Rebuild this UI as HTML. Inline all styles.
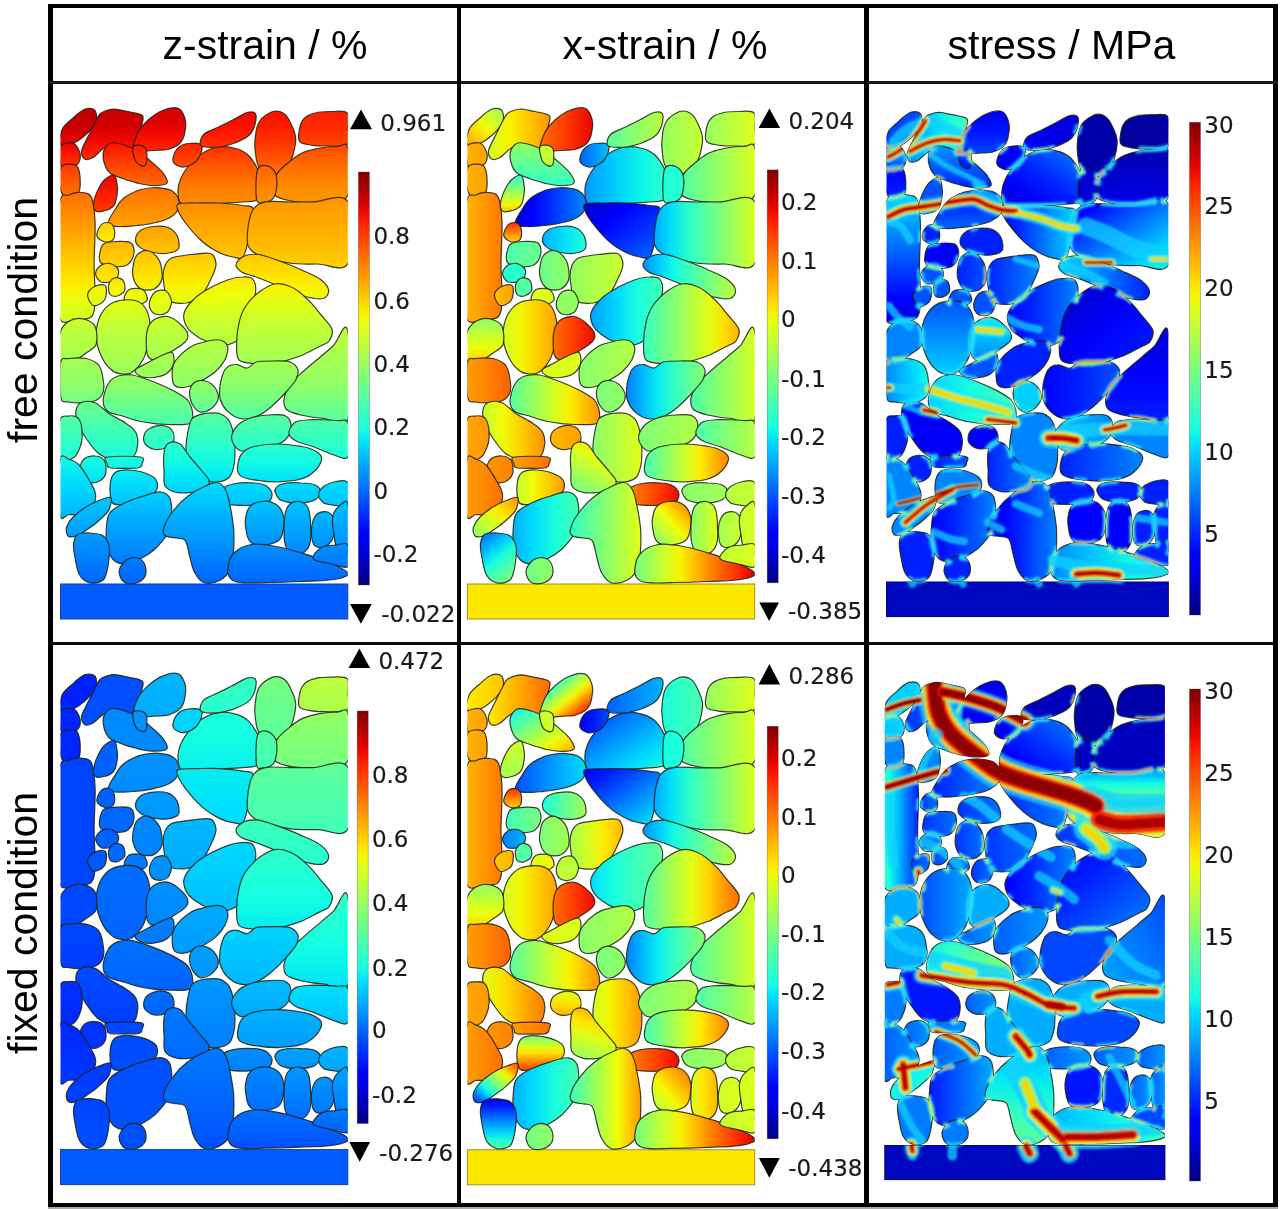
<!DOCTYPE html>
<html><head><meta charset="utf-8"><style>
html,body{margin:0;padding:0;background:#fff;}
body{width:1280px;height:1209px;position:relative;overflow:hidden;font-family:"Liberation Sans",Arial,sans-serif;}
.l{position:absolute;background:#000;}
.h{position:absolute;font-size:41px;line-height:1;white-space:nowrap;color:#000;}
.r{position:absolute;font-size:41px;line-height:1;white-space:nowrap;color:#000;transform-origin:0 0;transform:rotate(-90deg);}
svg{position:absolute;left:0;top:0;}
.w{position:absolute;left:0;top:0;width:1280px;height:1209px;}
</style></head><body>
<div class="w">
<svg width="1280" height="1209" viewBox="0 0 1280 1209"><defs><linearGradient id="gA0" x1="0" y1="0" x2="0" y2="1"><stop offset="0" stop-color="#bd0000"/><stop offset="0.5" stop-color="#c90000"/><stop offset="1" stop-color="#ee0500"/></linearGradient><linearGradient id="gA1" x1="0" y1="0" x2="0" y2="1"><stop offset="0" stop-color="#c90000"/><stop offset="0.33" stop-color="#d20000"/><stop offset="0.67" stop-color="#f40a00"/><stop offset="1" stop-color="#ff2d00"/></linearGradient><linearGradient id="gA2" x1="0" y1="0" x2="0" y2="1"><stop offset="0" stop-color="#d80000"/><stop offset="0.33" stop-color="#de0000"/><stop offset="0.67" stop-color="#f80d00"/><stop offset="1" stop-color="#ff2600"/></linearGradient><linearGradient id="gA3" x1="0" y1="0" x2="0" y2="1"><stop offset="0" stop-color="#e80000"/><stop offset="0.5" stop-color="#ff1900"/><stop offset="1" stop-color="#ff3700"/></linearGradient><linearGradient id="gA4" x1="0" y1="0" x2="0" y2="1"><stop offset="0" stop-color="#ff3300"/><stop offset="0.5" stop-color="#ff5a00"/><stop offset="1" stop-color="#ff7100"/></linearGradient><linearGradient id="gA5" x1="0" y1="0" x2="0" y2="1"><stop offset="0" stop-color="#ff6c00"/><stop offset="0.14" stop-color="#ff8600"/><stop offset="0.29" stop-color="#ffa000"/><stop offset="0.43" stop-color="#ffbb00"/><stop offset="0.57" stop-color="#ffd400"/><stop offset="0.71" stop-color="#feee00"/><stop offset="0.86" stop-color="#e5ff12"/><stop offset="1" stop-color="#cdff2a"/></linearGradient><linearGradient id="gA6" x1="0" y1="0" x2="0" y2="1"><stop offset="0" stop-color="#fd1100"/><stop offset="0.33" stop-color="#ff2f00"/><stop offset="0.67" stop-color="#ff5000"/><stop offset="1" stop-color="#ff6c00"/></linearGradient><linearGradient id="gA7" x1="0" y1="0" x2="0" y2="1"><stop offset="0" stop-color="#ff1800"/><stop offset="1" stop-color="#ff4200"/></linearGradient><linearGradient id="gA8" x1="0" y1="0" x2="0" y2="1"><stop offset="0" stop-color="#e70000"/><stop offset="0.5" stop-color="#ff1d00"/><stop offset="1" stop-color="#ff3500"/></linearGradient><linearGradient id="gA9" x1="0" y1="0" x2="0" y2="1"><stop offset="0" stop-color="#ff7000"/><stop offset="0.5" stop-color="#ff8900"/><stop offset="1" stop-color="#ffa100"/></linearGradient><linearGradient id="gA10" x1="0" y1="0" x2="0" y2="1"><stop offset="0" stop-color="#ff2f00"/><stop offset="0.33" stop-color="#ff5700"/><stop offset="0.67" stop-color="#ff7a00"/><stop offset="1" stop-color="#ff8e00"/></linearGradient><linearGradient id="gA11" x1="0" y1="0" x2="0" y2="1"><stop offset="0" stop-color="#ff1f00"/><stop offset="0.5" stop-color="#ff3600"/><stop offset="1" stop-color="#ff5100"/></linearGradient><linearGradient id="gA12" x1="0" y1="0" x2="0" y2="1"><stop offset="0" stop-color="#f00700"/><stop offset="0.5" stop-color="#ff1400"/><stop offset="1" stop-color="#ff3100"/></linearGradient><linearGradient id="gA13" x1="0" y1="0" x2="0" y2="1"><stop offset="0" stop-color="#fe1200"/><stop offset="0.25" stop-color="#ff1b00"/><stop offset="0.5" stop-color="#ff3600"/><stop offset="0.75" stop-color="#ff5300"/><stop offset="1" stop-color="#ff7200"/></linearGradient><linearGradient id="gA14" x1="0" y1="0" x2="0" y2="1"><stop offset="0" stop-color="#ff1f00"/><stop offset="0.5" stop-color="#ff2a00"/><stop offset="1" stop-color="#ff4700"/></linearGradient><linearGradient id="gA15" x1="0" y1="0" x2="0" y2="1"><stop offset="0" stop-color="#ff4500"/><stop offset="0.33" stop-color="#ff6800"/><stop offset="0.67" stop-color="#ff8700"/><stop offset="1" stop-color="#ff9700"/></linearGradient><linearGradient id="gA16" x1="0" y1="0" x2="0" y2="1"><stop offset="0" stop-color="#ff6100"/><stop offset="0.5" stop-color="#ff8100"/><stop offset="1" stop-color="#ff9200"/></linearGradient><linearGradient id="gA17" x1="0" y1="0" x2="0" y2="1"><stop offset="0" stop-color="#ff8c00"/><stop offset="0.33" stop-color="#ffa000"/><stop offset="0.67" stop-color="#ffb300"/><stop offset="1" stop-color="#ffca00"/></linearGradient><linearGradient id="gA18" x1="0" y1="0" x2="0" y2="1"><stop offset="0" stop-color="#ff9400"/><stop offset="0.25" stop-color="#ffa200"/><stop offset="0.5" stop-color="#ffb000"/><stop offset="0.75" stop-color="#ffbf00"/><stop offset="1" stop-color="#ffd300"/></linearGradient><linearGradient id="gA19" x1="0" y1="0" x2="0" y2="1"><stop offset="0" stop-color="#ffd200"/><stop offset="1" stop-color="#feed00"/></linearGradient><linearGradient id="gA20" x1="0" y1="0" x2="0" y2="1"><stop offset="0" stop-color="#ffa200"/><stop offset="0.5" stop-color="#ffb200"/><stop offset="1" stop-color="#ffc500"/></linearGradient><linearGradient id="gA21" x1="0" y1="0" x2="0" y2="1"><stop offset="0" stop-color="#ffb400"/><stop offset="0.5" stop-color="#ffc600"/><stop offset="1" stop-color="#ffd600"/></linearGradient><linearGradient id="gA22" x1="0" y1="0" x2="0" y2="1"><stop offset="0" stop-color="#ffc200"/><stop offset="0.5" stop-color="#ffdb00"/><stop offset="1" stop-color="#f6f701"/></linearGradient><linearGradient id="gA23" x1="0" y1="0" x2="0" y2="1"><stop offset="0" stop-color="#ffc500"/><stop offset="0.33" stop-color="#ffdb00"/><stop offset="0.67" stop-color="#f9f300"/><stop offset="1" stop-color="#e2ff14"/></linearGradient><linearGradient id="gA24" x1="0" y1="0" x2="0" y2="1"><stop offset="0" stop-color="#ffc700"/><stop offset="0.33" stop-color="#ffda00"/><stop offset="0.67" stop-color="#fdef00"/><stop offset="1" stop-color="#e9ff0e"/></linearGradient><linearGradient id="gA25" x1="0" y1="0" x2="0" y2="1"><stop offset="0" stop-color="#ffd300"/><stop offset="1" stop-color="#ffec00"/></linearGradient><linearGradient id="gA26" x1="0" y1="0" x2="0" y2="1"><stop offset="0" stop-color="#ffe500"/><stop offset="1" stop-color="#ecff0b"/></linearGradient><linearGradient id="gA27" x1="0" y1="0" x2="0" y2="1"><stop offset="0" stop-color="#f9f300"/><stop offset="1" stop-color="#dfff18"/></linearGradient><linearGradient id="gA28" x1="0" y1="0" x2="0" y2="1"><stop offset="0" stop-color="#f4f802"/><stop offset="1" stop-color="#dfff17"/></linearGradient><linearGradient id="gA29" x1="0" y1="0" x2="0" y2="1"><stop offset="0" stop-color="#f3fa04"/><stop offset="0.5" stop-color="#e3ff14"/><stop offset="1" stop-color="#d3ff24"/></linearGradient><linearGradient id="gA30" x1="0" y1="0" x2="0" y2="1"><stop offset="0" stop-color="#ffe400"/><stop offset="0.25" stop-color="#efff08"/><stop offset="0.5" stop-color="#d8ff1f"/><stop offset="0.75" stop-color="#c1ff36"/><stop offset="1" stop-color="#b1ff45"/></linearGradient><linearGradient id="gA31" x1="0" y1="0" x2="0" y2="1"><stop offset="0" stop-color="#e6ff11"/><stop offset="0.25" stop-color="#cdff29"/><stop offset="0.5" stop-color="#b7ff40"/><stop offset="0.75" stop-color="#a9ff4d"/><stop offset="1" stop-color="#98ff5f"/></linearGradient><linearGradient id="gA32" x1="0" y1="0" x2="0" y2="1"><stop offset="0" stop-color="#d0ff27"/><stop offset="0.33" stop-color="#bdff39"/><stop offset="0.67" stop-color="#b2ff45"/><stop offset="1" stop-color="#a6ff51"/></linearGradient><linearGradient id="gA33" x1="0" y1="0" x2="0" y2="1"><stop offset="0" stop-color="#cdff2a"/><stop offset="0.33" stop-color="#bbff3c"/><stop offset="0.67" stop-color="#b1ff46"/><stop offset="1" stop-color="#a5ff52"/></linearGradient><linearGradient id="gA34" x1="0" y1="0" x2="0" y2="1"><stop offset="0" stop-color="#fdef00"/><stop offset="0.25" stop-color="#e1ff15"/><stop offset="0.5" stop-color="#c7ff30"/><stop offset="0.75" stop-color="#b2ff44"/><stop offset="1" stop-color="#a2ff55"/></linearGradient><linearGradient id="gA35" x1="0" y1="0" x2="0" y2="1"><stop offset="0" stop-color="#beff39"/><stop offset="0.2" stop-color="#afff47"/><stop offset="0.4" stop-color="#a0ff57"/><stop offset="0.6" stop-color="#8fff68"/><stop offset="0.8" stop-color="#70ff87"/><stop offset="1" stop-color="#51ffa6"/></linearGradient><linearGradient id="gA36" x1="0" y1="0" x2="0" y2="1"><stop offset="0" stop-color="#a7ff50"/><stop offset="0.33" stop-color="#99ff5e"/><stop offset="0.67" stop-color="#8aff6c"/><stop offset="1" stop-color="#6eff89"/></linearGradient><linearGradient id="gA37" x1="0" y1="0" x2="0" y2="1"><stop offset="0" stop-color="#97ff60"/><stop offset="0.33" stop-color="#83ff74"/><stop offset="0.67" stop-color="#63ff94"/><stop offset="1" stop-color="#48ffaf"/></linearGradient><linearGradient id="gA38" x1="0" y1="0" x2="0" y2="1"><stop offset="0" stop-color="#acff4a"/><stop offset="0.5" stop-color="#a1ff56"/><stop offset="1" stop-color="#95ff62"/></linearGradient><linearGradient id="gA39" x1="0" y1="0" x2="0" y2="1"><stop offset="0" stop-color="#b5ff42"/><stop offset="0.33" stop-color="#a9ff4d"/><stop offset="0.67" stop-color="#9bff5c"/><stop offset="1" stop-color="#8cff6b"/></linearGradient><linearGradient id="gA40" x1="0" y1="0" x2="0" y2="1"><stop offset="0" stop-color="#92ff65"/><stop offset="0.5" stop-color="#7aff7d"/><stop offset="1" stop-color="#5cff9b"/></linearGradient><linearGradient id="gA41" x1="0" y1="0" x2="0" y2="1"><stop offset="0" stop-color="#a4ff52"/><stop offset="0.33" stop-color="#92ff65"/><stop offset="0.67" stop-color="#73ff83"/><stop offset="1" stop-color="#51ffa6"/></linearGradient><linearGradient id="gA42" x1="0" y1="0" x2="0" y2="1"><stop offset="0" stop-color="#6eff88"/><stop offset="0.33" stop-color="#4dffaa"/><stop offset="0.67" stop-color="#2fffc8"/><stop offset="1" stop-color="#14fee3"/></linearGradient><linearGradient id="gA43" x1="0" y1="0" x2="0" y2="1"><stop offset="0" stop-color="#55ffa1"/><stop offset="0.33" stop-color="#40ffb7"/><stop offset="0.67" stop-color="#2bffcc"/><stop offset="1" stop-color="#17ffe0"/></linearGradient><linearGradient id="gA44" x1="0" y1="0" x2="0" y2="1"><stop offset="0" stop-color="#47ffb0"/><stop offset="0.5" stop-color="#35ffc2"/><stop offset="1" stop-color="#24ffd3"/></linearGradient><linearGradient id="gA45" x1="0" y1="0" x2="0" y2="1"><stop offset="0" stop-color="#59ff9e"/><stop offset="0.25" stop-color="#3fffb8"/><stop offset="0.5" stop-color="#26ffd1"/><stop offset="0.75" stop-color="#0ff8e8"/><stop offset="1" stop-color="#00defd"/></linearGradient><linearGradient id="gA46" x1="0" y1="0" x2="0" y2="1"><stop offset="0" stop-color="#57ffa0"/><stop offset="0.5" stop-color="#3cffbb"/><stop offset="1" stop-color="#22ffd4"/></linearGradient><linearGradient id="gA47" x1="0" y1="0" x2="0" y2="1"><stop offset="0" stop-color="#50ffa7"/><stop offset="0.5" stop-color="#34ffc3"/><stop offset="1" stop-color="#1affdd"/></linearGradient><linearGradient id="gA48" x1="0" y1="0" x2="0" y2="1"><stop offset="0" stop-color="#2bffcc"/><stop offset="0.5" stop-color="#11fbe6"/><stop offset="1" stop-color="#00defd"/></linearGradient><linearGradient id="gA49" x1="0" y1="0" x2="0" y2="1"><stop offset="0" stop-color="#1affdc"/><stop offset="0.5" stop-color="#0af2ed"/><stop offset="1" stop-color="#00defd"/></linearGradient><linearGradient id="gA50" x1="0" y1="0" x2="0" y2="1"><stop offset="0" stop-color="#16ffe1"/><stop offset="0.33" stop-color="#00e4f8"/><stop offset="0.67" stop-color="#00ccff"/><stop offset="1" stop-color="#00b4ff"/></linearGradient><linearGradient id="gA51" x1="0" y1="0" x2="0" y2="1"><stop offset="0" stop-color="#09f0ee"/><stop offset="0.5" stop-color="#00d7ff"/><stop offset="1" stop-color="#00c2ff"/></linearGradient><linearGradient id="gA52" x1="0" y1="0" x2="0" y2="1"><stop offset="0" stop-color="#2dffca"/><stop offset="0.33" stop-color="#16ffe1"/><stop offset="0.67" stop-color="#01e7f6"/><stop offset="1" stop-color="#00d0ff"/></linearGradient><linearGradient id="gA53" x1="0" y1="0" x2="0" y2="1"><stop offset="0" stop-color="#00ddfe"/><stop offset="0.5" stop-color="#00ceff"/><stop offset="1" stop-color="#00c0ff"/></linearGradient><linearGradient id="gA54" x1="0" y1="0" x2="0" y2="1"><stop offset="0" stop-color="#00ddfe"/><stop offset="0.5" stop-color="#00d0ff"/><stop offset="1" stop-color="#00c3ff"/></linearGradient><linearGradient id="gA55" x1="0" y1="0" x2="0" y2="1"><stop offset="0" stop-color="#00defd"/><stop offset="0.5" stop-color="#00cfff"/><stop offset="1" stop-color="#00c0ff"/></linearGradient><linearGradient id="gA56" x1="0" y1="0" x2="0" y2="1"><stop offset="0" stop-color="#00caff"/><stop offset="0.5" stop-color="#00b2ff"/><stop offset="1" stop-color="#009bff"/></linearGradient><linearGradient id="gA57" x1="0" y1="0" x2="0" y2="1"><stop offset="0" stop-color="#00d1ff"/><stop offset="0.25" stop-color="#00baff"/><stop offset="0.5" stop-color="#00a4ff"/><stop offset="0.75" stop-color="#008fff"/><stop offset="1" stop-color="#0078ff"/></linearGradient><linearGradient id="gA58" x1="0" y1="0" x2="0" y2="1"><stop offset="0" stop-color="#00ddfe"/><stop offset="0.17" stop-color="#00c8ff"/><stop offset="0.33" stop-color="#00b2ff"/><stop offset="0.5" stop-color="#009fff"/><stop offset="0.67" stop-color="#008cff"/><stop offset="0.83" stop-color="#0076ff"/><stop offset="1" stop-color="#0066ff"/></linearGradient><linearGradient id="gA59" x1="0" y1="0" x2="0" y2="1"><stop offset="0" stop-color="#00c5ff"/><stop offset="0.33" stop-color="#00b2ff"/><stop offset="0.67" stop-color="#00a1ff"/><stop offset="1" stop-color="#0090ff"/></linearGradient><linearGradient id="gA60" x1="0" y1="0" x2="0" y2="1"><stop offset="0" stop-color="#00c5ff"/><stop offset="0.33" stop-color="#00afff"/><stop offset="0.67" stop-color="#009bff"/><stop offset="1" stop-color="#0086ff"/></linearGradient><linearGradient id="gA61" x1="0" y1="0" x2="0" y2="1"><stop offset="0" stop-color="#00b8ff"/><stop offset="0.5" stop-color="#00a3ff"/><stop offset="1" stop-color="#008fff"/></linearGradient><linearGradient id="gA62" x1="0" y1="0" x2="0" y2="1"><stop offset="0" stop-color="#00c1ff"/><stop offset="0.33" stop-color="#00adff"/><stop offset="0.67" stop-color="#009aff"/><stop offset="1" stop-color="#0087ff"/></linearGradient><linearGradient id="gA63" x1="0" y1="0" x2="0" y2="1"><stop offset="0" stop-color="#009eff"/><stop offset="0.33" stop-color="#008bff"/><stop offset="0.67" stop-color="#0075ff"/><stop offset="1" stop-color="#0066ff"/></linearGradient><linearGradient id="gA64" x1="0" y1="0" x2="0" y2="1"><stop offset="0" stop-color="#0081ff"/><stop offset="0.5" stop-color="#0070ff"/><stop offset="1" stop-color="#0066ff"/></linearGradient><linearGradient id="gA65" x1="0" y1="0" x2="0" y2="1"><stop offset="0" stop-color="#0091ff"/><stop offset="0.5" stop-color="#0079ff"/><stop offset="1" stop-color="#0066ff"/></linearGradient><linearGradient id="gA66" x1="0" y1="0" x2="0" y2="1"><stop offset="0" stop-color="#0091ff"/><stop offset="0.5" stop-color="#0083ff"/><stop offset="1" stop-color="#0075ff"/></linearGradient><linearGradient id="gA67" x1="0" y1="0" x2="0" y2="1"><stop offset="0" stop-color="#19ffde"/><stop offset="1" stop-color="#0bf3ec"/></linearGradient><clipPath id="pcA"><rect x="467.4" y="90" width="287.3" height="540"/></clipPath></defs><g transform="translate(60.50 584.00) scale(1.0000 1.0000) translate(-467.40 -584.00)"><rect x="467.4" y="584" width="287.3" height="35" fill="#005cff" stroke="#1040a0" stroke-width="1"/><g clip-path="url(#pcA)"><g transform="scale(.5)" stroke="#1c2010" stroke-width="2.4" stroke-opacity="0.85"><path d="M933 277c1-6 3-15 7-22 5-7 13-13 20-19 7-7 17-15 24-18 8-2 16-1 20 3 3 4 4 15 2 22 -2 7-9 14-14 20 -6 6-13 12-20 17 -6 4-13 8-19 9 -6 2-14 2-17 0 -3-2-4-6-3-12z" fill="url(#gA0)"/><path d="M977 301c2-8 10-22 15-32 5-10 10-21 14-28 4-7 4-11 10-15 6-4 16-7 25-8 9 0 20 4 29 5 8 2 17 3 22 5 5 2 9 2 8 9 0 7-7 24-9 34 -3 10-1 20-5 25 -5 5-12 5-21 5 -10 0-26-9-37-7 -11 2-21 17-28 21 -7 4-13 5-17 3 -4-3-7-9-6-17z" fill="url(#gA1)"/><path d="M1080 295c0-6 6-22 10-31 5-9 12-17 20-24 8-7 19-15 29-19 9-4 23-7 30-5 7 2 10 8 13 16 3 7 4 20 2 29 -1 9-4 19-10 25 -5 6-15 10-24 13 -9 2-19 1-29 2 -10 1-22 2-29 1 -7-1-11-1-12-7z" fill="url(#gA2)"/><path d="M933 292c5-5 21-8 27-6 7 3 12 14 14 21 1 7 0 17-6 22 -6 4-24 8-30 5 -5-2-4-14-5-21 -1-7-4-17 0-21z" fill="url(#gA3)"/><path d="M936 334c5-7 23-7 30-3 6 3 7 14 8 23 0 9 2 24-3 31 -5 6-21 11-27 8 -7-3-10-14-11-24 -1-10-3-29 3-35z" fill="url(#gA4)"/><path d="M933 405c4-23 11-12 18-15 7-4 17-6 25-5 8 1 16 0 21 10 4 10 6 26 7 49 1 22-2 58-2 84 0 26 3 53 2 71 -1 17-1 28-8 35 -6 6-19 4-30 5 -10 0-27 15-33-3 -6-18-2-69-2-108 0-38-1-100 2-123z" fill="url(#gA5)"/><path d="M1020 307c1-9 8-18 15-21 8-2 21 2 30 5 10 3 20 8 29 15 10 6 21 16 29 23 8 7 15 13 19 20 4 6 8 13 6 17 -3 4-13 5-22 5 -10 1-23-2-34-4 -11-3-23-6-33-10 -10-4-23-6-29-15 -7-8-11-25-10-35z" fill="url(#gA6)"/><path d="M1080 293c3-5 21-3 25 3 4 6 3 30 0 34 -3 5-15 0-19-6 -4-6-9-26-6-31z" fill="url(#gA7)"/><path d="M1001 406c1-7 6-21 10-29 4-8 9-16 15-20 5-4 13-9 17-6 4 4 5 18 6 27 0 9-3 23-5 29 -3 7-5 8-11 11 -6 3-21 7-26 5 -6-2-7-9-6-17z" fill="url(#gA8)"/><path d="M1030 448c-1-6 8-20 14-29 5-9 11-18 19-24 8-7 19-11 29-15 10-3 23-5 34-5 10 1 21 2 29 5 7 4 13 9 15 16 3 7 1 19-2 26 -3 6-10 11-18 15 -7 4-18 7-29 9 -10 3-22 4-33 5 -11 1-23 3-33 2 -10 0-23 1-25-5z" fill="url(#gA9)"/><path d="M1170 388c-1-9 1-21 5-30 3-8 8-16 14-24 7-8 15-17 24-24 9-6 18-12 29-14 11-3 28-3 39 0 11 2 21 7 29 14 8 8 15 19 20 30 4 10 9 24 9 34 0 10-3 20-10 25 -7 5-17 4-30 5 -13 1-31 2-47 3 -15 0-34 1-47 2 -12 0-21 3-27 0 -6-4-8-13-8-21z" fill="url(#gA10)"/><path d="M1160 323c-2-5 2-16 5-21 4-6 9-11 16-13 6-3 19-3 25-3 6 1 11 2 12 6 1 5-2 16-6 22 -3 6-9 12-15 15 -6 3-14 6-20 5 -7-1-15-6-17-11z" fill="url(#gA11)"/><path d="M1214 288c0-5 2-14 8-20 6-5 19-9 29-14 9-5 19-9 28-14 10-5 21-13 29-15 8-2 15-1 17 3 3 5 0 17-2 24 -3 8-6 15-13 20 -7 6-19 11-29 15 -9 3-19 6-29 7 -9 1-22 1-29 0 -6-1-9-2-9-6z" fill="url(#gA12)"/><path d="M1325 270c1-11 4-22 9-29 6-8 18-15 25-18 8-2 15-1 21 3 6 3 11 11 15 20 4 8 9 18 10 29 1 10-2 23-5 34 -3 10-8 22-15 29 -6 7-17 10-25 10 -9 0-20-3-26-10 -5-7-8-18-9-30 -2-11-2-27 0-38z" fill="url(#gA13)"/><path d="M1411 270c1-7 2-22 8-29 5-8 15-13 25-15 9-3 22-3 33-3 11 0 25-3 31 3 5 5 2 20 2 30 0 11 6 27-2 33 -8 6-32 3-45 3 -13 0-25-1-33-3 -8-1-13-2-16-5 -3-3-4-6-3-14z" fill="url(#gA14)"/><path d="M1360 378c0-7 2-20 7-29 5-9 15-17 24-24 9-8 18-15 29-20 10-4 22-7 33-9 11-2 24-3 34-3 9 1 19-13 23 3 4 16 7 76 0 93 -7 18-26 10-42 13 -16 2-38 3-52 2 -14 0-24-2-33-5 -9-2-17-6-21-10 -3-3-3-4-2-11z" fill="url(#gA15)"/><path d="M1329 339c4-11 16-9 23-6 6 3 14 11 15 21 2 10 0 31-5 40 -4 8-15 10-21 10 -6 1-12 6-14-5 -2-11-2-49 2-60z" fill="url(#gA16)"/><path d="M1169 409c6-4 22-3 36-3 14 0 32-1 47 0 16 1 36 3 48 5 11 2 18-1 21 8 2 8-4 29-8 44 -3 16-6 40-12 49 -5 8-12 4-21 2 -9-1-23-6-34-12 -11-6-23-14-33-24 -10-9-22-24-29-33 -6-8-9-13-12-19 -2-6-8-14-3-17z" fill="url(#gA17)"/><path d="M1310 453c2-12 4-26 10-34 6-9 13-13 25-15 12-3 32 0 48 0 15 0 27 0 47 0 19 0 58-21 70 0 12 20 10 101 0 122 -10 21-41 2-61 2 -20 0-38 1-57-2 -19-3-43-9-57-14 -13-6-20-10-25-20 -4-10-1-27 0-39z" fill="url(#gA18)"/><path d="M1008 473c-2-5 2-15 5-19 3-5 9-9 14-9 5 0 12 3 14 9 3 6 3 19 0 24 -2 5-11 7-17 6 -5-1-14-6-16-11z" fill="url(#gA19)"/><path d="M1085 476c1-5 5-12 11-16 6-4 16-6 25-7 9-1 21-1 29 2 8 3 14 9 18 16 3 7 6 20 3 26 -4 6-16 9-26 10 -10 1-25-2-34-4 -9-3-16-6-20-11 -5-4-7-10-6-16z" fill="url(#gA20)"/><path d="M1013 509c1-6 2-16 8-21 5-4 15-4 25-5 9 0 24-2 30 3 6 4 7 17 5 24 -1 7-7 17-15 21 -8 3-21 3-30 2 -8-1-17-4-21-8 -3-4-3-10-2-16z" fill="url(#gA21)"/><path d="M1081 528c1-9 5-17 10-21 5-4 14-8 21-5 7 2 16 11 21 20 4 9 6 26 5 35 -2 9-9 17-16 21 -7 3-19 3-26 0 -7-4-13-13-15-21 -3-8-2-21 0-29z" fill="url(#gA22)"/><path d="M1142 537c2-9 6-16 15-21 9-4 26-5 39-7 13-1 31-5 39-2 8 3 10 12 11 21 0 8-5 19-10 29 -5 11-11 26-20 34 -8 8-18 13-29 15 -11 1-28 1-35-5 -8-6-9-20-10-30 -2-11-3-25 0-34z" fill="url(#gA23)"/><path d="M1286 528c1-6 9-13 17-16 7-4 18-4 29-3 11 2 24 7 38 12 14 5 33 12 47 19 14 6 29 12 38 19 9 7 15 14 16 21 1 6-3 15-11 17 -9 2-25-1-40-5 -14-4-31-13-47-19 -16-7-34-14-47-19 -12-5-22-5-29-10 -6-4-12-11-11-16z" fill="url(#gA24)"/><path d="M1005 547c0-6 6-13 11-17 6-3 16-4 21-2 6 2 13 8 14 14 1 5-2 15-8 19 -6 4-20 5-27 3 -6-3-11-12-11-17z" fill="url(#gA25)"/><path d="M1031 570c2-6 7-13 12-14 4-2 14 1 17 5 3 5 5 15 3 20 -2 5-9 9-14 11 -5 1-12 1-15-3 -3-4-4-14-3-19z" fill="url(#gA26)"/><path d="M989 589c1-7 10-14 16-17 6-2 17-4 20 0 3 5 2 22-2 28 -5 7-17 13-23 11 -5-2-12-16-11-22z" fill="url(#gA27)"/><path d="M1062 598c0-5 4-15 10-19 7-3 21-3 27 0 6 4 11 15 9 21 -2 5-13 9-19 10 -7 2-17 2-21 0 -5-2-7-6-6-12z" fill="url(#gA28)"/><path d="M1113 603c2-7 6-15 11-19 5-3 16-6 22-2 5 3 10 14 11 21 0 7-4 17-8 21 -5 4-14 6-19 5 -6 0-11-3-14-8 -3-4-4-12-3-18z" fill="url(#gA29)"/><path d="M1181 631c1-8 6-17 13-25 7-8 17-17 29-24 11-7 25-14 38-19 12-5 28-9 38-9 10-1 17 0 21 5 4 5 6 15 5 25 -1 11-5 26-9 39 -4 12-9 27-15 38 -5 10-10 19-19 24 -9 5-24 7-35 5 -11-1-24-9-34-14 -9-6-19-12-24-20 -5-7-8-17-8-25z" fill="url(#gA30)"/><path d="M1006 669c0-13 4-29 9-39 6-11 14-20 25-25 11-5 29-6 39-5 11 2 20 7 25 15 6 9 9 22 10 35 1 12-2 28-5 40 -2 11-4 20-9 29 -5 9-13 19-20 24 -6 5-13 6-20 5 -8 0-18-3-25-10 -8-6-15-17-20-29 -5-11-9-27-9-40z" fill="url(#gA31)"/><path d="M1109 658c3-10 8-16 15-20 7-4 17-6 25-5 9 2 19 9 25 15 7 6 14 14 15 20 2 6 0 11-5 16 -5 5-16 12-24 17 -8 5-17 11-24 14 -8 3-17 6-21 3 -5-3-8-9-8-19 -1-10-1-30 2-41z" fill="url(#gA32)"/><path d="M933 668c3-13 10-20 18-25 8-5 21-7 30-5 9 2 19 7 23 15 4 9 5 27 2 36 -3 8-13 12-20 17 -6 4-10 9-19 12 -9 2-28 11-34 2 -6-8-3-39 0-52z" fill="url(#gA33)"/><path d="M1292 645c3-13 7-24 14-34 7-10 19-22 29-29 10-7 19-13 29-14 10-2 19 0 30 5 10 4 23 14 33 24 11 9 20 22 29 33 8 10 19 20 22 29 2 8-2 17-6 23 -3 5-8 5-17 10 -9 4-24 13-38 19 -14 5-31 11-47 14 -16 3-35 3-48 2 -13-1-24-1-30-7 -6-7-5-18-5-31 0-12 2-31 5-44z" fill="url(#gA34)"/><path d="M1509 661c6 24 9 147 1 176 -8 30-31 1-47 0 -16-1-35-4-48-7 -12-3-24-6-29-12 -6-7-5-18-3-26 2-8 6-16 12-24 6-9 15-16 24-24 10-9 23-20 33-28 10-9 18-15 28-24 10-9 24-55 29-31z" fill="url(#gA35)"/><path d="M935 725c3-13 8-6 17-8 8-1 24-2 34 0 9 2 19 6 25 13 5 7 8 19 9 29 2 10 2 23-2 30 -4 8-12 13-23 15 -11 3-34 2-44 0 -10-1-13 3-16-10 -2-13-2-56 0-69z" fill="url(#gA36)"/><path d="M1020 802c0-9 5-26 10-34 5-9 11-13 20-16 8-2 17-4 29-2 12 2 29 9 43 14 13 5 26 11 38 17 11 6 22 12 29 19 6 8 9 17 10 25 0 8 3 18-6 22 -8 4-29 2-44 2 -15 0-32-2-47-5 -15-2-31-8-43-12 -12-3-22-4-29-9 -7-5-10-12-10-21z" fill="url(#gA37)"/><path d="M1084 740c2-4 17-10 26-15 9-5 21-11 29-15 8-3 16-8 19-5 4 3 5 15 3 23 -2 7-8 15-15 20 -7 4-17 6-25 7 -8 1-19 0-25-2 -6-3-14-8-12-13z" fill="url(#gA38)"/><path d="M1158 745c0-8 2-16 7-24 6-8 16-18 25-24 9-7 18-10 29-12 10-3 25-7 34-5 8 1 14 7 16 13 2 7-1 17-5 26 -4 8-11 17-19 24 -8 7-20 14-29 19 -10 5-20 10-29 12 -9 2-19 2-24-3 -5-4-5-17-5-26z" fill="url(#gA39)"/><path d="M1193 783c1-8 5-15 11-19 5-3 14-4 21-2 7 2 16 9 20 15 4 6 7 14 5 21 -1 7-9 16-15 20 -6 5-15 7-21 6 -6-2-12-9-16-16 -3-7-6-18-5-25z" fill="url(#gA40)"/><path d="M1254 769c2-10 5-23 10-30 5-7 13-10 21-10 7-1 16 8 23 7 7-1 10-9 18-12 9-2 23-2 34-2 11 0 26-1 34 2 8 3 14 10 16 16 1 6-1 13-5 21 -5 7-12 15-20 24 -8 9-19 20-28 28 -10 8-18 15-29 19 -10 5-24 7-34 5 -10-1-18-8-25-14 -7-7-12-16-15-25 -2-9-1-20 0-29z" fill="url(#gA41)"/><path d="M966 820c1-8 7-14 13-16 7-2 17-2 26 2 9 4 18 15 28 22 11 7 24 12 33 19 9 6 16 11 20 19 4 9 4 22 2 30 -1 9-5 16-12 21 -8 4-20 6-30 5 -11-2-25-8-35-15 -9-7-17-19-24-29 -6-9-13-19-16-28 -4-10-7-22-5-30z" fill="url(#gA42)"/><path d="M933 843c3-15 13-10 19-11 6-1 14-1 19 5 4 6 7 20 7 30 1 10-1 21-5 30 -3 8-8 17-15 20 -7 3-21 12-25 0 -4-12-3-60 0-74z" fill="url(#gA43)"/><path d="M1102 871c1-5 6-12 13-15 6-4 18-6 25-5 7 1 15 5 18 10 4 6 5 16 3 22 -2 5-9 10-16 13 -6 2-18 4-25 2 -7-1-12-6-16-10 -3-5-4-11-2-17z" fill="url(#gA44)"/><path d="M1189 867c2-11 4-23 9-30 6-6 16-8 25-10 10-1 22-2 30 0 8 3 15 7 20 16 5 9 8 25 10 38 1 14 1 31 0 43 -2 12-4 23-10 30 -6 6-16 9-25 10 -9 1-21 0-30-5 -9-5-19-15-25-25 -5-9-6-22-7-34 -1-11 1-22 3-33z" fill="url(#gA45)"/><path d="M1277 877c-1-8 5-19 11-25 5-7 14-11 24-15 11-4 26-6 38-7 13-1 28-2 35 2 8 4 11 14 11 21 0 8-4 19-11 26 -6 6-18 11-29 14 -10 4-23 6-33 8 -11 1-23 3-30 0 -8-4-15-16-16-24z" fill="url(#gA46)"/><path d="M1392 862c2-5 5-14 13-18 8-4 21-4 35-5 13 0 35 1 47 2 12 2 19-6 23 6 4 12 6 56 0 66 -5 10-22-2-34-5 -11-4-26-11-37-15 -11-4-21-6-29-9 -7-3-12-7-15-10 -3-4-4-7-3-12z" fill="url(#gA47)"/><path d="M1289 933c1-7 2-18 8-25 5-7 13-12 25-15 12-3 31-5 47-5 16 0 35 3 48 5 13 2 22 5 29 10 7 4 12 9 11 16 -1 7-8 19-16 25 -7 7-17 12-29 15 -12 3-29 4-43 5 -13 0-27-1-38-3 -10-1-17-2-23-4 -7-2-13-4-16-8 -3-4-4-9-3-16z" fill="url(#gA48)"/><path d="M973 937c1-6 5-16 10-20 5-4 15-6 21-5 7 0 15 4 19 10 3 6 4 19 2 26 -2 7-9 13-16 16 -6 2-15 2-20 0 -6-2-11-6-13-11 -3-4-4-10-3-16z" fill="url(#gA49)"/><path d="M933 921c3-18 13-4 20-2 6 1 13 5 20 12 6 7 14 20 19 29 5 9 10 16 12 24 2 8 1 18-3 25 -3 8-11 15-20 18 -8 3-21 2-29 2 -8 1-16 18-19 0 -3-18-3-89 0-108z" fill="url(#gA50)"/><path d="M1034 970c1-10 3-20 10-25 7-5 19-6 30-5 12 1 30 5 39 10 9 4 14 9 15 15 2 6 0 15-5 21 -5 6-15 12-25 15 -9 4-23 7-33 7 -10 1-21 4-26-2 -5-7-6-26-5-36z" fill="url(#gA51)"/><path d="M1142 904c1-9 5-16 10-18 6-3 15-2 22 2 7 5 12 16 19 25 7 8 17 20 24 28 6 8 13 14 15 20 1 6 0 12-6 16 -6 5-20 7-30 8 -10 1-20 2-29 0 -9-2-19-6-23-13 -4-7-2-18-2-29 -1-12-2-29 0-39z" fill="url(#gA52)"/><path d="M1259 978c3-4 10-8 21-10 10-2 31-3 43-2 11 0 19 3 25 7 5 4 10 11 10 16 0 6-2 13-11 17 -8 3-26 4-39 5 -13 0-30 0-38-3 -9-2-9-8-11-13 -2-5-4-12 0-17z" fill="url(#gA53)"/><path d="M1364 979c2-4 5-9 14-11 8-2 27-3 38-2 12 0 24 1 30 5 6 3 9 9 9 14 -1 5-6 13-14 16 -8 4-24 5-34 5 -11 0-23-2-30-5 -6-2-8-7-10-10 -2-4-5-8-3-12z" fill="url(#gA54)"/><path d="M1451 989c0-5 4-11 10-16 6-4 17-9 25-10 8-1 20-5 24 3 4 8 4 37 0 45 -4 7-16 1-24 0 -8-1-19-2-25-5 -5-4-10-11-10-17z" fill="url(#gA55)"/><path d="M947 1054c2-6 6-13 13-20 6-6 15-13 24-19 8-5 20-11 28-14 9-3 20-9 23-6 3 3 0 16-3 24 -3 7-10 13-17 19 -7 7-16 14-24 19 -8 6-17 12-24 15 -7 2-14 3-17 0 -3-3-5-11-3-18z" fill="url(#gA56)"/><path d="M1027 1050c1-11 1-17 7-25 6-7 18-14 29-19 12-6 26-11 38-14 12-4 26-9 35-8 8 1 14 5 18 13 3 9 4 27 2 40 -1 12-4 23-9 33 -6 11-16 21-24 29 -9 8-19 14-29 19 -10 5-20 10-29 10 -10 0-20-3-26-10 -6-7-10-18-12-30 -2-11-1-28 0-38z" fill="url(#gA57)"/><path d="M1142 1055c2-9 11-24 19-34 8-11 18-21 29-29 10-8 23-15 33-19 10-5 18-9 25-8 7 1 12 6 16 13 4 7 7 17 9 30 3 12 6 31 8 47 1 16 1 33 0 47 -2 14-3 29-8 39 -4 9-11 15-20 20 -8 4-21 7-30 5 -8-3-15-12-20-21 -5-9-7-22-10-33 -3-11-4-25-9-31 -4-6-10-3-17-5 -7-1-18-1-23-5 -4-3-5-8-2-16z" fill="url(#gA58)"/><path d="M1306 1031c1-8 5-16 10-20 5-5 13-7 20-8 8-1 18-1 25 3 7 3 15 12 18 20 3 8 4 20 2 29 -1 10-3 20-10 26 -6 5-20 9-30 9 -9 1-19 0-25-5 -6-5-9-16-10-25 -2-9-2-21 0-29z" fill="url(#gA59)"/><path d="M1383 1036c1-12 3-20 8-25 4-6 14-9 21-8 7 1 14 4 18 13 4 9 5 27 5 39 1 12 1 25-2 34 -3 9-9 15-16 18 -6 3-15 4-21 0 -6-4-11-11-13-23 -2-12-1-36 0-48z" fill="url(#gA60)"/><path d="M1437 1055c1-10 5-21 10-26 5-5 16-7 22-5 6 2 11 8 13 16 2 9 1 26-2 35 -3 9-10 15-16 18 -6 2-17 4-22-3 -5-6-6-25-5-35z" fill="url(#gA61)"/><path d="M1479 1036c1-9 5-16 10-21 6-4 18-21 21-6 4 15 4 81 0 96 -3 15-16 0-21-6 -5-6-6-19-7-30 -2-10-4-24-3-33z" fill="url(#gA62)"/><path d="M961 1087c1-8 3-15 8-18 6-4 17-3 25-3 9 1 19 1 25 5 7 5 11 11 13 21 2 10 0 27-2 39 -2 11-4 24-10 29 -6 6-19 7-26 6 -8-2-16-7-21-16 -5-8-7-23-9-34 -2-10-4-21-3-29z" fill="url(#gA63)"/><path d="M1052 1144c0-7 6-16 11-21 5-5 14-8 21-8 6 1 15 5 18 11 4 6 5 17 3 24 -2 6-9 13-16 15 -7 3-20 4-26 0 -6-3-11-14-11-21z" fill="url(#gA64)"/><path d="M1271 1130c1-9 5-19 12-25 7-7 19-13 29-15 11-3 21-2 34 0 14 1 32 5 47 9 16 4 33 10 47 14 15 5 27 9 38 15 12 5 29 13 32 18 3 5-5 7-13 10 -8 2-20 4-34 5 -13 1-27 1-47 2 -19 1-50 2-70 2 -21 1-40 2-52 0 -12-1-17-4-21-10 -4-6-4-17-2-25z" fill="url(#gA65)"/><path d="M1440 1117c-3-5 9-18 17-22 8-5 20-4 29-5 9-1 20-7 24 0 4 7 6 37 0 43 -5 6-22-3-33-5 -12-3-34-5-37-11z" fill="url(#gA66)"/><path d="M1029 914c12-2 54-2 66 0 11 2 4 9 3 13 -1 3 2 7-9 9 -10 1-44 1-54 0 -10-2-6-6-7-9 -1-4-10-11 1-13z" fill="url(#gA67)"/></g></g></g><defs><linearGradient id="gB0" x1="0" y1="1" x2="1" y2="0"><stop offset="0" stop-color="#ff9a00"/><stop offset="0.25" stop-color="#ffcb00"/><stop offset="0.5" stop-color="#f1fc06"/><stop offset="0.75" stop-color="#c6ff31"/><stop offset="1" stop-color="#9bff5b"/></linearGradient><linearGradient id="gB1" x1="0" y1="0" x2="1" y2="0"><stop offset="0" stop-color="#cfff27"/><stop offset="0.33" stop-color="#f8f500"/><stop offset="0.67" stop-color="#ffc600"/><stop offset="1" stop-color="#ff9800"/></linearGradient><linearGradient id="gB2" x1="0" y1="0" x2="1" y2="0"><stop offset="0" stop-color="#ff7000"/><stop offset="0.5" stop-color="#ff3a00"/><stop offset="1" stop-color="#ec0400"/></linearGradient><linearGradient id="gB3" x1="0" y1="0" x2="1" y2="0"><stop offset="0" stop-color="#ffb400"/><stop offset="1" stop-color="#ffa000"/></linearGradient><linearGradient id="gB4" x1="0" y1="0" x2="1" y2="0"><stop offset="0" stop-color="#ffb400"/><stop offset="1" stop-color="#ffa000"/></linearGradient><linearGradient id="gB5" x1="0" y1="0" x2="1" y2="0"><stop offset="0" stop-color="#ffb800"/><stop offset="0.5" stop-color="#ff9800"/><stop offset="1" stop-color="#ff7800"/></linearGradient><linearGradient id="gB6" x1="0" y1="0" x2="0" y2="1"><stop offset="0" stop-color="#92ff64"/><stop offset="0.33" stop-color="#71ff86"/><stop offset="0.67" stop-color="#50ffa7"/><stop offset="1" stop-color="#2fffc8"/></linearGradient><linearGradient id="gB8" x1="0" y1="0" x2="0" y2="1"><stop offset="0" stop-color="#23ffd4"/><stop offset="0.17" stop-color="#4effa9"/><stop offset="0.33" stop-color="#79ff7e"/><stop offset="0.5" stop-color="#a4ff53"/><stop offset="0.67" stop-color="#cfff27"/><stop offset="0.83" stop-color="#faf100"/><stop offset="1" stop-color="#ffc000"/></linearGradient><linearGradient id="gB9" x1="0" y1="0" x2="1" y2="0"><stop offset="0" stop-color="#0000d8"/><stop offset="0.25" stop-color="#0000ff"/><stop offset="0.5" stop-color="#002bff"/><stop offset="0.75" stop-color="#0059ff"/><stop offset="1" stop-color="#0088ff"/></linearGradient><linearGradient id="gB10" x1="0" y1="0" x2="1" y2="0"><stop offset="0" stop-color="#0098ff"/><stop offset="0.33" stop-color="#00c7ff"/><stop offset="0.67" stop-color="#0df6ea"/><stop offset="1" stop-color="#33ffc4"/></linearGradient><linearGradient id="gB11" x1="0" y1="0" x2="1" y2="0"><stop offset="0" stop-color="#0060ff"/><stop offset="0.5" stop-color="#0090ff"/><stop offset="1" stop-color="#00c0ff"/></linearGradient><linearGradient id="gB12" x1="0" y1="0" x2="1" y2="0"><stop offset="0" stop-color="#57ffa0"/><stop offset="0.33" stop-color="#78ff7e"/><stop offset="0.67" stop-color="#9aff5d"/><stop offset="1" stop-color="#bbff3c"/></linearGradient><linearGradient id="gB13" x1="0" y1="0" x2="1" y2="0"><stop offset="0" stop-color="#92ff64"/><stop offset="0.5" stop-color="#adff4a"/><stop offset="1" stop-color="#c7ff30"/></linearGradient><linearGradient id="gB14" x1="0" y1="0" x2="1" y2="0"><stop offset="0" stop-color="#92ff64"/><stop offset="0.5" stop-color="#b9ff3e"/><stop offset="1" stop-color="#dfff18"/></linearGradient><linearGradient id="gB15" x1="0" y1="0" x2="1" y2="0"><stop offset="0" stop-color="#4bffac"/><stop offset="0.25" stop-color="#70ff87"/><stop offset="0.5" stop-color="#95ff62"/><stop offset="0.75" stop-color="#baff3d"/><stop offset="1" stop-color="#dfff18"/></linearGradient><linearGradient id="gB17" x1="0" y1="0" x2="1" y2="1"><stop offset="0" stop-color="#0000c7"/><stop offset="0.33" stop-color="#0000ff"/><stop offset="0.67" stop-color="#0035ff"/><stop offset="1" stop-color="#0070ff"/></linearGradient><linearGradient id="gB18" x1="0" y1="0" x2="1" y2="0"><stop offset="0" stop-color="#00a8ff"/><stop offset="0.17" stop-color="#00e1fa"/><stop offset="0.33" stop-color="#2bffcc"/><stop offset="0.5" stop-color="#59ff9e"/><stop offset="0.67" stop-color="#87ff70"/><stop offset="0.83" stop-color="#b5ff42"/><stop offset="1" stop-color="#e3ff14"/></linearGradient><linearGradient id="gB19" x1="0" y1="0" x2="0" y2="1"><stop offset="0" stop-color="#ff3000"/><stop offset="0.33" stop-color="#ff6500"/><stop offset="0.67" stop-color="#ff9b00"/><stop offset="1" stop-color="#ffd000"/></linearGradient><linearGradient id="gB20" x1="0" y1="0" x2="1" y2="0"><stop offset="0" stop-color="#00b0ff"/><stop offset="0.5" stop-color="#00e0fb"/><stop offset="1" stop-color="#23ffd4"/></linearGradient><linearGradient id="gB21" x1="0" y1="0" x2="1" y2="0"><stop offset="0" stop-color="#4bffac"/><stop offset="1" stop-color="#6bff8c"/></linearGradient><linearGradient id="gB22" x1="0" y1="0" x2="1" y2="0"><stop offset="0" stop-color="#6bff8c"/><stop offset="1" stop-color="#92ff64"/></linearGradient><linearGradient id="gB23" x1="0" y1="0" x2="1" y2="0"><stop offset="0" stop-color="#92ff64"/><stop offset="0.5" stop-color="#afff48"/><stop offset="1" stop-color="#cbff2c"/></linearGradient><linearGradient id="gB24" x1="0" y1="0" x2="1" y2="0"><stop offset="0" stop-color="#0090ff"/><stop offset="0.17" stop-color="#00c6ff"/><stop offset="0.33" stop-color="#12fbe5"/><stop offset="0.5" stop-color="#3dffba"/><stop offset="0.67" stop-color="#68ff8f"/><stop offset="0.83" stop-color="#94ff63"/><stop offset="1" stop-color="#bfff38"/></linearGradient><linearGradient id="gB27" x1="0" y1="0" x2="1" y2="0"><stop offset="0" stop-color="#ffc000"/><stop offset="1" stop-color="#ffa000"/></linearGradient><linearGradient id="gB30" x1="0" y1="0" x2="1" y2="0"><stop offset="0" stop-color="#00a0ff"/><stop offset="0.33" stop-color="#00d3ff"/><stop offset="0.67" stop-color="#1affdd"/><stop offset="1" stop-color="#43ffb4"/></linearGradient><linearGradient id="gB31" x1="0" y1="0" x2="1" y2="0"><stop offset="0" stop-color="#cfff27"/><stop offset="0.33" stop-color="#f5f701"/><stop offset="0.67" stop-color="#ffcb00"/><stop offset="1" stop-color="#ffa000"/></linearGradient><linearGradient id="gB32" x1="0" y1="0" x2="1" y2="0"><stop offset="0" stop-color="#ff7000"/><stop offset="0.5" stop-color="#ff3c00"/><stop offset="1" stop-color="#f10800"/></linearGradient><linearGradient id="gB33" x1="0" y1="0" x2="0" y2="1"><stop offset="0" stop-color="#92ff64"/><stop offset="0.33" stop-color="#bfff38"/><stop offset="0.67" stop-color="#ebff0c"/><stop offset="1" stop-color="#ffd000"/></linearGradient><linearGradient id="gB34" x1="0" y1="0" x2="1" y2="0"><stop offset="0" stop-color="#33ffc4"/><stop offset="0.17" stop-color="#5eff99"/><stop offset="0.33" stop-color="#89ff6e"/><stop offset="0.5" stop-color="#b3ff43"/><stop offset="0.67" stop-color="#deff19"/><stop offset="0.83" stop-color="#ffe100"/><stop offset="1" stop-color="#ffb000"/></linearGradient><linearGradient id="gB35" x1="0" y1="0" x2="1" y2="0"><stop offset="0" stop-color="#4bffac"/><stop offset="0.33" stop-color="#7bff7c"/><stop offset="0.67" stop-color="#abff4c"/><stop offset="1" stop-color="#dbff1c"/></linearGradient><linearGradient id="gB36" x1="0" y1="0" x2="1" y2="0"><stop offset="0" stop-color="#ffa000"/><stop offset="0.5" stop-color="#ff8000"/><stop offset="1" stop-color="#ff6000"/></linearGradient><linearGradient id="gB37" x1="0" y1="0" x2="1" y2="0"><stop offset="0" stop-color="#57ffa0"/><stop offset="0.17" stop-color="#80ff76"/><stop offset="0.33" stop-color="#aaff4d"/><stop offset="0.5" stop-color="#d3ff24"/><stop offset="0.67" stop-color="#fcef00"/><stop offset="0.83" stop-color="#ffc000"/><stop offset="1" stop-color="#ff9000"/></linearGradient><linearGradient id="gB39" x1="0" y1="0" x2="1" y2="0"><stop offset="0" stop-color="#89ff6d"/><stop offset="1" stop-color="#b3ff43"/></linearGradient><linearGradient id="gB40" x1="0" y1="0" x2="1" y2="0"><stop offset="0" stop-color="#7bff7b"/><stop offset="1" stop-color="#92ff64"/></linearGradient><linearGradient id="gB41" x1="0" y1="0" x2="1" y2="0"><stop offset="0" stop-color="#0080ff"/><stop offset="0.2" stop-color="#00b6ff"/><stop offset="0.4" stop-color="#06ecf1"/><stop offset="0.6" stop-color="#32ffc5"/><stop offset="0.8" stop-color="#5dff99"/><stop offset="1" stop-color="#89ff6d"/></linearGradient><linearGradient id="gB42" x1="0" y1="0" x2="1" y2="0"><stop offset="0" stop-color="#c3ff34"/><stop offset="0.33" stop-color="#f2fc05"/><stop offset="0.67" stop-color="#ffc600"/><stop offset="1" stop-color="#ff9000"/></linearGradient><linearGradient id="gB43" x1="0" y1="0" x2="1" y2="0"><stop offset="0" stop-color="#ffa800"/><stop offset="1" stop-color="#ff9800"/></linearGradient><linearGradient id="gB44" x1="0" y1="0" x2="1" y2="0"><stop offset="0" stop-color="#ffb800"/><stop offset="1" stop-color="#ffa000"/></linearGradient><linearGradient id="gB45" x1="0" y1="0" x2="1" y2="0"><stop offset="0" stop-color="#89ff6d"/><stop offset="0.5" stop-color="#b6ff41"/><stop offset="1" stop-color="#e3ff14"/></linearGradient><linearGradient id="gB46" x1="0" y1="0" x2="1" y2="0"><stop offset="0" stop-color="#7bff7b"/><stop offset="0.5" stop-color="#97ff5f"/><stop offset="1" stop-color="#b3ff43"/></linearGradient><linearGradient id="gB47" x1="0" y1="0" x2="1" y2="0"><stop offset="0" stop-color="#4bffac"/><stop offset="0.33" stop-color="#70ff87"/><stop offset="0.67" stop-color="#95ff61"/><stop offset="1" stop-color="#bbff3c"/></linearGradient><linearGradient id="gB48" x1="0" y1="0" x2="1" y2="0"><stop offset="0" stop-color="#43ffb4"/><stop offset="0.17" stop-color="#72ff85"/><stop offset="0.33" stop-color="#a1ff56"/><stop offset="0.5" stop-color="#d0ff27"/><stop offset="0.67" stop-color="#ffec00"/><stop offset="0.83" stop-color="#ffb600"/><stop offset="1" stop-color="#ff8000"/></linearGradient><linearGradient id="gB49" x1="0" y1="0" x2="1" y2="0"><stop offset="0" stop-color="#ff9800"/><stop offset="1" stop-color="#ff8000"/></linearGradient><linearGradient id="gB50" x1="0" y1="0" x2="1" y2="0"><stop offset="0" stop-color="#ffa000"/><stop offset="1" stop-color="#ff7000"/></linearGradient><linearGradient id="gB51" x1="0" y1="0" x2="1" y2="0"><stop offset="0" stop-color="#c3ff34"/><stop offset="0.33" stop-color="#effe07"/><stop offset="0.67" stop-color="#ffcb00"/><stop offset="1" stop-color="#ff9800"/></linearGradient><linearGradient id="gB52" x1="0.5" y1="0" x2="0" y2="1"><stop offset="0" stop-color="#ffe000"/><stop offset="0.25" stop-color="#e0ff16"/><stop offset="0.5" stop-color="#b7ff40"/><stop offset="0.75" stop-color="#8eff69"/><stop offset="1" stop-color="#64ff92"/></linearGradient><linearGradient id="gB53" x1="0" y1="0" x2="1" y2="0"><stop offset="0" stop-color="#ff8800"/><stop offset="0.33" stop-color="#ff5d00"/><stop offset="0.67" stop-color="#ff3200"/><stop offset="1" stop-color="#f10800"/></linearGradient><linearGradient id="gB54" x1="0" y1="0" x2="1" y2="0"><stop offset="0" stop-color="#89ff6d"/><stop offset="1" stop-color="#a3ff54"/></linearGradient><linearGradient id="gB55" x1="0" y1="0" x2="1" y2="0"><stop offset="0" stop-color="#b3ff43"/><stop offset="1" stop-color="#cbff2c"/></linearGradient><linearGradient id="gB56" x1="0" y1="1" x2="1" y2="0"><stop offset="0" stop-color="#89ff6d"/><stop offset="0.2" stop-color="#b1ff46"/><stop offset="0.4" stop-color="#d8ff1e"/><stop offset="0.6" stop-color="#ffeb00"/><stop offset="0.8" stop-color="#ffbe00"/><stop offset="1" stop-color="#ff9000"/></linearGradient><linearGradient id="gB57" x1="0" y1="0" x2="1" y2="0"><stop offset="0" stop-color="#00b0ff"/><stop offset="0.33" stop-color="#00defd"/><stop offset="0.67" stop-color="#1effd9"/><stop offset="1" stop-color="#43ffb4"/></linearGradient><linearGradient id="gB58" x1="0" y1="0" x2="1" y2="0"><stop offset="0" stop-color="#2bffcc"/><stop offset="0.25" stop-color="#59ff9e"/><stop offset="0.5" stop-color="#87ff70"/><stop offset="0.75" stop-color="#b5ff42"/><stop offset="1" stop-color="#e3ff14"/></linearGradient><linearGradient id="gB59" x1="0" y1="1" x2="1" y2="0"><stop offset="0" stop-color="#72ff84"/><stop offset="0.17" stop-color="#9cff5b"/><stop offset="0.33" stop-color="#c5ff32"/><stop offset="0.5" stop-color="#efff08"/><stop offset="0.67" stop-color="#ffcf00"/><stop offset="0.83" stop-color="#ffa000"/><stop offset="1" stop-color="#ff7000"/></linearGradient><linearGradient id="gB60" x1="0" y1="0" x2="1" y2="0"><stop offset="0" stop-color="#89ff6d"/><stop offset="0.5" stop-color="#b6ff41"/><stop offset="1" stop-color="#e3ff14"/></linearGradient><linearGradient id="gB61" x1="0" y1="0" x2="1" y2="0"><stop offset="0" stop-color="#a3ff54"/><stop offset="1" stop-color="#cbff2c"/></linearGradient><linearGradient id="gB62" x1="0" y1="0" x2="1" y2="0"><stop offset="0" stop-color="#c3ff34"/><stop offset="1" stop-color="#dbff1c"/></linearGradient><linearGradient id="gB63" x1="0" y1="0" x2="0.6" y2="1"><stop offset="0" stop-color="#0060ff"/><stop offset="0.2" stop-color="#0097ff"/><stop offset="0.4" stop-color="#00ceff"/><stop offset="0.6" stop-color="#1affdd"/><stop offset="0.8" stop-color="#46ffb1"/><stop offset="1" stop-color="#72ff84"/></linearGradient><linearGradient id="gB64" x1="0" y1="0" x2="1" y2="0"><stop offset="0" stop-color="#72ff84"/><stop offset="1" stop-color="#92ff64"/></linearGradient><linearGradient id="gB65" x1="0" y1="0" x2="1" y2="0"><stop offset="0" stop-color="#72ff84"/><stop offset="0.12" stop-color="#a0ff57"/><stop offset="0.25" stop-color="#cdff2a"/><stop offset="0.38" stop-color="#faf100"/><stop offset="0.5" stop-color="#ffbd00"/><stop offset="0.62" stop-color="#ff8900"/><stop offset="0.75" stop-color="#ff5500"/><stop offset="0.88" stop-color="#ff2100"/><stop offset="1" stop-color="#d10000"/></linearGradient><linearGradient id="gB66" x1="0" y1="0" x2="1" y2="0"><stop offset="0" stop-color="#c3ff34"/><stop offset="1" stop-color="#dbff1c"/></linearGradient><linearGradient id="gB67" x1="0" y1="0" x2="1" y2="0"><stop offset="0" stop-color="#ffa000"/><stop offset="1" stop-color="#ff7000"/></linearGradient><clipPath id="pcB"><rect x="467.4" y="90" width="287.3" height="540"/></clipPath></defs><g transform="translate(467.40 584.00) scale(1.0000 1.0000) translate(-467.40 -584.00)"><rect x="467.4" y="584" width="287.3" height="35" fill="#ffe800" stroke="#a09020" stroke-width="1"/><g clip-path="url(#pcB)"><g transform="scale(.5)" stroke="#1c2010" stroke-width="2.4" stroke-opacity="0.85"><path d="M933 277c1-6 3-15 7-22 5-7 13-13 20-19 7-7 17-15 24-18 8-2 16-1 20 3 3 4 4 15 2 22 -2 7-9 14-14 20 -6 6-13 12-20 17 -6 4-13 8-19 9 -6 2-14 2-17 0 -3-2-4-6-3-12z" fill="url(#gB0)"/><path d="M977 301c2-8 10-22 15-32 5-10 10-21 14-28 4-7 4-11 10-15 6-4 16-7 25-8 9 0 20 4 29 5 8 2 17 3 22 5 5 2 9 2 8 9 0 7-7 24-9 34 -3 10-1 20-5 25 -5 5-12 5-21 5 -10 0-26-9-37-7 -11 2-21 17-28 21 -7 4-13 5-17 3 -4-3-7-9-6-17z" fill="url(#gB1)"/><path d="M1080 295c0-6 6-22 10-31 5-9 12-17 20-24 8-7 19-15 29-19 9-4 23-7 30-5 7 2 10 8 13 16 3 7 4 20 2 29 -1 9-4 19-10 25 -5 6-15 10-24 13 -9 2-19 1-29 2 -10 1-22 2-29 1 -7-1-11-1-12-7z" fill="url(#gB2)"/><path d="M933 292c5-5 21-8 27-6 7 3 12 14 14 21 1 7 0 17-6 22 -6 4-24 8-30 5 -5-2-4-14-5-21 -1-7-4-17 0-21z" fill="url(#gB3)"/><path d="M936 334c5-7 23-7 30-3 6 3 7 14 8 23 0 9 2 24-3 31 -5 6-21 11-27 8 -7-3-10-14-11-24 -1-10-3-29 3-35z" fill="url(#gB4)"/><path d="M933 405c4-23 11-12 18-15 7-4 17-6 25-5 8 1 16 0 21 10 4 10 6 26 7 49 1 22-2 58-2 84 0 26 3 53 2 71 -1 17-1 28-8 35 -6 6-19 4-30 5 -10 0-27 15-33-3 -6-18-2-69-2-108 0-38-1-100 2-123z" fill="url(#gB5)"/><path d="M1020 307c1-9 8-18 15-21 8-2 21 2 30 5 10 3 20 8 29 15 10 6 21 16 29 23 8 7 15 13 19 20 4 6 8 13 6 17 -3 4-13 5-22 5 -10 1-23-2-34-4 -11-3-23-6-33-10 -10-4-23-6-29-15 -7-8-11-25-10-35z" fill="url(#gB6)"/><path d="M1080 293c3-5 21-3 25 3 4 6 3 30 0 34 -3 5-15 0-19-6 -4-6-9-26-6-31z" fill="#c3ff34"/><path d="M1001 406c1-7 6-21 10-29 4-8 9-16 15-20 5-4 13-9 17-6 4 4 5 18 6 27 0 9-3 23-5 29 -3 7-5 8-11 11 -6 3-21 7-26 5 -6-2-7-9-6-17z" fill="url(#gB8)"/><path d="M1030 448c-1-6 8-20 14-29 5-9 11-18 19-24 8-7 19-11 29-15 10-3 23-5 34-5 10 1 21 2 29 5 7 4 13 9 15 16 3 7 1 19-2 26 -3 6-10 11-18 15 -7 4-18 7-29 9 -10 3-22 4-33 5 -11 1-23 3-33 2 -10 0-23 1-25-5z" fill="url(#gB9)"/><path d="M1170 388c-1-9 1-21 5-30 3-8 8-16 14-24 7-8 15-17 24-24 9-6 18-12 29-14 11-3 28-3 39 0 11 2 21 7 29 14 8 8 15 19 20 30 4 10 9 24 9 34 0 10-3 20-10 25 -7 5-17 4-30 5 -13 1-31 2-47 3 -15 0-34 1-47 2 -12 0-21 3-27 0 -6-4-8-13-8-21z" fill="url(#gB10)"/><path d="M1160 323c-2-5 2-16 5-21 4-6 9-11 16-13 6-3 19-3 25-3 6 1 11 2 12 6 1 5-2 16-6 22 -3 6-9 12-15 15 -6 3-14 6-20 5 -7-1-15-6-17-11z" fill="url(#gB11)"/><path d="M1214 288c0-5 2-14 8-20 6-5 19-9 29-14 9-5 19-9 28-14 10-5 21-13 29-15 8-2 15-1 17 3 3 5 0 17-2 24 -3 8-6 15-13 20 -7 6-19 11-29 15 -9 3-19 6-29 7 -9 1-22 1-29 0 -6-1-9-2-9-6z" fill="url(#gB12)"/><path d="M1325 270c1-11 4-22 9-29 6-8 18-15 25-18 8-2 15-1 21 3 6 3 11 11 15 20 4 8 9 18 10 29 1 10-2 23-5 34 -3 10-8 22-15 29 -6 7-17 10-25 10 -9 0-20-3-26-10 -5-7-8-18-9-30 -2-11-2-27 0-38z" fill="url(#gB13)"/><path d="M1411 270c1-7 2-22 8-29 5-8 15-13 25-15 9-3 22-3 33-3 11 0 25-3 31 3 5 5 2 20 2 30 0 11 6 27-2 33 -8 6-32 3-45 3 -13 0-25-1-33-3 -8-1-13-2-16-5 -3-3-4-6-3-14z" fill="url(#gB14)"/><path d="M1360 378c0-7 2-20 7-29 5-9 15-17 24-24 9-8 18-15 29-20 10-4 22-7 33-9 11-2 24-3 34-3 9 1 19-13 23 3 4 16 7 76 0 93 -7 18-26 10-42 13 -16 2-38 3-52 2 -14 0-24-2-33-5 -9-2-17-6-21-10 -3-3-3-4-2-11z" fill="url(#gB15)"/><path d="M1329 339c4-11 16-9 23-6 6 3 14 11 15 21 2 10 0 31-5 40 -4 8-15 10-21 10 -6 1-12 6-14-5 -2-11-2-49 2-60z" fill="#23ffd4"/><path d="M1169 409c6-4 22-3 36-3 14 0 32-1 47 0 16 1 36 3 48 5 11 2 18-1 21 8 2 8-4 29-8 44 -3 16-6 40-12 49 -5 8-12 4-21 2 -9-1-23-6-34-12 -11-6-23-14-33-24 -10-9-22-24-29-33 -6-8-9-13-12-19 -2-6-8-14-3-17z" fill="url(#gB17)"/><path d="M1310 453c2-12 4-26 10-34 6-9 13-13 25-15 12-3 32 0 48 0 15 0 27 0 47 0 19 0 58-21 70 0 12 20 10 101 0 122 -10 21-41 2-61 2 -20 0-38 1-57-2 -19-3-43-9-57-14 -13-6-20-10-25-20 -4-10-1-27 0-39z" fill="url(#gB18)"/><path d="M1008 473c-2-5 2-15 5-19 3-5 9-9 14-9 5 0 12 3 14 9 3 6 3 19 0 24 -2 5-11 7-17 6 -5-1-14-6-16-11z" fill="url(#gB19)"/><path d="M1085 476c1-5 5-12 11-16 6-4 16-6 25-7 9-1 21-1 29 2 8 3 14 9 18 16 3 7 6 20 3 26 -4 6-16 9-26 10 -10 1-25-2-34-4 -9-3-16-6-20-11 -5-4-7-10-6-16z" fill="url(#gB20)"/><path d="M1013 509c1-6 2-16 8-21 5-4 15-4 25-5 9 0 24-2 30 3 6 4 7 17 5 24 -1 7-7 17-15 21 -8 3-21 3-30 2 -8-1-17-4-21-8 -3-4-3-10-2-16z" fill="url(#gB21)"/><path d="M1081 528c1-9 5-17 10-21 5-4 14-8 21-5 7 2 16 11 21 20 4 9 6 26 5 35 -2 9-9 17-16 21 -7 3-19 3-26 0 -7-4-13-13-15-21 -3-8-2-21 0-29z" fill="url(#gB22)"/><path d="M1142 537c2-9 6-16 15-21 9-4 26-5 39-7 13-1 31-5 39-2 8 3 10 12 11 21 0 8-5 19-10 29 -5 11-11 26-20 34 -8 8-18 13-29 15 -11 1-28 1-35-5 -8-6-9-20-10-30 -2-11-3-25 0-34z" fill="url(#gB23)"/><path d="M1286 528c1-6 9-13 17-16 7-4 18-4 29-3 11 2 24 7 38 12 14 5 33 12 47 19 14 6 29 12 38 19 9 7 15 14 16 21 1 6-3 15-11 17 -9 2-25-1-40-5 -14-4-31-13-47-19 -16-7-34-14-47-19 -12-5-22-5-29-10 -6-4-12-11-11-16z" fill="url(#gB24)"/><path d="M1005 547c0-6 6-13 11-17 6-3 16-4 21-2 6 2 13 8 14 14 1 5-2 15-8 19 -6 4-20 5-27 3 -6-3-11-12-11-17z" fill="#27ffd0"/><path d="M1031 570c2-6 7-13 12-14 4-2 14 1 17 5 3 5 5 15 3 20 -2 5-9 9-14 11 -5 1-12 1-15-3 -3-4-4-14-3-19z" fill="#53ffa4"/><path d="M989 589c1-7 10-14 16-17 6-2 17-4 20 0 3 5 2 22-2 28 -5 7-17 13-23 11 -5-2-12-16-11-22z" fill="url(#gB27)"/><path d="M1062 598c0-5 4-15 10-19 7-3 21-3 27 0 6 4 11 15 9 21 -2 5-13 9-19 10 -7 2-17 2-21 0 -5-2-7-6-6-12z" fill="#dbff1c"/><path d="M1113 603c2-7 6-15 11-19 5-3 16-6 22-2 5 3 10 14 11 21 0 7-4 17-8 21 -5 4-14 6-19 5 -6 0-11-3-14-8 -3-4-4-12-3-18z" fill="#92ff64"/><path d="M1181 631c1-8 6-17 13-25 7-8 17-17 29-24 11-7 25-14 38-19 12-5 28-9 38-9 10-1 17 0 21 5 4 5 6 15 5 25 -1 11-5 26-9 39 -4 12-9 27-15 38 -5 10-10 19-19 24 -9 5-24 7-35 5 -11-1-24-9-34-14 -9-6-19-12-24-20 -5-7-8-17-8-25z" fill="url(#gB30)"/><path d="M1006 669c0-13 4-29 9-39 6-11 14-20 25-25 11-5 29-6 39-5 11 2 20 7 25 15 6 9 9 22 10 35 1 12-2 28-5 40 -2 11-4 20-9 29 -5 9-13 19-20 24 -6 5-13 6-20 5 -8 0-18-3-25-10 -8-6-15-17-20-29 -5-11-9-27-9-40z" fill="url(#gB31)"/><path d="M1109 658c3-10 8-16 15-20 7-4 17-6 25-5 9 2 19 9 25 15 7 6 14 14 15 20 2 6 0 11-5 16 -5 5-16 12-24 17 -8 5-17 11-24 14 -8 3-17 6-21 3 -5-3-8-9-8-19 -1-10-1-30 2-41z" fill="url(#gB32)"/><path d="M933 668c3-13 10-20 18-25 8-5 21-7 30-5 9 2 19 7 23 15 4 9 5 27 2 36 -3 8-13 12-20 17 -6 4-10 9-19 12 -9 2-28 11-34 2 -6-8-3-39 0-52z" fill="url(#gB33)"/><path d="M1292 645c3-13 7-24 14-34 7-10 19-22 29-29 10-7 19-13 29-14 10-2 19 0 30 5 10 4 23 14 33 24 11 9 20 22 29 33 8 10 19 20 22 29 2 8-2 17-6 23 -3 5-8 5-17 10 -9 4-24 13-38 19 -14 5-31 11-47 14 -16 3-35 3-48 2 -13-1-24-1-30-7 -6-7-5-18-5-31 0-12 2-31 5-44z" fill="url(#gB34)"/><path d="M1509 661c6 24 9 147 1 176 -8 30-31 1-47 0 -16-1-35-4-48-7 -12-3-24-6-29-12 -6-7-5-18-3-26 2-8 6-16 12-24 6-9 15-16 24-24 10-9 23-20 33-28 10-9 18-15 28-24 10-9 24-55 29-31z" fill="url(#gB35)"/><path d="M935 725c3-13 8-6 17-8 8-1 24-2 34 0 9 2 19 6 25 13 5 7 8 19 9 29 2 10 2 23-2 30 -4 8-12 13-23 15 -11 3-34 2-44 0 -10-1-13 3-16-10 -2-13-2-56 0-69z" fill="url(#gB36)"/><path d="M1020 802c0-9 5-26 10-34 5-9 11-13 20-16 8-2 17-4 29-2 12 2 29 9 43 14 13 5 26 11 38 17 11 6 22 12 29 19 6 8 9 17 10 25 0 8 3 18-6 22 -8 4-29 2-44 2 -15 0-32-2-47-5 -15-2-31-8-43-12 -12-3-22-4-29-9 -7-5-10-12-10-21z" fill="url(#gB37)"/><path d="M1084 740c2-4 17-10 26-15 9-5 21-11 29-15 8-3 16-8 19-5 4 3 5 15 3 23 -2 7-8 15-15 20 -7 4-17 6-25 7 -8 1-19 0-25-2 -6-3-14-8-12-13z" fill="#dbff1c"/><path d="M1158 745c0-8 2-16 7-24 6-8 16-18 25-24 9-7 18-10 29-12 10-3 25-7 34-5 8 1 14 7 16 13 2 7-1 17-5 26 -4 8-11 17-19 24 -8 7-20 14-29 19 -10 5-20 10-29 12 -9 2-19 2-24-3 -5-4-5-17-5-26z" fill="url(#gB39)"/><path d="M1193 783c1-8 5-15 11-19 5-3 14-4 21-2 7 2 16 9 20 15 4 6 7 14 5 21 -1 7-9 16-15 20 -6 5-15 7-21 6 -6-2-12-9-16-16 -3-7-6-18-5-25z" fill="url(#gB40)"/><path d="M1254 769c2-10 5-23 10-30 5-7 13-10 21-10 7-1 16 8 23 7 7-1 10-9 18-12 9-2 23-2 34-2 11 0 26-1 34 2 8 3 14 10 16 16 1 6-1 13-5 21 -5 7-12 15-20 24 -8 9-19 20-28 28 -10 8-18 15-29 19 -10 5-24 7-34 5 -10-1-18-8-25-14 -7-7-12-16-15-25 -2-9-1-20 0-29z" fill="url(#gB41)"/><path d="M966 820c1-8 7-14 13-16 7-2 17-2 26 2 9 4 18 15 28 22 11 7 24 12 33 19 9 6 16 11 20 19 4 9 4 22 2 30 -1 9-5 16-12 21 -8 4-20 6-30 5 -11-2-25-8-35-15 -9-7-17-19-24-29 -6-9-13-19-16-28 -4-10-7-22-5-30z" fill="url(#gB42)"/><path d="M933 843c3-15 13-10 19-11 6-1 14-1 19 5 4 6 7 20 7 30 1 10-1 21-5 30 -3 8-8 17-15 20 -7 3-21 12-25 0 -4-12-3-60 0-74z" fill="url(#gB43)"/><path d="M1102 871c1-5 6-12 13-15 6-4 18-6 25-5 7 1 15 5 18 10 4 6 5 16 3 22 -2 5-9 10-16 13 -6 2-18 4-25 2 -7-1-12-6-16-10 -3-5-4-11-2-17z" fill="url(#gB44)"/><path d="M1189 867c2-11 4-23 9-30 6-6 16-8 25-10 10-1 22-2 30 0 8 3 15 7 20 16 5 9 8 25 10 38 1 14 1 31 0 43 -2 12-4 23-10 30 -6 6-16 9-25 10 -9 1-21 0-30-5 -9-5-19-15-25-25 -5-9-6-22-7-34 -1-11 1-22 3-33z" fill="url(#gB45)"/><path d="M1277 877c-1-8 5-19 11-25 5-7 14-11 24-15 11-4 26-6 38-7 13-1 28-2 35 2 8 4 11 14 11 21 0 8-4 19-11 26 -6 6-18 11-29 14 -10 4-23 6-33 8 -11 1-23 3-30 0 -8-4-15-16-16-24z" fill="url(#gB46)"/><path d="M1392 862c2-5 5-14 13-18 8-4 21-4 35-5 13 0 35 1 47 2 12 2 19-6 23 6 4 12 6 56 0 66 -5 10-22-2-34-5 -11-4-26-11-37-15 -11-4-21-6-29-9 -7-3-12-7-15-10 -3-4-4-7-3-12z" fill="url(#gB47)"/><path d="M1289 933c1-7 2-18 8-25 5-7 13-12 25-15 12-3 31-5 47-5 16 0 35 3 48 5 13 2 22 5 29 10 7 4 12 9 11 16 -1 7-8 19-16 25 -7 7-17 12-29 15 -12 3-29 4-43 5 -13 0-27-1-38-3 -10-1-17-2-23-4 -7-2-13-4-16-8 -3-4-4-9-3-16z" fill="url(#gB48)"/><path d="M973 937c1-6 5-16 10-20 5-4 15-6 21-5 7 0 15 4 19 10 3 6 4 19 2 26 -2 7-9 13-16 16 -6 2-15 2-20 0 -6-2-11-6-13-11 -3-4-4-10-3-16z" fill="url(#gB49)"/><path d="M933 921c3-18 13-4 20-2 6 1 13 5 20 12 6 7 14 20 19 29 5 9 10 16 12 24 2 8 1 18-3 25 -3 8-11 15-20 18 -8 3-21 2-29 2 -8 1-16 18-19 0 -3-18-3-89 0-108z" fill="url(#gB50)"/><path d="M1034 970c1-10 3-20 10-25 7-5 19-6 30-5 12 1 30 5 39 10 9 4 14 9 15 15 2 6 0 15-5 21 -5 6-15 12-25 15 -9 4-23 7-33 7 -10 1-21 4-26-2 -5-7-6-26-5-36z" fill="url(#gB51)"/><path d="M1142 904c1-9 5-16 10-18 6-3 15-2 22 2 7 5 12 16 19 25 7 8 17 20 24 28 6 8 13 14 15 20 1 6 0 12-6 16 -6 5-20 7-30 8 -10 1-20 2-29 0 -9-2-19-6-23-13 -4-7-2-18-2-29 -1-12-2-29 0-39z" fill="url(#gB52)"/><path d="M1259 978c3-4 10-8 21-10 10-2 31-3 43-2 11 0 19 3 25 7 5 4 10 11 10 16 0 6-2 13-11 17 -8 3-26 4-39 5 -13 0-30 0-38-3 -9-2-9-8-11-13 -2-5-4-12 0-17z" fill="url(#gB53)"/><path d="M1364 979c2-4 5-9 14-11 8-2 27-3 38-2 12 0 24 1 30 5 6 3 9 9 9 14 -1 5-6 13-14 16 -8 4-24 5-34 5 -11 0-23-2-30-5 -6-2-8-7-10-10 -2-4-5-8-3-12z" fill="url(#gB54)"/><path d="M1451 989c0-5 4-11 10-16 6-4 17-9 25-10 8-1 20-5 24 3 4 8 4 37 0 45 -4 7-16 1-24 0 -8-1-19-2-25-5 -5-4-10-11-10-17z" fill="url(#gB55)"/><path d="M947 1054c2-6 6-13 13-20 6-6 15-13 24-19 8-5 20-11 28-14 9-3 20-9 23-6 3 3 0 16-3 24 -3 7-10 13-17 19 -7 7-16 14-24 19 -8 6-17 12-24 15 -7 2-14 3-17 0 -3-3-5-11-3-18z" fill="url(#gB56)"/><path d="M1027 1050c1-11 1-17 7-25 6-7 18-14 29-19 12-6 26-11 38-14 12-4 26-9 35-8 8 1 14 5 18 13 3 9 4 27 2 40 -1 12-4 23-9 33 -6 11-16 21-24 29 -9 8-19 14-29 19 -10 5-20 10-29 10 -10 0-20-3-26-10 -6-7-10-18-12-30 -2-11-1-28 0-38z" fill="url(#gB57)"/><path d="M1142 1055c2-9 11-24 19-34 8-11 18-21 29-29 10-8 23-15 33-19 10-5 18-9 25-8 7 1 12 6 16 13 4 7 7 17 9 30 3 12 6 31 8 47 1 16 1 33 0 47 -2 14-3 29-8 39 -4 9-11 15-20 20 -8 4-21 7-30 5 -8-3-15-12-20-21 -5-9-7-22-10-33 -3-11-4-25-9-31 -4-6-10-3-17-5 -7-1-18-1-23-5 -4-3-5-8-2-16z" fill="url(#gB58)"/><path d="M1306 1031c1-8 5-16 10-20 5-5 13-7 20-8 8-1 18-1 25 3 7 3 15 12 18 20 3 8 4 20 2 29 -1 10-3 20-10 26 -6 5-20 9-30 9 -9 1-19 0-25-5 -6-5-9-16-10-25 -2-9-2-21 0-29z" fill="url(#gB59)"/><path d="M1383 1036c1-12 3-20 8-25 4-6 14-9 21-8 7 1 14 4 18 13 4 9 5 27 5 39 1 12 1 25-2 34 -3 9-9 15-16 18 -6 3-15 4-21 0 -6-4-11-11-13-23 -2-12-1-36 0-48z" fill="url(#gB60)"/><path d="M1437 1055c1-10 5-21 10-26 5-5 16-7 22-5 6 2 11 8 13 16 2 9 1 26-2 35 -3 9-10 15-16 18 -6 2-17 4-22-3 -5-6-6-25-5-35z" fill="url(#gB61)"/><path d="M1479 1036c1-9 5-16 10-21 6-4 18-21 21-6 4 15 4 81 0 96 -3 15-16 0-21-6 -5-6-6-19-7-30 -2-10-4-24-3-33z" fill="url(#gB62)"/><path d="M961 1087c1-8 3-15 8-18 6-4 17-3 25-3 9 1 19 1 25 5 7 5 11 11 13 21 2 10 0 27-2 39 -2 11-4 24-10 29 -6 6-19 7-26 6 -8-2-16-7-21-16 -5-8-7-23-9-34 -2-10-4-21-3-29z" fill="url(#gB63)"/><path d="M1052 1144c0-7 6-16 11-21 5-5 14-8 21-8 6 1 15 5 18 11 4 6 5 17 3 24 -2 6-9 13-16 15 -7 3-20 4-26 0 -6-3-11-14-11-21z" fill="url(#gB64)"/><path d="M1271 1130c1-9 5-19 12-25 7-7 19-13 29-15 11-3 21-2 34 0 14 1 32 5 47 9 16 4 33 10 47 14 15 5 27 9 38 15 12 5 29 13 32 18 3 5-5 7-13 10 -8 2-20 4-34 5 -13 1-27 1-47 2 -19 1-50 2-70 2 -21 1-40 2-52 0 -12-1-17-4-21-10 -4-6-4-17-2-25z" fill="url(#gB65)"/><path d="M1440 1117c-3-5 9-18 17-22 8-5 20-4 29-5 9-1 20-7 24 0 4 7 6 37 0 43 -5 6-22-3-33-5 -12-3-34-5-37-11z" fill="url(#gB66)"/><path d="M1029 914c12-2 54-2 66 0 11 2 4 9 3 13 -1 3 2 7-9 9 -10 1-44 1-54 0 -10-2-6-6-7-9 -1-4-10-11 1-13z" fill="url(#gB67)"/></g></g></g><defs><linearGradient id="gC0" x1="0" y1="0" x2="1" y2="1"><stop offset="0" stop-color="#001fff"/><stop offset="0.5" stop-color="#0052ff"/><stop offset="1" stop-color="#0085ff"/></linearGradient><linearGradient id="gC1" x1="0" y1="0" x2="1" y2="0"><stop offset="0" stop-color="#0085ff"/><stop offset="0.33" stop-color="#00c0ff"/><stop offset="0.67" stop-color="#12fce5"/><stop offset="1" stop-color="#42ffb5"/></linearGradient><linearGradient id="gC2" x1="0" y1="0" x2="0" y2="1"><stop offset="0" stop-color="#0000ee"/><stop offset="0.5" stop-color="#0014ff"/><stop offset="1" stop-color="#0047ff"/></linearGradient><linearGradient id="gC3" x1="0" y1="0" x2="1" y2="0"><stop offset="0" stop-color="#001fff"/><stop offset="0.5" stop-color="#0052ff"/><stop offset="1" stop-color="#0085ff"/></linearGradient><linearGradient id="gC4" x1="0" y1="0" x2="0" y2="1"><stop offset="0" stop-color="#0000f9"/><stop offset="1" stop-color="#001fff"/></linearGradient><linearGradient id="gC5" x1="0" y1="0" x2="0" y2="1"><stop offset="0" stop-color="#00dbff"/><stop offset="0.2" stop-color="#00a5ff"/><stop offset="0.4" stop-color="#006fff"/><stop offset="0.6" stop-color="#0039ff"/><stop offset="0.8" stop-color="#0003ff"/><stop offset="1" stop-color="#0000d6"/></linearGradient><linearGradient id="gC6" x1="0" y1="0" x2="0" y2="1"><stop offset="0" stop-color="#0099ff"/><stop offset="0.33" stop-color="#0070ff"/><stop offset="0.67" stop-color="#0047ff"/><stop offset="1" stop-color="#001fff"/></linearGradient><linearGradient id="gC9" x1="0" y1="0" x2="0" y2="1"><stop offset="0" stop-color="#0000ff"/><stop offset="0.5" stop-color="#0033ff"/><stop offset="1" stop-color="#0066ff"/></linearGradient><linearGradient id="gC10" x1="1" y1="0" x2="0" y2="1"><stop offset="0" stop-color="#0085ff"/><stop offset="0.25" stop-color="#0052ff"/><stop offset="0.5" stop-color="#001fff"/><stop offset="0.75" stop-color="#0000f9"/><stop offset="1" stop-color="#0000bf"/></linearGradient><linearGradient id="gC12" x1="0" y1="0" x2="1" y2="0"><stop offset="0" stop-color="#0000f9"/><stop offset="1" stop-color="#0000d6"/></linearGradient><linearGradient id="gC14" x1="0" y1="0" x2="1" y2="0"><stop offset="0" stop-color="#00009c"/><stop offset="1" stop-color="#0000a8"/></linearGradient><linearGradient id="gC15" x1="0" y1="0" x2="0" y2="1"><stop offset="0" stop-color="#0000a8"/><stop offset="0.5" stop-color="#0000cb"/><stop offset="1" stop-color="#0000ee"/></linearGradient><linearGradient id="gC17" x1="0" y1="0" x2="1" y2="0"><stop offset="0" stop-color="#0000f9"/><stop offset="0.25" stop-color="#0028ff"/><stop offset="0.5" stop-color="#0063ff"/><stop offset="0.75" stop-color="#009fff"/><stop offset="1" stop-color="#00dbff"/></linearGradient><linearGradient id="gC18" x1="0" y1="0" x2="1" y2="1"><stop offset="0" stop-color="#0000d6"/><stop offset="0.17" stop-color="#0004ff"/><stop offset="0.33" stop-color="#003bff"/><stop offset="0.5" stop-color="#0073ff"/><stop offset="0.67" stop-color="#00aaff"/><stop offset="0.83" stop-color="#00e1fa"/><stop offset="1" stop-color="#29ffce"/></linearGradient><linearGradient id="gC22" x1="0" y1="0" x2="1" y2="0"><stop offset="0" stop-color="#001fff"/><stop offset="1" stop-color="#0052ff"/></linearGradient><linearGradient id="gC23" x1="0" y1="0" x2="1" y2="0"><stop offset="0" stop-color="#001fff"/><stop offset="0.5" stop-color="#0052ff"/><stop offset="1" stop-color="#0085ff"/></linearGradient><linearGradient id="gC24" x1="0" y1="0" x2="1" y2="0"><stop offset="0" stop-color="#00dbff"/><stop offset="0.25" stop-color="#00acff"/><stop offset="0.5" stop-color="#007dff"/><stop offset="0.75" stop-color="#004eff"/><stop offset="1" stop-color="#001fff"/></linearGradient><linearGradient id="gC30" x1="0" y1="0" x2="1" y2="0"><stop offset="0" stop-color="#0000f9"/><stop offset="0.33" stop-color="#001fff"/><stop offset="0.67" stop-color="#0052ff"/><stop offset="1" stop-color="#0085ff"/></linearGradient><linearGradient id="gC31" x1="0" y1="0" x2="0" y2="1"><stop offset="0" stop-color="#0052ff"/><stop offset="0.33" stop-color="#007cff"/><stop offset="0.67" stop-color="#00a7ff"/><stop offset="1" stop-color="#00d1ff"/></linearGradient><linearGradient id="gC32" x1="0" y1="0" x2="0" y2="1"><stop offset="0" stop-color="#08f0ef"/><stop offset="0.5" stop-color="#00baff"/><stop offset="1" stop-color="#0085ff"/></linearGradient><linearGradient id="gC34" x1="0" y1="0" x2="1" y2="1"><stop offset="0" stop-color="#0000bf"/><stop offset="0.5" stop-color="#0000f9"/><stop offset="1" stop-color="#001fff"/></linearGradient><linearGradient id="gC35" x1="0" y1="0" x2="0" y2="1"><stop offset="0" stop-color="#0000d6"/><stop offset="0.5" stop-color="#0000ff"/><stop offset="1" stop-color="#001fff"/></linearGradient><linearGradient id="gC36" x1="0" y1="0" x2="1" y2="0"><stop offset="0" stop-color="#0085ff"/><stop offset="0.33" stop-color="#00afff"/><stop offset="0.67" stop-color="#00daff"/><stop offset="1" stop-color="#19ffde"/></linearGradient><linearGradient id="gC37" x1="0" y1="0" x2="1" y2="0"><stop offset="0" stop-color="#00d1ff"/><stop offset="0.5" stop-color="#19ffde"/><stop offset="1" stop-color="#42ffb5"/></linearGradient><linearGradient id="gC41" x1="0" y1="0" x2="1" y2="0"><stop offset="0" stop-color="#0000f9"/><stop offset="0.5" stop-color="#001fff"/><stop offset="1" stop-color="#0052ff"/></linearGradient><linearGradient id="gC46" x1="0" y1="0" x2="1" y2="0"><stop offset="0" stop-color="#00d1ff"/><stop offset="0.5" stop-color="#00abff"/><stop offset="1" stop-color="#0085ff"/></linearGradient><linearGradient id="gC48" x1="0" y1="0" x2="1" y2="0"><stop offset="0" stop-color="#001fff"/><stop offset="0.5" stop-color="#0052ff"/><stop offset="1" stop-color="#0085ff"/></linearGradient><linearGradient id="gC52" x1="0" y1="0" x2="1" y2="0"><stop offset="0" stop-color="#001fff"/><stop offset="0.5" stop-color="#0052ff"/><stop offset="1" stop-color="#0085ff"/></linearGradient><linearGradient id="gC57" x1="0" y1="0" x2="1" y2="0"><stop offset="0" stop-color="#0000f9"/><stop offset="0.33" stop-color="#001fff"/><stop offset="0.67" stop-color="#0052ff"/><stop offset="1" stop-color="#0085ff"/></linearGradient><linearGradient id="gC58" x1="0" y1="0" x2="1" y2="0"><stop offset="0" stop-color="#0000d6"/><stop offset="0.25" stop-color="#0000ff"/><stop offset="0.5" stop-color="#0029ff"/><stop offset="0.75" stop-color="#0057ff"/><stop offset="1" stop-color="#0085ff"/></linearGradient><linearGradient id="gC65" x1="0" y1="0" x2="1" y2="0"><stop offset="0" stop-color="#0085ff"/><stop offset="0.33" stop-color="#00c0ff"/><stop offset="0.67" stop-color="#12fce5"/><stop offset="1" stop-color="#42ffb5"/></linearGradient><linearGradient id="gC67" x1="0" y1="0" x2="1" y2="0"><stop offset="0" stop-color="#001fff"/><stop offset="1" stop-color="#0052ff"/></linearGradient><clipPath id="pcC"><rect x="467.4" y="90" width="287.3" height="540"/></clipPath><clipPath id="hcC"><path transform="scale(.5)" d="M933 277c1-6 3-15 7-22 5-7 13-13 20-19 7-7 17-15 24-18 8-2 16-1 20 3 3 4 4 15 2 22 -2 7-9 14-14 20 -6 6-13 12-20 17 -6 4-13 8-19 9 -6 2-14 2-17 0 -3-2-4-6-3-12z"/><path transform="scale(.5)" d="M977 301c2-8 10-22 15-32 5-10 10-21 14-28 4-7 4-11 10-15 6-4 16-7 25-8 9 0 20 4 29 5 8 2 17 3 22 5 5 2 9 2 8 9 0 7-7 24-9 34 -3 10-1 20-5 25 -5 5-12 5-21 5 -10 0-26-9-37-7 -11 2-21 17-28 21 -7 4-13 5-17 3 -4-3-7-9-6-17z"/><path transform="scale(.5)" d="M1080 295c0-6 6-22 10-31 5-9 12-17 20-24 8-7 19-15 29-19 9-4 23-7 30-5 7 2 10 8 13 16 3 7 4 20 2 29 -1 9-4 19-10 25 -5 6-15 10-24 13 -9 2-19 1-29 2 -10 1-22 2-29 1 -7-1-11-1-12-7z"/><path transform="scale(.5)" d="M933 292c5-5 21-8 27-6 7 3 12 14 14 21 1 7 0 17-6 22 -6 4-24 8-30 5 -5-2-4-14-5-21 -1-7-4-17 0-21z"/><path transform="scale(.5)" d="M936 334c5-7 23-7 30-3 6 3 7 14 8 23 0 9 2 24-3 31 -5 6-21 11-27 8 -7-3-10-14-11-24 -1-10-3-29 3-35z"/><path transform="scale(.5)" d="M933 405c4-23 11-12 18-15 7-4 17-6 25-5 8 1 16 0 21 10 4 10 6 26 7 49 1 22-2 58-2 84 0 26 3 53 2 71 -1 17-1 28-8 35 -6 6-19 4-30 5 -10 0-27 15-33-3 -6-18-2-69-2-108 0-38-1-100 2-123z"/><path transform="scale(.5)" d="M1020 307c1-9 8-18 15-21 8-2 21 2 30 5 10 3 20 8 29 15 10 6 21 16 29 23 8 7 15 13 19 20 4 6 8 13 6 17 -3 4-13 5-22 5 -10 1-23-2-34-4 -11-3-23-6-33-10 -10-4-23-6-29-15 -7-8-11-25-10-35z"/><path transform="scale(.5)" d="M1080 293c3-5 21-3 25 3 4 6 3 30 0 34 -3 5-15 0-19-6 -4-6-9-26-6-31z"/><path transform="scale(.5)" d="M1001 406c1-7 6-21 10-29 4-8 9-16 15-20 5-4 13-9 17-6 4 4 5 18 6 27 0 9-3 23-5 29 -3 7-5 8-11 11 -6 3-21 7-26 5 -6-2-7-9-6-17z"/><path transform="scale(.5)" d="M1030 448c-1-6 8-20 14-29 5-9 11-18 19-24 8-7 19-11 29-15 10-3 23-5 34-5 10 1 21 2 29 5 7 4 13 9 15 16 3 7 1 19-2 26 -3 6-10 11-18 15 -7 4-18 7-29 9 -10 3-22 4-33 5 -11 1-23 3-33 2 -10 0-23 1-25-5z"/><path transform="scale(.5)" d="M1170 388c-1-9 1-21 5-30 3-8 8-16 14-24 7-8 15-17 24-24 9-6 18-12 29-14 11-3 28-3 39 0 11 2 21 7 29 14 8 8 15 19 20 30 4 10 9 24 9 34 0 10-3 20-10 25 -7 5-17 4-30 5 -13 1-31 2-47 3 -15 0-34 1-47 2 -12 0-21 3-27 0 -6-4-8-13-8-21z"/><path transform="scale(.5)" d="M1160 323c-2-5 2-16 5-21 4-6 9-11 16-13 6-3 19-3 25-3 6 1 11 2 12 6 1 5-2 16-6 22 -3 6-9 12-15 15 -6 3-14 6-20 5 -7-1-15-6-17-11z"/><path transform="scale(.5)" d="M1214 288c0-5 2-14 8-20 6-5 19-9 29-14 9-5 19-9 28-14 10-5 21-13 29-15 8-2 15-1 17 3 3 5 0 17-2 24 -3 8-6 15-13 20 -7 6-19 11-29 15 -9 3-19 6-29 7 -9 1-22 1-29 0 -6-1-9-2-9-6z"/><path transform="scale(.5)" d="M1325 270c1-11 4-22 9-29 6-8 18-15 25-18 8-2 15-1 21 3 6 3 11 11 15 20 4 8 9 18 10 29 1 10-2 23-5 34 -3 10-8 22-15 29 -6 7-17 10-25 10 -9 0-20-3-26-10 -5-7-8-18-9-30 -2-11-2-27 0-38z"/><path transform="scale(.5)" d="M1411 270c1-7 2-22 8-29 5-8 15-13 25-15 9-3 22-3 33-3 11 0 25-3 31 3 5 5 2 20 2 30 0 11 6 27-2 33 -8 6-32 3-45 3 -13 0-25-1-33-3 -8-1-13-2-16-5 -3-3-4-6-3-14z"/><path transform="scale(.5)" d="M1360 378c0-7 2-20 7-29 5-9 15-17 24-24 9-8 18-15 29-20 10-4 22-7 33-9 11-2 24-3 34-3 9 1 19-13 23 3 4 16 7 76 0 93 -7 18-26 10-42 13 -16 2-38 3-52 2 -14 0-24-2-33-5 -9-2-17-6-21-10 -3-3-3-4-2-11z"/><path transform="scale(.5)" d="M1329 339c4-11 16-9 23-6 6 3 14 11 15 21 2 10 0 31-5 40 -4 8-15 10-21 10 -6 1-12 6-14-5 -2-11-2-49 2-60z"/><path transform="scale(.5)" d="M1169 409c6-4 22-3 36-3 14 0 32-1 47 0 16 1 36 3 48 5 11 2 18-1 21 8 2 8-4 29-8 44 -3 16-6 40-12 49 -5 8-12 4-21 2 -9-1-23-6-34-12 -11-6-23-14-33-24 -10-9-22-24-29-33 -6-8-9-13-12-19 -2-6-8-14-3-17z"/><path transform="scale(.5)" d="M1310 453c2-12 4-26 10-34 6-9 13-13 25-15 12-3 32 0 48 0 15 0 27 0 47 0 19 0 58-21 70 0 12 20 10 101 0 122 -10 21-41 2-61 2 -20 0-38 1-57-2 -19-3-43-9-57-14 -13-6-20-10-25-20 -4-10-1-27 0-39z"/><path transform="scale(.5)" d="M1008 473c-2-5 2-15 5-19 3-5 9-9 14-9 5 0 12 3 14 9 3 6 3 19 0 24 -2 5-11 7-17 6 -5-1-14-6-16-11z"/><path transform="scale(.5)" d="M1085 476c1-5 5-12 11-16 6-4 16-6 25-7 9-1 21-1 29 2 8 3 14 9 18 16 3 7 6 20 3 26 -4 6-16 9-26 10 -10 1-25-2-34-4 -9-3-16-6-20-11 -5-4-7-10-6-16z"/><path transform="scale(.5)" d="M1013 509c1-6 2-16 8-21 5-4 15-4 25-5 9 0 24-2 30 3 6 4 7 17 5 24 -1 7-7 17-15 21 -8 3-21 3-30 2 -8-1-17-4-21-8 -3-4-3-10-2-16z"/><path transform="scale(.5)" d="M1081 528c1-9 5-17 10-21 5-4 14-8 21-5 7 2 16 11 21 20 4 9 6 26 5 35 -2 9-9 17-16 21 -7 3-19 3-26 0 -7-4-13-13-15-21 -3-8-2-21 0-29z"/><path transform="scale(.5)" d="M1142 537c2-9 6-16 15-21 9-4 26-5 39-7 13-1 31-5 39-2 8 3 10 12 11 21 0 8-5 19-10 29 -5 11-11 26-20 34 -8 8-18 13-29 15 -11 1-28 1-35-5 -8-6-9-20-10-30 -2-11-3-25 0-34z"/><path transform="scale(.5)" d="M1286 528c1-6 9-13 17-16 7-4 18-4 29-3 11 2 24 7 38 12 14 5 33 12 47 19 14 6 29 12 38 19 9 7 15 14 16 21 1 6-3 15-11 17 -9 2-25-1-40-5 -14-4-31-13-47-19 -16-7-34-14-47-19 -12-5-22-5-29-10 -6-4-12-11-11-16z"/><path transform="scale(.5)" d="M1005 547c0-6 6-13 11-17 6-3 16-4 21-2 6 2 13 8 14 14 1 5-2 15-8 19 -6 4-20 5-27 3 -6-3-11-12-11-17z"/><path transform="scale(.5)" d="M1031 570c2-6 7-13 12-14 4-2 14 1 17 5 3 5 5 15 3 20 -2 5-9 9-14 11 -5 1-12 1-15-3 -3-4-4-14-3-19z"/><path transform="scale(.5)" d="M989 589c1-7 10-14 16-17 6-2 17-4 20 0 3 5 2 22-2 28 -5 7-17 13-23 11 -5-2-12-16-11-22z"/><path transform="scale(.5)" d="M1062 598c0-5 4-15 10-19 7-3 21-3 27 0 6 4 11 15 9 21 -2 5-13 9-19 10 -7 2-17 2-21 0 -5-2-7-6-6-12z"/><path transform="scale(.5)" d="M1113 603c2-7 6-15 11-19 5-3 16-6 22-2 5 3 10 14 11 21 0 7-4 17-8 21 -5 4-14 6-19 5 -6 0-11-3-14-8 -3-4-4-12-3-18z"/><path transform="scale(.5)" d="M1181 631c1-8 6-17 13-25 7-8 17-17 29-24 11-7 25-14 38-19 12-5 28-9 38-9 10-1 17 0 21 5 4 5 6 15 5 25 -1 11-5 26-9 39 -4 12-9 27-15 38 -5 10-10 19-19 24 -9 5-24 7-35 5 -11-1-24-9-34-14 -9-6-19-12-24-20 -5-7-8-17-8-25z"/><path transform="scale(.5)" d="M1006 669c0-13 4-29 9-39 6-11 14-20 25-25 11-5 29-6 39-5 11 2 20 7 25 15 6 9 9 22 10 35 1 12-2 28-5 40 -2 11-4 20-9 29 -5 9-13 19-20 24 -6 5-13 6-20 5 -8 0-18-3-25-10 -8-6-15-17-20-29 -5-11-9-27-9-40z"/><path transform="scale(.5)" d="M1109 658c3-10 8-16 15-20 7-4 17-6 25-5 9 2 19 9 25 15 7 6 14 14 15 20 2 6 0 11-5 16 -5 5-16 12-24 17 -8 5-17 11-24 14 -8 3-17 6-21 3 -5-3-8-9-8-19 -1-10-1-30 2-41z"/><path transform="scale(.5)" d="M933 668c3-13 10-20 18-25 8-5 21-7 30-5 9 2 19 7 23 15 4 9 5 27 2 36 -3 8-13 12-20 17 -6 4-10 9-19 12 -9 2-28 11-34 2 -6-8-3-39 0-52z"/><path transform="scale(.5)" d="M1292 645c3-13 7-24 14-34 7-10 19-22 29-29 10-7 19-13 29-14 10-2 19 0 30 5 10 4 23 14 33 24 11 9 20 22 29 33 8 10 19 20 22 29 2 8-2 17-6 23 -3 5-8 5-17 10 -9 4-24 13-38 19 -14 5-31 11-47 14 -16 3-35 3-48 2 -13-1-24-1-30-7 -6-7-5-18-5-31 0-12 2-31 5-44z"/><path transform="scale(.5)" d="M1509 661c6 24 9 147 1 176 -8 30-31 1-47 0 -16-1-35-4-48-7 -12-3-24-6-29-12 -6-7-5-18-3-26 2-8 6-16 12-24 6-9 15-16 24-24 10-9 23-20 33-28 10-9 18-15 28-24 10-9 24-55 29-31z"/><path transform="scale(.5)" d="M935 725c3-13 8-6 17-8 8-1 24-2 34 0 9 2 19 6 25 13 5 7 8 19 9 29 2 10 2 23-2 30 -4 8-12 13-23 15 -11 3-34 2-44 0 -10-1-13 3-16-10 -2-13-2-56 0-69z"/><path transform="scale(.5)" d="M1020 802c0-9 5-26 10-34 5-9 11-13 20-16 8-2 17-4 29-2 12 2 29 9 43 14 13 5 26 11 38 17 11 6 22 12 29 19 6 8 9 17 10 25 0 8 3 18-6 22 -8 4-29 2-44 2 -15 0-32-2-47-5 -15-2-31-8-43-12 -12-3-22-4-29-9 -7-5-10-12-10-21z"/><path transform="scale(.5)" d="M1084 740c2-4 17-10 26-15 9-5 21-11 29-15 8-3 16-8 19-5 4 3 5 15 3 23 -2 7-8 15-15 20 -7 4-17 6-25 7 -8 1-19 0-25-2 -6-3-14-8-12-13z"/><path transform="scale(.5)" d="M1158 745c0-8 2-16 7-24 6-8 16-18 25-24 9-7 18-10 29-12 10-3 25-7 34-5 8 1 14 7 16 13 2 7-1 17-5 26 -4 8-11 17-19 24 -8 7-20 14-29 19 -10 5-20 10-29 12 -9 2-19 2-24-3 -5-4-5-17-5-26z"/><path transform="scale(.5)" d="M1193 783c1-8 5-15 11-19 5-3 14-4 21-2 7 2 16 9 20 15 4 6 7 14 5 21 -1 7-9 16-15 20 -6 5-15 7-21 6 -6-2-12-9-16-16 -3-7-6-18-5-25z"/><path transform="scale(.5)" d="M1254 769c2-10 5-23 10-30 5-7 13-10 21-10 7-1 16 8 23 7 7-1 10-9 18-12 9-2 23-2 34-2 11 0 26-1 34 2 8 3 14 10 16 16 1 6-1 13-5 21 -5 7-12 15-20 24 -8 9-19 20-28 28 -10 8-18 15-29 19 -10 5-24 7-34 5 -10-1-18-8-25-14 -7-7-12-16-15-25 -2-9-1-20 0-29z"/><path transform="scale(.5)" d="M966 820c1-8 7-14 13-16 7-2 17-2 26 2 9 4 18 15 28 22 11 7 24 12 33 19 9 6 16 11 20 19 4 9 4 22 2 30 -1 9-5 16-12 21 -8 4-20 6-30 5 -11-2-25-8-35-15 -9-7-17-19-24-29 -6-9-13-19-16-28 -4-10-7-22-5-30z"/><path transform="scale(.5)" d="M933 843c3-15 13-10 19-11 6-1 14-1 19 5 4 6 7 20 7 30 1 10-1 21-5 30 -3 8-8 17-15 20 -7 3-21 12-25 0 -4-12-3-60 0-74z"/><path transform="scale(.5)" d="M1102 871c1-5 6-12 13-15 6-4 18-6 25-5 7 1 15 5 18 10 4 6 5 16 3 22 -2 5-9 10-16 13 -6 2-18 4-25 2 -7-1-12-6-16-10 -3-5-4-11-2-17z"/><path transform="scale(.5)" d="M1189 867c2-11 4-23 9-30 6-6 16-8 25-10 10-1 22-2 30 0 8 3 15 7 20 16 5 9 8 25 10 38 1 14 1 31 0 43 -2 12-4 23-10 30 -6 6-16 9-25 10 -9 1-21 0-30-5 -9-5-19-15-25-25 -5-9-6-22-7-34 -1-11 1-22 3-33z"/><path transform="scale(.5)" d="M1277 877c-1-8 5-19 11-25 5-7 14-11 24-15 11-4 26-6 38-7 13-1 28-2 35 2 8 4 11 14 11 21 0 8-4 19-11 26 -6 6-18 11-29 14 -10 4-23 6-33 8 -11 1-23 3-30 0 -8-4-15-16-16-24z"/><path transform="scale(.5)" d="M1392 862c2-5 5-14 13-18 8-4 21-4 35-5 13 0 35 1 47 2 12 2 19-6 23 6 4 12 6 56 0 66 -5 10-22-2-34-5 -11-4-26-11-37-15 -11-4-21-6-29-9 -7-3-12-7-15-10 -3-4-4-7-3-12z"/><path transform="scale(.5)" d="M1289 933c1-7 2-18 8-25 5-7 13-12 25-15 12-3 31-5 47-5 16 0 35 3 48 5 13 2 22 5 29 10 7 4 12 9 11 16 -1 7-8 19-16 25 -7 7-17 12-29 15 -12 3-29 4-43 5 -13 0-27-1-38-3 -10-1-17-2-23-4 -7-2-13-4-16-8 -3-4-4-9-3-16z"/><path transform="scale(.5)" d="M973 937c1-6 5-16 10-20 5-4 15-6 21-5 7 0 15 4 19 10 3 6 4 19 2 26 -2 7-9 13-16 16 -6 2-15 2-20 0 -6-2-11-6-13-11 -3-4-4-10-3-16z"/><path transform="scale(.5)" d="M933 921c3-18 13-4 20-2 6 1 13 5 20 12 6 7 14 20 19 29 5 9 10 16 12 24 2 8 1 18-3 25 -3 8-11 15-20 18 -8 3-21 2-29 2 -8 1-16 18-19 0 -3-18-3-89 0-108z"/><path transform="scale(.5)" d="M1034 970c1-10 3-20 10-25 7-5 19-6 30-5 12 1 30 5 39 10 9 4 14 9 15 15 2 6 0 15-5 21 -5 6-15 12-25 15 -9 4-23 7-33 7 -10 1-21 4-26-2 -5-7-6-26-5-36z"/><path transform="scale(.5)" d="M1142 904c1-9 5-16 10-18 6-3 15-2 22 2 7 5 12 16 19 25 7 8 17 20 24 28 6 8 13 14 15 20 1 6 0 12-6 16 -6 5-20 7-30 8 -10 1-20 2-29 0 -9-2-19-6-23-13 -4-7-2-18-2-29 -1-12-2-29 0-39z"/><path transform="scale(.5)" d="M1259 978c3-4 10-8 21-10 10-2 31-3 43-2 11 0 19 3 25 7 5 4 10 11 10 16 0 6-2 13-11 17 -8 3-26 4-39 5 -13 0-30 0-38-3 -9-2-9-8-11-13 -2-5-4-12 0-17z"/><path transform="scale(.5)" d="M1364 979c2-4 5-9 14-11 8-2 27-3 38-2 12 0 24 1 30 5 6 3 9 9 9 14 -1 5-6 13-14 16 -8 4-24 5-34 5 -11 0-23-2-30-5 -6-2-8-7-10-10 -2-4-5-8-3-12z"/><path transform="scale(.5)" d="M1451 989c0-5 4-11 10-16 6-4 17-9 25-10 8-1 20-5 24 3 4 8 4 37 0 45 -4 7-16 1-24 0 -8-1-19-2-25-5 -5-4-10-11-10-17z"/><path transform="scale(.5)" d="M947 1054c2-6 6-13 13-20 6-6 15-13 24-19 8-5 20-11 28-14 9-3 20-9 23-6 3 3 0 16-3 24 -3 7-10 13-17 19 -7 7-16 14-24 19 -8 6-17 12-24 15 -7 2-14 3-17 0 -3-3-5-11-3-18z"/><path transform="scale(.5)" d="M1027 1050c1-11 1-17 7-25 6-7 18-14 29-19 12-6 26-11 38-14 12-4 26-9 35-8 8 1 14 5 18 13 3 9 4 27 2 40 -1 12-4 23-9 33 -6 11-16 21-24 29 -9 8-19 14-29 19 -10 5-20 10-29 10 -10 0-20-3-26-10 -6-7-10-18-12-30 -2-11-1-28 0-38z"/><path transform="scale(.5)" d="M1142 1055c2-9 11-24 19-34 8-11 18-21 29-29 10-8 23-15 33-19 10-5 18-9 25-8 7 1 12 6 16 13 4 7 7 17 9 30 3 12 6 31 8 47 1 16 1 33 0 47 -2 14-3 29-8 39 -4 9-11 15-20 20 -8 4-21 7-30 5 -8-3-15-12-20-21 -5-9-7-22-10-33 -3-11-4-25-9-31 -4-6-10-3-17-5 -7-1-18-1-23-5 -4-3-5-8-2-16z"/><path transform="scale(.5)" d="M1306 1031c1-8 5-16 10-20 5-5 13-7 20-8 8-1 18-1 25 3 7 3 15 12 18 20 3 8 4 20 2 29 -1 10-3 20-10 26 -6 5-20 9-30 9 -9 1-19 0-25-5 -6-5-9-16-10-25 -2-9-2-21 0-29z"/><path transform="scale(.5)" d="M1383 1036c1-12 3-20 8-25 4-6 14-9 21-8 7 1 14 4 18 13 4 9 5 27 5 39 1 12 1 25-2 34 -3 9-9 15-16 18 -6 3-15 4-21 0 -6-4-11-11-13-23 -2-12-1-36 0-48z"/><path transform="scale(.5)" d="M1437 1055c1-10 5-21 10-26 5-5 16-7 22-5 6 2 11 8 13 16 2 9 1 26-2 35 -3 9-10 15-16 18 -6 2-17 4-22-3 -5-6-6-25-5-35z"/><path transform="scale(.5)" d="M1479 1036c1-9 5-16 10-21 6-4 18-21 21-6 4 15 4 81 0 96 -3 15-16 0-21-6 -5-6-6-19-7-30 -2-10-4-24-3-33z"/><path transform="scale(.5)" d="M961 1087c1-8 3-15 8-18 6-4 17-3 25-3 9 1 19 1 25 5 7 5 11 11 13 21 2 10 0 27-2 39 -2 11-4 24-10 29 -6 6-19 7-26 6 -8-2-16-7-21-16 -5-8-7-23-9-34 -2-10-4-21-3-29z"/><path transform="scale(.5)" d="M1052 1144c0-7 6-16 11-21 5-5 14-8 21-8 6 1 15 5 18 11 4 6 5 17 3 24 -2 6-9 13-16 15 -7 3-20 4-26 0 -6-3-11-14-11-21z"/><path transform="scale(.5)" d="M1271 1130c1-9 5-19 12-25 7-7 19-13 29-15 11-3 21-2 34 0 14 1 32 5 47 9 16 4 33 10 47 14 15 5 27 9 38 15 12 5 29 13 32 18 3 5-5 7-13 10 -8 2-20 4-34 5 -13 1-27 1-47 2 -19 1-50 2-70 2 -21 1-40 2-52 0 -12-1-17-4-21-10 -4-6-4-17-2-25z"/><path transform="scale(.5)" d="M1440 1117c-3-5 9-18 17-22 8-5 20-4 29-5 9-1 20-7 24 0 4 7 6 37 0 43 -5 6-22-3-33-5 -12-3-34-5-37-11z"/><path transform="scale(.5)" d="M1029 914c12-2 54-2 66 0 11 2 4 9 3 13 -1 3 2 7-9 9 -10 1-44 1-54 0 -10-2-6-6-7-9 -1-4-10-11 1-13z"/><rect x="467.4" y="584" width="287.3" height="35"/></clipPath><filter id="blC" x="-10%" y="-10%" width="120%" height="120%"><feGaussianBlur stdDeviation="1.1"/></filter></defs><g transform="translate(886.50 582.00) scale(0.9810 0.9890) translate(-467.40 -584.00)"><rect x="467.4" y="584" width="287.3" height="35" fill="#0008c0" stroke="#000060" stroke-width="1"/><g clip-path="url(#pcC)"><g transform="scale(.5)" stroke="#1c2010" stroke-width="2.4" stroke-opacity="0.85"><path d="M933 277c1-6 3-15 7-22 5-7 13-13 20-19 7-7 17-15 24-18 8-2 16-1 20 3 3 4 4 15 2 22 -2 7-9 14-14 20 -6 6-13 12-20 17 -6 4-13 8-19 9 -6 2-14 2-17 0 -3-2-4-6-3-12z" fill="url(#gC0)"/><path d="M977 301c2-8 10-22 15-32 5-10 10-21 14-28 4-7 4-11 10-15 6-4 16-7 25-8 9 0 20 4 29 5 8 2 17 3 22 5 5 2 9 2 8 9 0 7-7 24-9 34 -3 10-1 20-5 25 -5 5-12 5-21 5 -10 0-26-9-37-7 -11 2-21 17-28 21 -7 4-13 5-17 3 -4-3-7-9-6-17z" fill="url(#gC1)"/><path d="M1080 295c0-6 6-22 10-31 5-9 12-17 20-24 8-7 19-15 29-19 9-4 23-7 30-5 7 2 10 8 13 16 3 7 4 20 2 29 -1 9-4 19-10 25 -5 6-15 10-24 13 -9 2-19 1-29 2 -10 1-22 2-29 1 -7-1-11-1-12-7z" fill="url(#gC2)"/><path d="M933 292c5-5 21-8 27-6 7 3 12 14 14 21 1 7 0 17-6 22 -6 4-24 8-30 5 -5-2-4-14-5-21 -1-7-4-17 0-21z" fill="url(#gC3)"/><path d="M936 334c5-7 23-7 30-3 6 3 7 14 8 23 0 9 2 24-3 31 -5 6-21 11-27 8 -7-3-10-14-11-24 -1-10-3-29 3-35z" fill="url(#gC4)"/><path d="M933 405c4-23 11-12 18-15 7-4 17-6 25-5 8 1 16 0 21 10 4 10 6 26 7 49 1 22-2 58-2 84 0 26 3 53 2 71 -1 17-1 28-8 35 -6 6-19 4-30 5 -10 0-27 15-33-3 -6-18-2-69-2-108 0-38-1-100 2-123z" fill="url(#gC5)"/><path d="M1020 307c1-9 8-18 15-21 8-2 21 2 30 5 10 3 20 8 29 15 10 6 21 16 29 23 8 7 15 13 19 20 4 6 8 13 6 17 -3 4-13 5-22 5 -10 1-23-2-34-4 -11-3-23-6-33-10 -10-4-23-6-29-15 -7-8-11-25-10-35z" fill="url(#gC6)"/><path d="M1080 293c3-5 21-3 25 3 4 6 3 30 0 34 -3 5-15 0-19-6 -4-6-9-26-6-31z" fill="#001fff"/><path d="M1001 406c1-7 6-21 10-29 4-8 9-16 15-20 5-4 13-9 17-6 4 4 5 18 6 27 0 9-3 23-5 29 -3 7-5 8-11 11 -6 3-21 7-26 5 -6-2-7-9-6-17z" fill="#0052ff"/><path d="M1030 448c-1-6 8-20 14-29 5-9 11-18 19-24 8-7 19-11 29-15 10-3 23-5 34-5 10 1 21 2 29 5 7 4 13 9 15 16 3 7 1 19-2 26 -3 6-10 11-18 15 -7 4-18 7-29 9 -10 3-22 4-33 5 -11 1-23 3-33 2 -10 0-23 1-25-5z" fill="url(#gC9)"/><path d="M1170 388c-1-9 1-21 5-30 3-8 8-16 14-24 7-8 15-17 24-24 9-6 18-12 29-14 11-3 28-3 39 0 11 2 21 7 29 14 8 8 15 19 20 30 4 10 9 24 9 34 0 10-3 20-10 25 -7 5-17 4-30 5 -13 1-31 2-47 3 -15 0-34 1-47 2 -12 0-21 3-27 0 -6-4-8-13-8-21z" fill="url(#gC10)"/><path d="M1160 323c-2-5 2-16 5-21 4-6 9-11 16-13 6-3 19-3 25-3 6 1 11 2 12 6 1 5-2 16-6 22 -3 6-9 12-15 15 -6 3-14 6-20 5 -7-1-15-6-17-11z" fill="#0000f9"/><path d="M1214 288c0-5 2-14 8-20 6-5 19-9 29-14 9-5 19-9 28-14 10-5 21-13 29-15 8-2 15-1 17 3 3 5 0 17-2 24 -3 8-6 15-13 20 -7 6-19 11-29 15 -9 3-19 6-29 7 -9 1-22 1-29 0 -6-1-9-2-9-6z" fill="url(#gC12)"/><path d="M1325 270c1-11 4-22 9-29 6-8 18-15 25-18 8-2 15-1 21 3 6 3 11 11 15 20 4 8 9 18 10 29 1 10-2 23-5 34 -3 10-8 22-15 29 -6 7-17 10-25 10 -9 0-20-3-26-10 -5-7-8-18-9-30 -2-11-2-27 0-38z" fill="#0000a8"/><path d="M1411 270c1-7 2-22 8-29 5-8 15-13 25-15 9-3 22-3 33-3 11 0 25-3 31 3 5 5 2 20 2 30 0 11 6 27-2 33 -8 6-32 3-45 3 -13 0-25-1-33-3 -8-1-13-2-16-5 -3-3-4-6-3-14z" fill="url(#gC14)"/><path d="M1360 378c0-7 2-20 7-29 5-9 15-17 24-24 9-8 18-15 29-20 10-4 22-7 33-9 11-2 24-3 34-3 9 1 19-13 23 3 4 16 7 76 0 93 -7 18-26 10-42 13 -16 2-38 3-52 2 -14 0-24-2-33-5 -9-2-17-6-21-10 -3-3-3-4-2-11z" fill="url(#gC15)"/><path d="M1329 339c4-11 16-9 23-6 6 3 14 11 15 21 2 10 0 31-5 40 -4 8-15 10-21 10 -6 1-12 6-14-5 -2-11-2-49 2-60z" fill="#0000d6"/><path d="M1169 409c6-4 22-3 36-3 14 0 32-1 47 0 16 1 36 3 48 5 11 2 18-1 21 8 2 8-4 29-8 44 -3 16-6 40-12 49 -5 8-12 4-21 2 -9-1-23-6-34-12 -11-6-23-14-33-24 -10-9-22-24-29-33 -6-8-9-13-12-19 -2-6-8-14-3-17z" fill="url(#gC17)"/><path d="M1310 453c2-12 4-26 10-34 6-9 13-13 25-15 12-3 32 0 48 0 15 0 27 0 47 0 19 0 58-21 70 0 12 20 10 101 0 122 -10 21-41 2-61 2 -20 0-38 1-57-2 -19-3-43-9-57-14 -13-6-20-10-25-20 -4-10-1-27 0-39z" fill="url(#gC18)"/><path d="M1008 473c-2-5 2-15 5-19 3-5 9-9 14-9 5 0 12 3 14 9 3 6 3 19 0 24 -2 5-11 7-17 6 -5-1-14-6-16-11z" fill="#001fff"/><path d="M1085 476c1-5 5-12 11-16 6-4 16-6 25-7 9-1 21-1 29 2 8 3 14 9 18 16 3 7 6 20 3 26 -4 6-16 9-26 10 -10 1-25-2-34-4 -9-3-16-6-20-11 -5-4-7-10-6-16z" fill="#001fff"/><path d="M1013 509c1-6 2-16 8-21 5-4 15-4 25-5 9 0 24-2 30 3 6 4 7 17 5 24 -1 7-7 17-15 21 -8 3-21 3-30 2 -8-1-17-4-21-8 -3-4-3-10-2-16z" fill="#0000f9"/><path d="M1081 528c1-9 5-17 10-21 5-4 14-8 21-5 7 2 16 11 21 20 4 9 6 26 5 35 -2 9-9 17-16 21 -7 3-19 3-26 0 -7-4-13-13-15-21 -3-8-2-21 0-29z" fill="url(#gC22)"/><path d="M1142 537c2-9 6-16 15-21 9-4 26-5 39-7 13-1 31-5 39-2 8 3 10 12 11 21 0 8-5 19-10 29 -5 11-11 26-20 34 -8 8-18 13-29 15 -11 1-28 1-35-5 -8-6-9-20-10-30 -2-11-3-25 0-34z" fill="url(#gC23)"/><path d="M1286 528c1-6 9-13 17-16 7-4 18-4 29-3 11 2 24 7 38 12 14 5 33 12 47 19 14 6 29 12 38 19 9 7 15 14 16 21 1 6-3 15-11 17 -9 2-25-1-40-5 -14-4-31-13-47-19 -16-7-34-14-47-19 -12-5-22-5-29-10 -6-4-12-11-11-16z" fill="url(#gC24)"/><path d="M1005 547c0-6 6-13 11-17 6-3 16-4 21-2 6 2 13 8 14 14 1 5-2 15-8 19 -6 4-20 5-27 3 -6-3-11-12-11-17z" fill="#0052ff"/><path d="M1031 570c2-6 7-13 12-14 4-2 14 1 17 5 3 5 5 15 3 20 -2 5-9 9-14 11 -5 1-12 1-15-3 -3-4-4-14-3-19z" fill="#0052ff"/><path d="M989 589c1-7 10-14 16-17 6-2 17-4 20 0 3 5 2 22-2 28 -5 7-17 13-23 11 -5-2-12-16-11-22z" fill="#0052ff"/><path d="M1062 598c0-5 4-15 10-19 7-3 21-3 27 0 6 4 11 15 9 21 -2 5-13 9-19 10 -7 2-17 2-21 0 -5-2-7-6-6-12z" fill="#0052ff"/><path d="M1113 603c2-7 6-15 11-19 5-3 16-6 22-2 5 3 10 14 11 21 0 7-4 17-8 21 -5 4-14 6-19 5 -6 0-11-3-14-8 -3-4-4-12-3-18z" fill="#0052ff"/><path d="M1181 631c1-8 6-17 13-25 7-8 17-17 29-24 11-7 25-14 38-19 12-5 28-9 38-9 10-1 17 0 21 5 4 5 6 15 5 25 -1 11-5 26-9 39 -4 12-9 27-15 38 -5 10-10 19-19 24 -9 5-24 7-35 5 -11-1-24-9-34-14 -9-6-19-12-24-20 -5-7-8-17-8-25z" fill="url(#gC30)"/><path d="M1006 669c0-13 4-29 9-39 6-11 14-20 25-25 11-5 29-6 39-5 11 2 20 7 25 15 6 9 9 22 10 35 1 12-2 28-5 40 -2 11-4 20-9 29 -5 9-13 19-20 24 -6 5-13 6-20 5 -8 0-18-3-25-10 -8-6-15-17-20-29 -5-11-9-27-9-40z" fill="url(#gC31)"/><path d="M1109 658c3-10 8-16 15-20 7-4 17-6 25-5 9 2 19 9 25 15 7 6 14 14 15 20 2 6 0 11-5 16 -5 5-16 12-24 17 -8 5-17 11-24 14 -8 3-17 6-21 3 -5-3-8-9-8-19 -1-10-1-30 2-41z" fill="url(#gC32)"/><path d="M933 668c3-13 10-20 18-25 8-5 21-7 30-5 9 2 19 7 23 15 4 9 5 27 2 36 -3 8-13 12-20 17 -6 4-10 9-19 12 -9 2-28 11-34 2 -6-8-3-39 0-52z" fill="#0085ff"/><path d="M1292 645c3-13 7-24 14-34 7-10 19-22 29-29 10-7 19-13 29-14 10-2 19 0 30 5 10 4 23 14 33 24 11 9 20 22 29 33 8 10 19 20 22 29 2 8-2 17-6 23 -3 5-8 5-17 10 -9 4-24 13-38 19 -14 5-31 11-47 14 -16 3-35 3-48 2 -13-1-24-1-30-7 -6-7-5-18-5-31 0-12 2-31 5-44z" fill="url(#gC34)"/><path d="M1509 661c6 24 9 147 1 176 -8 30-31 1-47 0 -16-1-35-4-48-7 -12-3-24-6-29-12 -6-7-5-18-3-26 2-8 6-16 12-24 6-9 15-16 24-24 10-9 23-20 33-28 10-9 18-15 28-24 10-9 24-55 29-31z" fill="url(#gC35)"/><path d="M935 725c3-13 8-6 17-8 8-1 24-2 34 0 9 2 19 6 25 13 5 7 8 19 9 29 2 10 2 23-2 30 -4 8-12 13-23 15 -11 3-34 2-44 0 -10-1-13 3-16-10 -2-13-2-56 0-69z" fill="url(#gC36)"/><path d="M1020 802c0-9 5-26 10-34 5-9 11-13 20-16 8-2 17-4 29-2 12 2 29 9 43 14 13 5 26 11 38 17 11 6 22 12 29 19 6 8 9 17 10 25 0 8 3 18-6 22 -8 4-29 2-44 2 -15 0-32-2-47-5 -15-2-31-8-43-12 -12-3-22-4-29-9 -7-5-10-12-10-21z" fill="url(#gC37)"/><path d="M1084 740c2-4 17-10 26-15 9-5 21-11 29-15 8-3 16-8 19-5 4 3 5 15 3 23 -2 7-8 15-15 20 -7 4-17 6-25 7 -8 1-19 0-25-2 -6-3-14-8-12-13z" fill="#0052ff"/><path d="M1158 745c0-8 2-16 7-24 6-8 16-18 25-24 9-7 18-10 29-12 10-3 25-7 34-5 8 1 14 7 16 13 2 7-1 17-5 26 -4 8-11 17-19 24 -8 7-20 14-29 19 -10 5-20 10-29 12 -9 2-19 2-24-3 -5-4-5-17-5-26z" fill="#001fff"/><path d="M1193 783c1-8 5-15 11-19 5-3 14-4 21-2 7 2 16 9 20 15 4 6 7 14 5 21 -1 7-9 16-15 20 -6 5-15 7-21 6 -6-2-12-9-16-16 -3-7-6-18-5-25z" fill="#00d1ff"/><path d="M1254 769c2-10 5-23 10-30 5-7 13-10 21-10 7-1 16 8 23 7 7-1 10-9 18-12 9-2 23-2 34-2 11 0 26-1 34 2 8 3 14 10 16 16 1 6-1 13-5 21 -5 7-12 15-20 24 -8 9-19 20-28 28 -10 8-18 15-29 19 -10 5-24 7-34 5 -10-1-18-8-25-14 -7-7-12-16-15-25 -2-9-1-20 0-29z" fill="url(#gC41)"/><path d="M966 820c1-8 7-14 13-16 7-2 17-2 26 2 9 4 18 15 28 22 11 7 24 12 33 19 9 6 16 11 20 19 4 9 4 22 2 30 -1 9-5 16-12 21 -8 4-20 6-30 5 -11-2-25-8-35-15 -9-7-17-19-24-29 -6-9-13-19-16-28 -4-10-7-22-5-30z" fill="#0000f9"/><path d="M933 843c3-15 13-10 19-11 6-1 14-1 19 5 4 6 7 20 7 30 1 10-1 21-5 30 -3 8-8 17-15 20 -7 3-21 12-25 0 -4-12-3-60 0-74z" fill="#001fff"/><path d="M1102 871c1-5 6-12 13-15 6-4 18-6 25-5 7 1 15 5 18 10 4 6 5 16 3 22 -2 5-9 10-16 13 -6 2-18 4-25 2 -7-1-12-6-16-10 -3-5-4-11-2-17z" fill="#0000f9"/><path d="M1189 867c2-11 4-23 9-30 6-6 16-8 25-10 10-1 22-2 30 0 8 3 15 7 20 16 5 9 8 25 10 38 1 14 1 31 0 43 -2 12-4 23-10 30 -6 6-16 9-25 10 -9 1-21 0-30-5 -9-5-19-15-25-25 -5-9-6-22-7-34 -1-11 1-22 3-33z" fill="#0085ff"/><path d="M1277 877c-1-8 5-19 11-25 5-7 14-11 24-15 11-4 26-6 38-7 13-1 28-2 35 2 8 4 11 14 11 21 0 8-4 19-11 26 -6 6-18 11-29 14 -10 4-23 6-33 8 -11 1-23 3-30 0 -8-4-15-16-16-24z" fill="url(#gC46)"/><path d="M1392 862c2-5 5-14 13-18 8-4 21-4 35-5 13 0 35 1 47 2 12 2 19-6 23 6 4 12 6 56 0 66 -5 10-22-2-34-5 -11-4-26-11-37-15 -11-4-21-6-29-9 -7-3-12-7-15-10 -3-4-4-7-3-12z" fill="#0085ff"/><path d="M1289 933c1-7 2-18 8-25 5-7 13-12 25-15 12-3 31-5 47-5 16 0 35 3 48 5 13 2 22 5 29 10 7 4 12 9 11 16 -1 7-8 19-16 25 -7 7-17 12-29 15 -12 3-29 4-43 5 -13 0-27-1-38-3 -10-1-17-2-23-4 -7-2-13-4-16-8 -3-4-4-9-3-16z" fill="url(#gC48)"/><path d="M973 937c1-6 5-16 10-20 5-4 15-6 21-5 7 0 15 4 19 10 3 6 4 19 2 26 -2 7-9 13-16 16 -6 2-15 2-20 0 -6-2-11-6-13-11 -3-4-4-10-3-16z" fill="#001fff"/><path d="M933 921c3-18 13-4 20-2 6 1 13 5 20 12 6 7 14 20 19 29 5 9 10 16 12 24 2 8 1 18-3 25 -3 8-11 15-20 18 -8 3-21 2-29 2 -8 1-16 18-19 0 -3-18-3-89 0-108z" fill="#0085ff"/><path d="M1034 970c1-10 3-20 10-25 7-5 19-6 30-5 12 1 30 5 39 10 9 4 14 9 15 15 2 6 0 15-5 21 -5 6-15 12-25 15 -9 4-23 7-33 7 -10 1-21 4-26-2 -5-7-6-26-5-36z" fill="#0085ff"/><path d="M1142 904c1-9 5-16 10-18 6-3 15-2 22 2 7 5 12 16 19 25 7 8 17 20 24 28 6 8 13 14 15 20 1 6 0 12-6 16 -6 5-20 7-30 8 -10 1-20 2-29 0 -9-2-19-6-23-13 -4-7-2-18-2-29 -1-12-2-29 0-39z" fill="url(#gC52)"/><path d="M1259 978c3-4 10-8 21-10 10-2 31-3 43-2 11 0 19 3 25 7 5 4 10 11 10 16 0 6-2 13-11 17 -8 3-26 4-39 5 -13 0-30 0-38-3 -9-2-9-8-11-13 -2-5-4-12 0-17z" fill="#001fff"/><path d="M1364 979c2-4 5-9 14-11 8-2 27-3 38-2 12 0 24 1 30 5 6 3 9 9 9 14 -1 5-6 13-14 16 -8 4-24 5-34 5 -11 0-23-2-30-5 -6-2-8-7-10-10 -2-4-5-8-3-12z" fill="#001fff"/><path d="M1451 989c0-5 4-11 10-16 6-4 17-9 25-10 8-1 20-5 24 3 4 8 4 37 0 45 -4 7-16 1-24 0 -8-1-19-2-25-5 -5-4-10-11-10-17z" fill="#001fff"/><path d="M947 1054c2-6 6-13 13-20 6-6 15-13 24-19 8-5 20-11 28-14 9-3 20-9 23-6 3 3 0 16-3 24 -3 7-10 13-17 19 -7 7-16 14-24 19 -8 6-17 12-24 15 -7 2-14 3-17 0 -3-3-5-11-3-18z" fill="#0085ff"/><path d="M1027 1050c1-11 1-17 7-25 6-7 18-14 29-19 12-6 26-11 38-14 12-4 26-9 35-8 8 1 14 5 18 13 3 9 4 27 2 40 -1 12-4 23-9 33 -6 11-16 21-24 29 -9 8-19 14-29 19 -10 5-20 10-29 10 -10 0-20-3-26-10 -6-7-10-18-12-30 -2-11-1-28 0-38z" fill="url(#gC57)"/><path d="M1142 1055c2-9 11-24 19-34 8-11 18-21 29-29 10-8 23-15 33-19 10-5 18-9 25-8 7 1 12 6 16 13 4 7 7 17 9 30 3 12 6 31 8 47 1 16 1 33 0 47 -2 14-3 29-8 39 -4 9-11 15-20 20 -8 4-21 7-30 5 -8-3-15-12-20-21 -5-9-7-22-10-33 -3-11-4-25-9-31 -4-6-10-3-17-5 -7-1-18-1-23-5 -4-3-5-8-2-16z" fill="url(#gC58)"/><path d="M1306 1031c1-8 5-16 10-20 5-5 13-7 20-8 8-1 18-1 25 3 7 3 15 12 18 20 3 8 4 20 2 29 -1 10-3 20-10 26 -6 5-20 9-30 9 -9 1-19 0-25-5 -6-5-9-16-10-25 -2-9-2-21 0-29z" fill="#0000ff"/><path d="M1383 1036c1-12 3-20 8-25 4-6 14-9 21-8 7 1 14 4 18 13 4 9 5 27 5 39 1 12 1 25-2 34 -3 9-9 15-16 18 -6 3-15 4-21 0 -6-4-11-11-13-23 -2-12-1-36 0-48z" fill="#0000ff"/><path d="M1437 1055c1-10 5-21 10-26 5-5 16-7 22-5 6 2 11 8 13 16 2 9 1 26-2 35 -3 9-10 15-16 18 -6 2-17 4-22-3 -5-6-6-25-5-35z" fill="#001fff"/><path d="M1479 1036c1-9 5-16 10-21 6-4 18-21 21-6 4 15 4 81 0 96 -3 15-16 0-21-6 -5-6-6-19-7-30 -2-10-4-24-3-33z" fill="#001fff"/><path d="M961 1087c1-8 3-15 8-18 6-4 17-3 25-3 9 1 19 1 25 5 7 5 11 11 13 21 2 10 0 27-2 39 -2 11-4 24-10 29 -6 6-19 7-26 6 -8-2-16-7-21-16 -5-8-7-23-9-34 -2-10-4-21-3-29z" fill="#001fff"/><path d="M1052 1144c0-7 6-16 11-21 5-5 14-8 21-8 6 1 15 5 18 11 4 6 5 17 3 24 -2 6-9 13-16 15 -7 3-20 4-26 0 -6-3-11-14-11-21z" fill="#001fff"/><path d="M1271 1130c1-9 5-19 12-25 7-7 19-13 29-15 11-3 21-2 34 0 14 1 32 5 47 9 16 4 33 10 47 14 15 5 27 9 38 15 12 5 29 13 32 18 3 5-5 7-13 10 -8 2-20 4-34 5 -13 1-27 1-47 2 -19 1-50 2-70 2 -21 1-40 2-52 0 -12-1-17-4-21-10 -4-6-4-17-2-25z" fill="url(#gC65)"/><path d="M1440 1117c-3-5 9-18 17-22 8-5 20-4 29-5 9-1 20-7 24 0 4 7 6 37 0 43 -5 6-22-3-33-5 -12-3-34-5-37-11z" fill="#001fff"/><path d="M1029 914c12-2 54-2 66 0 11 2 4 9 3 13 -1 3 2 7-9 9 -10 1-44 1-54 0 -10-2-6-6-7-9 -1-4-10-11 1-13z" fill="url(#gC67)"/></g><g clip-path="url(#hcC)"><g filter="url(#blC)" fill="none" stroke-linecap="round" stroke-linejoin="round"><g transform="scale(.5)"><path d="M1007 229l0 11 -3 8 -6 8 -6 7 -7 7" stroke="#28e0ff" stroke-width="10" stroke-opacity=".75"/><path d="M967 283l-9 4 -9 3 -11 0 -5-5" stroke="#28e0ff" stroke-width="10" stroke-opacity=".75"/><path d="M991 272l4-9 4-9 5-8 4-9 5-9" stroke="#28e0ff" stroke-width="10" stroke-opacity=".75"/><path d="M1100 242l-3 9 -4 11 -2 9 -2 11 -1 9 -4 7 -8 3" stroke="#28e0ff" stroke-width="10" stroke-opacity=".75"/><path d="M1034 294l-9 1 -8 5" stroke="#28e0ff" stroke-width="10" stroke-opacity=".75"/><path d="M980 314l-3-6 0-7" stroke="#28e0ff" stroke-width="10" stroke-opacity=".75"/><path d="M1083 281l4-11 5-8 5-8 6-7" stroke="#28e0ff" stroke-width="10" stroke-opacity=".75"/><path d="M1174 286l-4 4 -5 3" stroke="#28e0ff" stroke-width="10" stroke-opacity=".75"/><path d="M1111 302l-11 0 -8 0 -11-3 0-9" stroke="#28e0ff" stroke-width="10" stroke-opacity=".75"/><path d="M972 301l2 6 0 7" stroke="#28e0ff" stroke-width="10" stroke-opacity=".75"/><path d="M968 329l-8 3 -10 3 -9 0 -6-5" stroke="#28e0ff" stroke-width="10" stroke-opacity=".75"/><path d="M932 294l6-5 10-3 10 0 7 4" stroke="#28e0ff" stroke-width="10" stroke-opacity=".75"/><path d="M973 380l-4 7 -9 5 -11 2 -8-2" stroke="#28e0ff" stroke-width="10" stroke-opacity=".75"/><path d="M933 338l5-6 9-3 10 0 9 2" stroke="#28e0ff" stroke-width="10" stroke-opacity=".75"/><path d="M937 393l8-3 9-1 9-3 10-1" stroke="#28e0ff" stroke-width="10" stroke-opacity=".75"/><path d="M998 397l2 7 1 8 2 9" stroke="#28e0ff" stroke-width="10" stroke-opacity=".75"/><path d="M1004 460l0 9 -1 9" stroke="#28e0ff" stroke-width="10" stroke-opacity=".75"/><path d="M1002 538l0 10 1 10" stroke="#28e0ff" stroke-width="10" stroke-opacity=".75"/><path d="M1003 568l1 6" stroke="#28e0ff" stroke-width="10" stroke-opacity=".75"/><path d="M1003 608l0 7" stroke="#28e0ff" stroke-width="10" stroke-opacity=".75"/><path d="M992 637l-9 1 -10 1 -10 0 -10 4 -10 2" stroke="#28e0ff" stroke-width="10" stroke-opacity=".75"/><path d="M1020 304l3-7 4-5" stroke="#28e0ff" stroke-width="10" stroke-opacity=".75"/><path d="M1074 295l9 4 8 5" stroke="#28e0ff" stroke-width="10" stroke-opacity=".75"/><path d="M1102 311l5 4 4 4" stroke="#28e0ff" stroke-width="10" stroke-opacity=".75"/><path d="M1137 370l-11 1 -9 0" stroke="#28e0ff" stroke-width="10" stroke-opacity=".75"/><path d="M1049 354l-6-3 -6-2" stroke="#28e0ff" stroke-width="10" stroke-opacity=".75"/><path d="M1105 296l2 8 0 12" stroke="#28e0ff" stroke-width="10" stroke-opacity=".75"/><path d="M1080 304l-1-9 6-4" stroke="#28e0ff" stroke-width="10" stroke-opacity=".75"/><path d="M1035 351l8 0 3 7" stroke="#28e0ff" stroke-width="10" stroke-opacity=".75"/><path d="M1044 407l-4 7" stroke="#28e0ff" stroke-width="10" stroke-opacity=".75"/><path d="M1009 424l-7-5 -1-13 2-8" stroke="#28e0ff" stroke-width="10" stroke-opacity=".75"/><path d="M1044 419l3-5" stroke="#28e0ff" stroke-width="10" stroke-opacity=".75"/><path d="M1110 376l10 0 9 0" stroke="#28e0ff" stroke-width="10" stroke-opacity=".75"/><path d="M1164 386l5 7 2 9 0 10 -3 10" stroke="#28e0ff" stroke-width="10" stroke-opacity=".75"/><path d="M1119 447l-6 1" stroke="#28e0ff" stroke-width="10" stroke-opacity=".75"/><path d="M1047 453l-10-1 -7-4 1-7" stroke="#28e0ff" stroke-width="10" stroke-opacity=".75"/><path d="M1185 340l6-8 6-7 7-7 7-6 7-5" stroke="#28e0ff" stroke-width="10" stroke-opacity=".75"/><path d="M1230 300l9-3 9-2 10-1 10 0" stroke="#28e0ff" stroke-width="10" stroke-opacity=".75"/><path d="M1322 325l5 9 4 8" stroke="#28e0ff" stroke-width="10" stroke-opacity=".75"/><path d="M1331 397l-4 4 -5 1" stroke="#28e0ff" stroke-width="10" stroke-opacity=".75"/><path d="M1297 404l-9 1 -10 0 -9 1 -10 0 -10 1 -10 0 -10 1 -9 0 -9 1 -10 0 -10 1 -9 0 -7-3 -4-9 -1-10" stroke="#28e0ff" stroke-width="10" stroke-opacity=".75"/><path d="M1167 299l5-5 6-4" stroke="#28e0ff" stroke-width="10" stroke-opacity=".75"/><path d="M1210 287l8 5 -1 9 -3 10 -5 8 -7 7 -7 4 -10 4" stroke="#28e0ff" stroke-width="10" stroke-opacity=".75"/><path d="M1324 246l-1 6 -3 7" stroke="#28e0ff" stroke-width="10" stroke-opacity=".75"/><path d="M1275 289l-10 3 -9 2 -10 1 -11 0" stroke="#28e0ff" stroke-width="10" stroke-opacity=".75"/><path d="M1223 294l-8-3 -1-6" stroke="#28e0ff" stroke-width="10" stroke-opacity=".75"/><path d="M1326 260l2-6 2-6" stroke="#28e0ff" stroke-width="10" stroke-opacity=".75"/><path d="M1399 312l-4 10 -4 9" stroke="#28e0ff" stroke-width="10" stroke-opacity=".75"/><path d="M1380 342l-8 4 -9 2" stroke="#28e0ff" stroke-width="10" stroke-opacity=".75"/><path d="M1337 340l-6-7 -3-8" stroke="#28e0ff" stroke-width="10" stroke-opacity=".75"/><path d="M1509 287l-6 4 -9 2 -10 0 -11-1 -10 0 -10-1" stroke="#28e0ff" stroke-width="10" stroke-opacity=".75"/><path d="M1362 361l4-10 4-7 7-7" stroke="#28e0ff" stroke-width="10" stroke-opacity=".75"/><path d="M1384 331l7-6 7-6" stroke="#28e0ff" stroke-width="10" stroke-opacity=".75"/><path d="M1447 297l9-2 10-1 9 0 9-1 11-2 10-2" stroke="#28e0ff" stroke-width="10" stroke-opacity=".75"/><path d="M1509 393l-5 5 -5 2" stroke="#28e0ff" stroke-width="10" stroke-opacity=".75"/><path d="M1482 401l-10 0 -10 2 -9 0 -10 1 -10 0 -9 0 -8 0 -11 0 -9-2 -8-1 -9-3" stroke="#28e0ff" stroke-width="10" stroke-opacity=".75"/><path d="M1369 394l-5-3 -4-5" stroke="#28e0ff" stroke-width="10" stroke-opacity=".75"/><path d="M1363 344l4 10 1 8" stroke="#28e0ff" stroke-width="10" stroke-opacity=".75"/><path d="M1365 386l-3 8 -8 7 -10 3 -10 2 -7-7" stroke="#28e0ff" stroke-width="10" stroke-opacity=".75"/><path d="M1327 348l2-8 5-8" stroke="#28e0ff" stroke-width="10" stroke-opacity=".75"/><path d="M1317 414l4 7 0 7 -2 9 -2 10 -2 10 -2 9 -2 10 -2 11 -2 10" stroke="#28e0ff" stroke-width="10" stroke-opacity=".75"/><path d="M1304 505l-3 7 -8 5" stroke="#28e0ff" stroke-width="10" stroke-opacity=".75"/><path d="M1172 426l-5-12 4-6 8-2 11 0 11 0 10 0 9 0 10 0 9 0 10 0 10 0 10 1 10 1 10 1 8 1" stroke="#28e0ff" stroke-width="10" stroke-opacity=".75"/><path d="M1329 410l9-4 10-3 8 0" stroke="#28e0ff" stroke-width="10" stroke-opacity=".75"/><path d="M1376 403l10 1 10 0 9 0 8 0 9 0 10 0 10 0 9-2 11-2 10-3 11-2" stroke="#28e0ff" stroke-width="10" stroke-opacity=".75"/><path d="M1496 395l6 1 5 3" stroke="#28e0ff" stroke-width="10" stroke-opacity=".75"/><path d="M1402 527l-10-1 -9-2 -10-1 -10-3 -9-2 -9-3 -7-2 -10-5 -9-5" stroke="#28e0ff" stroke-width="10" stroke-opacity=".75"/><path d="M1312 495l-3-8 -1-9 1-10 1-9 1-10 2-10 2-10 4-8 5-7" stroke="#28e0ff" stroke-width="10" stroke-opacity=".75"/><path d="M1024 446l10 1 7 7" stroke="#28e0ff" stroke-width="10" stroke-opacity=".75"/><path d="M1041 478l-9 6 -11-1" stroke="#28e0ff" stroke-width="10" stroke-opacity=".75"/><path d="M1009 476l-2-6 2-7" stroke="#28e0ff" stroke-width="10" stroke-opacity=".75"/><path d="M1110 455l7-2" stroke="#28e0ff" stroke-width="10" stroke-opacity=".75"/><path d="M1129 506l-10-1 -8-2 -11-4" stroke="#28e0ff" stroke-width="10" stroke-opacity=".75"/><path d="M1021 488l7-3 11-1" stroke="#28e0ff" stroke-width="10" stroke-opacity=".75"/><path d="M1081 510l-2 6 -3 6" stroke="#28e0ff" stroke-width="10" stroke-opacity=".75"/><path d="M1053 534l-11 0 -9-1 -10-3 -8-5" stroke="#28e0ff" stroke-width="10" stroke-opacity=".75"/><path d="M1082 524l2-7 3-5" stroke="#28e0ff" stroke-width="10" stroke-opacity=".75"/><path d="M1096 504l10-3 9 2 7 5" stroke="#28e0ff" stroke-width="10" stroke-opacity=".75"/><path d="M1137 534l1 11 0 9 -3 10" stroke="#28e0ff" stroke-width="10" stroke-opacity=".75"/><path d="M1106 580l-10-2 -7-6" stroke="#28e0ff" stroke-width="10" stroke-opacity=".75"/><path d="M1229 572l-5 9 -6 8 -6 6 -8 5 -8 4 -9 2" stroke="#28e0ff" stroke-width="10" stroke-opacity=".75"/><path d="M1160 604l-6-2 -4-3" stroke="#28e0ff" stroke-width="10" stroke-opacity=".75"/><path d="M1145 588l-2-7" stroke="#28e0ff" stroke-width="10" stroke-opacity=".75"/><path d="M1141 565l-1-10 0-10 2-8" stroke="#28e0ff" stroke-width="10" stroke-opacity=".75"/><path d="M1289 523l7-8 9-4" stroke="#28e0ff" stroke-width="10" stroke-opacity=".75"/><path d="M1318 508l10 1 9 1 9 2 8 3 10 4 9 3 9 3 9 4 9 3" stroke="#28e0ff" stroke-width="10" stroke-opacity=".75"/><path d="M1434 595l-10-3 -9-2 -9-3" stroke="#28e0ff" stroke-width="10" stroke-opacity=".75"/><path d="M1373 573l-9-4 -9-4" stroke="#28e0ff" stroke-width="10" stroke-opacity=".75"/><path d="M1323 553l-10-3 -9-3" stroke="#28e0ff" stroke-width="10" stroke-opacity=".75"/><path d="M1016 530l9-3 10 0 8 4 7 8" stroke="#28e0ff" stroke-width="10" stroke-opacity=".75"/><path d="M1050 550l-5 9 -8 4" stroke="#28e0ff" stroke-width="10" stroke-opacity=".75"/><path d="M1022 565l-6-1" stroke="#28e0ff" stroke-width="10" stroke-opacity=".75"/><path d="M1009 556l-3-6 0-6" stroke="#28e0ff" stroke-width="10" stroke-opacity=".75"/><path d="M1032 583l-1-10 4-10 8-7 9 0" stroke="#28e0ff" stroke-width="10" stroke-opacity=".75"/><path d="M999 576l6-4" stroke="#28e0ff" stroke-width="10" stroke-opacity=".75"/><path d="M1016 570l9 2 2 8" stroke="#28e0ff" stroke-width="10" stroke-opacity=".75"/><path d="M1009 610l-6 2 -5-2" stroke="#28e0ff" stroke-width="10" stroke-opacity=".75"/><path d="M1086 577l11 1 7 6" stroke="#28e0ff" stroke-width="10" stroke-opacity=".75"/><path d="M1102 605l-7 3" stroke="#28e0ff" stroke-width="10" stroke-opacity=".75"/><path d="M1063 606l-1-8" stroke="#28e0ff" stroke-width="10" stroke-opacity=".75"/><path d="M1140 580l6 2 4 4" stroke="#28e0ff" stroke-width="10" stroke-opacity=".75"/><path d="M1155 596l2 7 -1 6" stroke="#28e0ff" stroke-width="10" stroke-opacity=".75"/><path d="M1143 627l-7 2 -6 0" stroke="#28e0ff" stroke-width="10" stroke-opacity=".75"/><path d="M1190 612l6-8 6-6 7-6 8-6 8-5 8-5" stroke="#28e0ff" stroke-width="10" stroke-opacity=".75"/><path d="M1303 553l7 1 6 1" stroke="#28e0ff" stroke-width="10" stroke-opacity=".75"/><path d="M1325 584l-1 8 -2 9" stroke="#28e0ff" stroke-width="10" stroke-opacity=".75"/><path d="M1293 675l-4 5 -5 4" stroke="#28e0ff" stroke-width="10" stroke-opacity=".75"/><path d="M1273 689l-6 1" stroke="#28e0ff" stroke-width="10" stroke-opacity=".75"/><path d="M1235 687l-8-4 -9-4" stroke="#28e0ff" stroke-width="10" stroke-opacity=".75"/><path d="M1193 661l-4-5" stroke="#28e0ff" stroke-width="10" stroke-opacity=".75"/><path d="M1058 601l7-1" stroke="#28e0ff" stroke-width="10" stroke-opacity=".75"/><path d="M1092 605l6 3" stroke="#28e0ff" stroke-width="10" stroke-opacity=".75"/><path d="M1113 639l1 11 0 9 -1 10 -1 9 -2 9 -2 10 -3 8" stroke="#28e0ff" stroke-width="10" stroke-opacity=".75"/><path d="M1095 727l-6 8 -7 7 -7 5 -9 2 -9-1" stroke="#28e0ff" stroke-width="10" stroke-opacity=".75"/><path d="M1010 694l-2-9 -2-10 0-9 1-10" stroke="#28e0ff" stroke-width="10" stroke-opacity=".75"/><path d="M1130 635l6-1 7-1" stroke="#28e0ff" stroke-width="10" stroke-opacity=".75"/><path d="M1182 655l4 6" stroke="#28e0ff" stroke-width="10" stroke-opacity=".75"/><path d="M1160 701l-8 5 -8 5 -8 4 -10 3 -9 1" stroke="#28e0ff" stroke-width="10" stroke-opacity=".75"/><path d="M1109 711l-2-12 -1-8 0-10 1-11 1-9 4-9 5-8" stroke="#28e0ff" stroke-width="10" stroke-opacity=".75"/><path d="M942 650l6-6 8-4 9-2 10-1 9 2 9 3" stroke="#28e0ff" stroke-width="10" stroke-opacity=".75"/><path d="M1002 651l4 8 2 10 0 11 -2 9" stroke="#28e0ff" stroke-width="10" stroke-opacity=".75"/><path d="M979 712l-8 5 -10 2 -10 4" stroke="#28e0ff" stroke-width="10" stroke-opacity=".75"/><path d="M940 724l-5-2 -3-3" stroke="#28e0ff" stroke-width="10" stroke-opacity=".75"/><path d="M1316 599l7-7 7-6" stroke="#28e0ff" stroke-width="10" stroke-opacity=".75"/><path d="M1355 570l9-2 10-1" stroke="#28e0ff" stroke-width="10" stroke-opacity=".75"/><path d="M1409 582l8 6 8 6 7 7" stroke="#28e0ff" stroke-width="10" stroke-opacity=".75"/><path d="M1394 719l-9 2 -9 3 -9 1 -10 2 -10 0 -10 1 -9-1 -10 0" stroke="#28e0ff" stroke-width="10" stroke-opacity=".75"/><path d="M1287 687l0-6 1-6" stroke="#28e0ff" stroke-width="10" stroke-opacity=".75"/><path d="M1510 837l-4 9" stroke="#28e0ff" stroke-width="10" stroke-opacity=".75"/><path d="M1484 846l-11-5 -10-4 -10-1 -10-1 -10-1" stroke="#28e0ff" stroke-width="10" stroke-opacity=".75"/><path d="M1382 795l3-9 3-8 5-8 6-7 6-6 7-6" stroke="#28e0ff" stroke-width="10" stroke-opacity=".75"/><path d="M947 717l10 0 9-1 10 0" stroke="#28e0ff" stroke-width="10" stroke-opacity=".75"/><path d="M1021 772l0 9 -3 8" stroke="#28e0ff" stroke-width="10" stroke-opacity=".75"/><path d="M1005 801l-10 3 -8 2 -11 0 -10 0" stroke="#28e0ff" stroke-width="10" stroke-opacity=".75"/><path d="M935 727l2-7" stroke="#28e0ff" stroke-width="10" stroke-opacity=".75"/><path d="M1020 797l2-9 3-10" stroke="#28e0ff" stroke-width="10" stroke-opacity=".75"/><path d="M1050 752l8-2 10-1 11 1 8 2 8 2 9 4 9 3" stroke="#28e0ff" stroke-width="10" stroke-opacity=".75"/><path d="M1189 800l4 6 3 7" stroke="#28e0ff" stroke-width="10" stroke-opacity=".75"/><path d="M1199 832l-1 10 -7 5" stroke="#28e0ff" stroke-width="10" stroke-opacity=".75"/><path d="M1152 849l-9 0 -10-1 -9-1" stroke="#28e0ff" stroke-width="10" stroke-opacity=".75"/><path d="M1049 830l-9-3 -8-3 -7-6" stroke="#28e0ff" stroke-width="10" stroke-opacity=".75"/><path d="M1113 723l9-5 9-4 8-4 11-5 8 0" stroke="#28e0ff" stroke-width="10" stroke-opacity=".75"/><path d="M1162 717l-1 11 -4 8" stroke="#28e0ff" stroke-width="10" stroke-opacity=".75"/><path d="M1115 756l-10-1 -9-2 -11-7 0-7 7-5" stroke="#28e0ff" stroke-width="10" stroke-opacity=".75"/><path d="M1158 742l2-9 4-9" stroke="#28e0ff" stroke-width="10" stroke-opacity=".75"/><path d="M1219 685l6-2 6-2" stroke="#28e0ff" stroke-width="10" stroke-opacity=".75"/><path d="M1265 685l3 5 2 6" stroke="#28e0ff" stroke-width="10" stroke-opacity=".75"/><path d="M1227 756l-8 5 -9 4 -9 4 -9 4" stroke="#28e0ff" stroke-width="10" stroke-opacity=".75"/><path d="M1195 776l4-8 7-5 9-2 10 1" stroke="#28e0ff" stroke-width="10" stroke-opacity=".75"/><path d="M1247 780l3 9 0 9" stroke="#28e0ff" stroke-width="10" stroke-opacity=".75"/><path d="M1232 820l-9 4 -9 0" stroke="#28e0ff" stroke-width="10" stroke-opacity=".75"/><path d="M1202 814l-4-6 -2-6" stroke="#28e0ff" stroke-width="10" stroke-opacity=".75"/><path d="M1315 732l8-6 8-3 10-1 9 0 10 0 10 0 10 0 9 1" stroke="#28e0ff" stroke-width="10" stroke-opacity=".75"/><path d="M1410 746l-2 9 -5 8 -5 7 -6 7 -7 8 -6 6" stroke="#28e0ff" stroke-width="10" stroke-opacity=".75"/><path d="M1342 825l-8 5 -9 4 -9 2 -10 2 -9 0" stroke="#28e0ff" stroke-width="10" stroke-opacity=".75"/><path d="M1255 801l-2-9 0-10" stroke="#28e0ff" stroke-width="10" stroke-opacity=".75"/><path d="M971 810l8-6 9-1 10 1" stroke="#28e0ff" stroke-width="10" stroke-opacity=".75"/><path d="M1017 815l8 7 8 6 8 5" stroke="#28e0ff" stroke-width="10" stroke-opacity=".75"/><path d="M1084 908l-4 5 -4 4" stroke="#28e0ff" stroke-width="10" stroke-opacity=".75"/><path d="M1034 919l-9-4 -8-4" stroke="#28e0ff" stroke-width="10" stroke-opacity=".75"/><path d="M984 873l-5-8 -5-7 -3-8 -3-10 -2-9" stroke="#28e0ff" stroke-width="10" stroke-opacity=".75"/><path d="M962 832l9 5 3 8 3 9 1 10 0 10" stroke="#28e0ff" stroke-width="10" stroke-opacity=".75"/><path d="M961 915l-6 3 -7 4" stroke="#28e0ff" stroke-width="10" stroke-opacity=".75"/><path d="M938 923l-5-6 -1-4" stroke="#28e0ff" stroke-width="10" stroke-opacity=".75"/><path d="M1120 853l11-2 9 0 9 3" stroke="#28e0ff" stroke-width="10" stroke-opacity=".75"/><path d="M1162 880l-4 8 -9 6 -9 3" stroke="#28e0ff" stroke-width="10" stroke-opacity=".75"/><path d="M1192 851l3-9 6-7" stroke="#28e0ff" stroke-width="10" stroke-opacity=".75"/><path d="M1213 830l10-3 10-1" stroke="#28e0ff" stroke-width="10" stroke-opacity=".75"/><path d="M1278 856l2 9 2 10 1 9 1 10" stroke="#28e0ff" stroke-width="10" stroke-opacity=".75"/><path d="M1257 962l-9 2 -9 0 -9-1" stroke="#28e0ff" stroke-width="10" stroke-opacity=".75"/><path d="M1187 913l-1-9 0-10" stroke="#28e0ff" stroke-width="10" stroke-opacity=".75"/><path d="M1297 844l8-5 10-3 9-2 10-2 10-2" stroke="#28e0ff" stroke-width="10" stroke-opacity=".75"/><path d="M1395 846l0 10 -1 9 -5 9" stroke="#28e0ff" stroke-width="10" stroke-opacity=".75"/><path d="M1381 882l-9 5 -9 4 -10 3" stroke="#28e0ff" stroke-width="10" stroke-opacity=".75"/><path d="M1316 901l-11 2 -9-1" stroke="#28e0ff" stroke-width="10" stroke-opacity=".75"/><path d="M1288 897l-6-8 -4-9 0-9 3-9" stroke="#28e0ff" stroke-width="10" stroke-opacity=".75"/><path d="M1432 839l10 0 10 0 10 1 10 0 10 1" stroke="#28e0ff" stroke-width="10" stroke-opacity=".75"/><path d="M1503 840l5 3 3 5" stroke="#28e0ff" stroke-width="10" stroke-opacity=".75"/><path d="M1450 898l-9-4 -9-3 -10-3" stroke="#28e0ff" stroke-width="10" stroke-opacity=".75"/><path d="M1395 874l-3-12 4-8" stroke="#28e0ff" stroke-width="10" stroke-opacity=".75"/><path d="M1297 908l6-6 8-5" stroke="#28e0ff" stroke-width="10" stroke-opacity=".75"/><path d="M1349 889l10 0 10-1 10 1" stroke="#28e0ff" stroke-width="10" stroke-opacity=".75"/><path d="M1417 893l10 2 9 3 8 4" stroke="#28e0ff" stroke-width="10" stroke-opacity=".75"/><path d="M1410 960l-9 1 -10 2 -9 0 -10 1" stroke="#28e0ff" stroke-width="10" stroke-opacity=".75"/><path d="M1340 962l-9-1 -10-1" stroke="#28e0ff" stroke-width="10" stroke-opacity=".75"/><path d="M1010 913l8 5 6 7 2 10" stroke="#28e0ff" stroke-width="10" stroke-opacity=".75"/><path d="M1003 965l-8 0 -6-1" stroke="#28e0ff" stroke-width="10" stroke-opacity=".75"/><path d="M973 937l2-6" stroke="#28e0ff" stroke-width="10" stroke-opacity=".75"/><path d="M949 917l7 3 5 2" stroke="#28e0ff" stroke-width="10" stroke-opacity=".75"/><path d="M970 928l5 5 3 5" stroke="#28e0ff" stroke-width="10" stroke-opacity=".75"/><path d="M992 960l3 6 4 5" stroke="#28e0ff" stroke-width="10" stroke-opacity=".75"/><path d="M1005 997l-1 7 -3 5" stroke="#28e0ff" stroke-width="10" stroke-opacity=".75"/><path d="M975 1029l-7 0 -6 0" stroke="#28e0ff" stroke-width="10" stroke-opacity=".75"/><path d="M933 925l0-4 5-9" stroke="#28e0ff" stroke-width="10" stroke-opacity=".75"/><path d="M1049 942l8-2 10 0 10 0 9 2" stroke="#28e0ff" stroke-width="10" stroke-opacity=".75"/><path d="M1127 981l-6 7 -7 6" stroke="#28e0ff" stroke-width="10" stroke-opacity=".75"/><path d="M1074 1007l-9 1 -11 2" stroke="#28e0ff" stroke-width="10" stroke-opacity=".75"/><path d="M1041 1008l-4-7 -3-10" stroke="#28e0ff" stroke-width="10" stroke-opacity=".75"/><path d="M1143 900l3-9 6-5 9-2" stroke="#28e0ff" stroke-width="10" stroke-opacity=".75"/><path d="M1180 894l5 8 6 8" stroke="#28e0ff" stroke-width="10" stroke-opacity=".75"/><path d="M1231 959l1 9 -6 9 -7 4 -10 2 -10 2 -9 1" stroke="#28e0ff" stroke-width="10" stroke-opacity=".75"/><path d="M1317 965l10 1 10 2" stroke="#28e0ff" stroke-width="10" stroke-opacity=".75"/><path d="M1356 998l-9 8 -7 2 -9 1 -10 1 -9 1" stroke="#28e0ff" stroke-width="10" stroke-opacity=".75"/><path d="M1277 1010l-5-1" stroke="#28e0ff" stroke-width="10" stroke-opacity=".75"/><path d="M1259 978l4-3" stroke="#28e0ff" stroke-width="10" stroke-opacity=".75"/><path d="M1373 970l10-3 9-1 11 0" stroke="#28e0ff" stroke-width="10" stroke-opacity=".75"/><path d="M1452 976l3 9 -4 7" stroke="#28e0ff" stroke-width="10" stroke-opacity=".75"/><path d="M1427 1005l-11 1 -9 0 -11-1" stroke="#28e0ff" stroke-width="10" stroke-opacity=".75"/><path d="M1512 1003l-1 6 -3 4" stroke="#28e0ff" stroke-width="10" stroke-opacity=".75"/><path d="M1498 1013l-8-2" stroke="#28e0ff" stroke-width="10" stroke-opacity=".75"/><path d="M1454 998l-3-9 3-8" stroke="#28e0ff" stroke-width="10" stroke-opacity=".75"/><path d="M960 1034l4-3 4-4" stroke="#28e0ff" stroke-width="10" stroke-opacity=".75"/><path d="M995 1009l6-3 6-3" stroke="#28e0ff" stroke-width="10" stroke-opacity=".75"/><path d="M1030 995l6 2 0 10" stroke="#28e0ff" stroke-width="10" stroke-opacity=".75"/><path d="M1032 1019l-3 5 -4 5" stroke="#28e0ff" stroke-width="10" stroke-opacity=".75"/><path d="M986 1061l-9 5 -8 5 -10 3" stroke="#28e0ff" stroke-width="10" stroke-opacity=".75"/><path d="M1031 1031l3-6" stroke="#28e0ff" stroke-width="10" stroke-opacity=".75"/><path d="M1046 1016l8-5 9-5 9-4" stroke="#28e0ff" stroke-width="10" stroke-opacity=".75"/><path d="M1111 989l10-3 9-2" stroke="#28e0ff" stroke-width="10" stroke-opacity=".75"/><path d="M1157 1017l0 10 -1 10" stroke="#28e0ff" stroke-width="10" stroke-opacity=".75"/><path d="M1148 1067l-3 6" stroke="#28e0ff" stroke-width="10" stroke-opacity=".75"/><path d="M1099 1116l-5 2 -6 3" stroke="#28e0ff" stroke-width="10" stroke-opacity=".75"/><path d="M1065 1128l-7 0" stroke="#28e0ff" stroke-width="10" stroke-opacity=".75"/><path d="M1037 1116l-4-8 -4-10 -2-10 -1-9 0-10" stroke="#28e0ff" stroke-width="10" stroke-opacity=".75"/><path d="M1150 1037l5-9 6-7" stroke="#28e0ff" stroke-width="10" stroke-opacity=".75"/><path d="M1190 992l8-6 9-5 8-4 8-4 10-5 10-2 8 0" stroke="#28e0ff" stroke-width="10" stroke-opacity=".75"/><path d="M1259 972l5 6" stroke="#28e0ff" stroke-width="10" stroke-opacity=".75"/><path d="M1273 1004l1 6 1 6" stroke="#28e0ff" stroke-width="10" stroke-opacity=".75"/><path d="M1281 1099l-1 10 -1 9 -2 10 -2 8 -3 8 -6 8" stroke="#28e0ff" stroke-width="10" stroke-opacity=".75"/><path d="M1245 1164l-10 2 -9 0 -8-3" stroke="#28e0ff" stroke-width="10" stroke-opacity=".75"/><path d="M1150 1074l-6-3" stroke="#28e0ff" stroke-width="10" stroke-opacity=".75"/><path d="M1312 1015l6-6 9-4 9-2 10 0 9 1" stroke="#28e0ff" stroke-width="10" stroke-opacity=".75"/><path d="M1379 1026l2 9 1 11 -1 9 -1 10 -3 8" stroke="#28e0ff" stroke-width="10" stroke-opacity=".75"/><path d="M1361 1086l-10 3 -10 1 -10 1 -10-3 -7-4" stroke="#28e0ff" stroke-width="10" stroke-opacity=".75"/><path d="M1391 1011l8-6 10-2 9 1 8 6" stroke="#28e0ff" stroke-width="10" stroke-opacity=".75"/><path d="M1434 1039l1 10 0 9 0 10 0 10 -1 8" stroke="#28e0ff" stroke-width="10" stroke-opacity=".75"/><path d="M1423 1103l-6 4 -6 2" stroke="#28e0ff" stroke-width="10" stroke-opacity=".75"/><path d="M1394 1105l-4-4 -3-6" stroke="#28e0ff" stroke-width="10" stroke-opacity=".75"/><path d="M1382 1075l0-10 0-10 0-11 1-8 2-12" stroke="#28e0ff" stroke-width="10" stroke-opacity=".75"/><path d="M1477 1030l5 10 1 9 0 10 -2 10 -3 9" stroke="#28e0ff" stroke-width="10" stroke-opacity=".75"/><path d="M1474 1085l-7 7 -9 3 -11-1" stroke="#28e0ff" stroke-width="10" stroke-opacity=".75"/><path d="M1440 1086l-2-10 -1-11 0-10 2-10" stroke="#28e0ff" stroke-width="10" stroke-opacity=".75"/><path d="M1489 1015l6-5" stroke="#28e0ff" stroke-width="10" stroke-opacity=".75"/><path d="M1508 1005l3 6 0 4" stroke="#28e0ff" stroke-width="10" stroke-opacity=".75"/><path d="M1512 1085l0 10 -1 7 -3 8" stroke="#28e0ff" stroke-width="10" stroke-opacity=".75"/><path d="M1487 1095l-2-6" stroke="#28e0ff" stroke-width="10" stroke-opacity=".75"/><path d="M1483 1079l-1-10 -2-9 -1-10 0-9 1-9" stroke="#28e0ff" stroke-width="10" stroke-opacity=".75"/><path d="M963 1077l6-8 8-2 11-1" stroke="#28e0ff" stroke-width="10" stroke-opacity=".75"/><path d="M1019 1071l7 6 4 8 2 9 1 10 -1 10" stroke="#28e0ff" stroke-width="10" stroke-opacity=".75"/><path d="M1014 1164l-10 2 -10 0" stroke="#28e0ff" stroke-width="10" stroke-opacity=".75"/><path d="M1056 1131l5-5" stroke="#28e0ff" stroke-width="10" stroke-opacity=".75"/><path d="M1087 1116l6 2 5 4" stroke="#28e0ff" stroke-width="10" stroke-opacity=".75"/><path d="M1092 1164l-9 3 -11 1 -9-3" stroke="#28e0ff" stroke-width="10" stroke-opacity=".75"/><path d="M1312 1090l9-1 9-1 9 1 10 1 8 1" stroke="#28e0ff" stroke-width="10" stroke-opacity=".75"/><path d="M1381 1096l6 2 6 1" stroke="#28e0ff" stroke-width="10" stroke-opacity=".75"/><path d="M1408 1103l6 2 7 2" stroke="#28e0ff" stroke-width="10" stroke-opacity=".75"/><path d="M1435 1112l9 3 9 3 9 3 8 3 8 4 10 4 9 5" stroke="#28e0ff" stroke-width="10" stroke-opacity=".75"/><path d="M1416 1163l-8 0 -9 1 -9 0 -10 0 -10 1 -10 0 -9 0 -9 0 -10 1 -10 0 -10 0 -9 0 -7 0 -11-2" stroke="#28e0ff" stroke-width="10" stroke-opacity=".75"/><path d="M1272 1153l-2-10 0-10 2-9 3-9 6-8" stroke="#28e0ff" stroke-width="10" stroke-opacity=".75"/><path d="M1451 1099l9-6 9-2 11-1 10-1" stroke="#28e0ff" stroke-width="10" stroke-opacity=".75"/><path d="M1508 1088l4 6 1 10" stroke="#28e0ff" stroke-width="10" stroke-opacity=".75"/><path d="M1506 1135l-9-1 -10-3 -10-3 -11-2 -11-2 -10-3 -5-4 1-7" stroke="#28e0ff" stroke-width="10" stroke-opacity=".75"/><path d="M1072 913l7 0 6 0" stroke="#28e0ff" stroke-width="10" stroke-opacity=".75"/><path d="M1087 936l-8 1 -11 0 -12 0" stroke="#28e0ff" stroke-width="10" stroke-opacity=".75"/><path d="M1029 934l-3-10 3-10 7-1" stroke="#28e0ff" stroke-width="10" stroke-opacity=".75"/><path d="M1007 229l0 11 -3 8 -6 8 -6 7 -7 7" stroke="#c8ff30" stroke-width="4.8" stroke-opacity=".8"/><path d="M967 283l-9 4 -9 3 -11 0 -5-5" stroke="#c8ff30" stroke-width="4.8" stroke-opacity=".8"/><path d="M1100 242l-3 9 -4 11 -2 9 -2 11 -1 9 -4 7 -8 3" stroke="#c8ff30" stroke-width="4.8" stroke-opacity=".8"/><path d="M1083 281l4-11 5-8 5-8 6-7" stroke="#c8ff30" stroke-width="4.8" stroke-opacity=".8"/><path d="M1111 302l-11 0 -8 0 -11-3 0-9" stroke="#c8ff30" stroke-width="4.8" stroke-opacity=".8"/><path d="M968 329l-8 3 -10 3 -9 0 -6-5" stroke="#c8ff30" stroke-width="4.8" stroke-opacity=".8"/><path d="M932 294l6-5 10-3 10 0 7 4" stroke="#c8ff30" stroke-width="4.8" stroke-opacity=".8"/><path d="M937 393l8-3 9-1 9-3 10-1" stroke="#c8ff30" stroke-width="4.8" stroke-opacity=".8"/><path d="M998 397l2 7 1 8 2 9" stroke="#c8ff30" stroke-width="4.8" stroke-opacity=".8"/><path d="M1020 304l3-7 4-5" stroke="#c8ff30" stroke-width="4.8" stroke-opacity=".8"/><path d="M1102 311l5 4 4 4" stroke="#c8ff30" stroke-width="4.8" stroke-opacity=".8"/><path d="M1137 370l-11 1 -9 0" stroke="#c8ff30" stroke-width="4.8" stroke-opacity=".8"/><path d="M1049 354l-6-3 -6-2" stroke="#c8ff30" stroke-width="4.8" stroke-opacity=".8"/><path d="M1105 296l2 8 0 12" stroke="#c8ff30" stroke-width="4.8" stroke-opacity=".8"/><path d="M1035 351l8 0 3 7" stroke="#c8ff30" stroke-width="4.8" stroke-opacity=".8"/><path d="M1164 386l5 7 2 9 0 10 -3 10" stroke="#c8ff30" stroke-width="4.8" stroke-opacity=".8"/><path d="M1119 447l-6 1" stroke="#c8ff30" stroke-width="4.8" stroke-opacity=".8"/><path d="M1047 453l-10-1 -7-4 1-7" stroke="#c8ff30" stroke-width="4.8" stroke-opacity=".8"/><path d="M1322 325l5 9 4 8" stroke="#c8ff30" stroke-width="4.8" stroke-opacity=".8"/><path d="M1167 299l5-5 6-4" stroke="#c8ff30" stroke-width="4.8" stroke-opacity=".8"/><path d="M1275 289l-10 3 -9 2 -10 1 -11 0" stroke="#c8ff30" stroke-width="4.8" stroke-opacity=".8"/><path d="M1337 340l-6-7 -3-8" stroke="#c8ff30" stroke-width="4.8" stroke-opacity=".8"/><path d="M1362 361l4-10 4-7 7-7" stroke="#c8ff30" stroke-width="4.8" stroke-opacity=".8"/><path d="M1509 393l-5 5 -5 2" stroke="#c8ff30" stroke-width="4.8" stroke-opacity=".8"/><path d="M1369 394l-5-3 -4-5" stroke="#c8ff30" stroke-width="4.8" stroke-opacity=".8"/><path d="M1304 505l-3 7 -8 5" stroke="#c8ff30" stroke-width="4.8" stroke-opacity=".8"/><path d="M1009 476l-2-6 2-7" stroke="#c8ff30" stroke-width="4.8" stroke-opacity=".8"/><path d="M1053 534l-11 0 -9-1 -10-3 -8-5" stroke="#c8ff30" stroke-width="4.8" stroke-opacity=".8"/><path d="M1137 534l1 11 0 9 -3 10" stroke="#c8ff30" stroke-width="4.8" stroke-opacity=".8"/><path d="M1229 572l-5 9 -6 8 -6 6 -8 5 -8 4 -9 2" stroke="#c8ff30" stroke-width="4.8" stroke-opacity=".8"/><path d="M1160 604l-6-2 -4-3" stroke="#c8ff30" stroke-width="4.8" stroke-opacity=".8"/><path d="M1145 588l-2-7" stroke="#c8ff30" stroke-width="4.8" stroke-opacity=".8"/><path d="M1289 523l7-8 9-4" stroke="#c8ff30" stroke-width="4.8" stroke-opacity=".8"/><path d="M1318 508l10 1 9 1 9 2 8 3 10 4 9 3 9 3 9 4 9 3" stroke="#c8ff30" stroke-width="4.8" stroke-opacity=".8"/><path d="M1323 553l-10-3 -9-3" stroke="#c8ff30" stroke-width="4.8" stroke-opacity=".8"/><path d="M999 576l6-4" stroke="#c8ff30" stroke-width="4.8" stroke-opacity=".8"/><path d="M1063 606l-1-8" stroke="#c8ff30" stroke-width="4.8" stroke-opacity=".8"/><path d="M1140 580l6 2 4 4" stroke="#c8ff30" stroke-width="4.8" stroke-opacity=".8"/><path d="M1155 596l2 7 -1 6" stroke="#c8ff30" stroke-width="4.8" stroke-opacity=".8"/><path d="M1143 627l-7 2 -6 0" stroke="#c8ff30" stroke-width="4.8" stroke-opacity=".8"/><path d="M1325 584l-1 8 -2 9" stroke="#c8ff30" stroke-width="4.8" stroke-opacity=".8"/><path d="M1293 675l-4 5 -5 4" stroke="#c8ff30" stroke-width="4.8" stroke-opacity=".8"/><path d="M1130 635l6-1 7-1" stroke="#c8ff30" stroke-width="4.8" stroke-opacity=".8"/><path d="M940 724l-5-2 -3-3" stroke="#c8ff30" stroke-width="4.8" stroke-opacity=".8"/><path d="M1355 570l9-2 10-1" stroke="#c8ff30" stroke-width="4.8" stroke-opacity=".8"/><path d="M1409 582l8 6 8 6 7 7" stroke="#c8ff30" stroke-width="4.8" stroke-opacity=".8"/><path d="M1394 719l-9 2 -9 3 -9 1 -10 2 -10 0 -10 1 -9-1 -10 0" stroke="#c8ff30" stroke-width="4.8" stroke-opacity=".8"/><path d="M1287 687l0-6 1-6" stroke="#c8ff30" stroke-width="4.8" stroke-opacity=".8"/><path d="M1510 837l-4 9" stroke="#c8ff30" stroke-width="4.8" stroke-opacity=".8"/><path d="M1484 846l-11-5 -10-4 -10-1 -10-1 -10-1" stroke="#c8ff30" stroke-width="4.8" stroke-opacity=".8"/><path d="M1382 795l3-9 3-8 5-8 6-7 6-6 7-6" stroke="#c8ff30" stroke-width="4.8" stroke-opacity=".8"/><path d="M947 717l10 0 9-1 10 0" stroke="#c8ff30" stroke-width="4.8" stroke-opacity=".8"/><path d="M1021 772l0 9 -3 8" stroke="#c8ff30" stroke-width="4.8" stroke-opacity=".8"/><path d="M935 727l2-7" stroke="#c8ff30" stroke-width="4.8" stroke-opacity=".8"/><path d="M1189 800l4 6 3 7" stroke="#c8ff30" stroke-width="4.8" stroke-opacity=".8"/><path d="M1199 832l-1 10 -7 5" stroke="#c8ff30" stroke-width="4.8" stroke-opacity=".8"/><path d="M1152 849l-9 0 -10-1 -9-1" stroke="#c8ff30" stroke-width="4.8" stroke-opacity=".8"/><path d="M1113 723l9-5 9-4 8-4 11-5 8 0" stroke="#c8ff30" stroke-width="4.8" stroke-opacity=".8"/><path d="M1265 685l3 5 2 6" stroke="#c8ff30" stroke-width="4.8" stroke-opacity=".8"/><path d="M1227 756l-8 5 -9 4 -9 4 -9 4" stroke="#c8ff30" stroke-width="4.8" stroke-opacity=".8"/><path d="M1195 776l4-8 7-5 9-2 10 1" stroke="#c8ff30" stroke-width="4.8" stroke-opacity=".8"/><path d="M1247 780l3 9 0 9" stroke="#c8ff30" stroke-width="4.8" stroke-opacity=".8"/><path d="M1202 814l-4-6 -2-6" stroke="#c8ff30" stroke-width="4.8" stroke-opacity=".8"/><path d="M1315 732l8-6 8-3 10-1 9 0 10 0 10 0 10 0 9 1" stroke="#c8ff30" stroke-width="4.8" stroke-opacity=".8"/><path d="M1255 801l-2-9 0-10" stroke="#c8ff30" stroke-width="4.8" stroke-opacity=".8"/><path d="M1017 815l8 7 8 6 8 5" stroke="#c8ff30" stroke-width="4.8" stroke-opacity=".8"/><path d="M961 915l-6 3 -7 4" stroke="#c8ff30" stroke-width="4.8" stroke-opacity=".8"/><path d="M1120 853l11-2 9 0 9 3" stroke="#c8ff30" stroke-width="4.8" stroke-opacity=".8"/><path d="M1278 856l2 9 2 10 1 9 1 10" stroke="#c8ff30" stroke-width="4.8" stroke-opacity=".8"/><path d="M1257 962l-9 2 -9 0 -9-1" stroke="#c8ff30" stroke-width="4.8" stroke-opacity=".8"/><path d="M1432 839l10 0 10 0 10 1 10 0 10 1" stroke="#c8ff30" stroke-width="4.8" stroke-opacity=".8"/><path d="M1395 874l-3-12 4-8" stroke="#c8ff30" stroke-width="4.8" stroke-opacity=".8"/><path d="M1297 908l6-6 8-5" stroke="#c8ff30" stroke-width="4.8" stroke-opacity=".8"/><path d="M1349 889l10 0 10-1 10 1" stroke="#c8ff30" stroke-width="4.8" stroke-opacity=".8"/><path d="M1417 893l10 2 9 3 8 4" stroke="#c8ff30" stroke-width="4.8" stroke-opacity=".8"/><path d="M992 960l3 6 4 5" stroke="#c8ff30" stroke-width="4.8" stroke-opacity=".8"/><path d="M1005 997l-1 7 -3 5" stroke="#c8ff30" stroke-width="4.8" stroke-opacity=".8"/><path d="M975 1029l-7 0 -6 0" stroke="#c8ff30" stroke-width="4.8" stroke-opacity=".8"/><path d="M933 925l0-4 5-9" stroke="#c8ff30" stroke-width="4.8" stroke-opacity=".8"/><path d="M1231 959l1 9 -6 9 -7 4 -10 2 -10 2 -9 1" stroke="#c8ff30" stroke-width="4.8" stroke-opacity=".8"/><path d="M1452 976l3 9 -4 7" stroke="#c8ff30" stroke-width="4.8" stroke-opacity=".8"/><path d="M1512 1003l-1 6 -3 4" stroke="#c8ff30" stroke-width="4.8" stroke-opacity=".8"/><path d="M986 1061l-9 5 -8 5 -10 3" stroke="#c8ff30" stroke-width="4.8" stroke-opacity=".8"/><path d="M1031 1031l3-6" stroke="#c8ff30" stroke-width="4.8" stroke-opacity=".8"/><path d="M1046 1016l8-5 9-5 9-4" stroke="#c8ff30" stroke-width="4.8" stroke-opacity=".8"/><path d="M1148 1067l-3 6" stroke="#c8ff30" stroke-width="4.8" stroke-opacity=".8"/><path d="M1259 972l5 6" stroke="#c8ff30" stroke-width="4.8" stroke-opacity=".8"/><path d="M1273 1004l1 6 1 6" stroke="#c8ff30" stroke-width="4.8" stroke-opacity=".8"/><path d="M1434 1039l1 10 0 9 0 10 0 10 -1 8" stroke="#c8ff30" stroke-width="4.8" stroke-opacity=".8"/><path d="M1423 1103l-6 4 -6 2" stroke="#c8ff30" stroke-width="4.8" stroke-opacity=".8"/><path d="M1394 1105l-4-4 -3-6" stroke="#c8ff30" stroke-width="4.8" stroke-opacity=".8"/><path d="M1382 1075l0-10 0-10 0-11 1-8 2-12" stroke="#c8ff30" stroke-width="4.8" stroke-opacity=".8"/><path d="M1474 1085l-7 7 -9 3 -11-1" stroke="#c8ff30" stroke-width="4.8" stroke-opacity=".8"/><path d="M1489 1015l6-5" stroke="#c8ff30" stroke-width="4.8" stroke-opacity=".8"/><path d="M1312 1090l9-1 9-1 9 1 10 1 8 1" stroke="#c8ff30" stroke-width="4.8" stroke-opacity=".8"/><path d="M1408 1103l6 2 7 2" stroke="#c8ff30" stroke-width="4.8" stroke-opacity=".8"/><path d="M1435 1112l9 3 9 3 9 3 8 3 8 4 10 4 9 5" stroke="#c8ff30" stroke-width="4.8" stroke-opacity=".8"/><path d="M1272 1153l-2-10 0-10 2-9 3-9 6-8" stroke="#c8ff30" stroke-width="4.8" stroke-opacity=".8"/><path d="M1072 913l7 0 6 0" stroke="#c8ff30" stroke-width="4.8" stroke-opacity=".8"/><path d="M1100 242l-3 9 -4 11 -2 9 -2 11 -1 9 -4 7 -8 3" stroke="#ff3000" stroke-width="2.8" stroke-opacity=".9"/><path d="M1083 281l4-11 5-8 5-8 6-7" stroke="#ff3000" stroke-width="2.8" stroke-opacity=".9"/><path d="M1111 302l-11 0 -8 0 -11-3 0-9" stroke="#ff3000" stroke-width="2.8" stroke-opacity=".9"/><path d="M968 329l-8 3 -10 3 -9 0 -6-5" stroke="#ff3000" stroke-width="2.8" stroke-opacity=".9"/><path d="M932 294l6-5 10-3 10 0 7 4" stroke="#ff3000" stroke-width="2.8" stroke-opacity=".9"/><path d="M1020 304l3-7 4-5" stroke="#ff3000" stroke-width="2.8" stroke-opacity=".9"/><path d="M1049 354l-6-3 -6-2" stroke="#ff3000" stroke-width="2.8" stroke-opacity=".9"/><path d="M1164 386l5 7 2 9 0 10 -3 10" stroke="#ff3000" stroke-width="2.8" stroke-opacity=".9"/><path d="M1119 447l-6 1" stroke="#ff3000" stroke-width="2.8" stroke-opacity=".9"/><path d="M1362 361l4-10 4-7 7-7" stroke="#ff3000" stroke-width="2.8" stroke-opacity=".9"/><path d="M1369 394l-5-3 -4-5" stroke="#ff3000" stroke-width="2.8" stroke-opacity=".9"/><path d="M1009 476l-2-6 2-7" stroke="#ff3000" stroke-width="2.8" stroke-opacity=".9"/><path d="M1137 534l1 11 0 9 -3 10" stroke="#ff3000" stroke-width="2.8" stroke-opacity=".9"/><path d="M1160 604l-6-2 -4-3" stroke="#ff3000" stroke-width="2.8" stroke-opacity=".9"/><path d="M1145 588l-2-7" stroke="#ff3000" stroke-width="2.8" stroke-opacity=".9"/><path d="M1323 553l-10-3 -9-3" stroke="#ff3000" stroke-width="2.8" stroke-opacity=".9"/><path d="M1293 675l-4 5 -5 4" stroke="#ff3000" stroke-width="2.8" stroke-opacity=".9"/><path d="M1130 635l6-1 7-1" stroke="#ff3000" stroke-width="2.8" stroke-opacity=".9"/><path d="M940 724l-5-2 -3-3" stroke="#ff3000" stroke-width="2.8" stroke-opacity=".9"/><path d="M1355 570l9-2 10-1" stroke="#ff3000" stroke-width="2.8" stroke-opacity=".9"/><path d="M1409 582l8 6 8 6 7 7" stroke="#ff3000" stroke-width="2.8" stroke-opacity=".9"/><path d="M1484 846l-11-5 -10-4 -10-1 -10-1 -10-1" stroke="#ff3000" stroke-width="2.8" stroke-opacity=".9"/><path d="M1382 795l3-9 3-8 5-8 6-7 6-6 7-6" stroke="#ff3000" stroke-width="2.8" stroke-opacity=".9"/><path d="M1021 772l0 9 -3 8" stroke="#ff3000" stroke-width="2.8" stroke-opacity=".9"/><path d="M935 727l2-7" stroke="#ff3000" stroke-width="2.8" stroke-opacity=".9"/><path d="M1265 685l3 5 2 6" stroke="#ff3000" stroke-width="2.8" stroke-opacity=".9"/><path d="M1227 756l-8 5 -9 4 -9 4 -9 4" stroke="#ff3000" stroke-width="2.8" stroke-opacity=".9"/><path d="M1315 732l8-6 8-3 10-1 9 0 10 0 10 0 10 0 9 1" stroke="#ff3000" stroke-width="2.8" stroke-opacity=".9"/><path d="M1017 815l8 7 8 6 8 5" stroke="#ff3000" stroke-width="2.8" stroke-opacity=".9"/><path d="M1395 874l-3-12 4-8" stroke="#ff3000" stroke-width="2.8" stroke-opacity=".9"/><path d="M1297 908l6-6 8-5" stroke="#ff3000" stroke-width="2.8" stroke-opacity=".9"/><path d="M1231 959l1 9 -6 9 -7 4 -10 2 -10 2 -9 1" stroke="#ff3000" stroke-width="2.8" stroke-opacity=".9"/><path d="M1273 1004l1 6 1 6" stroke="#ff3000" stroke-width="2.8" stroke-opacity=".9"/><path d="M1312 1090l9-1 9-1 9 1 10 1 8 1" stroke="#ff3000" stroke-width="2.8" stroke-opacity=".9"/><path d="M1435 1112l9 3 9 3 9 3 8 3 8 4 10 4 9 5" stroke="#ff3000" stroke-width="2.8" stroke-opacity=".9"/></g><path d="M632.5 438.5C634.9 438.5 642.0 438.1 646.8 438.5C651.6 438.9 658.8 440.5 661.1 440.9" stroke="#20e0ff" stroke-width="20.0" stroke-opacity="0.70"/><path d="M670.7 224.3C674.7 225.9 686.6 230.2 694.6 233.8C702.6 237.3 708.9 242.1 718.5 245.6C728.0 249.2 746.4 253.5 751.9 255.1" stroke="#10d0ff" stroke-width="18.0" stroke-opacity="0.75"/><path d="M661.1 576.0C664.7 575.8 675.5 574.6 682.6 574.8C689.8 575.0 700.6 576.8 704.1 577.2" stroke="#20e0ff" stroke-width="17.5" stroke-opacity="0.70"/><path d="M510.6 388.8C515.4 390.3 529.7 395.5 539.3 398.2C548.9 401.0 559.2 403.0 568.0 405.3C576.7 407.7 587.9 411.3 591.9 412.5" stroke="#20e0ff" stroke-width="16.0" stroke-opacity="0.70"/><path d="M468.8 214.8C471.4 213.6 479.4 209.3 484.3 207.7C489.3 206.1 493.5 206.1 498.7 205.3C503.9 204.5 509.4 204.0 515.4 203.0C521.4 202.0 527.7 200.4 534.5 199.4C541.3 198.4 550.0 196.4 556.0 197.0C562.0 197.6 565.6 201.2 570.4 203.0C575.1 204.7 579.9 206.7 584.7 207.7C589.5 208.7 596.6 208.7 599.0 208.9" stroke="#20e0ff" stroke-width="15.0" stroke-opacity="0.70"/><path d="M642.0 433.8C650.8 433.0 676.3 429.8 694.6 429.0C712.9 428.3 742.4 429.0 751.9 429.0" stroke="#10d0ff" stroke-width="14.0" stroke-opacity="0.75"/><path d="M632.5 438.5C634.9 438.5 642.0 438.1 646.8 438.5C651.6 438.9 658.8 440.5 661.1 440.9" stroke="#f0ff20" stroke-width="13.0" stroke-opacity="0.85"/><path d="M599.0 210.1C603.0 211.1 615.0 213.6 622.9 216.0C630.9 218.4 640.4 222.5 646.8 224.3C653.2 226.1 658.8 226.3 661.1 226.7" stroke="#20e0ff" stroke-width="12.8" stroke-opacity="0.70"/><path d="M560.8 328.6L584.7 330.9" stroke="#20e0ff" stroke-width="12.8" stroke-opacity="0.70"/><path d="M468.8 154.4C470.6 153.4 475.8 151.0 479.6 148.5C483.4 145.9 487.9 142.5 491.5 139.0C495.1 135.4 498.5 130.7 501.1 127.1C503.7 123.6 506.0 119.2 507.0 117.7" stroke="#20e0ff" stroke-width="12.5" stroke-opacity="0.70"/><path d="M491.5 148.5C494.3 147.1 502.7 142.1 508.2 140.2C513.8 138.2 519.4 137.0 525.0 136.6C530.5 136.2 538.9 137.6 541.7 137.8" stroke="#20e0ff" stroke-width="12.5" stroke-opacity="0.70"/><path d="M505.8 410.1L517.8 412.5" stroke="#20e0ff" stroke-width="12.5" stroke-opacity="0.70"/><path d="M570.4 419.6C573.5 420.0 584.7 421.3 589.5 421.9C594.2 422.5 597.4 422.9 599.0 423.1" stroke="#20e0ff" stroke-width="12.5" stroke-opacity="0.70"/><path d="M689.8 430.2C691.8 429.8 698.2 428.7 701.8 427.9C705.3 427.1 709.7 425.9 711.3 425.5" stroke="#20e0ff" stroke-width="12.5" stroke-opacity="0.70"/><path d="M486.7 523.8C489.5 521.5 498.3 513.6 503.5 509.6C508.6 505.7 512.6 503.3 517.8 500.1C523.0 497.0 531.7 492.2 534.5 490.7" stroke="#20e0ff" stroke-width="12.5" stroke-opacity="0.70"/><path d="M637.3 561.8C642.8 562.9 657.2 567.3 670.7 568.9C684.2 570.4 704.9 570.4 718.5 571.2C732.0 572.0 746.4 573.2 751.9 573.6" stroke="#10d0ff" stroke-width="12.0" stroke-opacity="0.75"/><path d="M661.1 576.0C664.7 575.8 675.5 574.6 682.6 574.8C689.8 575.0 700.6 576.8 704.1 577.2" stroke="#f0ff20" stroke-width="11.4" stroke-opacity="0.85"/><path d="M474.8 139.0C476.8 137.0 482.0 130.3 486.7 127.1C491.5 124.0 497.5 120.8 503.5 120.0C509.4 119.2 516.6 120.8 522.6 122.4C528.5 124.0 536.5 128.3 539.3 129.5" stroke="#10d0ff" stroke-width="10.0" stroke-opacity="0.75"/><path d="M670.7 261.0L697.0 261.0" stroke="#20e0ff" stroke-width="10.0" stroke-opacity="0.70"/><path d="M468.8 386.4C471.4 386.8 478.6 388.4 484.3 388.8C490.1 389.2 500.3 388.8 503.5 388.8" stroke="#10d0ff" stroke-width="10.0" stroke-opacity="0.75"/><path d="M467.6 387.6L471.2 387.6" stroke="#20e0ff" stroke-width="10.0" stroke-opacity="0.70"/><path d="M468.8 214.8C471.4 213.6 479.4 209.3 484.3 207.7C489.3 206.1 493.5 206.1 498.7 205.3C503.9 204.5 509.4 204.0 515.4 203.0C521.4 202.0 527.7 200.4 534.5 199.4C541.3 198.4 550.0 196.4 556.0 197.0C562.0 197.6 565.6 201.2 570.4 203.0C575.1 204.7 579.9 206.7 584.7 207.7C589.5 208.7 596.6 208.7 599.0 208.9" stroke="#f0ff20" stroke-width="9.8" stroke-opacity="0.85"/><path d="M737.6 257.5L751.9 257.5" stroke="#20e0ff" stroke-width="9.6" stroke-opacity="0.70"/><path d="M510.6 388.8C515.4 390.3 529.7 395.5 539.3 398.2C548.9 401.0 559.2 403.0 568.0 405.3C576.7 407.7 587.9 411.3 591.9 412.5" stroke="#a0ff50" stroke-width="9.0" stroke-opacity="0.85"/><path d="M468.8 154.4C470.6 153.4 475.8 151.0 479.6 148.5C483.4 145.9 487.9 142.5 491.5 139.0C495.1 135.4 498.5 130.7 501.1 127.1C503.7 123.6 506.0 119.2 507.0 117.7" stroke="#f0ff20" stroke-width="8.1" stroke-opacity="0.85"/><path d="M491.5 148.5C494.3 147.1 502.7 142.1 508.2 140.2C513.8 138.2 519.4 137.0 525.0 136.6C530.5 136.2 538.9 137.6 541.7 137.8" stroke="#f0ff20" stroke-width="8.1" stroke-opacity="0.85"/><path d="M505.8 410.1L517.8 412.5" stroke="#f0ff20" stroke-width="8.1" stroke-opacity="0.85"/><path d="M570.4 419.6C573.5 420.0 584.7 421.3 589.5 421.9C594.2 422.5 597.4 422.9 599.0 423.1" stroke="#f0ff20" stroke-width="8.1" stroke-opacity="0.85"/><path d="M689.8 430.2C691.8 429.8 698.2 428.7 701.8 427.9C705.3 427.1 709.7 425.9 711.3 425.5" stroke="#f0ff20" stroke-width="8.1" stroke-opacity="0.85"/><path d="M486.7 523.8C489.5 521.5 498.3 513.6 503.5 509.6C508.6 505.7 512.6 503.3 517.8 500.1C523.0 497.0 531.7 492.2 534.5 490.7" stroke="#f0ff20" stroke-width="8.1" stroke-opacity="0.85"/><path d="M646.8 262.2C650.8 263.8 663.5 268.5 670.7 271.7C677.9 274.8 686.6 279.6 689.8 281.2" stroke="#10d0ff" stroke-width="8.0" stroke-opacity="0.75"/><path d="M470.0 219.6C472.0 220.3 478.4 221.1 482.0 224.3C485.5 227.5 489.9 236.1 491.5 238.5" stroke="#10d0ff" stroke-width="8.0" stroke-opacity="0.75"/><path d="M470.0 304.9C471.6 306.8 476.0 313.2 479.6 316.7C483.2 320.3 489.5 324.6 491.5 326.2" stroke="#10d0ff" stroke-width="8.0" stroke-opacity="0.75"/><path d="M558.4 181.6C560.0 183.2 563.6 188.4 568.0 191.1C572.3 193.9 581.9 197.0 584.7 198.2" stroke="#10d0ff" stroke-width="8.0" stroke-opacity="0.75"/><path d="M589.5 316.7C591.9 317.9 598.2 321.9 603.8 323.8C609.4 325.8 619.7 327.8 622.9 328.6" stroke="#10d0ff" stroke-width="8.0" stroke-opacity="0.75"/><path d="M632.5 438.5C634.9 438.5 642.0 438.1 646.8 438.5C651.6 438.9 658.8 440.5 661.1 440.9" stroke="#ff3000" stroke-width="8.0" stroke-opacity="0.95"/><path d="M599.0 504.9L622.9 514.4" stroke="#10d0ff" stroke-width="8.0" stroke-opacity="0.75"/><path d="M570.4 523.8L584.7 530.9" stroke="#10d0ff" stroke-width="8.0" stroke-opacity="0.75"/><path d="M723.3 519.1L751.9 523.8" stroke="#10d0ff" stroke-width="8.0" stroke-opacity="0.75"/><path d="M515.4 533.3C518.2 534.5 527.0 538.8 532.1 540.4C537.3 542.0 544.1 542.4 546.5 542.8" stroke="#10d0ff" stroke-width="8.0" stroke-opacity="0.75"/><path d="M599.0 467.0C603.0 468.5 616.5 474.1 622.9 476.4C629.3 478.8 634.9 480.4 637.3 481.2" stroke="#10d0ff" stroke-width="8.0" stroke-opacity="0.75"/><path d="M491.5 581.9L493.9 585.9" stroke="#10d0ff" stroke-width="8.0" stroke-opacity="0.75"/><path d="M544.1 581.9L545.3 585.9" stroke="#10d0ff" stroke-width="8.0" stroke-opacity="0.75"/><path d="M620.5 581.9L622.9 585.9" stroke="#10d0ff" stroke-width="8.0" stroke-opacity="0.75"/><path d="M658.8 581.9L661.1 585.9" stroke="#10d0ff" stroke-width="8.0" stroke-opacity="0.75"/><path d="M599.0 210.1C603.0 211.1 615.0 213.6 622.9 216.0C630.9 218.4 640.4 222.5 646.8 224.3C653.2 226.1 658.8 226.3 661.1 226.7" stroke="#a0ff50" stroke-width="7.2" stroke-opacity="0.85"/><path d="M560.8 328.6L584.7 330.9" stroke="#a0ff50" stroke-width="7.2" stroke-opacity="0.85"/><path d="M661.1 576.0C664.7 575.8 675.5 574.6 682.6 574.8C689.8 575.0 700.6 576.8 704.1 577.2" stroke="#ff3000" stroke-width="7.0" stroke-opacity="0.95"/><path d="M670.7 261.0L697.0 261.0" stroke="#f0ff20" stroke-width="6.5" stroke-opacity="0.85"/><path d="M479.6 504.9C482.8 504.1 492.3 501.7 498.7 500.1C505.1 498.6 511.0 497.4 517.8 495.4C524.6 493.4 532.1 489.9 539.3 488.3C546.5 486.7 557.2 486.3 560.8 485.9" stroke="#20e0ff" stroke-width="6.5" stroke-opacity="0.65"/><path d="M467.6 387.6L471.2 387.6" stroke="#f0ff20" stroke-width="6.5" stroke-opacity="0.85"/><path d="M468.8 214.8C471.4 213.6 479.4 209.3 484.3 207.7C489.3 206.1 493.5 206.1 498.7 205.3C503.9 204.5 509.4 204.0 515.4 203.0C521.4 202.0 527.7 200.4 534.5 199.4C541.3 198.4 550.0 196.4 556.0 197.0C562.0 197.6 565.6 201.2 570.4 203.0C575.1 204.7 579.9 206.7 584.7 207.7C589.5 208.7 596.6 208.7 599.0 208.9" stroke="#ff3000" stroke-width="6.0" stroke-opacity="0.95"/><path d="M510.6 150.8C513.4 152.8 520.6 158.7 527.4 162.7C534.1 166.6 544.9 171.4 551.2 174.5C557.6 177.7 563.2 180.5 565.6 181.6" stroke="#10d0ff" stroke-width="6.0" stroke-opacity="0.75"/><path d="M599.0 257.5C603.0 258.7 616.5 263.0 622.9 264.6C629.3 266.2 634.9 266.6 637.3 266.9" stroke="#10d0ff" stroke-width="6.0" stroke-opacity="0.75"/><path d="M484.3 405.3L503.5 412.5" stroke="#10d0ff" stroke-width="6.0" stroke-opacity="0.75"/><path d="M470.0 476.4C470.8 480.4 474.8 494.6 474.8 500.1C474.8 505.7 470.8 508.0 470.0 509.6" stroke="#10d0ff" stroke-width="6.0" stroke-opacity="0.75"/><path d="M737.6 257.5L751.9 257.5" stroke="#a0ff50" stroke-width="5.4" stroke-opacity="0.85"/><path d="M468.8 154.4C470.6 153.4 475.8 151.0 479.6 148.5C483.4 145.9 487.9 142.5 491.5 139.0C495.1 135.4 498.5 130.7 501.1 127.1C503.7 123.6 506.0 119.2 507.0 117.7" stroke="#ff3000" stroke-width="5.0" stroke-opacity="0.95"/><path d="M491.5 148.5C494.3 147.1 502.7 142.1 508.2 140.2C513.8 138.2 519.4 137.0 525.0 136.6C530.5 136.2 538.9 137.6 541.7 137.8" stroke="#ff3000" stroke-width="5.0" stroke-opacity="0.95"/><path d="M510.6 388.8C515.4 390.3 529.7 395.5 539.3 398.2C548.9 401.0 559.2 403.0 568.0 405.3C576.7 407.7 587.9 411.3 591.9 412.5" stroke="#ffd000" stroke-width="5.0" stroke-opacity="0.90"/><path d="M505.8 410.1L517.8 412.5" stroke="#ff3000" stroke-width="5.0" stroke-opacity="0.95"/><path d="M570.4 419.6C573.5 420.0 584.7 421.3 589.5 421.9C594.2 422.5 597.4 422.9 599.0 423.1" stroke="#ff3000" stroke-width="5.0" stroke-opacity="0.95"/><path d="M689.8 430.2C691.8 429.8 698.2 428.7 701.8 427.9C705.3 427.1 709.7 425.9 711.3 425.5" stroke="#ff3000" stroke-width="5.0" stroke-opacity="0.95"/><path d="M486.7 523.8C489.5 521.5 498.3 513.6 503.5 509.6C508.6 505.7 512.6 503.3 517.8 500.1C523.0 497.0 531.7 492.2 534.5 490.7" stroke="#ff3000" stroke-width="5.0" stroke-opacity="0.95"/><path d="M479.6 504.9C482.8 504.1 492.3 501.7 498.7 500.1C505.1 498.6 511.0 497.4 517.8 495.4C524.6 493.4 532.1 489.9 539.3 488.3C546.5 486.7 557.2 486.3 560.8 485.9" stroke="#ffe000" stroke-width="4.8" stroke-opacity="0.85"/><path d="M632.5 438.5C634.9 438.5 642.0 438.1 646.8 438.5C651.6 438.9 658.8 440.5 661.1 440.9" stroke="#b00000" stroke-width="4.5" stroke-opacity="1.00"/><path d="M599.0 210.1C603.0 211.1 615.0 213.6 622.9 216.0C630.9 218.4 640.4 222.5 646.8 224.3C653.2 226.1 658.8 226.3 661.1 226.7" stroke="#ffd000" stroke-width="4.0" stroke-opacity="0.90"/><path d="M670.7 261.0L697.0 261.0" stroke="#ff3000" stroke-width="4.0" stroke-opacity="0.95"/><path d="M560.8 328.6L584.7 330.9" stroke="#ffd000" stroke-width="4.0" stroke-opacity="0.90"/><path d="M467.6 387.6L471.2 387.6" stroke="#ff3000" stroke-width="4.0" stroke-opacity="0.95"/><path d="M661.1 576.0C664.7 575.8 675.5 574.6 682.6 574.8C689.8 575.0 700.6 576.8 704.1 577.2" stroke="#b00000" stroke-width="3.9" stroke-opacity="1.00"/><path d="M479.6 504.9C482.8 504.1 492.3 501.7 498.7 500.1C505.1 498.6 511.0 497.4 517.8 495.4C524.6 493.4 532.1 489.9 539.3 488.3C546.5 486.7 557.2 486.3 560.8 485.9" stroke="#ff2000" stroke-width="3.5" stroke-opacity="0.95"/><path d="M468.8 214.8C471.4 213.6 479.4 209.3 484.3 207.7C489.3 206.1 493.5 206.1 498.7 205.3C503.9 204.5 509.4 204.0 515.4 203.0C521.4 202.0 527.7 200.4 534.5 199.4C541.3 198.4 550.0 196.4 556.0 197.0C562.0 197.6 565.6 201.2 570.4 203.0C575.1 204.7 579.9 206.7 584.7 207.7C589.5 208.7 596.6 208.7 599.0 208.9" stroke="#b00000" stroke-width="3.4" stroke-opacity="1.00"/><path d="M737.6 257.5L751.9 257.5" stroke="#ffd000" stroke-width="3.0" stroke-opacity="0.90"/><path d="M468.8 154.4C470.6 153.4 475.8 151.0 479.6 148.5C483.4 145.9 487.9 142.5 491.5 139.0C495.1 135.4 498.5 130.7 501.1 127.1C503.7 123.6 506.0 119.2 507.0 117.7" stroke="#b00000" stroke-width="2.8" stroke-opacity="1.00"/><path d="M491.5 148.5C494.3 147.1 502.7 142.1 508.2 140.2C513.8 138.2 519.4 137.0 525.0 136.6C530.5 136.2 538.9 137.6 541.7 137.8" stroke="#b00000" stroke-width="2.8" stroke-opacity="1.00"/><path d="M505.8 410.1L517.8 412.5" stroke="#b00000" stroke-width="2.8" stroke-opacity="1.00"/><path d="M570.4 419.6C573.5 420.0 584.7 421.3 589.5 421.9C594.2 422.5 597.4 422.9 599.0 423.1" stroke="#b00000" stroke-width="2.8" stroke-opacity="1.00"/><path d="M689.8 430.2C691.8 429.8 698.2 428.7 701.8 427.9C705.3 427.1 709.7 425.9 711.3 425.5" stroke="#b00000" stroke-width="2.8" stroke-opacity="1.00"/><path d="M486.7 523.8C489.5 521.5 498.3 513.6 503.5 509.6C508.6 505.7 512.6 503.3 517.8 500.1C523.0 497.0 531.7 492.2 534.5 490.7" stroke="#b00000" stroke-width="2.8" stroke-opacity="1.00"/><path d="M479.6 504.9C482.8 504.1 492.3 501.7 498.7 500.1C505.1 498.6 511.0 497.4 517.8 495.4C524.6 493.4 532.1 489.9 539.3 488.3C546.5 486.7 557.2 486.3 560.8 485.9" stroke="#900000" stroke-width="2.5" stroke-opacity="1.00"/><path d="M670.7 261.0L697.0 261.0" stroke="#b00000" stroke-width="2.2" stroke-opacity="1.00"/><path d="M467.6 387.6L471.2 387.6" stroke="#b00000" stroke-width="2.2" stroke-opacity="1.00"/></g></g></g></g><defs><linearGradient id="gD2" x1="0" y1="0" x2="0" y2="1"><stop offset="0" stop-color="#00b5ff"/><stop offset="0.5" stop-color="#00b1ff"/><stop offset="1" stop-color="#00adff"/></linearGradient><linearGradient id="gD9" x1="0" y1="0" x2="0" y2="1"><stop offset="0" stop-color="#0092ff"/><stop offset="0.5" stop-color="#008fff"/><stop offset="1" stop-color="#008cff"/></linearGradient><linearGradient id="gD10" x1="0" y1="0" x2="0" y2="1"><stop offset="0" stop-color="#1affdc"/><stop offset="0.33" stop-color="#15ffe2"/><stop offset="0.67" stop-color="#0ff8e8"/><stop offset="1" stop-color="#09f1ee"/></linearGradient><linearGradient id="gD11" x1="0" y1="0" x2="0" y2="1"><stop offset="0" stop-color="#00d7ff"/><stop offset="1" stop-color="#00d1ff"/></linearGradient><linearGradient id="gD12" x1="0" y1="0" x2="0" y2="1"><stop offset="0" stop-color="#33ffc3"/><stop offset="0.5" stop-color="#2effc9"/><stop offset="1" stop-color="#28ffcf"/></linearGradient><linearGradient id="gD13" x1="0" y1="0" x2="0" y2="1"><stop offset="0" stop-color="#76ff80"/><stop offset="0.33" stop-color="#6dff8a"/><stop offset="0.67" stop-color="#64ff93"/><stop offset="1" stop-color="#5aff9d"/></linearGradient><linearGradient id="gD14" x1="0" y1="0" x2="0" y2="1"><stop offset="0" stop-color="#beff39"/><stop offset="0.5" stop-color="#b4ff43"/><stop offset="1" stop-color="#aaff4d"/></linearGradient><linearGradient id="gD15" x1="0" y1="0" x2="0" y2="1"><stop offset="0" stop-color="#93ff64"/><stop offset="0.33" stop-color="#89ff6e"/><stop offset="0.67" stop-color="#7fff78"/><stop offset="1" stop-color="#74ff82"/></linearGradient><linearGradient id="gD16" x1="0" y1="0" x2="0" y2="1"><stop offset="0" stop-color="#52ffa5"/><stop offset="0.5" stop-color="#4affad"/><stop offset="1" stop-color="#42ffb4"/></linearGradient><linearGradient id="gD17" x1="0" y1="0" x2="0" y2="1"><stop offset="0" stop-color="#07eef0"/><stop offset="0.33" stop-color="#02e8f5"/><stop offset="0.67" stop-color="#00e1fb"/><stop offset="1" stop-color="#00daff"/></linearGradient><linearGradient id="gD18" x1="0" y1="0" x2="0" y2="1"><stop offset="0" stop-color="#5fff98"/><stop offset="0.33" stop-color="#54ffa3"/><stop offset="0.67" stop-color="#4affad"/><stop offset="1" stop-color="#3fffb8"/></linearGradient><linearGradient id="gD22" x1="0" y1="0" x2="0" y2="1"><stop offset="0" stop-color="#0089ff"/><stop offset="0.5" stop-color="#0086ff"/><stop offset="1" stop-color="#0083ff"/></linearGradient><linearGradient id="gD23" x1="0" y1="0" x2="0" y2="1"><stop offset="0" stop-color="#00b9ff"/><stop offset="0.5" stop-color="#00b2ff"/><stop offset="1" stop-color="#00abff"/></linearGradient><linearGradient id="gD24" x1="0" y1="0" x2="0" y2="1"><stop offset="0" stop-color="#3bffbc"/><stop offset="0.5" stop-color="#30ffc6"/><stop offset="1" stop-color="#26ffd1"/></linearGradient><linearGradient id="gD30" x1="0" y1="0" x2="0" y2="1"><stop offset="0" stop-color="#00d9ff"/><stop offset="0.33" stop-color="#00d0ff"/><stop offset="0.67" stop-color="#00c7ff"/><stop offset="1" stop-color="#00beff"/></linearGradient><linearGradient id="gD31" x1="0" y1="0" x2="0" y2="1"><stop offset="0" stop-color="#006dff"/><stop offset="0.33" stop-color="#006bff"/><stop offset="0.67" stop-color="#0068ff"/><stop offset="1" stop-color="#0061ff"/></linearGradient><linearGradient id="gD32" x1="0" y1="0" x2="0" y2="1"><stop offset="0" stop-color="#0091ff"/><stop offset="0.5" stop-color="#008cff"/><stop offset="1" stop-color="#0086ff"/></linearGradient><linearGradient id="gD34" x1="0" y1="0" x2="0" y2="1"><stop offset="0" stop-color="#2effc9"/><stop offset="0.25" stop-color="#24ffd3"/><stop offset="0.5" stop-color="#1affdd"/><stop offset="0.75" stop-color="#10f9e7"/><stop offset="1" stop-color="#05ecf1"/></linearGradient><linearGradient id="gD35" x1="0" y1="0" x2="0" y2="1"><stop offset="0" stop-color="#32ffc5"/><stop offset="0.25" stop-color="#24ffd3"/><stop offset="0.5" stop-color="#17ffe0"/><stop offset="0.75" stop-color="#09f1ee"/><stop offset="1" stop-color="#00e0fc"/></linearGradient><linearGradient id="gD36" x1="0" y1="0" x2="0" y2="1"><stop offset="0" stop-color="#0047ff"/><stop offset="0.5" stop-color="#0041ff"/><stop offset="1" stop-color="#003bff"/></linearGradient><linearGradient id="gD37" x1="0" y1="0" x2="0" y2="1"><stop offset="0" stop-color="#0071ff"/><stop offset="0.5" stop-color="#006aff"/><stop offset="1" stop-color="#0062ff"/></linearGradient><linearGradient id="gD38" x1="0" y1="0" x2="0" y2="1"><stop offset="0" stop-color="#0081ff"/><stop offset="0.5" stop-color="#007dff"/><stop offset="1" stop-color="#0079ff"/></linearGradient><linearGradient id="gD39" x1="0" y1="0" x2="0" y2="1"><stop offset="0" stop-color="#00aaff"/><stop offset="0.5" stop-color="#00a2ff"/><stop offset="1" stop-color="#009aff"/></linearGradient><linearGradient id="gD40" x1="0" y1="0" x2="0" y2="1"><stop offset="0" stop-color="#00a0ff"/><stop offset="0.5" stop-color="#009aff"/><stop offset="1" stop-color="#0095ff"/></linearGradient><linearGradient id="gD41" x1="0" y1="0" x2="0" y2="1"><stop offset="0" stop-color="#00d6ff"/><stop offset="0.33" stop-color="#00cbff"/><stop offset="0.67" stop-color="#00c1ff"/><stop offset="1" stop-color="#00b6ff"/></linearGradient><linearGradient id="gD42" x1="0" y1="0" x2="0" y2="1"><stop offset="0" stop-color="#004cff"/><stop offset="0.33" stop-color="#0046ff"/><stop offset="0.67" stop-color="#0041ff"/><stop offset="1" stop-color="#003bff"/></linearGradient><linearGradient id="gD43" x1="0" y1="0" x2="0" y2="1"><stop offset="0" stop-color="#0031ff"/><stop offset="0.5" stop-color="#002cff"/><stop offset="1" stop-color="#0026ff"/></linearGradient><linearGradient id="gD44" x1="0" y1="0" x2="0" y2="1"><stop offset="0" stop-color="#006cff"/><stop offset="1" stop-color="#0064ff"/></linearGradient><linearGradient id="gD45" x1="0" y1="0" x2="0" y2="1"><stop offset="0" stop-color="#0099ff"/><stop offset="0.33" stop-color="#0090ff"/><stop offset="0.67" stop-color="#0087ff"/><stop offset="1" stop-color="#007eff"/></linearGradient><linearGradient id="gD46" x1="0" y1="0" x2="0" y2="1"><stop offset="0" stop-color="#00bcff"/><stop offset="0.5" stop-color="#00b2ff"/><stop offset="1" stop-color="#00a7ff"/></linearGradient><linearGradient id="gD47" x1="0" y1="0" x2="0" y2="1"><stop offset="0" stop-color="#00e1fb"/><stop offset="0.5" stop-color="#00d2ff"/><stop offset="1" stop-color="#00c3ff"/></linearGradient><linearGradient id="gD48" x1="0" y1="0" x2="0" y2="1"><stop offset="0" stop-color="#00b4ff"/><stop offset="0.5" stop-color="#00a7ff"/><stop offset="1" stop-color="#009bff"/></linearGradient><linearGradient id="gD50" x1="0" y1="0" x2="0" y2="1"><stop offset="0" stop-color="#0029ff"/><stop offset="0.33" stop-color="#002cff"/><stop offset="0.67" stop-color="#0032ff"/><stop offset="1" stop-color="#0038ff"/></linearGradient><linearGradient id="gD52" x1="0" y1="0" x2="0" y2="1"><stop offset="0" stop-color="#0079ff"/><stop offset="0.5" stop-color="#0071ff"/><stop offset="1" stop-color="#006aff"/></linearGradient><linearGradient id="gD53" x1="0" y1="0" x2="0" y2="1"><stop offset="0" stop-color="#008dff"/><stop offset="1" stop-color="#0080ff"/></linearGradient><linearGradient id="gD54" x1="0" y1="0" x2="0" y2="1"><stop offset="0" stop-color="#00a4ff"/><stop offset="1" stop-color="#0094ff"/></linearGradient><linearGradient id="gD55" x1="0" y1="0" x2="0" y2="1"><stop offset="0" stop-color="#00b7ff"/><stop offset="1" stop-color="#00a1ff"/></linearGradient><linearGradient id="gD56" x1="0" y1="0" x2="0" y2="1"><stop offset="0" stop-color="#0037ff"/><stop offset="0.5" stop-color="#003cff"/><stop offset="1" stop-color="#0042ff"/></linearGradient><linearGradient id="gD58" x1="0" y1="0" x2="0" y2="1"><stop offset="0" stop-color="#0079ff"/><stop offset="0.2" stop-color="#0072ff"/><stop offset="0.4" stop-color="#006aff"/><stop offset="0.6" stop-color="#0062ff"/><stop offset="0.8" stop-color="#0059ff"/><stop offset="1" stop-color="#004fff"/></linearGradient><linearGradient id="gD59" x1="0" y1="0" x2="0" y2="1"><stop offset="0" stop-color="#0089ff"/><stop offset="0.5" stop-color="#007bff"/><stop offset="1" stop-color="#006cff"/></linearGradient><linearGradient id="gD60" x1="0" y1="0" x2="0" y2="1"><stop offset="0" stop-color="#0096ff"/><stop offset="0.33" stop-color="#0089ff"/><stop offset="0.67" stop-color="#007bff"/><stop offset="1" stop-color="#006cff"/></linearGradient><linearGradient id="gD61" x1="0" y1="0" x2="0" y2="1"><stop offset="0" stop-color="#0097ff"/><stop offset="0.5" stop-color="#0087ff"/><stop offset="1" stop-color="#0077ff"/></linearGradient><linearGradient id="gD62" x1="0" y1="0" x2="0" y2="1"><stop offset="0" stop-color="#00a4ff"/><stop offset="0.5" stop-color="#008cff"/><stop offset="1" stop-color="#0074ff"/></linearGradient><linearGradient id="gD63" x1="0" y1="0" x2="0" y2="1"><stop offset="0" stop-color="#0042ff"/><stop offset="0.5" stop-color="#0048ff"/><stop offset="1" stop-color="#004eff"/></linearGradient><linearGradient id="gD65" x1="0" y1="0" x2="0" y2="1"><stop offset="0" stop-color="#0070ff"/><stop offset="0.5" stop-color="#0061ff"/><stop offset="1" stop-color="#0050ff"/></linearGradient><linearGradient id="gD66" x1="0" y1="0" x2="0" y2="1"><stop offset="0" stop-color="#007aff"/><stop offset="1" stop-color="#0064ff"/></linearGradient><clipPath id="pcD"><rect x="467.4" y="90" width="287.3" height="540"/></clipPath></defs><g transform="translate(60.50 1149.60) scale(1.0000 1.0000) translate(-467.40 -584.00)"><rect x="467.4" y="584" width="287.3" height="35" fill="#005cff" stroke="#1040a0" stroke-width="1"/><g clip-path="url(#pcD)"><g transform="scale(.5)" stroke="#1c2010" stroke-width="2.4" stroke-opacity="0.85"><path d="M933 277c1-6 3-15 7-22 5-7 13-13 20-19 7-7 17-15 24-18 8-2 16-1 20 3 3 4 4 15 2 22 -2 7-9 14-14 20 -6 6-13 12-20 17 -6 4-13 8-19 9 -6 2-14 2-17 0 -3-2-4-6-3-12z" fill="#0021ff"/><path d="M977 301c2-8 10-22 15-32 5-10 10-21 14-28 4-7 4-11 10-15 6-4 16-7 25-8 9 0 20 4 29 5 8 2 17 3 22 5 5 2 9 2 8 9 0 7-7 24-9 34 -3 10-1 20-5 25 -5 5-12 5-21 5 -10 0-26-9-37-7 -11 2-21 17-28 21 -7 4-13 5-17 3 -4-3-7-9-6-17z" fill="#004eff"/><path d="M1080 295c0-6 6-22 10-31 5-9 12-17 20-24 8-7 19-15 29-19 9-4 23-7 30-5 7 2 10 8 13 16 3 7 4 20 2 29 -1 9-4 19-10 25 -5 6-15 10-24 13 -9 2-19 1-29 2 -10 1-22 2-29 1 -7-1-11-1-12-7z" fill="url(#gD2)"/><path d="M933 292c5-5 21-8 27-6 7 3 12 14 14 21 1 7 0 17-6 22 -6 4-24 8-30 5 -5-2-4-14-5-21 -1-7-4-17 0-21z" fill="#0024ff"/><path d="M936 334c5-7 23-7 30-3 6 3 7 14 8 23 0 9 2 24-3 31 -5 6-21 11-27 8 -7-3-10-14-11-24 -1-10-3-29 3-35z" fill="#0026ff"/><path d="M933 405c4-23 11-12 18-15 7-4 17-6 25-5 8 1 16 0 21 10 4 10 6 26 7 49 1 22-2 58-2 84 0 26 3 53 2 71 -1 17-1 28-8 35 -6 6-19 4-30 5 -10 0-27 15-33-3 -6-18-2-69-2-108 0-38-1-100 2-123z" fill="#0044ff"/><path d="M1020 307c1-9 8-18 15-21 8-2 21 2 30 5 10 3 20 8 29 15 10 6 21 16 29 23 8 7 15 13 19 20 4 6 8 13 6 17 -3 4-13 5-22 5 -10 1-23-2-34-4 -11-3-23-6-33-10 -10-4-23-6-29-15 -7-8-11-25-10-35z" fill="#008aff"/><path d="M1080 293c3-5 21-3 25 3 4 6 3 30 0 34 -3 5-15 0-19-6 -4-6-9-26-6-31z" fill="#0090ff"/><path d="M1001 406c1-7 6-21 10-29 4-8 9-16 15-20 5-4 13-9 17-6 4 4 5 18 6 27 0 9-3 23-5 29 -3 7-5 8-11 11 -6 3-21 7-26 5 -6-2-7-9-6-17z" fill="#0061ff"/><path d="M1030 448c-1-6 8-20 14-29 5-9 11-18 19-24 8-7 19-11 29-15 10-3 23-5 34-5 10 1 21 2 29 5 7 4 13 9 15 16 3 7 1 19-2 26 -3 6-10 11-18 15 -7 4-18 7-29 9 -10 3-22 4-33 5 -11 1-23 3-33 2 -10 0-23 1-25-5z" fill="url(#gD9)"/><path d="M1170 388c-1-9 1-21 5-30 3-8 8-16 14-24 7-8 15-17 24-24 9-6 18-12 29-14 11-3 28-3 39 0 11 2 21 7 29 14 8 8 15 19 20 30 4 10 9 24 9 34 0 10-3 20-10 25 -7 5-17 4-30 5 -13 1-31 2-47 3 -15 0-34 1-47 2 -12 0-21 3-27 0 -6-4-8-13-8-21z" fill="url(#gD10)"/><path d="M1160 323c-2-5 2-16 5-21 4-6 9-11 16-13 6-3 19-3 25-3 6 1 11 2 12 6 1 5-2 16-6 22 -3 6-9 12-15 15 -6 3-14 6-20 5 -7-1-15-6-17-11z" fill="url(#gD11)"/><path d="M1214 288c0-5 2-14 8-20 6-5 19-9 29-14 9-5 19-9 28-14 10-5 21-13 29-15 8-2 15-1 17 3 3 5 0 17-2 24 -3 8-6 15-13 20 -7 6-19 11-29 15 -9 3-19 6-29 7 -9 1-22 1-29 0 -6-1-9-2-9-6z" fill="url(#gD12)"/><path d="M1325 270c1-11 4-22 9-29 6-8 18-15 25-18 8-2 15-1 21 3 6 3 11 11 15 20 4 8 9 18 10 29 1 10-2 23-5 34 -3 10-8 22-15 29 -6 7-17 10-25 10 -9 0-20-3-26-10 -5-7-8-18-9-30 -2-11-2-27 0-38z" fill="url(#gD13)"/><path d="M1411 270c1-7 2-22 8-29 5-8 15-13 25-15 9-3 22-3 33-3 11 0 25-3 31 3 5 5 2 20 2 30 0 11 6 27-2 33 -8 6-32 3-45 3 -13 0-25-1-33-3 -8-1-13-2-16-5 -3-3-4-6-3-14z" fill="url(#gD14)"/><path d="M1360 378c0-7 2-20 7-29 5-9 15-17 24-24 9-8 18-15 29-20 10-4 22-7 33-9 11-2 24-3 34-3 9 1 19-13 23 3 4 16 7 76 0 93 -7 18-26 10-42 13 -16 2-38 3-52 2 -14 0-24-2-33-5 -9-2-17-6-21-10 -3-3-3-4-2-11z" fill="url(#gD15)"/><path d="M1329 339c4-11 16-9 23-6 6 3 14 11 15 21 2 10 0 31-5 40 -4 8-15 10-21 10 -6 1-12 6-14-5 -2-11-2-49 2-60z" fill="url(#gD16)"/><path d="M1169 409c6-4 22-3 36-3 14 0 32-1 47 0 16 1 36 3 48 5 11 2 18-1 21 8 2 8-4 29-8 44 -3 16-6 40-12 49 -5 8-12 4-21 2 -9-1-23-6-34-12 -11-6-23-14-33-24 -10-9-22-24-29-33 -6-8-9-13-12-19 -2-6-8-14-3-17z" fill="url(#gD17)"/><path d="M1310 453c2-12 4-26 10-34 6-9 13-13 25-15 12-3 32 0 48 0 15 0 27 0 47 0 19 0 58-21 70 0 12 20 10 101 0 122 -10 21-41 2-61 2 -20 0-38 1-57-2 -19-3-43-9-57-14 -13-6-20-10-25-20 -4-10-1-27 0-39z" fill="url(#gD18)"/><path d="M1008 473c-2-5 2-15 5-19 3-5 9-9 14-9 5 0 12 3 14 9 3 6 3 19 0 24 -2 5-11 7-17 6 -5-1-14-6-16-11z" fill="#005fff"/><path d="M1085 476c1-5 5-12 11-16 6-4 16-6 25-7 9-1 21-1 29 2 8 3 14 9 18 16 3 7 6 20 3 26 -4 6-16 9-26 10 -10 1-25-2-34-4 -9-3-16-6-20-11 -5-4-7-10-6-16z" fill="#0099ff"/><path d="M1013 509c1-6 2-16 8-21 5-4 15-4 25-5 9 0 24-2 30 3 6 4 7 17 5 24 -1 7-7 17-15 21 -8 3-21 3-30 2 -8-1-17-4-21-8 -3-4-3-10-2-16z" fill="#0068ff"/><path d="M1081 528c1-9 5-17 10-21 5-4 14-8 21-5 7 2 16 11 21 20 4 9 6 26 5 35 -2 9-9 17-16 21 -7 3-19 3-26 0 -7-4-13-13-15-21 -3-8-2-21 0-29z" fill="url(#gD22)"/><path d="M1142 537c2-9 6-16 15-21 9-4 26-5 39-7 13-1 31-5 39-2 8 3 10 12 11 21 0 8-5 19-10 29 -5 11-11 26-20 34 -8 8-18 13-29 15 -11 1-28 1-35-5 -8-6-9-20-10-30 -2-11-3-25 0-34z" fill="url(#gD23)"/><path d="M1286 528c1-6 9-13 17-16 7-4 18-4 29-3 11 2 24 7 38 12 14 5 33 12 47 19 14 6 29 12 38 19 9 7 15 14 16 21 1 6-3 15-11 17 -9 2-25-1-40-5 -14-4-31-13-47-19 -16-7-34-14-47-19 -12-5-22-5-29-10 -6-4-12-11-11-16z" fill="url(#gD24)"/><path d="M1005 547c0-6 6-13 11-17 6-3 16-4 21-2 6 2 13 8 14 14 1 5-2 15-8 19 -6 4-20 5-27 3 -6-3-11-12-11-17z" fill="#005fff"/><path d="M1031 570c2-6 7-13 12-14 4-2 14 1 17 5 3 5 5 15 3 20 -2 5-9 9-14 11 -5 1-12 1-15-3 -3-4-4-14-3-19z" fill="#0067ff"/><path d="M989 589c1-7 10-14 16-17 6-2 17-4 20 0 3 5 2 22-2 28 -5 7-17 13-23 11 -5-2-12-16-11-22z" fill="#0056ff"/><path d="M1062 598c0-5 4-15 10-19 7-3 21-3 27 0 6 4 11 15 9 21 -2 5-13 9-19 10 -7 2-17 2-21 0 -5-2-7-6-6-12z" fill="#0077ff"/><path d="M1113 603c2-7 6-15 11-19 5-3 16-6 22-2 5 3 10 14 11 21 0 7-4 17-8 21 -5 4-14 6-19 5 -6 0-11-3-14-8 -3-4-4-12-3-18z" fill="#0091ff"/><path d="M1181 631c1-8 6-17 13-25 7-8 17-17 29-24 11-7 25-14 38-19 12-5 28-9 38-9 10-1 17 0 21 5 4 5 6 15 5 25 -1 11-5 26-9 39 -4 12-9 27-15 38 -5 10-10 19-19 24 -9 5-24 7-35 5 -11-1-24-9-34-14 -9-6-19-12-24-20 -5-7-8-17-8-25z" fill="url(#gD30)"/><path d="M1006 669c0-13 4-29 9-39 6-11 14-20 25-25 11-5 29-6 39-5 11 2 20 7 25 15 6 9 9 22 10 35 1 12-2 28-5 40 -2 11-4 20-9 29 -5 9-13 19-20 24 -6 5-13 6-20 5 -8 0-18-3-25-10 -8-6-15-17-20-29 -5-11-9-27-9-40z" fill="url(#gD31)"/><path d="M1109 658c3-10 8-16 15-20 7-4 17-6 25-5 9 2 19 9 25 15 7 6 14 14 15 20 2 6 0 11-5 16 -5 5-16 12-24 17 -8 5-17 11-24 14 -8 3-17 6-21 3 -5-3-8-9-8-19 -1-10-1-30 2-41z" fill="url(#gD32)"/><path d="M933 668c3-13 10-20 18-25 8-5 21-7 30-5 9 2 19 7 23 15 4 9 5 27 2 36 -3 8-13 12-20 17 -6 4-10 9-19 12 -9 2-28 11-34 2 -6-8-3-39 0-52z" fill="#0047ff"/><path d="M1292 645c3-13 7-24 14-34 7-10 19-22 29-29 10-7 19-13 29-14 10-2 19 0 30 5 10 4 23 14 33 24 11 9 20 22 29 33 8 10 19 20 22 29 2 8-2 17-6 23 -3 5-8 5-17 10 -9 4-24 13-38 19 -14 5-31 11-47 14 -16 3-35 3-48 2 -13-1-24-1-30-7 -6-7-5-18-5-31 0-12 2-31 5-44z" fill="url(#gD34)"/><path d="M1509 661c6 24 9 147 1 176 -8 30-31 1-47 0 -16-1-35-4-48-7 -12-3-24-6-29-12 -6-7-5-18-3-26 2-8 6-16 12-24 6-9 15-16 24-24 10-9 23-20 33-28 10-9 18-15 28-24 10-9 24-55 29-31z" fill="url(#gD35)"/><path d="M935 725c3-13 8-6 17-8 8-1 24-2 34 0 9 2 19 6 25 13 5 7 8 19 9 29 2 10 2 23-2 30 -4 8-12 13-23 15 -11 3-34 2-44 0 -10-1-13 3-16-10 -2-13-2-56 0-69z" fill="url(#gD36)"/><path d="M1020 802c0-9 5-26 10-34 5-9 11-13 20-16 8-2 17-4 29-2 12 2 29 9 43 14 13 5 26 11 38 17 11 6 22 12 29 19 6 8 9 17 10 25 0 8 3 18-6 22 -8 4-29 2-44 2 -15 0-32-2-47-5 -15-2-31-8-43-12 -12-3-22-4-29-9 -7-5-10-12-10-21z" fill="url(#gD37)"/><path d="M1084 740c2-4 17-10 26-15 9-5 21-11 29-15 8-3 16-8 19-5 4 3 5 15 3 23 -2 7-8 15-15 20 -7 4-17 6-25 7 -8 1-19 0-25-2 -6-3-14-8-12-13z" fill="url(#gD38)"/><path d="M1158 745c0-8 2-16 7-24 6-8 16-18 25-24 9-7 18-10 29-12 10-3 25-7 34-5 8 1 14 7 16 13 2 7-1 17-5 26 -4 8-11 17-19 24 -8 7-20 14-29 19 -10 5-20 10-29 12 -9 2-19 2-24-3 -5-4-5-17-5-26z" fill="url(#gD39)"/><path d="M1193 783c1-8 5-15 11-19 5-3 14-4 21-2 7 2 16 9 20 15 4 6 7 14 5 21 -1 7-9 16-15 20 -6 5-15 7-21 6 -6-2-12-9-16-16 -3-7-6-18-5-25z" fill="url(#gD40)"/><path d="M1254 769c2-10 5-23 10-30 5-7 13-10 21-10 7-1 16 8 23 7 7-1 10-9 18-12 9-2 23-2 34-2 11 0 26-1 34 2 8 3 14 10 16 16 1 6-1 13-5 21 -5 7-12 15-20 24 -8 9-19 20-28 28 -10 8-18 15-29 19 -10 5-24 7-34 5 -10-1-18-8-25-14 -7-7-12-16-15-25 -2-9-1-20 0-29z" fill="url(#gD41)"/><path d="M966 820c1-8 7-14 13-16 7-2 17-2 26 2 9 4 18 15 28 22 11 7 24 12 33 19 9 6 16 11 20 19 4 9 4 22 2 30 -1 9-5 16-12 21 -8 4-20 6-30 5 -11-2-25-8-35-15 -9-7-17-19-24-29 -6-9-13-19-16-28 -4-10-7-22-5-30z" fill="url(#gD42)"/><path d="M933 843c3-15 13-10 19-11 6-1 14-1 19 5 4 6 7 20 7 30 1 10-1 21-5 30 -3 8-8 17-15 20 -7 3-21 12-25 0 -4-12-3-60 0-74z" fill="url(#gD43)"/><path d="M1102 871c1-5 6-12 13-15 6-4 18-6 25-5 7 1 15 5 18 10 4 6 5 16 3 22 -2 5-9 10-16 13 -6 2-18 4-25 2 -7-1-12-6-16-10 -3-5-4-11-2-17z" fill="url(#gD44)"/><path d="M1189 867c2-11 4-23 9-30 6-6 16-8 25-10 10-1 22-2 30 0 8 3 15 7 20 16 5 9 8 25 10 38 1 14 1 31 0 43 -2 12-4 23-10 30 -6 6-16 9-25 10 -9 1-21 0-30-5 -9-5-19-15-25-25 -5-9-6-22-7-34 -1-11 1-22 3-33z" fill="url(#gD45)"/><path d="M1277 877c-1-8 5-19 11-25 5-7 14-11 24-15 11-4 26-6 38-7 13-1 28-2 35 2 8 4 11 14 11 21 0 8-4 19-11 26 -6 6-18 11-29 14 -10 4-23 6-33 8 -11 1-23 3-30 0 -8-4-15-16-16-24z" fill="url(#gD46)"/><path d="M1392 862c2-5 5-14 13-18 8-4 21-4 35-5 13 0 35 1 47 2 12 2 19-6 23 6 4 12 6 56 0 66 -5 10-22-2-34-5 -11-4-26-11-37-15 -11-4-21-6-29-9 -7-3-12-7-15-10 -3-4-4-7-3-12z" fill="url(#gD47)"/><path d="M1289 933c1-7 2-18 8-25 5-7 13-12 25-15 12-3 31-5 47-5 16 0 35 3 48 5 13 2 22 5 29 10 7 4 12 9 11 16 -1 7-8 19-16 25 -7 7-17 12-29 15 -12 3-29 4-43 5 -13 0-27-1-38-3 -10-1-17-2-23-4 -7-2-13-4-16-8 -3-4-4-9-3-16z" fill="url(#gD48)"/><path d="M973 937c1-6 5-16 10-20 5-4 15-6 21-5 7 0 15 4 19 10 3 6 4 19 2 26 -2 7-9 13-16 16 -6 2-15 2-20 0 -6-2-11-6-13-11 -3-4-4-10-3-16z" fill="#0033ff"/><path d="M933 921c3-18 13-4 20-2 6 1 13 5 20 12 6 7 14 20 19 29 5 9 10 16 12 24 2 8 1 18-3 25 -3 8-11 15-20 18 -8 3-21 2-29 2 -8 1-16 18-19 0 -3-18-3-89 0-108z" fill="url(#gD50)"/><path d="M1034 970c1-10 3-20 10-25 7-5 19-6 30-5 12 1 30 5 39 10 9 4 14 9 15 15 2 6 0 15-5 21 -5 6-15 12-25 15 -9 4-23 7-33 7 -10 1-21 4-26-2 -5-7-6-26-5-36z" fill="#004dff"/><path d="M1142 904c1-9 5-16 10-18 6-3 15-2 22 2 7 5 12 16 19 25 7 8 17 20 24 28 6 8 13 14 15 20 1 6 0 12-6 16 -6 5-20 7-30 8 -10 1-20 2-29 0 -9-2-19-6-23-13 -4-7-2-18-2-29 -1-12-2-29 0-39z" fill="url(#gD52)"/><path d="M1259 978c3-4 10-8 21-10 10-2 31-3 43-2 11 0 19 3 25 7 5 4 10 11 10 16 0 6-2 13-11 17 -8 3-26 4-39 5 -13 0-30 0-38-3 -9-2-9-8-11-13 -2-5-4-12 0-17z" fill="url(#gD53)"/><path d="M1364 979c2-4 5-9 14-11 8-2 27-3 38-2 12 0 24 1 30 5 6 3 9 9 9 14 -1 5-6 13-14 16 -8 4-24 5-34 5 -11 0-23-2-30-5 -6-2-8-7-10-10 -2-4-5-8-3-12z" fill="url(#gD54)"/><path d="M1451 989c0-5 4-11 10-16 6-4 17-9 25-10 8-1 20-5 24 3 4 8 4 37 0 45 -4 7-16 1-24 0 -8-1-19-2-25-5 -5-4-10-11-10-17z" fill="url(#gD55)"/><path d="M947 1054c2-6 6-13 13-20 6-6 15-13 24-19 8-5 20-11 28-14 9-3 20-9 23-6 3 3 0 16-3 24 -3 7-10 13-17 19 -7 7-16 14-24 19 -8 6-17 12-24 15 -7 2-14 3-17 0 -3-3-5-11-3-18z" fill="url(#gD56)"/><path d="M1027 1050c1-11 1-17 7-25 6-7 18-14 29-19 12-6 26-11 38-14 12-4 26-9 35-8 8 1 14 5 18 13 3 9 4 27 2 40 -1 12-4 23-9 33 -6 11-16 21-24 29 -9 8-19 14-29 19 -10 5-20 10-29 10 -10 0-20-3-26-10 -6-7-10-18-12-30 -2-11-1-28 0-38z" fill="#0050ff"/><path d="M1142 1055c2-9 11-24 19-34 8-11 18-21 29-29 10-8 23-15 33-19 10-5 18-9 25-8 7 1 12 6 16 13 4 7 7 17 9 30 3 12 6 31 8 47 1 16 1 33 0 47 -2 14-3 29-8 39 -4 9-11 15-20 20 -8 4-21 7-30 5 -8-3-15-12-20-21 -5-9-7-22-10-33 -3-11-4-25-9-31 -4-6-10-3-17-5 -7-1-18-1-23-5 -4-3-5-8-2-16z" fill="url(#gD58)"/><path d="M1306 1031c1-8 5-16 10-20 5-5 13-7 20-8 8-1 18-1 25 3 7 3 15 12 18 20 3 8 4 20 2 29 -1 10-3 20-10 26 -6 5-20 9-30 9 -9 1-19 0-25-5 -6-5-9-16-10-25 -2-9-2-21 0-29z" fill="url(#gD59)"/><path d="M1383 1036c1-12 3-20 8-25 4-6 14-9 21-8 7 1 14 4 18 13 4 9 5 27 5 39 1 12 1 25-2 34 -3 9-9 15-16 18 -6 3-15 4-21 0 -6-4-11-11-13-23 -2-12-1-36 0-48z" fill="url(#gD60)"/><path d="M1437 1055c1-10 5-21 10-26 5-5 16-7 22-5 6 2 11 8 13 16 2 9 1 26-2 35 -3 9-10 15-16 18 -6 2-17 4-22-3 -5-6-6-25-5-35z" fill="url(#gD61)"/><path d="M1479 1036c1-9 5-16 10-21 6-4 18-21 21-6 4 15 4 81 0 96 -3 15-16 0-21-6 -5-6-6-19-7-30 -2-10-4-24-3-33z" fill="url(#gD62)"/><path d="M961 1087c1-8 3-15 8-18 6-4 17-3 25-3 9 1 19 1 25 5 7 5 11 11 13 21 2 10 0 27-2 39 -2 11-4 24-10 29 -6 6-19 7-26 6 -8-2-16-7-21-16 -5-8-7-23-9-34 -2-10-4-21-3-29z" fill="url(#gD63)"/><path d="M1052 1144c0-7 6-16 11-21 5-5 14-8 21-8 6 1 15 5 18 11 4 6 5 17 3 24 -2 6-9 13-16 15 -7 3-20 4-26 0 -6-3-11-14-11-21z" fill="#004fff"/><path d="M1271 1130c1-9 5-19 12-25 7-7 19-13 29-15 11-3 21-2 34 0 14 1 32 5 47 9 16 4 33 10 47 14 15 5 27 9 38 15 12 5 29 13 32 18 3 5-5 7-13 10 -8 2-20 4-34 5 -13 1-27 1-47 2 -19 1-50 2-70 2 -21 1-40 2-52 0 -12-1-17-4-21-10 -4-6-4-17-2-25z" fill="url(#gD65)"/><path d="M1440 1117c-3-5 9-18 17-22 8-5 20-4 29-5 9-1 20-7 24 0 4 7 6 37 0 43 -5 6-22-3-33-5 -12-3-34-5-37-11z" fill="url(#gD66)"/><path d="M1029 914c12-2 54-2 66 0 11 2 4 9 3 13 -1 3 2 7-9 9 -10 1-44 1-54 0 -10-2-6-6-7-9 -1-4-10-11 1-13z" fill="#0049ff"/></g></g></g><defs><linearGradient id="gE0" x1="0" y1="0" x2="1" y2="0"><stop offset="0" stop-color="#ffec00"/><stop offset="1" stop-color="#ffc600"/></linearGradient><linearGradient id="gE1" x1="0" y1="0" x2="1" y2="0"><stop offset="0" stop-color="#ffec00"/><stop offset="0.33" stop-color="#ffc000"/><stop offset="0.67" stop-color="#ff9400"/><stop offset="1" stop-color="#ff6800"/></linearGradient><linearGradient id="gE2" x1="0" y1="0" x2="1" y2="1"><stop offset="0" stop-color="#0061ff"/><stop offset="0.08" stop-color="#009cff"/><stop offset="0.15" stop-color="#00d7ff"/><stop offset="0.23" stop-color="#23ffd3"/><stop offset="0.31" stop-color="#53ffa4"/><stop offset="0.38" stop-color="#82ff74"/><stop offset="0.46" stop-color="#b2ff45"/><stop offset="0.54" stop-color="#e1ff16"/><stop offset="0.62" stop-color="#ffd800"/><stop offset="0.69" stop-color="#ffa100"/><stop offset="0.77" stop-color="#ff6b00"/><stop offset="0.85" stop-color="#ff3400"/><stop offset="0.92" stop-color="#e50000"/><stop offset="1" stop-color="#a20000"/></linearGradient><linearGradient id="gE3" x1="0" y1="0" x2="1" y2="0"><stop offset="0" stop-color="#ffb400"/><stop offset="1" stop-color="#ffa000"/></linearGradient><linearGradient id="gE4" x1="0" y1="0" x2="1" y2="0"><stop offset="0" stop-color="#ffb400"/><stop offset="1" stop-color="#ffa000"/></linearGradient><linearGradient id="gE5" x1="0" y1="0" x2="1" y2="0"><stop offset="0" stop-color="#ffb800"/><stop offset="0.5" stop-color="#ff9800"/><stop offset="1" stop-color="#ff7800"/></linearGradient><linearGradient id="gE6" x1="0" y1="0" x2="1" y2="1"><stop offset="0" stop-color="#00e5f7"/><stop offset="0.14" stop-color="#2effc9"/><stop offset="0.29" stop-color="#5cff9b"/><stop offset="0.43" stop-color="#89ff6d"/><stop offset="0.57" stop-color="#b7ff3f"/><stop offset="0.71" stop-color="#e5ff12"/><stop offset="0.86" stop-color="#ffd500"/><stop offset="1" stop-color="#ffa100"/></linearGradient><linearGradient id="gE8" x1="0" y1="0" x2="0" y2="1"><stop offset="0" stop-color="#ceff29"/><stop offset="1" stop-color="#a5ff52"/></linearGradient><linearGradient id="gE9" x1="0" y1="0" x2="1" y2="0"><stop offset="0" stop-color="#004dff"/><stop offset="0.33" stop-color="#007cff"/><stop offset="0.67" stop-color="#00acff"/><stop offset="1" stop-color="#00dbff"/></linearGradient><linearGradient id="gE10" x1="0" y1="0" x2="1" y2="1"><stop offset="0" stop-color="#0038ff"/><stop offset="0.25" stop-color="#0070ff"/><stop offset="0.5" stop-color="#00a8ff"/><stop offset="0.75" stop-color="#00e0fb"/><stop offset="1" stop-color="#29ffce"/></linearGradient><linearGradient id="gE11" x1="0" y1="0" x2="1" y2="0"><stop offset="0" stop-color="#0000f3"/><stop offset="0.5" stop-color="#001aff"/><stop offset="1" stop-color="#004dff"/></linearGradient><linearGradient id="gE12" x1="0" y1="0" x2="1" y2="0"><stop offset="0" stop-color="#0061ff"/><stop offset="0.5" stop-color="#008aff"/><stop offset="1" stop-color="#00b2ff"/></linearGradient><linearGradient id="gE13" x1="0" y1="0" x2="1" y2="0"><stop offset="0" stop-color="#19ffde"/><stop offset="0.5" stop-color="#31ffc5"/><stop offset="1" stop-color="#4affad"/></linearGradient><linearGradient id="gE14" x1="0" y1="0" x2="1" y2="0"><stop offset="0" stop-color="#92ff64"/><stop offset="0.5" stop-color="#b9ff3e"/><stop offset="1" stop-color="#dfff18"/></linearGradient><linearGradient id="gE15" x1="0" y1="0" x2="1" y2="0"><stop offset="0" stop-color="#4bffac"/><stop offset="0.25" stop-color="#70ff87"/><stop offset="0.5" stop-color="#95ff62"/><stop offset="0.75" stop-color="#baff3d"/><stop offset="1" stop-color="#dfff18"/></linearGradient><linearGradient id="gE17" x1="0" y1="0" x2="1" y2="1"><stop offset="0" stop-color="#0000f3"/><stop offset="0.2" stop-color="#001cff"/><stop offset="0.4" stop-color="#0051ff"/><stop offset="0.6" stop-color="#0086ff"/><stop offset="0.8" stop-color="#00bbff"/><stop offset="1" stop-color="#08f0ef"/></linearGradient><linearGradient id="gE18" x1="0" y1="0" x2="1" y2="0"><stop offset="0" stop-color="#00a8ff"/><stop offset="0.17" stop-color="#00e1fa"/><stop offset="0.33" stop-color="#2bffcc"/><stop offset="0.5" stop-color="#59ff9e"/><stop offset="0.67" stop-color="#87ff70"/><stop offset="0.83" stop-color="#b5ff42"/><stop offset="1" stop-color="#e3ff14"/></linearGradient><linearGradient id="gE19" x1="0" y1="0" x2="0" y2="1"><stop offset="0" stop-color="#ff3000"/><stop offset="0.33" stop-color="#ff6500"/><stop offset="0.67" stop-color="#ff9b00"/><stop offset="1" stop-color="#ffd000"/></linearGradient><linearGradient id="gE20" x1="0" y1="0" x2="1" y2="0"><stop offset="0" stop-color="#19ffde"/><stop offset="0.33" stop-color="#47ffaf"/><stop offset="0.67" stop-color="#76ff81"/><stop offset="1" stop-color="#a5ff52"/></linearGradient><linearGradient id="gE21" x1="0" y1="0" x2="1" y2="0"><stop offset="0" stop-color="#3affbd"/><stop offset="0.5" stop-color="#5aff9c"/><stop offset="1" stop-color="#7bff7b"/></linearGradient><linearGradient id="gE22" x1="0" y1="0" x2="1" y2="0"><stop offset="0" stop-color="#7bff7b"/><stop offset="1" stop-color="#a5ff52"/></linearGradient><linearGradient id="gE23" x1="0" y1="0" x2="1" y2="0"><stop offset="0" stop-color="#a5ff52"/><stop offset="0.33" stop-color="#d3ff24"/><stop offset="0.67" stop-color="#ffe900"/><stop offset="1" stop-color="#ffb300"/></linearGradient><linearGradient id="gE24" x1="0" y1="0" x2="1" y2="0"><stop offset="0" stop-color="#0090ff"/><stop offset="0.17" stop-color="#00c6ff"/><stop offset="0.33" stop-color="#12fbe5"/><stop offset="0.5" stop-color="#3dffba"/><stop offset="0.67" stop-color="#68ff8f"/><stop offset="0.83" stop-color="#94ff63"/><stop offset="1" stop-color="#bfff38"/></linearGradient><linearGradient id="gE25" x1="0" y1="0" x2="1" y2="0"><stop offset="0" stop-color="#0080ff"/><stop offset="1" stop-color="#00b2ff"/></linearGradient><linearGradient id="gE27" x1="0" y1="0" x2="1" y2="0"><stop offset="0" stop-color="#ffc600"/><stop offset="1" stop-color="#ffb300"/></linearGradient><linearGradient id="gE28" x1="0" y1="0" x2="1" y2="0"><stop offset="0" stop-color="#deff19"/><stop offset="1" stop-color="#f7f600"/></linearGradient><linearGradient id="gE30" x1="0" y1="0" x2="1" y2="0"><stop offset="0" stop-color="#00dbff"/><stop offset="0.33" stop-color="#1bffdb"/><stop offset="0.67" stop-color="#3fffb8"/><stop offset="1" stop-color="#63ff94"/></linearGradient><linearGradient id="gE31" x1="0" y1="0" x2="1" y2="0"><stop offset="0" stop-color="#cfff27"/><stop offset="0.33" stop-color="#f5f701"/><stop offset="0.67" stop-color="#ffcb00"/><stop offset="1" stop-color="#ffa000"/></linearGradient><linearGradient id="gE32" x1="0" y1="0" x2="1" y2="0"><stop offset="0" stop-color="#ff7000"/><stop offset="0.5" stop-color="#ff3c00"/><stop offset="1" stop-color="#f10800"/></linearGradient><linearGradient id="gE33" x1="0" y1="0" x2="0" y2="1"><stop offset="0" stop-color="#92ff64"/><stop offset="0.33" stop-color="#bfff38"/><stop offset="0.67" stop-color="#ebff0c"/><stop offset="1" stop-color="#ffd000"/></linearGradient><linearGradient id="gE34" x1="0" y1="0" x2="1" y2="0"><stop offset="0" stop-color="#52ffa5"/><stop offset="0.17" stop-color="#82ff75"/><stop offset="0.33" stop-color="#b2ff45"/><stop offset="0.5" stop-color="#e2ff15"/><stop offset="0.67" stop-color="#ffd600"/><stop offset="0.83" stop-color="#ff9f00"/><stop offset="1" stop-color="#ff6800"/></linearGradient><linearGradient id="gE35" x1="0" y1="0" x2="1" y2="0"><stop offset="0" stop-color="#4bffac"/><stop offset="0.33" stop-color="#7bff7c"/><stop offset="0.67" stop-color="#abff4c"/><stop offset="1" stop-color="#dbff1c"/></linearGradient><linearGradient id="gE36" x1="0" y1="0" x2="1" y2="0"><stop offset="0" stop-color="#ffa000"/><stop offset="0.5" stop-color="#ff8000"/><stop offset="1" stop-color="#ff6000"/></linearGradient><linearGradient id="gE37" x1="0" y1="0" x2="1" y2="0"><stop offset="0" stop-color="#57ffa0"/><stop offset="0.17" stop-color="#80ff76"/><stop offset="0.33" stop-color="#aaff4d"/><stop offset="0.5" stop-color="#d3ff24"/><stop offset="0.67" stop-color="#fcef00"/><stop offset="0.83" stop-color="#ffc000"/><stop offset="1" stop-color="#ff9000"/></linearGradient><linearGradient id="gE39" x1="0" y1="0" x2="1" y2="0"><stop offset="0" stop-color="#89ff6d"/><stop offset="1" stop-color="#b3ff43"/></linearGradient><linearGradient id="gE40" x1="0" y1="0" x2="1" y2="0"><stop offset="0" stop-color="#7bff7b"/><stop offset="1" stop-color="#92ff64"/></linearGradient><linearGradient id="gE41" x1="0" y1="0" x2="1" y2="0"><stop offset="0" stop-color="#0080ff"/><stop offset="0.2" stop-color="#00b6ff"/><stop offset="0.4" stop-color="#06ecf1"/><stop offset="0.6" stop-color="#32ffc5"/><stop offset="0.8" stop-color="#5dff99"/><stop offset="1" stop-color="#89ff6d"/></linearGradient><linearGradient id="gE42" x1="0" y1="0" x2="1" y2="0"><stop offset="0" stop-color="#deff19"/><stop offset="0.33" stop-color="#ffe000"/><stop offset="0.67" stop-color="#ffad00"/><stop offset="1" stop-color="#ff7b00"/></linearGradient><linearGradient id="gE43" x1="0" y1="0" x2="1" y2="0"><stop offset="0" stop-color="#ffa800"/><stop offset="1" stop-color="#ff9800"/></linearGradient><linearGradient id="gE44" x1="0" y1="0" x2="0" y2="1"><stop offset="0" stop-color="#deff19"/><stop offset="0.5" stop-color="#ffe300"/><stop offset="1" stop-color="#ffb300"/></linearGradient><linearGradient id="gE45" x1="0" y1="0" x2="1" y2="0"><stop offset="0" stop-color="#ceff29"/><stop offset="0.33" stop-color="#f7f600"/><stop offset="0.67" stop-color="#ffc600"/><stop offset="1" stop-color="#ff9700"/></linearGradient><linearGradient id="gE46" x1="0" y1="0" x2="1" y2="0"><stop offset="0" stop-color="#7bff7b"/><stop offset="0.5" stop-color="#97ff5f"/><stop offset="1" stop-color="#b3ff43"/></linearGradient><linearGradient id="gE47" x1="0" y1="0" x2="1" y2="0"><stop offset="0" stop-color="#4bffac"/><stop offset="0.33" stop-color="#70ff87"/><stop offset="0.67" stop-color="#95ff61"/><stop offset="1" stop-color="#bbff3c"/></linearGradient><linearGradient id="gE48" x1="0" y1="0" x2="1" y2="0"><stop offset="0" stop-color="#43ffb4"/><stop offset="0.17" stop-color="#72ff85"/><stop offset="0.33" stop-color="#a1ff56"/><stop offset="0.5" stop-color="#d0ff27"/><stop offset="0.67" stop-color="#ffec00"/><stop offset="0.83" stop-color="#ffb600"/><stop offset="1" stop-color="#ff8000"/></linearGradient><linearGradient id="gE49" x1="0" y1="0" x2="1" y2="0"><stop offset="0" stop-color="#ff9800"/><stop offset="1" stop-color="#ff8000"/></linearGradient><linearGradient id="gE50" x1="0" y1="0" x2="1" y2="0"><stop offset="0" stop-color="#ffa000"/><stop offset="1" stop-color="#ff7000"/></linearGradient><linearGradient id="gE51" x1="0" y1="0" x2="0" y2="1"><stop offset="0" stop-color="#7bff7b"/><stop offset="0.17" stop-color="#abff4b"/><stop offset="0.33" stop-color="#dbff1b"/><stop offset="0.5" stop-color="#ffde00"/><stop offset="0.67" stop-color="#ffa700"/><stop offset="0.83" stop-color="#ff7000"/><stop offset="1" stop-color="#ff3900"/></linearGradient><linearGradient id="gE52" x1="0.3" y1="0" x2="0" y2="1"><stop offset="0" stop-color="#ffb300"/><stop offset="0.25" stop-color="#ffe300"/><stop offset="0.5" stop-color="#deff19"/><stop offset="0.75" stop-color="#b5ff42"/><stop offset="1" stop-color="#8cff6b"/></linearGradient><linearGradient id="gE53" x1="0" y1="0" x2="1" y2="0"><stop offset="0" stop-color="#ff8800"/><stop offset="0.33" stop-color="#ff5d00"/><stop offset="0.67" stop-color="#ff3200"/><stop offset="1" stop-color="#f10800"/></linearGradient><linearGradient id="gE54" x1="0" y1="0" x2="1" y2="0"><stop offset="0" stop-color="#89ff6d"/><stop offset="1" stop-color="#a3ff54"/></linearGradient><linearGradient id="gE55" x1="0" y1="0" x2="1" y2="0"><stop offset="0" stop-color="#b3ff43"/><stop offset="1" stop-color="#cbff2c"/></linearGradient><linearGradient id="gE56" x1="1" y1="0" x2="0" y2="1"><stop offset="0" stop-color="#ff3900"/><stop offset="0.08" stop-color="#ff7000"/><stop offset="0.17" stop-color="#ffa700"/><stop offset="0.25" stop-color="#ffde00"/><stop offset="0.33" stop-color="#dbff1b"/><stop offset="0.42" stop-color="#abff4b"/><stop offset="0.5" stop-color="#7bff7b"/><stop offset="0.58" stop-color="#4bffab"/><stop offset="0.67" stop-color="#1bffdb"/><stop offset="0.75" stop-color="#00ccff"/><stop offset="0.83" stop-color="#0090ff"/><stop offset="0.92" stop-color="#0055ff"/><stop offset="1" stop-color="#001aff"/></linearGradient><linearGradient id="gE57" x1="0" y1="0" x2="1" y2="0"><stop offset="0" stop-color="#00b0ff"/><stop offset="0.33" stop-color="#00defd"/><stop offset="0.67" stop-color="#1effd9"/><stop offset="1" stop-color="#43ffb4"/></linearGradient><linearGradient id="gE58" x1="0" y1="0" x2="1" y2="0"><stop offset="0" stop-color="#3affbd"/><stop offset="0.17" stop-color="#67ff90"/><stop offset="0.33" stop-color="#94ff63"/><stop offset="0.5" stop-color="#c1ff35"/><stop offset="0.67" stop-color="#efff08"/><stop offset="0.83" stop-color="#ffcb00"/><stop offset="1" stop-color="#ff9700"/></linearGradient><linearGradient id="gE59" x1="1" y1="0" x2="0" y2="1"><stop offset="0" stop-color="#ff6800"/><stop offset="0.2" stop-color="#ff9700"/><stop offset="0.4" stop-color="#ffc600"/><stop offset="0.6" stop-color="#f7f600"/><stop offset="0.8" stop-color="#ceff29"/><stop offset="1" stop-color="#a5ff52"/></linearGradient><linearGradient id="gE60" x1="0" y1="0" x2="1" y2="0"><stop offset="0" stop-color="#deff19"/><stop offset="0.5" stop-color="#ffe300"/><stop offset="1" stop-color="#ffb300"/></linearGradient><linearGradient id="gE61" x1="0" y1="0" x2="1" y2="0"><stop offset="0" stop-color="#ceff29"/><stop offset="1" stop-color="#deff19"/></linearGradient><linearGradient id="gE62" x1="0" y1="0" x2="1" y2="0"><stop offset="0" stop-color="#ceff29"/><stop offset="1" stop-color="#deff19"/></linearGradient><linearGradient id="gE63" x1="0" y1="0" x2="0" y2="1"><stop offset="0" stop-color="#0000f3"/><stop offset="0.17" stop-color="#0022ff"/><stop offset="0.33" stop-color="#005eff"/><stop offset="0.5" stop-color="#0099ff"/><stop offset="0.67" stop-color="#00d4ff"/><stop offset="0.83" stop-color="#22ffd4"/><stop offset="1" stop-color="#52ffa5"/></linearGradient><linearGradient id="gE64" x1="0" y1="0" x2="1" y2="0"><stop offset="0" stop-color="#72ff84"/><stop offset="1" stop-color="#92ff64"/></linearGradient><linearGradient id="gE65" x1="0" y1="0" x2="1" y2="0"><stop offset="0" stop-color="#72ff84"/><stop offset="0.12" stop-color="#a0ff57"/><stop offset="0.25" stop-color="#cdff2a"/><stop offset="0.38" stop-color="#faf100"/><stop offset="0.5" stop-color="#ffbd00"/><stop offset="0.62" stop-color="#ff8900"/><stop offset="0.75" stop-color="#ff5500"/><stop offset="0.88" stop-color="#ff2100"/><stop offset="1" stop-color="#d10000"/></linearGradient><linearGradient id="gE66" x1="0" y1="0" x2="1" y2="0"><stop offset="0" stop-color="#c3ff34"/><stop offset="1" stop-color="#dbff1c"/></linearGradient><linearGradient id="gE67" x1="0" y1="0" x2="1" y2="0"><stop offset="0" stop-color="#ffa000"/><stop offset="1" stop-color="#ff7000"/></linearGradient><clipPath id="pcE"><rect x="467.4" y="90" width="287.3" height="540"/></clipPath></defs><g transform="translate(467.40 1149.80) scale(1.0000 1.0000) translate(-467.40 -584.00)"><rect x="467.4" y="584" width="287.3" height="35" fill="#ffe800" stroke="#a09020" stroke-width="1"/><g clip-path="url(#pcE)"><g transform="scale(.5)" stroke="#1c2010" stroke-width="2.4" stroke-opacity="0.85"><path d="M933 277c1-6 3-15 7-22 5-7 13-13 20-19 7-7 17-15 24-18 8-2 16-1 20 3 3 4 4 15 2 22 -2 7-9 14-14 20 -6 6-13 12-20 17 -6 4-13 8-19 9 -6 2-14 2-17 0 -3-2-4-6-3-12z" fill="url(#gE0)"/><path d="M977 301c2-8 10-22 15-32 5-10 10-21 14-28 4-7 4-11 10-15 6-4 16-7 25-8 9 0 20 4 29 5 8 2 17 3 22 5 5 2 9 2 8 9 0 7-7 24-9 34 -3 10-1 20-5 25 -5 5-12 5-21 5 -10 0-26-9-37-7 -11 2-21 17-28 21 -7 4-13 5-17 3 -4-3-7-9-6-17z" fill="url(#gE1)"/><path d="M1080 295c0-6 6-22 10-31 5-9 12-17 20-24 8-7 19-15 29-19 9-4 23-7 30-5 7 2 10 8 13 16 3 7 4 20 2 29 -1 9-4 19-10 25 -5 6-15 10-24 13 -9 2-19 1-29 2 -10 1-22 2-29 1 -7-1-11-1-12-7z" fill="url(#gE2)"/><path d="M933 292c5-5 21-8 27-6 7 3 12 14 14 21 1 7 0 17-6 22 -6 4-24 8-30 5 -5-2-4-14-5-21 -1-7-4-17 0-21z" fill="url(#gE3)"/><path d="M936 334c5-7 23-7 30-3 6 3 7 14 8 23 0 9 2 24-3 31 -5 6-21 11-27 8 -7-3-10-14-11-24 -1-10-3-29 3-35z" fill="url(#gE4)"/><path d="M933 405c4-23 11-12 18-15 7-4 17-6 25-5 8 1 16 0 21 10 4 10 6 26 7 49 1 22-2 58-2 84 0 26 3 53 2 71 -1 17-1 28-8 35 -6 6-19 4-30 5 -10 0-27 15-33-3 -6-18-2-69-2-108 0-38-1-100 2-123z" fill="url(#gE5)"/><path d="M1020 307c1-9 8-18 15-21 8-2 21 2 30 5 10 3 20 8 29 15 10 6 21 16 29 23 8 7 15 13 19 20 4 6 8 13 6 17 -3 4-13 5-22 5 -10 1-23-2-34-4 -11-3-23-6-33-10 -10-4-23-6-29-15 -7-8-11-25-10-35z" fill="url(#gE6)"/><path d="M1080 293c3-5 21-3 25 3 4 6 3 30 0 34 -3 5-15 0-19-6 -4-6-9-26-6-31z" fill="#ceff29"/><path d="M1001 406c1-7 6-21 10-29 4-8 9-16 15-20 5-4 13-9 17-6 4 4 5 18 6 27 0 9-3 23-5 29 -3 7-5 8-11 11 -6 3-21 7-26 5 -6-2-7-9-6-17z" fill="url(#gE8)"/><path d="M1030 448c-1-6 8-20 14-29 5-9 11-18 19-24 8-7 19-11 29-15 10-3 23-5 34-5 10 1 21 2 29 5 7 4 13 9 15 16 3 7 1 19-2 26 -3 6-10 11-18 15 -7 4-18 7-29 9 -10 3-22 4-33 5 -11 1-23 3-33 2 -10 0-23 1-25-5z" fill="url(#gE9)"/><path d="M1170 388c-1-9 1-21 5-30 3-8 8-16 14-24 7-8 15-17 24-24 9-6 18-12 29-14 11-3 28-3 39 0 11 2 21 7 29 14 8 8 15 19 20 30 4 10 9 24 9 34 0 10-3 20-10 25 -7 5-17 4-30 5 -13 1-31 2-47 3 -15 0-34 1-47 2 -12 0-21 3-27 0 -6-4-8-13-8-21z" fill="url(#gE10)"/><path d="M1160 323c-2-5 2-16 5-21 4-6 9-11 16-13 6-3 19-3 25-3 6 1 11 2 12 6 1 5-2 16-6 22 -3 6-9 12-15 15 -6 3-14 6-20 5 -7-1-15-6-17-11z" fill="url(#gE11)"/><path d="M1214 288c0-5 2-14 8-20 6-5 19-9 29-14 9-5 19-9 28-14 10-5 21-13 29-15 8-2 15-1 17 3 3 5 0 17-2 24 -3 8-6 15-13 20 -7 6-19 11-29 15 -9 3-19 6-29 7 -9 1-22 1-29 0 -6-1-9-2-9-6z" fill="url(#gE12)"/><path d="M1325 270c1-11 4-22 9-29 6-8 18-15 25-18 8-2 15-1 21 3 6 3 11 11 15 20 4 8 9 18 10 29 1 10-2 23-5 34 -3 10-8 22-15 29 -6 7-17 10-25 10 -9 0-20-3-26-10 -5-7-8-18-9-30 -2-11-2-27 0-38z" fill="url(#gE13)"/><path d="M1411 270c1-7 2-22 8-29 5-8 15-13 25-15 9-3 22-3 33-3 11 0 25-3 31 3 5 5 2 20 2 30 0 11 6 27-2 33 -8 6-32 3-45 3 -13 0-25-1-33-3 -8-1-13-2-16-5 -3-3-4-6-3-14z" fill="url(#gE14)"/><path d="M1360 378c0-7 2-20 7-29 5-9 15-17 24-24 9-8 18-15 29-20 10-4 22-7 33-9 11-2 24-3 34-3 9 1 19-13 23 3 4 16 7 76 0 93 -7 18-26 10-42 13 -16 2-38 3-52 2 -14 0-24-2-33-5 -9-2-17-6-21-10 -3-3-3-4-2-11z" fill="url(#gE15)"/><path d="M1329 339c4-11 16-9 23-6 6 3 14 11 15 21 2 10 0 31-5 40 -4 8-15 10-21 10 -6 1-12 6-14-5 -2-11-2-49 2-60z" fill="#19ffde"/><path d="M1169 409c6-4 22-3 36-3 14 0 32-1 47 0 16 1 36 3 48 5 11 2 18-1 21 8 2 8-4 29-8 44 -3 16-6 40-12 49 -5 8-12 4-21 2 -9-1-23-6-34-12 -11-6-23-14-33-24 -10-9-22-24-29-33 -6-8-9-13-12-19 -2-6-8-14-3-17z" fill="url(#gE17)"/><path d="M1310 453c2-12 4-26 10-34 6-9 13-13 25-15 12-3 32 0 48 0 15 0 27 0 47 0 19 0 58-21 70 0 12 20 10 101 0 122 -10 21-41 2-61 2 -20 0-38 1-57-2 -19-3-43-9-57-14 -13-6-20-10-25-20 -4-10-1-27 0-39z" fill="url(#gE18)"/><path d="M1008 473c-2-5 2-15 5-19 3-5 9-9 14-9 5 0 12 3 14 9 3 6 3 19 0 24 -2 5-11 7-17 6 -5-1-14-6-16-11z" fill="url(#gE19)"/><path d="M1085 476c1-5 5-12 11-16 6-4 16-6 25-7 9-1 21-1 29 2 8 3 14 9 18 16 3 7 6 20 3 26 -4 6-16 9-26 10 -10 1-25-2-34-4 -9-3-16-6-20-11 -5-4-7-10-6-16z" fill="url(#gE20)"/><path d="M1013 509c1-6 2-16 8-21 5-4 15-4 25-5 9 0 24-2 30 3 6 4 7 17 5 24 -1 7-7 17-15 21 -8 3-21 3-30 2 -8-1-17-4-21-8 -3-4-3-10-2-16z" fill="url(#gE21)"/><path d="M1081 528c1-9 5-17 10-21 5-4 14-8 21-5 7 2 16 11 21 20 4 9 6 26 5 35 -2 9-9 17-16 21 -7 3-19 3-26 0 -7-4-13-13-15-21 -3-8-2-21 0-29z" fill="url(#gE22)"/><path d="M1142 537c2-9 6-16 15-21 9-4 26-5 39-7 13-1 31-5 39-2 8 3 10 12 11 21 0 8-5 19-10 29 -5 11-11 26-20 34 -8 8-18 13-29 15 -11 1-28 1-35-5 -8-6-9-20-10-30 -2-11-3-25 0-34z" fill="url(#gE23)"/><path d="M1286 528c1-6 9-13 17-16 7-4 18-4 29-3 11 2 24 7 38 12 14 5 33 12 47 19 14 6 29 12 38 19 9 7 15 14 16 21 1 6-3 15-11 17 -9 2-25-1-40-5 -14-4-31-13-47-19 -16-7-34-14-47-19 -12-5-22-5-29-10 -6-4-12-11-11-16z" fill="url(#gE24)"/><path d="M1005 547c0-6 6-13 11-17 6-3 16-4 21-2 6 2 13 8 14 14 1 5-2 15-8 19 -6 4-20 5-27 3 -6-3-11-12-11-17z" fill="url(#gE25)"/><path d="M1031 570c2-6 7-13 12-14 4-2 14 1 17 5 3 5 5 15 3 20 -2 5-9 9-14 11 -5 1-12 1-15-3 -3-4-4-14-3-19z" fill="#52ffa5"/><path d="M989 589c1-7 10-14 16-17 6-2 17-4 20 0 3 5 2 22-2 28 -5 7-17 13-23 11 -5-2-12-16-11-22z" fill="url(#gE27)"/><path d="M1062 598c0-5 4-15 10-19 7-3 21-3 27 0 6 4 11 15 9 21 -2 5-13 9-19 10 -7 2-17 2-21 0 -5-2-7-6-6-12z" fill="url(#gE28)"/><path d="M1113 603c2-7 6-15 11-19 5-3 16-6 22-2 5 3 10 14 11 21 0 7-4 17-8 21 -5 4-14 6-19 5 -6 0-11-3-14-8 -3-4-4-12-3-18z" fill="#bdff3a"/><path d="M1181 631c1-8 6-17 13-25 7-8 17-17 29-24 11-7 25-14 38-19 12-5 28-9 38-9 10-1 17 0 21 5 4 5 6 15 5 25 -1 11-5 26-9 39 -4 12-9 27-15 38 -5 10-10 19-19 24 -9 5-24 7-35 5 -11-1-24-9-34-14 -9-6-19-12-24-20 -5-7-8-17-8-25z" fill="url(#gE30)"/><path d="M1006 669c0-13 4-29 9-39 6-11 14-20 25-25 11-5 29-6 39-5 11 2 20 7 25 15 6 9 9 22 10 35 1 12-2 28-5 40 -2 11-4 20-9 29 -5 9-13 19-20 24 -6 5-13 6-20 5 -8 0-18-3-25-10 -8-6-15-17-20-29 -5-11-9-27-9-40z" fill="url(#gE31)"/><path d="M1109 658c3-10 8-16 15-20 7-4 17-6 25-5 9 2 19 9 25 15 7 6 14 14 15 20 2 6 0 11-5 16 -5 5-16 12-24 17 -8 5-17 11-24 14 -8 3-17 6-21 3 -5-3-8-9-8-19 -1-10-1-30 2-41z" fill="url(#gE32)"/><path d="M933 668c3-13 10-20 18-25 8-5 21-7 30-5 9 2 19 7 23 15 4 9 5 27 2 36 -3 8-13 12-20 17 -6 4-10 9-19 12 -9 2-28 11-34 2 -6-8-3-39 0-52z" fill="url(#gE33)"/><path d="M1292 645c3-13 7-24 14-34 7-10 19-22 29-29 10-7 19-13 29-14 10-2 19 0 30 5 10 4 23 14 33 24 11 9 20 22 29 33 8 10 19 20 22 29 2 8-2 17-6 23 -3 5-8 5-17 10 -9 4-24 13-38 19 -14 5-31 11-47 14 -16 3-35 3-48 2 -13-1-24-1-30-7 -6-7-5-18-5-31 0-12 2-31 5-44z" fill="url(#gE34)"/><path d="M1509 661c6 24 9 147 1 176 -8 30-31 1-47 0 -16-1-35-4-48-7 -12-3-24-6-29-12 -6-7-5-18-3-26 2-8 6-16 12-24 6-9 15-16 24-24 10-9 23-20 33-28 10-9 18-15 28-24 10-9 24-55 29-31z" fill="url(#gE35)"/><path d="M935 725c3-13 8-6 17-8 8-1 24-2 34 0 9 2 19 6 25 13 5 7 8 19 9 29 2 10 2 23-2 30 -4 8-12 13-23 15 -11 3-34 2-44 0 -10-1-13 3-16-10 -2-13-2-56 0-69z" fill="url(#gE36)"/><path d="M1020 802c0-9 5-26 10-34 5-9 11-13 20-16 8-2 17-4 29-2 12 2 29 9 43 14 13 5 26 11 38 17 11 6 22 12 29 19 6 8 9 17 10 25 0 8 3 18-6 22 -8 4-29 2-44 2 -15 0-32-2-47-5 -15-2-31-8-43-12 -12-3-22-4-29-9 -7-5-10-12-10-21z" fill="url(#gE37)"/><path d="M1084 740c2-4 17-10 26-15 9-5 21-11 29-15 8-3 16-8 19-5 4 3 5 15 3 23 -2 7-8 15-15 20 -7 4-17 6-25 7 -8 1-19 0-25-2 -6-3-14-8-12-13z" fill="#dbff1c"/><path d="M1158 745c0-8 2-16 7-24 6-8 16-18 25-24 9-7 18-10 29-12 10-3 25-7 34-5 8 1 14 7 16 13 2 7-1 17-5 26 -4 8-11 17-19 24 -8 7-20 14-29 19 -10 5-20 10-29 12 -9 2-19 2-24-3 -5-4-5-17-5-26z" fill="url(#gE39)"/><path d="M1193 783c1-8 5-15 11-19 5-3 14-4 21-2 7 2 16 9 20 15 4 6 7 14 5 21 -1 7-9 16-15 20 -6 5-15 7-21 6 -6-2-12-9-16-16 -3-7-6-18-5-25z" fill="url(#gE40)"/><path d="M1254 769c2-10 5-23 10-30 5-7 13-10 21-10 7-1 16 8 23 7 7-1 10-9 18-12 9-2 23-2 34-2 11 0 26-1 34 2 8 3 14 10 16 16 1 6-1 13-5 21 -5 7-12 15-20 24 -8 9-19 20-28 28 -10 8-18 15-29 19 -10 5-24 7-34 5 -10-1-18-8-25-14 -7-7-12-16-15-25 -2-9-1-20 0-29z" fill="url(#gE41)"/><path d="M966 820c1-8 7-14 13-16 7-2 17-2 26 2 9 4 18 15 28 22 11 7 24 12 33 19 9 6 16 11 20 19 4 9 4 22 2 30 -1 9-5 16-12 21 -8 4-20 6-30 5 -11-2-25-8-35-15 -9-7-17-19-24-29 -6-9-13-19-16-28 -4-10-7-22-5-30z" fill="url(#gE42)"/><path d="M933 843c3-15 13-10 19-11 6-1 14-1 19 5 4 6 7 20 7 30 1 10-1 21-5 30 -3 8-8 17-15 20 -7 3-21 12-25 0 -4-12-3-60 0-74z" fill="url(#gE43)"/><path d="M1102 871c1-5 6-12 13-15 6-4 18-6 25-5 7 1 15 5 18 10 4 6 5 16 3 22 -2 5-9 10-16 13 -6 2-18 4-25 2 -7-1-12-6-16-10 -3-5-4-11-2-17z" fill="url(#gE44)"/><path d="M1189 867c2-11 4-23 9-30 6-6 16-8 25-10 10-1 22-2 30 0 8 3 15 7 20 16 5 9 8 25 10 38 1 14 1 31 0 43 -2 12-4 23-10 30 -6 6-16 9-25 10 -9 1-21 0-30-5 -9-5-19-15-25-25 -5-9-6-22-7-34 -1-11 1-22 3-33z" fill="url(#gE45)"/><path d="M1277 877c-1-8 5-19 11-25 5-7 14-11 24-15 11-4 26-6 38-7 13-1 28-2 35 2 8 4 11 14 11 21 0 8-4 19-11 26 -6 6-18 11-29 14 -10 4-23 6-33 8 -11 1-23 3-30 0 -8-4-15-16-16-24z" fill="url(#gE46)"/><path d="M1392 862c2-5 5-14 13-18 8-4 21-4 35-5 13 0 35 1 47 2 12 2 19-6 23 6 4 12 6 56 0 66 -5 10-22-2-34-5 -11-4-26-11-37-15 -11-4-21-6-29-9 -7-3-12-7-15-10 -3-4-4-7-3-12z" fill="url(#gE47)"/><path d="M1289 933c1-7 2-18 8-25 5-7 13-12 25-15 12-3 31-5 47-5 16 0 35 3 48 5 13 2 22 5 29 10 7 4 12 9 11 16 -1 7-8 19-16 25 -7 7-17 12-29 15 -12 3-29 4-43 5 -13 0-27-1-38-3 -10-1-17-2-23-4 -7-2-13-4-16-8 -3-4-4-9-3-16z" fill="url(#gE48)"/><path d="M973 937c1-6 5-16 10-20 5-4 15-6 21-5 7 0 15 4 19 10 3 6 4 19 2 26 -2 7-9 13-16 16 -6 2-15 2-20 0 -6-2-11-6-13-11 -3-4-4-10-3-16z" fill="url(#gE49)"/><path d="M933 921c3-18 13-4 20-2 6 1 13 5 20 12 6 7 14 20 19 29 5 9 10 16 12 24 2 8 1 18-3 25 -3 8-11 15-20 18 -8 3-21 2-29 2 -8 1-16 18-19 0 -3-18-3-89 0-108z" fill="url(#gE50)"/><path d="M1034 970c1-10 3-20 10-25 7-5 19-6 30-5 12 1 30 5 39 10 9 4 14 9 15 15 2 6 0 15-5 21 -5 6-15 12-25 15 -9 4-23 7-33 7 -10 1-21 4-26-2 -5-7-6-26-5-36z" fill="url(#gE51)"/><path d="M1142 904c1-9 5-16 10-18 6-3 15-2 22 2 7 5 12 16 19 25 7 8 17 20 24 28 6 8 13 14 15 20 1 6 0 12-6 16 -6 5-20 7-30 8 -10 1-20 2-29 0 -9-2-19-6-23-13 -4-7-2-18-2-29 -1-12-2-29 0-39z" fill="url(#gE52)"/><path d="M1259 978c3-4 10-8 21-10 10-2 31-3 43-2 11 0 19 3 25 7 5 4 10 11 10 16 0 6-2 13-11 17 -8 3-26 4-39 5 -13 0-30 0-38-3 -9-2-9-8-11-13 -2-5-4-12 0-17z" fill="url(#gE53)"/><path d="M1364 979c2-4 5-9 14-11 8-2 27-3 38-2 12 0 24 1 30 5 6 3 9 9 9 14 -1 5-6 13-14 16 -8 4-24 5-34 5 -11 0-23-2-30-5 -6-2-8-7-10-10 -2-4-5-8-3-12z" fill="url(#gE54)"/><path d="M1451 989c0-5 4-11 10-16 6-4 17-9 25-10 8-1 20-5 24 3 4 8 4 37 0 45 -4 7-16 1-24 0 -8-1-19-2-25-5 -5-4-10-11-10-17z" fill="url(#gE55)"/><path d="M947 1054c2-6 6-13 13-20 6-6 15-13 24-19 8-5 20-11 28-14 9-3 20-9 23-6 3 3 0 16-3 24 -3 7-10 13-17 19 -7 7-16 14-24 19 -8 6-17 12-24 15 -7 2-14 3-17 0 -3-3-5-11-3-18z" fill="url(#gE56)"/><path d="M1027 1050c1-11 1-17 7-25 6-7 18-14 29-19 12-6 26-11 38-14 12-4 26-9 35-8 8 1 14 5 18 13 3 9 4 27 2 40 -1 12-4 23-9 33 -6 11-16 21-24 29 -9 8-19 14-29 19 -10 5-20 10-29 10 -10 0-20-3-26-10 -6-7-10-18-12-30 -2-11-1-28 0-38z" fill="url(#gE57)"/><path d="M1142 1055c2-9 11-24 19-34 8-11 18-21 29-29 10-8 23-15 33-19 10-5 18-9 25-8 7 1 12 6 16 13 4 7 7 17 9 30 3 12 6 31 8 47 1 16 1 33 0 47 -2 14-3 29-8 39 -4 9-11 15-20 20 -8 4-21 7-30 5 -8-3-15-12-20-21 -5-9-7-22-10-33 -3-11-4-25-9-31 -4-6-10-3-17-5 -7-1-18-1-23-5 -4-3-5-8-2-16z" fill="url(#gE58)"/><path d="M1306 1031c1-8 5-16 10-20 5-5 13-7 20-8 8-1 18-1 25 3 7 3 15 12 18 20 3 8 4 20 2 29 -1 10-3 20-10 26 -6 5-20 9-30 9 -9 1-19 0-25-5 -6-5-9-16-10-25 -2-9-2-21 0-29z" fill="url(#gE59)"/><path d="M1383 1036c1-12 3-20 8-25 4-6 14-9 21-8 7 1 14 4 18 13 4 9 5 27 5 39 1 12 1 25-2 34 -3 9-9 15-16 18 -6 3-15 4-21 0 -6-4-11-11-13-23 -2-12-1-36 0-48z" fill="url(#gE60)"/><path d="M1437 1055c1-10 5-21 10-26 5-5 16-7 22-5 6 2 11 8 13 16 2 9 1 26-2 35 -3 9-10 15-16 18 -6 2-17 4-22-3 -5-6-6-25-5-35z" fill="url(#gE61)"/><path d="M1479 1036c1-9 5-16 10-21 6-4 18-21 21-6 4 15 4 81 0 96 -3 15-16 0-21-6 -5-6-6-19-7-30 -2-10-4-24-3-33z" fill="url(#gE62)"/><path d="M961 1087c1-8 3-15 8-18 6-4 17-3 25-3 9 1 19 1 25 5 7 5 11 11 13 21 2 10 0 27-2 39 -2 11-4 24-10 29 -6 6-19 7-26 6 -8-2-16-7-21-16 -5-8-7-23-9-34 -2-10-4-21-3-29z" fill="url(#gE63)"/><path d="M1052 1144c0-7 6-16 11-21 5-5 14-8 21-8 6 1 15 5 18 11 4 6 5 17 3 24 -2 6-9 13-16 15 -7 3-20 4-26 0 -6-3-11-14-11-21z" fill="url(#gE64)"/><path d="M1271 1130c1-9 5-19 12-25 7-7 19-13 29-15 11-3 21-2 34 0 14 1 32 5 47 9 16 4 33 10 47 14 15 5 27 9 38 15 12 5 29 13 32 18 3 5-5 7-13 10 -8 2-20 4-34 5 -13 1-27 1-47 2 -19 1-50 2-70 2 -21 1-40 2-52 0 -12-1-17-4-21-10 -4-6-4-17-2-25z" fill="url(#gE65)"/><path d="M1440 1117c-3-5 9-18 17-22 8-5 20-4 29-5 9-1 20-7 24 0 4 7 6 37 0 43 -5 6-22-3-33-5 -12-3-34-5-37-11z" fill="url(#gE66)"/><path d="M1029 914c12-2 54-2 66 0 11 2 4 9 3 13 -1 3 2 7-9 9 -10 1-44 1-54 0 -10-2-6-6-7-9 -1-4-10-11 1-13z" fill="url(#gE67)"/></g></g></g><defs><linearGradient id="gF1" x1="0" y1="0" x2="1" y2="0"><stop offset="0" stop-color="#0033ff"/><stop offset="0.5" stop-color="#0052ff"/><stop offset="1" stop-color="#0070ff"/></linearGradient><linearGradient id="gF5" x1="0" y1="0" x2="1" y2="0"><stop offset="0" stop-color="#42ffb5"/><stop offset="0.2" stop-color="#15ffe2"/><stop offset="0.4" stop-color="#00c7ff"/><stop offset="0.6" stop-color="#008fff"/><stop offset="0.8" stop-color="#0057ff"/><stop offset="1" stop-color="#001fff"/></linearGradient><linearGradient id="gF6" x1="0" y1="0" x2="1" y2="0"><stop offset="0" stop-color="#0033ff"/><stop offset="0.5" stop-color="#0052ff"/><stop offset="1" stop-color="#0070ff"/></linearGradient><linearGradient id="gF7" x1="0" y1="0" x2="1" y2="0"><stop offset="0" stop-color="#0033ff"/><stop offset="0.5" stop-color="#0052ff"/><stop offset="1" stop-color="#0070ff"/></linearGradient><linearGradient id="gF9" x1="0" y1="0" x2="1" y2="0"><stop offset="0" stop-color="#001fff"/><stop offset="0.5" stop-color="#0052ff"/><stop offset="1" stop-color="#0085ff"/></linearGradient><linearGradient id="gF10" x1="1" y1="0" x2="0" y2="1"><stop offset="0" stop-color="#0085ff"/><stop offset="0.25" stop-color="#0057ff"/><stop offset="0.5" stop-color="#0029ff"/><stop offset="0.75" stop-color="#0000ff"/><stop offset="1" stop-color="#0000d6"/></linearGradient><linearGradient id="gF17" x1="0" y1="0" x2="1" y2="0"><stop offset="0" stop-color="#001fff"/><stop offset="0.5" stop-color="#0052ff"/><stop offset="1" stop-color="#0085ff"/></linearGradient><linearGradient id="gF18" x1="0" y1="0" x2="0" y2="1"><stop offset="0" stop-color="#0085ff"/><stop offset="0.11" stop-color="#00c0ff"/><stop offset="0.22" stop-color="#12fce5"/><stop offset="0.33" stop-color="#42ffb5"/><stop offset="0.44" stop-color="#72ff85"/><stop offset="0.56" stop-color="#a2ff55"/><stop offset="0.67" stop-color="#d2ff25"/><stop offset="0.78" stop-color="#ffe900"/><stop offset="0.89" stop-color="#ffb200"/><stop offset="1" stop-color="#ff7b00"/></linearGradient><linearGradient id="gF19" x1="0" y1="0" x2="1" y2="0"><stop offset="0" stop-color="#0033ff"/><stop offset="0.5" stop-color="#0052ff"/><stop offset="1" stop-color="#0070ff"/></linearGradient><linearGradient id="gF20" x1="0" y1="0" x2="1" y2="0"><stop offset="0" stop-color="#0033ff"/><stop offset="0.5" stop-color="#0052ff"/><stop offset="1" stop-color="#0070ff"/></linearGradient><linearGradient id="gF21" x1="0" y1="0" x2="1" y2="0"><stop offset="0" stop-color="#0033ff"/><stop offset="0.5" stop-color="#0052ff"/><stop offset="1" stop-color="#0070ff"/></linearGradient><linearGradient id="gF22" x1="0" y1="0" x2="1" y2="0"><stop offset="0" stop-color="#0033ff"/><stop offset="0.5" stop-color="#0052ff"/><stop offset="1" stop-color="#0070ff"/></linearGradient><linearGradient id="gF23" x1="0" y1="0" x2="1" y2="0"><stop offset="0" stop-color="#0033ff"/><stop offset="0.5" stop-color="#0052ff"/><stop offset="1" stop-color="#0070ff"/></linearGradient><linearGradient id="gF24" x1="0" y1="0" x2="1" y2="0"><stop offset="0" stop-color="#0033ff"/><stop offset="0.5" stop-color="#0052ff"/><stop offset="1" stop-color="#0070ff"/></linearGradient><linearGradient id="gF25" x1="0" y1="0" x2="1" y2="0"><stop offset="0" stop-color="#0033ff"/><stop offset="0.5" stop-color="#0052ff"/><stop offset="1" stop-color="#0070ff"/></linearGradient><linearGradient id="gF26" x1="0" y1="0" x2="1" y2="0"><stop offset="0" stop-color="#0033ff"/><stop offset="0.5" stop-color="#0052ff"/><stop offset="1" stop-color="#0070ff"/></linearGradient><linearGradient id="gF27" x1="0" y1="0" x2="1" y2="0"><stop offset="0" stop-color="#0033ff"/><stop offset="0.5" stop-color="#0052ff"/><stop offset="1" stop-color="#0070ff"/></linearGradient><linearGradient id="gF28" x1="0" y1="0" x2="1" y2="0"><stop offset="0" stop-color="#0033ff"/><stop offset="0.5" stop-color="#0052ff"/><stop offset="1" stop-color="#0070ff"/></linearGradient><linearGradient id="gF29" x1="0" y1="0" x2="1" y2="0"><stop offset="0" stop-color="#0033ff"/><stop offset="0.5" stop-color="#0052ff"/><stop offset="1" stop-color="#0070ff"/></linearGradient><linearGradient id="gF30" x1="0" y1="0" x2="1" y2="0"><stop offset="0" stop-color="#0000f9"/><stop offset="0.33" stop-color="#001fff"/><stop offset="0.67" stop-color="#0052ff"/><stop offset="1" stop-color="#0085ff"/></linearGradient><linearGradient id="gF31" x1="0" y1="0" x2="1" y2="0"><stop offset="0" stop-color="#0047ff"/><stop offset="0.5" stop-color="#007aff"/><stop offset="1" stop-color="#00adff"/></linearGradient><linearGradient id="gF34" x1="0" y1="0" x2="1" y2="1"><stop offset="0" stop-color="#0000f9"/><stop offset="0.33" stop-color="#001fff"/><stop offset="0.67" stop-color="#0052ff"/><stop offset="1" stop-color="#0085ff"/></linearGradient><linearGradient id="gF35" x1="1" y1="0" x2="0" y2="1"><stop offset="0" stop-color="#0047ff"/><stop offset="0.5" stop-color="#007aff"/><stop offset="1" stop-color="#00adff"/></linearGradient><linearGradient id="gF37" x1="0" y1="0" x2="1" y2="0"><stop offset="0" stop-color="#10fae6"/><stop offset="0.33" stop-color="#3affbd"/><stop offset="0.67" stop-color="#63ff94"/><stop offset="1" stop-color="#8cff6b"/></linearGradient><linearGradient id="gF38" x1="0" y1="0" x2="1" y2="0"><stop offset="0" stop-color="#005cff"/><stop offset="0.5" stop-color="#007aff"/><stop offset="1" stop-color="#0099ff"/></linearGradient><linearGradient id="gF39" x1="0" y1="0" x2="1" y2="0"><stop offset="0" stop-color="#005cff"/><stop offset="0.5" stop-color="#007aff"/><stop offset="1" stop-color="#0099ff"/></linearGradient><linearGradient id="gF40" x1="0" y1="0" x2="1" y2="0"><stop offset="0" stop-color="#005cff"/><stop offset="0.5" stop-color="#007aff"/><stop offset="1" stop-color="#0099ff"/></linearGradient><linearGradient id="gF44" x1="0" y1="0" x2="1" y2="0"><stop offset="0" stop-color="#005cff"/><stop offset="0.5" stop-color="#007aff"/><stop offset="1" stop-color="#0099ff"/></linearGradient><linearGradient id="gF49" x1="0" y1="0" x2="1" y2="0"><stop offset="0" stop-color="#005cff"/><stop offset="0.5" stop-color="#007aff"/><stop offset="1" stop-color="#0099ff"/></linearGradient><linearGradient id="gF50" x1="0" y1="0" x2="1" y2="0"><stop offset="0" stop-color="#005cff"/><stop offset="0.5" stop-color="#007aff"/><stop offset="1" stop-color="#0099ff"/></linearGradient><linearGradient id="gF51" x1="0" y1="0" x2="1" y2="0"><stop offset="0" stop-color="#005cff"/><stop offset="0.5" stop-color="#007aff"/><stop offset="1" stop-color="#0099ff"/></linearGradient><linearGradient id="gF53" x1="0" y1="0" x2="1" y2="0"><stop offset="0" stop-color="#005cff"/><stop offset="0.5" stop-color="#007aff"/><stop offset="1" stop-color="#0099ff"/></linearGradient><linearGradient id="gF54" x1="0" y1="0" x2="1" y2="0"><stop offset="0" stop-color="#005cff"/><stop offset="0.5" stop-color="#007aff"/><stop offset="1" stop-color="#0099ff"/></linearGradient><linearGradient id="gF55" x1="0" y1="0" x2="1" y2="0"><stop offset="0" stop-color="#005cff"/><stop offset="0.5" stop-color="#007aff"/><stop offset="1" stop-color="#0099ff"/></linearGradient><linearGradient id="gF57" x1="0" y1="0" x2="1" y2="0"><stop offset="0" stop-color="#0014ff"/><stop offset="0.33" stop-color="#0047ff"/><stop offset="0.67" stop-color="#007aff"/><stop offset="1" stop-color="#00adff"/></linearGradient><linearGradient id="gF58" x1="0" y1="0" x2="0" y2="1"><stop offset="0" stop-color="#00adff"/><stop offset="0.33" stop-color="#03e9f4"/><stop offset="0.67" stop-color="#33ffc4"/><stop offset="1" stop-color="#63ff94"/></linearGradient><linearGradient id="gF61" x1="0" y1="0" x2="1" y2="0"><stop offset="0" stop-color="#005cff"/><stop offset="0.5" stop-color="#007aff"/><stop offset="1" stop-color="#0099ff"/></linearGradient><linearGradient id="gF62" x1="0" y1="0" x2="1" y2="0"><stop offset="0" stop-color="#005cff"/><stop offset="0.5" stop-color="#007aff"/><stop offset="1" stop-color="#0099ff"/></linearGradient><linearGradient id="gF65" x1="0" y1="0" x2="1" y2="0"><stop offset="0" stop-color="#00adff"/><stop offset="0.33" stop-color="#00d8ff"/><stop offset="0.67" stop-color="#17ffdf"/><stop offset="1" stop-color="#3affbd"/></linearGradient><linearGradient id="gF67" x1="0" y1="0" x2="1" y2="0"><stop offset="0" stop-color="#005cff"/><stop offset="0.5" stop-color="#007aff"/><stop offset="1" stop-color="#0099ff"/></linearGradient><clipPath id="pcF"><rect x="467.4" y="90" width="287.3" height="540"/></clipPath><clipPath id="hcF"><path transform="scale(.5)" d="M933 277c1-6 3-15 7-22 5-7 13-13 20-19 7-7 17-15 24-18 8-2 16-1 20 3 3 4 4 15 2 22 -2 7-9 14-14 20 -6 6-13 12-20 17 -6 4-13 8-19 9 -6 2-14 2-17 0 -3-2-4-6-3-12z"/><path transform="scale(.5)" d="M977 301c2-8 10-22 15-32 5-10 10-21 14-28 4-7 4-11 10-15 6-4 16-7 25-8 9 0 20 4 29 5 8 2 17 3 22 5 5 2 9 2 8 9 0 7-7 24-9 34 -3 10-1 20-5 25 -5 5-12 5-21 5 -10 0-26-9-37-7 -11 2-21 17-28 21 -7 4-13 5-17 3 -4-3-7-9-6-17z"/><path transform="scale(.5)" d="M1080 295c0-6 6-22 10-31 5-9 12-17 20-24 8-7 19-15 29-19 9-4 23-7 30-5 7 2 10 8 13 16 3 7 4 20 2 29 -1 9-4 19-10 25 -5 6-15 10-24 13 -9 2-19 1-29 2 -10 1-22 2-29 1 -7-1-11-1-12-7z"/><path transform="scale(.5)" d="M933 292c5-5 21-8 27-6 7 3 12 14 14 21 1 7 0 17-6 22 -6 4-24 8-30 5 -5-2-4-14-5-21 -1-7-4-17 0-21z"/><path transform="scale(.5)" d="M936 334c5-7 23-7 30-3 6 3 7 14 8 23 0 9 2 24-3 31 -5 6-21 11-27 8 -7-3-10-14-11-24 -1-10-3-29 3-35z"/><path transform="scale(.5)" d="M933 405c4-23 11-12 18-15 7-4 17-6 25-5 8 1 16 0 21 10 4 10 6 26 7 49 1 22-2 58-2 84 0 26 3 53 2 71 -1 17-1 28-8 35 -6 6-19 4-30 5 -10 0-27 15-33-3 -6-18-2-69-2-108 0-38-1-100 2-123z"/><path transform="scale(.5)" d="M1020 307c1-9 8-18 15-21 8-2 21 2 30 5 10 3 20 8 29 15 10 6 21 16 29 23 8 7 15 13 19 20 4 6 8 13 6 17 -3 4-13 5-22 5 -10 1-23-2-34-4 -11-3-23-6-33-10 -10-4-23-6-29-15 -7-8-11-25-10-35z"/><path transform="scale(.5)" d="M1080 293c3-5 21-3 25 3 4 6 3 30 0 34 -3 5-15 0-19-6 -4-6-9-26-6-31z"/><path transform="scale(.5)" d="M1001 406c1-7 6-21 10-29 4-8 9-16 15-20 5-4 13-9 17-6 4 4 5 18 6 27 0 9-3 23-5 29 -3 7-5 8-11 11 -6 3-21 7-26 5 -6-2-7-9-6-17z"/><path transform="scale(.5)" d="M1030 448c-1-6 8-20 14-29 5-9 11-18 19-24 8-7 19-11 29-15 10-3 23-5 34-5 10 1 21 2 29 5 7 4 13 9 15 16 3 7 1 19-2 26 -3 6-10 11-18 15 -7 4-18 7-29 9 -10 3-22 4-33 5 -11 1-23 3-33 2 -10 0-23 1-25-5z"/><path transform="scale(.5)" d="M1170 388c-1-9 1-21 5-30 3-8 8-16 14-24 7-8 15-17 24-24 9-6 18-12 29-14 11-3 28-3 39 0 11 2 21 7 29 14 8 8 15 19 20 30 4 10 9 24 9 34 0 10-3 20-10 25 -7 5-17 4-30 5 -13 1-31 2-47 3 -15 0-34 1-47 2 -12 0-21 3-27 0 -6-4-8-13-8-21z"/><path transform="scale(.5)" d="M1160 323c-2-5 2-16 5-21 4-6 9-11 16-13 6-3 19-3 25-3 6 1 11 2 12 6 1 5-2 16-6 22 -3 6-9 12-15 15 -6 3-14 6-20 5 -7-1-15-6-17-11z"/><path transform="scale(.5)" d="M1214 288c0-5 2-14 8-20 6-5 19-9 29-14 9-5 19-9 28-14 10-5 21-13 29-15 8-2 15-1 17 3 3 5 0 17-2 24 -3 8-6 15-13 20 -7 6-19 11-29 15 -9 3-19 6-29 7 -9 1-22 1-29 0 -6-1-9-2-9-6z"/><path transform="scale(.5)" d="M1325 270c1-11 4-22 9-29 6-8 18-15 25-18 8-2 15-1 21 3 6 3 11 11 15 20 4 8 9 18 10 29 1 10-2 23-5 34 -3 10-8 22-15 29 -6 7-17 10-25 10 -9 0-20-3-26-10 -5-7-8-18-9-30 -2-11-2-27 0-38z"/><path transform="scale(.5)" d="M1411 270c1-7 2-22 8-29 5-8 15-13 25-15 9-3 22-3 33-3 11 0 25-3 31 3 5 5 2 20 2 30 0 11 6 27-2 33 -8 6-32 3-45 3 -13 0-25-1-33-3 -8-1-13-2-16-5 -3-3-4-6-3-14z"/><path transform="scale(.5)" d="M1360 378c0-7 2-20 7-29 5-9 15-17 24-24 9-8 18-15 29-20 10-4 22-7 33-9 11-2 24-3 34-3 9 1 19-13 23 3 4 16 7 76 0 93 -7 18-26 10-42 13 -16 2-38 3-52 2 -14 0-24-2-33-5 -9-2-17-6-21-10 -3-3-3-4-2-11z"/><path transform="scale(.5)" d="M1329 339c4-11 16-9 23-6 6 3 14 11 15 21 2 10 0 31-5 40 -4 8-15 10-21 10 -6 1-12 6-14-5 -2-11-2-49 2-60z"/><path transform="scale(.5)" d="M1169 409c6-4 22-3 36-3 14 0 32-1 47 0 16 1 36 3 48 5 11 2 18-1 21 8 2 8-4 29-8 44 -3 16-6 40-12 49 -5 8-12 4-21 2 -9-1-23-6-34-12 -11-6-23-14-33-24 -10-9-22-24-29-33 -6-8-9-13-12-19 -2-6-8-14-3-17z"/><path transform="scale(.5)" d="M1310 453c2-12 4-26 10-34 6-9 13-13 25-15 12-3 32 0 48 0 15 0 27 0 47 0 19 0 58-21 70 0 12 20 10 101 0 122 -10 21-41 2-61 2 -20 0-38 1-57-2 -19-3-43-9-57-14 -13-6-20-10-25-20 -4-10-1-27 0-39z"/><path transform="scale(.5)" d="M1008 473c-2-5 2-15 5-19 3-5 9-9 14-9 5 0 12 3 14 9 3 6 3 19 0 24 -2 5-11 7-17 6 -5-1-14-6-16-11z"/><path transform="scale(.5)" d="M1085 476c1-5 5-12 11-16 6-4 16-6 25-7 9-1 21-1 29 2 8 3 14 9 18 16 3 7 6 20 3 26 -4 6-16 9-26 10 -10 1-25-2-34-4 -9-3-16-6-20-11 -5-4-7-10-6-16z"/><path transform="scale(.5)" d="M1013 509c1-6 2-16 8-21 5-4 15-4 25-5 9 0 24-2 30 3 6 4 7 17 5 24 -1 7-7 17-15 21 -8 3-21 3-30 2 -8-1-17-4-21-8 -3-4-3-10-2-16z"/><path transform="scale(.5)" d="M1081 528c1-9 5-17 10-21 5-4 14-8 21-5 7 2 16 11 21 20 4 9 6 26 5 35 -2 9-9 17-16 21 -7 3-19 3-26 0 -7-4-13-13-15-21 -3-8-2-21 0-29z"/><path transform="scale(.5)" d="M1142 537c2-9 6-16 15-21 9-4 26-5 39-7 13-1 31-5 39-2 8 3 10 12 11 21 0 8-5 19-10 29 -5 11-11 26-20 34 -8 8-18 13-29 15 -11 1-28 1-35-5 -8-6-9-20-10-30 -2-11-3-25 0-34z"/><path transform="scale(.5)" d="M1286 528c1-6 9-13 17-16 7-4 18-4 29-3 11 2 24 7 38 12 14 5 33 12 47 19 14 6 29 12 38 19 9 7 15 14 16 21 1 6-3 15-11 17 -9 2-25-1-40-5 -14-4-31-13-47-19 -16-7-34-14-47-19 -12-5-22-5-29-10 -6-4-12-11-11-16z"/><path transform="scale(.5)" d="M1005 547c0-6 6-13 11-17 6-3 16-4 21-2 6 2 13 8 14 14 1 5-2 15-8 19 -6 4-20 5-27 3 -6-3-11-12-11-17z"/><path transform="scale(.5)" d="M1031 570c2-6 7-13 12-14 4-2 14 1 17 5 3 5 5 15 3 20 -2 5-9 9-14 11 -5 1-12 1-15-3 -3-4-4-14-3-19z"/><path transform="scale(.5)" d="M989 589c1-7 10-14 16-17 6-2 17-4 20 0 3 5 2 22-2 28 -5 7-17 13-23 11 -5-2-12-16-11-22z"/><path transform="scale(.5)" d="M1062 598c0-5 4-15 10-19 7-3 21-3 27 0 6 4 11 15 9 21 -2 5-13 9-19 10 -7 2-17 2-21 0 -5-2-7-6-6-12z"/><path transform="scale(.5)" d="M1113 603c2-7 6-15 11-19 5-3 16-6 22-2 5 3 10 14 11 21 0 7-4 17-8 21 -5 4-14 6-19 5 -6 0-11-3-14-8 -3-4-4-12-3-18z"/><path transform="scale(.5)" d="M1181 631c1-8 6-17 13-25 7-8 17-17 29-24 11-7 25-14 38-19 12-5 28-9 38-9 10-1 17 0 21 5 4 5 6 15 5 25 -1 11-5 26-9 39 -4 12-9 27-15 38 -5 10-10 19-19 24 -9 5-24 7-35 5 -11-1-24-9-34-14 -9-6-19-12-24-20 -5-7-8-17-8-25z"/><path transform="scale(.5)" d="M1006 669c0-13 4-29 9-39 6-11 14-20 25-25 11-5 29-6 39-5 11 2 20 7 25 15 6 9 9 22 10 35 1 12-2 28-5 40 -2 11-4 20-9 29 -5 9-13 19-20 24 -6 5-13 6-20 5 -8 0-18-3-25-10 -8-6-15-17-20-29 -5-11-9-27-9-40z"/><path transform="scale(.5)" d="M1109 658c3-10 8-16 15-20 7-4 17-6 25-5 9 2 19 9 25 15 7 6 14 14 15 20 2 6 0 11-5 16 -5 5-16 12-24 17 -8 5-17 11-24 14 -8 3-17 6-21 3 -5-3-8-9-8-19 -1-10-1-30 2-41z"/><path transform="scale(.5)" d="M933 668c3-13 10-20 18-25 8-5 21-7 30-5 9 2 19 7 23 15 4 9 5 27 2 36 -3 8-13 12-20 17 -6 4-10 9-19 12 -9 2-28 11-34 2 -6-8-3-39 0-52z"/><path transform="scale(.5)" d="M1292 645c3-13 7-24 14-34 7-10 19-22 29-29 10-7 19-13 29-14 10-2 19 0 30 5 10 4 23 14 33 24 11 9 20 22 29 33 8 10 19 20 22 29 2 8-2 17-6 23 -3 5-8 5-17 10 -9 4-24 13-38 19 -14 5-31 11-47 14 -16 3-35 3-48 2 -13-1-24-1-30-7 -6-7-5-18-5-31 0-12 2-31 5-44z"/><path transform="scale(.5)" d="M1509 661c6 24 9 147 1 176 -8 30-31 1-47 0 -16-1-35-4-48-7 -12-3-24-6-29-12 -6-7-5-18-3-26 2-8 6-16 12-24 6-9 15-16 24-24 10-9 23-20 33-28 10-9 18-15 28-24 10-9 24-55 29-31z"/><path transform="scale(.5)" d="M935 725c3-13 8-6 17-8 8-1 24-2 34 0 9 2 19 6 25 13 5 7 8 19 9 29 2 10 2 23-2 30 -4 8-12 13-23 15 -11 3-34 2-44 0 -10-1-13 3-16-10 -2-13-2-56 0-69z"/><path transform="scale(.5)" d="M1020 802c0-9 5-26 10-34 5-9 11-13 20-16 8-2 17-4 29-2 12 2 29 9 43 14 13 5 26 11 38 17 11 6 22 12 29 19 6 8 9 17 10 25 0 8 3 18-6 22 -8 4-29 2-44 2 -15 0-32-2-47-5 -15-2-31-8-43-12 -12-3-22-4-29-9 -7-5-10-12-10-21z"/><path transform="scale(.5)" d="M1084 740c2-4 17-10 26-15 9-5 21-11 29-15 8-3 16-8 19-5 4 3 5 15 3 23 -2 7-8 15-15 20 -7 4-17 6-25 7 -8 1-19 0-25-2 -6-3-14-8-12-13z"/><path transform="scale(.5)" d="M1158 745c0-8 2-16 7-24 6-8 16-18 25-24 9-7 18-10 29-12 10-3 25-7 34-5 8 1 14 7 16 13 2 7-1 17-5 26 -4 8-11 17-19 24 -8 7-20 14-29 19 -10 5-20 10-29 12 -9 2-19 2-24-3 -5-4-5-17-5-26z"/><path transform="scale(.5)" d="M1193 783c1-8 5-15 11-19 5-3 14-4 21-2 7 2 16 9 20 15 4 6 7 14 5 21 -1 7-9 16-15 20 -6 5-15 7-21 6 -6-2-12-9-16-16 -3-7-6-18-5-25z"/><path transform="scale(.5)" d="M1254 769c2-10 5-23 10-30 5-7 13-10 21-10 7-1 16 8 23 7 7-1 10-9 18-12 9-2 23-2 34-2 11 0 26-1 34 2 8 3 14 10 16 16 1 6-1 13-5 21 -5 7-12 15-20 24 -8 9-19 20-28 28 -10 8-18 15-29 19 -10 5-24 7-34 5 -10-1-18-8-25-14 -7-7-12-16-15-25 -2-9-1-20 0-29z"/><path transform="scale(.5)" d="M966 820c1-8 7-14 13-16 7-2 17-2 26 2 9 4 18 15 28 22 11 7 24 12 33 19 9 6 16 11 20 19 4 9 4 22 2 30 -1 9-5 16-12 21 -8 4-20 6-30 5 -11-2-25-8-35-15 -9-7-17-19-24-29 -6-9-13-19-16-28 -4-10-7-22-5-30z"/><path transform="scale(.5)" d="M933 843c3-15 13-10 19-11 6-1 14-1 19 5 4 6 7 20 7 30 1 10-1 21-5 30 -3 8-8 17-15 20 -7 3-21 12-25 0 -4-12-3-60 0-74z"/><path transform="scale(.5)" d="M1102 871c1-5 6-12 13-15 6-4 18-6 25-5 7 1 15 5 18 10 4 6 5 16 3 22 -2 5-9 10-16 13 -6 2-18 4-25 2 -7-1-12-6-16-10 -3-5-4-11-2-17z"/><path transform="scale(.5)" d="M1189 867c2-11 4-23 9-30 6-6 16-8 25-10 10-1 22-2 30 0 8 3 15 7 20 16 5 9 8 25 10 38 1 14 1 31 0 43 -2 12-4 23-10 30 -6 6-16 9-25 10 -9 1-21 0-30-5 -9-5-19-15-25-25 -5-9-6-22-7-34 -1-11 1-22 3-33z"/><path transform="scale(.5)" d="M1277 877c-1-8 5-19 11-25 5-7 14-11 24-15 11-4 26-6 38-7 13-1 28-2 35 2 8 4 11 14 11 21 0 8-4 19-11 26 -6 6-18 11-29 14 -10 4-23 6-33 8 -11 1-23 3-30 0 -8-4-15-16-16-24z"/><path transform="scale(.5)" d="M1392 862c2-5 5-14 13-18 8-4 21-4 35-5 13 0 35 1 47 2 12 2 19-6 23 6 4 12 6 56 0 66 -5 10-22-2-34-5 -11-4-26-11-37-15 -11-4-21-6-29-9 -7-3-12-7-15-10 -3-4-4-7-3-12z"/><path transform="scale(.5)" d="M1289 933c1-7 2-18 8-25 5-7 13-12 25-15 12-3 31-5 47-5 16 0 35 3 48 5 13 2 22 5 29 10 7 4 12 9 11 16 -1 7-8 19-16 25 -7 7-17 12-29 15 -12 3-29 4-43 5 -13 0-27-1-38-3 -10-1-17-2-23-4 -7-2-13-4-16-8 -3-4-4-9-3-16z"/><path transform="scale(.5)" d="M973 937c1-6 5-16 10-20 5-4 15-6 21-5 7 0 15 4 19 10 3 6 4 19 2 26 -2 7-9 13-16 16 -6 2-15 2-20 0 -6-2-11-6-13-11 -3-4-4-10-3-16z"/><path transform="scale(.5)" d="M933 921c3-18 13-4 20-2 6 1 13 5 20 12 6 7 14 20 19 29 5 9 10 16 12 24 2 8 1 18-3 25 -3 8-11 15-20 18 -8 3-21 2-29 2 -8 1-16 18-19 0 -3-18-3-89 0-108z"/><path transform="scale(.5)" d="M1034 970c1-10 3-20 10-25 7-5 19-6 30-5 12 1 30 5 39 10 9 4 14 9 15 15 2 6 0 15-5 21 -5 6-15 12-25 15 -9 4-23 7-33 7 -10 1-21 4-26-2 -5-7-6-26-5-36z"/><path transform="scale(.5)" d="M1142 904c1-9 5-16 10-18 6-3 15-2 22 2 7 5 12 16 19 25 7 8 17 20 24 28 6 8 13 14 15 20 1 6 0 12-6 16 -6 5-20 7-30 8 -10 1-20 2-29 0 -9-2-19-6-23-13 -4-7-2-18-2-29 -1-12-2-29 0-39z"/><path transform="scale(.5)" d="M1259 978c3-4 10-8 21-10 10-2 31-3 43-2 11 0 19 3 25 7 5 4 10 11 10 16 0 6-2 13-11 17 -8 3-26 4-39 5 -13 0-30 0-38-3 -9-2-9-8-11-13 -2-5-4-12 0-17z"/><path transform="scale(.5)" d="M1364 979c2-4 5-9 14-11 8-2 27-3 38-2 12 0 24 1 30 5 6 3 9 9 9 14 -1 5-6 13-14 16 -8 4-24 5-34 5 -11 0-23-2-30-5 -6-2-8-7-10-10 -2-4-5-8-3-12z"/><path transform="scale(.5)" d="M1451 989c0-5 4-11 10-16 6-4 17-9 25-10 8-1 20-5 24 3 4 8 4 37 0 45 -4 7-16 1-24 0 -8-1-19-2-25-5 -5-4-10-11-10-17z"/><path transform="scale(.5)" d="M947 1054c2-6 6-13 13-20 6-6 15-13 24-19 8-5 20-11 28-14 9-3 20-9 23-6 3 3 0 16-3 24 -3 7-10 13-17 19 -7 7-16 14-24 19 -8 6-17 12-24 15 -7 2-14 3-17 0 -3-3-5-11-3-18z"/><path transform="scale(.5)" d="M1027 1050c1-11 1-17 7-25 6-7 18-14 29-19 12-6 26-11 38-14 12-4 26-9 35-8 8 1 14 5 18 13 3 9 4 27 2 40 -1 12-4 23-9 33 -6 11-16 21-24 29 -9 8-19 14-29 19 -10 5-20 10-29 10 -10 0-20-3-26-10 -6-7-10-18-12-30 -2-11-1-28 0-38z"/><path transform="scale(.5)" d="M1142 1055c2-9 11-24 19-34 8-11 18-21 29-29 10-8 23-15 33-19 10-5 18-9 25-8 7 1 12 6 16 13 4 7 7 17 9 30 3 12 6 31 8 47 1 16 1 33 0 47 -2 14-3 29-8 39 -4 9-11 15-20 20 -8 4-21 7-30 5 -8-3-15-12-20-21 -5-9-7-22-10-33 -3-11-4-25-9-31 -4-6-10-3-17-5 -7-1-18-1-23-5 -4-3-5-8-2-16z"/><path transform="scale(.5)" d="M1306 1031c1-8 5-16 10-20 5-5 13-7 20-8 8-1 18-1 25 3 7 3 15 12 18 20 3 8 4 20 2 29 -1 10-3 20-10 26 -6 5-20 9-30 9 -9 1-19 0-25-5 -6-5-9-16-10-25 -2-9-2-21 0-29z"/><path transform="scale(.5)" d="M1383 1036c1-12 3-20 8-25 4-6 14-9 21-8 7 1 14 4 18 13 4 9 5 27 5 39 1 12 1 25-2 34 -3 9-9 15-16 18 -6 3-15 4-21 0 -6-4-11-11-13-23 -2-12-1-36 0-48z"/><path transform="scale(.5)" d="M1437 1055c1-10 5-21 10-26 5-5 16-7 22-5 6 2 11 8 13 16 2 9 1 26-2 35 -3 9-10 15-16 18 -6 2-17 4-22-3 -5-6-6-25-5-35z"/><path transform="scale(.5)" d="M1479 1036c1-9 5-16 10-21 6-4 18-21 21-6 4 15 4 81 0 96 -3 15-16 0-21-6 -5-6-6-19-7-30 -2-10-4-24-3-33z"/><path transform="scale(.5)" d="M961 1087c1-8 3-15 8-18 6-4 17-3 25-3 9 1 19 1 25 5 7 5 11 11 13 21 2 10 0 27-2 39 -2 11-4 24-10 29 -6 6-19 7-26 6 -8-2-16-7-21-16 -5-8-7-23-9-34 -2-10-4-21-3-29z"/><path transform="scale(.5)" d="M1052 1144c0-7 6-16 11-21 5-5 14-8 21-8 6 1 15 5 18 11 4 6 5 17 3 24 -2 6-9 13-16 15 -7 3-20 4-26 0 -6-3-11-14-11-21z"/><path transform="scale(.5)" d="M1271 1130c1-9 5-19 12-25 7-7 19-13 29-15 11-3 21-2 34 0 14 1 32 5 47 9 16 4 33 10 47 14 15 5 27 9 38 15 12 5 29 13 32 18 3 5-5 7-13 10 -8 2-20 4-34 5 -13 1-27 1-47 2 -19 1-50 2-70 2 -21 1-40 2-52 0 -12-1-17-4-21-10 -4-6-4-17-2-25z"/><path transform="scale(.5)" d="M1440 1117c-3-5 9-18 17-22 8-5 20-4 29-5 9-1 20-7 24 0 4 7 6 37 0 43 -5 6-22-3-33-5 -12-3-34-5-37-11z"/><path transform="scale(.5)" d="M1029 914c12-2 54-2 66 0 11 2 4 9 3 13 -1 3 2 7-9 9 -10 1-44 1-54 0 -10-2-6-6-7-9 -1-4-10-11 1-13z"/><rect x="467.4" y="584" width="287.3" height="35"/></clipPath><filter id="blF" x="-10%" y="-10%" width="120%" height="120%"><feGaussianBlur stdDeviation="1.1"/></filter></defs><g transform="translate(884.80 1145.50) scale(0.9750 0.9750) translate(-467.40 -584.00)"><rect x="467.4" y="584" width="287.3" height="35" fill="#0008c0" stroke="#000060" stroke-width="1"/><g clip-path="url(#pcF)"><g transform="scale(.5)" stroke="#1c2010" stroke-width="2.4" stroke-opacity="0.85"><path d="M933 277c1-6 3-15 7-22 5-7 13-13 20-19 7-7 17-15 24-18 8-2 16-1 20 3 3 4 4 15 2 22 -2 7-9 14-14 20 -6 6-13 12-20 17 -6 4-13 8-19 9 -6 2-14 2-17 0 -3-2-4-6-3-12z" fill="#00d1ff"/><path d="M977 301c2-8 10-22 15-32 5-10 10-21 14-28 4-7 4-11 10-15 6-4 16-7 25-8 9 0 20 4 29 5 8 2 17 3 22 5 5 2 9 2 8 9 0 7-7 24-9 34 -3 10-1 20-5 25 -5 5-12 5-21 5 -10 0-26-9-37-7 -11 2-21 17-28 21 -7 4-13 5-17 3 -4-3-7-9-6-17z" fill="url(#gF1)"/><path d="M1080 295c0-6 6-22 10-31 5-9 12-17 20-24 8-7 19-15 29-19 9-4 23-7 30-5 7 2 10 8 13 16 3 7 4 20 2 29 -1 9-4 19-10 25 -5 6-15 10-24 13 -9 2-19 1-29 2 -10 1-22 2-29 1 -7-1-11-1-12-7z" fill="#0000f9"/><path d="M933 292c5-5 21-8 27-6 7 3 12 14 14 21 1 7 0 17-6 22 -6 4-24 8-30 5 -5-2-4-14-5-21 -1-7-4-17 0-21z" fill="#00d1ff"/><path d="M936 334c5-7 23-7 30-3 6 3 7 14 8 23 0 9 2 24-3 31 -5 6-21 11-27 8 -7-3-10-14-11-24 -1-10-3-29 3-35z" fill="#0085ff"/><path d="M933 405c4-23 11-12 18-15 7-4 17-6 25-5 8 1 16 0 21 10 4 10 6 26 7 49 1 22-2 58-2 84 0 26 3 53 2 71 -1 17-1 28-8 35 -6 6-19 4-30 5 -10 0-27 15-33-3 -6-18-2-69-2-108 0-38-1-100 2-123z" fill="url(#gF5)"/><path d="M1020 307c1-9 8-18 15-21 8-2 21 2 30 5 10 3 20 8 29 15 10 6 21 16 29 23 8 7 15 13 19 20 4 6 8 13 6 17 -3 4-13 5-22 5 -10 1-23-2-34-4 -11-3-23-6-33-10 -10-4-23-6-29-15 -7-8-11-25-10-35z" fill="url(#gF6)"/><path d="M1080 293c3-5 21-3 25 3 4 6 3 30 0 34 -3 5-15 0-19-6 -4-6-9-26-6-31z" fill="url(#gF7)"/><path d="M1001 406c1-7 6-21 10-29 4-8 9-16 15-20 5-4 13-9 17-6 4 4 5 18 6 27 0 9-3 23-5 29 -3 7-5 8-11 11 -6 3-21 7-26 5 -6-2-7-9-6-17z" fill="#0085ff"/><path d="M1030 448c-1-6 8-20 14-29 5-9 11-18 19-24 8-7 19-11 29-15 10-3 23-5 34-5 10 1 21 2 29 5 7 4 13 9 15 16 3 7 1 19-2 26 -3 6-10 11-18 15 -7 4-18 7-29 9 -10 3-22 4-33 5 -11 1-23 3-33 2 -10 0-23 1-25-5z" fill="url(#gF9)"/><path d="M1170 388c-1-9 1-21 5-30 3-8 8-16 14-24 7-8 15-17 24-24 9-6 18-12 29-14 11-3 28-3 39 0 11 2 21 7 29 14 8 8 15 19 20 30 4 10 9 24 9 34 0 10-3 20-10 25 -7 5-17 4-30 5 -13 1-31 2-47 3 -15 0-34 1-47 2 -12 0-21 3-27 0 -6-4-8-13-8-21z" fill="url(#gF10)"/><path d="M1160 323c-2-5 2-16 5-21 4-6 9-11 16-13 6-3 19-3 25-3 6 1 11 2 12 6 1 5-2 16-6 22 -3 6-9 12-15 15 -6 3-14 6-20 5 -7-1-15-6-17-11z" fill="#0000f9"/><path d="M1214 288c0-5 2-14 8-20 6-5 19-9 29-14 9-5 19-9 28-14 10-5 21-13 29-15 8-2 15-1 17 3 3 5 0 17-2 24 -3 8-6 15-13 20 -7 6-19 11-29 15 -9 3-19 6-29 7 -9 1-22 1-29 0 -6-1-9-2-9-6z" fill="#0000bf"/><path d="M1325 270c1-11 4-22 9-29 6-8 18-15 25-18 8-2 15-1 21 3 6 3 11 11 15 20 4 8 9 18 10 29 1 10-2 23-5 34 -3 10-8 22-15 29 -6 7-17 10-25 10 -9 0-20-3-26-10 -5-7-8-18-9-30 -2-11-2-27 0-38z" fill="#0000a8"/><path d="M1411 270c1-7 2-22 8-29 5-8 15-13 25-15 9-3 22-3 33-3 11 0 25-3 31 3 5 5 2 20 2 30 0 11 6 27-2 33 -8 6-32 3-45 3 -13 0-25-1-33-3 -8-1-13-2-16-5 -3-3-4-6-3-14z" fill="#0000a8"/><path d="M1360 378c0-7 2-20 7-29 5-9 15-17 24-24 9-8 18-15 29-20 10-4 22-7 33-9 11-2 24-3 34-3 9 1 19-13 23 3 4 16 7 76 0 93 -7 18-26 10-42 13 -16 2-38 3-52 2 -14 0-24-2-33-5 -9-2-17-6-21-10 -3-3-3-4-2-11z" fill="#0000bf"/><path d="M1329 339c4-11 16-9 23-6 6 3 14 11 15 21 2 10 0 31-5 40 -4 8-15 10-21 10 -6 1-12 6-14-5 -2-11-2-49 2-60z" fill="#0000bf"/><path d="M1169 409c6-4 22-3 36-3 14 0 32-1 47 0 16 1 36 3 48 5 11 2 18-1 21 8 2 8-4 29-8 44 -3 16-6 40-12 49 -5 8-12 4-21 2 -9-1-23-6-34-12 -11-6-23-14-33-24 -10-9-22-24-29-33 -6-8-9-13-12-19 -2-6-8-14-3-17z" fill="url(#gF17)"/><path d="M1310 453c2-12 4-26 10-34 6-9 13-13 25-15 12-3 32 0 48 0 15 0 27 0 47 0 19 0 58-21 70 0 12 20 10 101 0 122 -10 21-41 2-61 2 -20 0-38 1-57-2 -19-3-43-9-57-14 -13-6-20-10-25-20 -4-10-1-27 0-39z" fill="url(#gF18)"/><path d="M1008 473c-2-5 2-15 5-19 3-5 9-9 14-9 5 0 12 3 14 9 3 6 3 19 0 24 -2 5-11 7-17 6 -5-1-14-6-16-11z" fill="url(#gF19)"/><path d="M1085 476c1-5 5-12 11-16 6-4 16-6 25-7 9-1 21-1 29 2 8 3 14 9 18 16 3 7 6 20 3 26 -4 6-16 9-26 10 -10 1-25-2-34-4 -9-3-16-6-20-11 -5-4-7-10-6-16z" fill="url(#gF20)"/><path d="M1013 509c1-6 2-16 8-21 5-4 15-4 25-5 9 0 24-2 30 3 6 4 7 17 5 24 -1 7-7 17-15 21 -8 3-21 3-30 2 -8-1-17-4-21-8 -3-4-3-10-2-16z" fill="url(#gF21)"/><path d="M1081 528c1-9 5-17 10-21 5-4 14-8 21-5 7 2 16 11 21 20 4 9 6 26 5 35 -2 9-9 17-16 21 -7 3-19 3-26 0 -7-4-13-13-15-21 -3-8-2-21 0-29z" fill="url(#gF22)"/><path d="M1142 537c2-9 6-16 15-21 9-4 26-5 39-7 13-1 31-5 39-2 8 3 10 12 11 21 0 8-5 19-10 29 -5 11-11 26-20 34 -8 8-18 13-29 15 -11 1-28 1-35-5 -8-6-9-20-10-30 -2-11-3-25 0-34z" fill="url(#gF23)"/><path d="M1286 528c1-6 9-13 17-16 7-4 18-4 29-3 11 2 24 7 38 12 14 5 33 12 47 19 14 6 29 12 38 19 9 7 15 14 16 21 1 6-3 15-11 17 -9 2-25-1-40-5 -14-4-31-13-47-19 -16-7-34-14-47-19 -12-5-22-5-29-10 -6-4-12-11-11-16z" fill="url(#gF24)"/><path d="M1005 547c0-6 6-13 11-17 6-3 16-4 21-2 6 2 13 8 14 14 1 5-2 15-8 19 -6 4-20 5-27 3 -6-3-11-12-11-17z" fill="url(#gF25)"/><path d="M1031 570c2-6 7-13 12-14 4-2 14 1 17 5 3 5 5 15 3 20 -2 5-9 9-14 11 -5 1-12 1-15-3 -3-4-4-14-3-19z" fill="url(#gF26)"/><path d="M989 589c1-7 10-14 16-17 6-2 17-4 20 0 3 5 2 22-2 28 -5 7-17 13-23 11 -5-2-12-16-11-22z" fill="url(#gF27)"/><path d="M1062 598c0-5 4-15 10-19 7-3 21-3 27 0 6 4 11 15 9 21 -2 5-13 9-19 10 -7 2-17 2-21 0 -5-2-7-6-6-12z" fill="url(#gF28)"/><path d="M1113 603c2-7 6-15 11-19 5-3 16-6 22-2 5 3 10 14 11 21 0 7-4 17-8 21 -5 4-14 6-19 5 -6 0-11-3-14-8 -3-4-4-12-3-18z" fill="url(#gF29)"/><path d="M1181 631c1-8 6-17 13-25 7-8 17-17 29-24 11-7 25-14 38-19 12-5 28-9 38-9 10-1 17 0 21 5 4 5 6 15 5 25 -1 11-5 26-9 39 -4 12-9 27-15 38 -5 10-10 19-19 24 -9 5-24 7-35 5 -11-1-24-9-34-14 -9-6-19-12-24-20 -5-7-8-17-8-25z" fill="url(#gF30)"/><path d="M1006 669c0-13 4-29 9-39 6-11 14-20 25-25 11-5 29-6 39-5 11 2 20 7 25 15 6 9 9 22 10 35 1 12-2 28-5 40 -2 11-4 20-9 29 -5 9-13 19-20 24 -6 5-13 6-20 5 -8 0-18-3-25-10 -8-6-15-17-20-29 -5-11-9-27-9-40z" fill="url(#gF31)"/><path d="M1109 658c3-10 8-16 15-20 7-4 17-6 25-5 9 2 19 9 25 15 7 6 14 14 15 20 2 6 0 11-5 16 -5 5-16 12-24 17 -8 5-17 11-24 14 -8 3-17 6-21 3 -5-3-8-9-8-19 -1-10-1-30 2-41z" fill="#00adff"/><path d="M933 668c3-13 10-20 18-25 8-5 21-7 30-5 9 2 19 7 23 15 4 9 5 27 2 36 -3 8-13 12-20 17 -6 4-10 9-19 12 -9 2-28 11-34 2 -6-8-3-39 0-52z" fill="#00adff"/><path d="M1292 645c3-13 7-24 14-34 7-10 19-22 29-29 10-7 19-13 29-14 10-2 19 0 30 5 10 4 23 14 33 24 11 9 20 22 29 33 8 10 19 20 22 29 2 8-2 17-6 23 -3 5-8 5-17 10 -9 4-24 13-38 19 -14 5-31 11-47 14 -16 3-35 3-48 2 -13-1-24-1-30-7 -6-7-5-18-5-31 0-12 2-31 5-44z" fill="url(#gF34)"/><path d="M1509 661c6 24 9 147 1 176 -8 30-31 1-47 0 -16-1-35-4-48-7 -12-3-24-6-29-12 -6-7-5-18-3-26 2-8 6-16 12-24 6-9 15-16 24-24 10-9 23-20 33-28 10-9 18-15 28-24 10-9 24-55 29-31z" fill="url(#gF35)"/><path d="M935 725c3-13 8-6 17-8 8-1 24-2 34 0 9 2 19 6 25 13 5 7 8 19 9 29 2 10 2 23-2 30 -4 8-12 13-23 15 -11 3-34 2-44 0 -10-1-13 3-16-10 -2-13-2-56 0-69z" fill="#00adff"/><path d="M1020 802c0-9 5-26 10-34 5-9 11-13 20-16 8-2 17-4 29-2 12 2 29 9 43 14 13 5 26 11 38 17 11 6 22 12 29 19 6 8 9 17 10 25 0 8 3 18-6 22 -8 4-29 2-44 2 -15 0-32-2-47-5 -15-2-31-8-43-12 -12-3-22-4-29-9 -7-5-10-12-10-21z" fill="url(#gF37)"/><path d="M1084 740c2-4 17-10 26-15 9-5 21-11 29-15 8-3 16-8 19-5 4 3 5 15 3 23 -2 7-8 15-15 20 -7 4-17 6-25 7 -8 1-19 0-25-2 -6-3-14-8-12-13z" fill="url(#gF38)"/><path d="M1158 745c0-8 2-16 7-24 6-8 16-18 25-24 9-7 18-10 29-12 10-3 25-7 34-5 8 1 14 7 16 13 2 7-1 17-5 26 -4 8-11 17-19 24 -8 7-20 14-29 19 -10 5-20 10-29 12 -9 2-19 2-24-3 -5-4-5-17-5-26z" fill="url(#gF39)"/><path d="M1193 783c1-8 5-15 11-19 5-3 14-4 21-2 7 2 16 9 20 15 4 6 7 14 5 21 -1 7-9 16-15 20 -6 5-15 7-21 6 -6-2-12-9-16-16 -3-7-6-18-5-25z" fill="url(#gF40)"/><path d="M1254 769c2-10 5-23 10-30 5-7 13-10 21-10 7-1 16 8 23 7 7-1 10-9 18-12 9-2 23-2 34-2 11 0 26-1 34 2 8 3 14 10 16 16 1 6-1 13-5 21 -5 7-12 15-20 24 -8 9-19 20-28 28 -10 8-18 15-29 19 -10 5-24 7-34 5 -10-1-18-8-25-14 -7-7-12-16-15-25 -2-9-1-20 0-29z" fill="#0047ff"/><path d="M966 820c1-8 7-14 13-16 7-2 17-2 26 2 9 4 18 15 28 22 11 7 24 12 33 19 9 6 16 11 20 19 4 9 4 22 2 30 -1 9-5 16-12 21 -8 4-20 6-30 5 -11-2-25-8-35-15 -9-7-17-19-24-29 -6-9-13-19-16-28 -4-10-7-22-5-30z" fill="#0014ff"/><path d="M933 843c3-15 13-10 19-11 6-1 14-1 19 5 4 6 7 20 7 30 1 10-1 21-5 30 -3 8-8 17-15 20 -7 3-21 12-25 0 -4-12-3-60 0-74z" fill="#007aff"/><path d="M1102 871c1-5 6-12 13-15 6-4 18-6 25-5 7 1 15 5 18 10 4 6 5 16 3 22 -2 5-9 10-16 13 -6 2-18 4-25 2 -7-1-12-6-16-10 -3-5-4-11-2-17z" fill="url(#gF44)"/><path d="M1189 867c2-11 4-23 9-30 6-6 16-8 25-10 10-1 22-2 30 0 8 3 15 7 20 16 5 9 8 25 10 38 1 14 1 31 0 43 -2 12-4 23-10 30 -6 6-16 9-25 10 -9 1-21 0-30-5 -9-5-19-15-25-25 -5-9-6-22-7-34 -1-11 1-22 3-33z" fill="#00adff"/><path d="M1277 877c-1-8 5-19 11-25 5-7 14-11 24-15 11-4 26-6 38-7 13-1 28-2 35 2 8 4 11 14 11 21 0 8-4 19-11 26 -6 6-18 11-29 14 -10 4-23 6-33 8 -11 1-23 3-30 0 -8-4-15-16-16-24z" fill="#00adff"/><path d="M1392 862c2-5 5-14 13-18 8-4 21-4 35-5 13 0 35 1 47 2 12 2 19-6 23 6 4 12 6 56 0 66 -5 10-22-2-34-5 -11-4-26-11-37-15 -11-4-21-6-29-9 -7-3-12-7-15-10 -3-4-4-7-3-12z" fill="#00adff"/><path d="M1289 933c1-7 2-18 8-25 5-7 13-12 25-15 12-3 31-5 47-5 16 0 35 3 48 5 13 2 22 5 29 10 7 4 12 9 11 16 -1 7-8 19-16 25 -7 7-17 12-29 15 -12 3-29 4-43 5 -13 0-27-1-38-3 -10-1-17-2-23-4 -7-2-13-4-16-8 -3-4-4-9-3-16z" fill="#0047ff"/><path d="M973 937c1-6 5-16 10-20 5-4 15-6 21-5 7 0 15 4 19 10 3 6 4 19 2 26 -2 7-9 13-16 16 -6 2-15 2-20 0 -6-2-11-6-13-11 -3-4-4-10-3-16z" fill="url(#gF49)"/><path d="M933 921c3-18 13-4 20-2 6 1 13 5 20 12 6 7 14 20 19 29 5 9 10 16 12 24 2 8 1 18-3 25 -3 8-11 15-20 18 -8 3-21 2-29 2 -8 1-16 18-19 0 -3-18-3-89 0-108z" fill="url(#gF50)"/><path d="M1034 970c1-10 3-20 10-25 7-5 19-6 30-5 12 1 30 5 39 10 9 4 14 9 15 15 2 6 0 15-5 21 -5 6-15 12-25 15 -9 4-23 7-33 7 -10 1-21 4-26-2 -5-7-6-26-5-36z" fill="url(#gF51)"/><path d="M1142 904c1-9 5-16 10-18 6-3 15-2 22 2 7 5 12 16 19 25 7 8 17 20 24 28 6 8 13 14 15 20 1 6 0 12-6 16 -6 5-20 7-30 8 -10 1-20 2-29 0 -9-2-19-6-23-13 -4-7-2-18-2-29 -1-12-2-29 0-39z" fill="#00adff"/><path d="M1259 978c3-4 10-8 21-10 10-2 31-3 43-2 11 0 19 3 25 7 5 4 10 11 10 16 0 6-2 13-11 17 -8 3-26 4-39 5 -13 0-30 0-38-3 -9-2-9-8-11-13 -2-5-4-12 0-17z" fill="url(#gF53)"/><path d="M1364 979c2-4 5-9 14-11 8-2 27-3 38-2 12 0 24 1 30 5 6 3 9 9 9 14 -1 5-6 13-14 16 -8 4-24 5-34 5 -11 0-23-2-30-5 -6-2-8-7-10-10 -2-4-5-8-3-12z" fill="url(#gF54)"/><path d="M1451 989c0-5 4-11 10-16 6-4 17-9 25-10 8-1 20-5 24 3 4 8 4 37 0 45 -4 7-16 1-24 0 -8-1-19-2-25-5 -5-4-10-11-10-17z" fill="url(#gF55)"/><path d="M947 1054c2-6 6-13 13-20 6-6 15-13 24-19 8-5 20-11 28-14 9-3 20-9 23-6 3 3 0 16-3 24 -3 7-10 13-17 19 -7 7-16 14-24 19 -8 6-17 12-24 15 -7 2-14 3-17 0 -3-3-5-11-3-18z" fill="#10fae6"/><path d="M1027 1050c1-11 1-17 7-25 6-7 18-14 29-19 12-6 26-11 38-14 12-4 26-9 35-8 8 1 14 5 18 13 3 9 4 27 2 40 -1 12-4 23-9 33 -6 11-16 21-24 29 -9 8-19 14-29 19 -10 5-20 10-29 10 -10 0-20-3-26-10 -6-7-10-18-12-30 -2-11-1-28 0-38z" fill="url(#gF57)"/><path d="M1142 1055c2-9 11-24 19-34 8-11 18-21 29-29 10-8 23-15 33-19 10-5 18-9 25-8 7 1 12 6 16 13 4 7 7 17 9 30 3 12 6 31 8 47 1 16 1 33 0 47 -2 14-3 29-8 39 -4 9-11 15-20 20 -8 4-21 7-30 5 -8-3-15-12-20-21 -5-9-7-22-10-33 -3-11-4-25-9-31 -4-6-10-3-17-5 -7-1-18-1-23-5 -4-3-5-8-2-16z" fill="url(#gF58)"/><path d="M1306 1031c1-8 5-16 10-20 5-5 13-7 20-8 8-1 18-1 25 3 7 3 15 12 18 20 3 8 4 20 2 29 -1 10-3 20-10 26 -6 5-20 9-30 9 -9 1-19 0-25-5 -6-5-9-16-10-25 -2-9-2-21 0-29z" fill="#0014ff"/><path d="M1383 1036c1-12 3-20 8-25 4-6 14-9 21-8 7 1 14 4 18 13 4 9 5 27 5 39 1 12 1 25-2 34 -3 9-9 15-16 18 -6 3-15 4-21 0 -6-4-11-11-13-23 -2-12-1-36 0-48z" fill="#0029ff"/><path d="M1437 1055c1-10 5-21 10-26 5-5 16-7 22-5 6 2 11 8 13 16 2 9 1 26-2 35 -3 9-10 15-16 18 -6 2-17 4-22-3 -5-6-6-25-5-35z" fill="url(#gF61)"/><path d="M1479 1036c1-9 5-16 10-21 6-4 18-21 21-6 4 15 4 81 0 96 -3 15-16 0-21-6 -5-6-6-19-7-30 -2-10-4-24-3-33z" fill="url(#gF62)"/><path d="M961 1087c1-8 3-15 8-18 6-4 17-3 25-3 9 1 19 1 25 5 7 5 11 11 13 21 2 10 0 27-2 39 -2 11-4 24-10 29 -6 6-19 7-26 6 -8-2-16-7-21-16 -5-8-7-23-9-34 -2-10-4-21-3-29z" fill="#007aff"/><path d="M1052 1144c0-7 6-16 11-21 5-5 14-8 21-8 6 1 15 5 18 11 4 6 5 17 3 24 -2 6-9 13-16 15 -7 3-20 4-26 0 -6-3-11-14-11-21z" fill="#007aff"/><path d="M1271 1130c1-9 5-19 12-25 7-7 19-13 29-15 11-3 21-2 34 0 14 1 32 5 47 9 16 4 33 10 47 14 15 5 27 9 38 15 12 5 29 13 32 18 3 5-5 7-13 10 -8 2-20 4-34 5 -13 1-27 1-47 2 -19 1-50 2-70 2 -21 1-40 2-52 0 -12-1-17-4-21-10 -4-6-4-17-2-25z" fill="url(#gF65)"/><path d="M1440 1117c-3-5 9-18 17-22 8-5 20-4 29-5 9-1 20-7 24 0 4 7 6 37 0 43 -5 6-22-3-33-5 -12-3-34-5-37-11z" fill="#0047ff"/><path d="M1029 914c12-2 54-2 66 0 11 2 4 9 3 13 -1 3 2 7-9 9 -10 1-44 1-54 0 -10-2-6-6-7-9 -1-4-10-11 1-13z" fill="url(#gF67)"/></g><g clip-path="url(#hcF)"><g filter="url(#blF)" fill="none" stroke-linecap="round" stroke-linejoin="round"><g transform="scale(.5)"><path d="M1007 229l0 11 -3 8 -6 8 -6 7 -7 7" stroke="#28e0ff" stroke-width="10" stroke-opacity=".75"/><path d="M967 283l-9 4 -9 3 -11 0 -5-5" stroke="#28e0ff" stroke-width="10" stroke-opacity=".75"/><path d="M991 272l4-9 4-9 5-8 4-9 5-9" stroke="#28e0ff" stroke-width="10" stroke-opacity=".75"/><path d="M1100 242l-3 9 -4 11 -2 9 -2 11 -1 9 -4 7 -8 3" stroke="#28e0ff" stroke-width="10" stroke-opacity=".75"/><path d="M1034 294l-9 1 -8 5" stroke="#28e0ff" stroke-width="10" stroke-opacity=".75"/><path d="M980 314l-3-6 0-7" stroke="#28e0ff" stroke-width="10" stroke-opacity=".75"/><path d="M1083 281l4-11 5-8 5-8 6-7" stroke="#28e0ff" stroke-width="10" stroke-opacity=".75"/><path d="M1174 286l-4 4 -5 3" stroke="#28e0ff" stroke-width="10" stroke-opacity=".75"/><path d="M1111 302l-11 0 -8 0 -11-3 0-9" stroke="#28e0ff" stroke-width="10" stroke-opacity=".75"/><path d="M972 301l2 6 0 7" stroke="#28e0ff" stroke-width="10" stroke-opacity=".75"/><path d="M968 329l-8 3 -10 3 -9 0 -6-5" stroke="#28e0ff" stroke-width="10" stroke-opacity=".75"/><path d="M932 294l6-5 10-3 10 0 7 4" stroke="#28e0ff" stroke-width="10" stroke-opacity=".75"/><path d="M973 380l-4 7 -9 5 -11 2 -8-2" stroke="#28e0ff" stroke-width="10" stroke-opacity=".75"/><path d="M933 338l5-6 9-3 10 0 9 2" stroke="#28e0ff" stroke-width="10" stroke-opacity=".75"/><path d="M937 393l8-3 9-1 9-3 10-1" stroke="#28e0ff" stroke-width="10" stroke-opacity=".75"/><path d="M998 397l2 7 1 8 2 9" stroke="#28e0ff" stroke-width="10" stroke-opacity=".75"/><path d="M1004 460l0 9 -1 9" stroke="#28e0ff" stroke-width="10" stroke-opacity=".75"/><path d="M1002 538l0 10 1 10" stroke="#28e0ff" stroke-width="10" stroke-opacity=".75"/><path d="M1003 568l1 6" stroke="#28e0ff" stroke-width="10" stroke-opacity=".75"/><path d="M1003 608l0 7" stroke="#28e0ff" stroke-width="10" stroke-opacity=".75"/><path d="M992 637l-9 1 -10 1 -10 0 -10 4 -10 2" stroke="#28e0ff" stroke-width="10" stroke-opacity=".75"/><path d="M1020 304l3-7 4-5" stroke="#28e0ff" stroke-width="10" stroke-opacity=".75"/><path d="M1074 295l9 4 8 5" stroke="#28e0ff" stroke-width="10" stroke-opacity=".75"/><path d="M1102 311l5 4 4 4" stroke="#28e0ff" stroke-width="10" stroke-opacity=".75"/><path d="M1137 370l-11 1 -9 0" stroke="#28e0ff" stroke-width="10" stroke-opacity=".75"/><path d="M1049 354l-6-3 -6-2" stroke="#28e0ff" stroke-width="10" stroke-opacity=".75"/><path d="M1105 296l2 8 0 12" stroke="#28e0ff" stroke-width="10" stroke-opacity=".75"/><path d="M1080 304l-1-9 6-4" stroke="#28e0ff" stroke-width="10" stroke-opacity=".75"/><path d="M1035 351l8 0 3 7" stroke="#28e0ff" stroke-width="10" stroke-opacity=".75"/><path d="M1044 407l-4 7" stroke="#28e0ff" stroke-width="10" stroke-opacity=".75"/><path d="M1009 424l-7-5 -1-13 2-8" stroke="#28e0ff" stroke-width="10" stroke-opacity=".75"/><path d="M1044 419l3-5" stroke="#28e0ff" stroke-width="10" stroke-opacity=".75"/><path d="M1110 376l10 0 9 0" stroke="#28e0ff" stroke-width="10" stroke-opacity=".75"/><path d="M1164 386l5 7 2 9 0 10 -3 10" stroke="#28e0ff" stroke-width="10" stroke-opacity=".75"/><path d="M1119 447l-6 1" stroke="#28e0ff" stroke-width="10" stroke-opacity=".75"/><path d="M1047 453l-10-1 -7-4 1-7" stroke="#28e0ff" stroke-width="10" stroke-opacity=".75"/><path d="M1185 340l6-8 6-7 7-7 7-6 7-5" stroke="#28e0ff" stroke-width="10" stroke-opacity=".75"/><path d="M1230 300l9-3 9-2 10-1 10 0" stroke="#28e0ff" stroke-width="10" stroke-opacity=".75"/><path d="M1322 325l5 9 4 8" stroke="#28e0ff" stroke-width="10" stroke-opacity=".75"/><path d="M1331 397l-4 4 -5 1" stroke="#28e0ff" stroke-width="10" stroke-opacity=".75"/><path d="M1297 404l-9 1 -10 0 -9 1 -10 0 -10 1 -10 0 -10 1 -9 0 -9 1 -10 0 -10 1 -9 0 -7-3 -4-9 -1-10" stroke="#28e0ff" stroke-width="10" stroke-opacity=".75"/><path d="M1167 299l5-5 6-4" stroke="#28e0ff" stroke-width="10" stroke-opacity=".75"/><path d="M1210 287l8 5 -1 9 -3 10 -5 8 -7 7 -7 4 -10 4" stroke="#28e0ff" stroke-width="10" stroke-opacity=".75"/><path d="M1324 246l-1 6 -3 7" stroke="#28e0ff" stroke-width="10" stroke-opacity=".75"/><path d="M1275 289l-10 3 -9 2 -10 1 -11 0" stroke="#28e0ff" stroke-width="10" stroke-opacity=".75"/><path d="M1223 294l-8-3 -1-6" stroke="#28e0ff" stroke-width="10" stroke-opacity=".75"/><path d="M1326 260l2-6 2-6" stroke="#28e0ff" stroke-width="10" stroke-opacity=".75"/><path d="M1399 312l-4 10 -4 9" stroke="#28e0ff" stroke-width="10" stroke-opacity=".75"/><path d="M1380 342l-8 4 -9 2" stroke="#28e0ff" stroke-width="10" stroke-opacity=".75"/><path d="M1337 340l-6-7 -3-8" stroke="#28e0ff" stroke-width="10" stroke-opacity=".75"/><path d="M1509 287l-6 4 -9 2 -10 0 -11-1 -10 0 -10-1" stroke="#28e0ff" stroke-width="10" stroke-opacity=".75"/><path d="M1362 361l4-10 4-7 7-7" stroke="#28e0ff" stroke-width="10" stroke-opacity=".75"/><path d="M1384 331l7-6 7-6" stroke="#28e0ff" stroke-width="10" stroke-opacity=".75"/><path d="M1447 297l9-2 10-1 9 0 9-1 11-2 10-2" stroke="#28e0ff" stroke-width="10" stroke-opacity=".75"/><path d="M1509 393l-5 5 -5 2" stroke="#28e0ff" stroke-width="10" stroke-opacity=".75"/><path d="M1482 401l-10 0 -10 2 -9 0 -10 1 -10 0 -9 0 -8 0 -11 0 -9-2 -8-1 -9-3" stroke="#28e0ff" stroke-width="10" stroke-opacity=".75"/><path d="M1369 394l-5-3 -4-5" stroke="#28e0ff" stroke-width="10" stroke-opacity=".75"/><path d="M1363 344l4 10 1 8" stroke="#28e0ff" stroke-width="10" stroke-opacity=".75"/><path d="M1365 386l-3 8 -8 7 -10 3 -10 2 -7-7" stroke="#28e0ff" stroke-width="10" stroke-opacity=".75"/><path d="M1327 348l2-8 5-8" stroke="#28e0ff" stroke-width="10" stroke-opacity=".75"/><path d="M1317 414l4 7 0 7 -2 9 -2 10 -2 10 -2 9 -2 10 -2 11 -2 10" stroke="#28e0ff" stroke-width="10" stroke-opacity=".75"/><path d="M1304 505l-3 7 -8 5" stroke="#28e0ff" stroke-width="10" stroke-opacity=".75"/><path d="M1172 426l-5-12 4-6 8-2 11 0 11 0 10 0 9 0 10 0 9 0 10 0 10 0 10 1 10 1 10 1 8 1" stroke="#28e0ff" stroke-width="10" stroke-opacity=".75"/><path d="M1329 410l9-4 10-3 8 0" stroke="#28e0ff" stroke-width="10" stroke-opacity=".75"/><path d="M1376 403l10 1 10 0 9 0 8 0 9 0 10 0 10 0 9-2 11-2 10-3 11-2" stroke="#28e0ff" stroke-width="10" stroke-opacity=".75"/><path d="M1496 395l6 1 5 3" stroke="#28e0ff" stroke-width="10" stroke-opacity=".75"/><path d="M1402 527l-10-1 -9-2 -10-1 -10-3 -9-2 -9-3 -7-2 -10-5 -9-5" stroke="#28e0ff" stroke-width="10" stroke-opacity=".75"/><path d="M1312 495l-3-8 -1-9 1-10 1-9 1-10 2-10 2-10 4-8 5-7" stroke="#28e0ff" stroke-width="10" stroke-opacity=".75"/><path d="M1024 446l10 1 7 7" stroke="#28e0ff" stroke-width="10" stroke-opacity=".75"/><path d="M1041 478l-9 6 -11-1" stroke="#28e0ff" stroke-width="10" stroke-opacity=".75"/><path d="M1009 476l-2-6 2-7" stroke="#28e0ff" stroke-width="10" stroke-opacity=".75"/><path d="M1110 455l7-2" stroke="#28e0ff" stroke-width="10" stroke-opacity=".75"/><path d="M1129 506l-10-1 -8-2 -11-4" stroke="#28e0ff" stroke-width="10" stroke-opacity=".75"/><path d="M1021 488l7-3 11-1" stroke="#28e0ff" stroke-width="10" stroke-opacity=".75"/><path d="M1081 510l-2 6 -3 6" stroke="#28e0ff" stroke-width="10" stroke-opacity=".75"/><path d="M1053 534l-11 0 -9-1 -10-3 -8-5" stroke="#28e0ff" stroke-width="10" stroke-opacity=".75"/><path d="M1082 524l2-7 3-5" stroke="#28e0ff" stroke-width="10" stroke-opacity=".75"/><path d="M1096 504l10-3 9 2 7 5" stroke="#28e0ff" stroke-width="10" stroke-opacity=".75"/><path d="M1137 534l1 11 0 9 -3 10" stroke="#28e0ff" stroke-width="10" stroke-opacity=".75"/><path d="M1106 580l-10-2 -7-6" stroke="#28e0ff" stroke-width="10" stroke-opacity=".75"/><path d="M1229 572l-5 9 -6 8 -6 6 -8 5 -8 4 -9 2" stroke="#28e0ff" stroke-width="10" stroke-opacity=".75"/><path d="M1160 604l-6-2 -4-3" stroke="#28e0ff" stroke-width="10" stroke-opacity=".75"/><path d="M1145 588l-2-7" stroke="#28e0ff" stroke-width="10" stroke-opacity=".75"/><path d="M1141 565l-1-10 0-10 2-8" stroke="#28e0ff" stroke-width="10" stroke-opacity=".75"/><path d="M1289 523l7-8 9-4" stroke="#28e0ff" stroke-width="10" stroke-opacity=".75"/><path d="M1318 508l10 1 9 1 9 2 8 3 10 4 9 3 9 3 9 4 9 3" stroke="#28e0ff" stroke-width="10" stroke-opacity=".75"/><path d="M1434 595l-10-3 -9-2 -9-3" stroke="#28e0ff" stroke-width="10" stroke-opacity=".75"/><path d="M1373 573l-9-4 -9-4" stroke="#28e0ff" stroke-width="10" stroke-opacity=".75"/><path d="M1323 553l-10-3 -9-3" stroke="#28e0ff" stroke-width="10" stroke-opacity=".75"/><path d="M1016 530l9-3 10 0 8 4 7 8" stroke="#28e0ff" stroke-width="10" stroke-opacity=".75"/><path d="M1050 550l-5 9 -8 4" stroke="#28e0ff" stroke-width="10" stroke-opacity=".75"/><path d="M1022 565l-6-1" stroke="#28e0ff" stroke-width="10" stroke-opacity=".75"/><path d="M1009 556l-3-6 0-6" stroke="#28e0ff" stroke-width="10" stroke-opacity=".75"/><path d="M1032 583l-1-10 4-10 8-7 9 0" stroke="#28e0ff" stroke-width="10" stroke-opacity=".75"/><path d="M999 576l6-4" stroke="#28e0ff" stroke-width="10" stroke-opacity=".75"/><path d="M1016 570l9 2 2 8" stroke="#28e0ff" stroke-width="10" stroke-opacity=".75"/><path d="M1009 610l-6 2 -5-2" stroke="#28e0ff" stroke-width="10" stroke-opacity=".75"/><path d="M1086 577l11 1 7 6" stroke="#28e0ff" stroke-width="10" stroke-opacity=".75"/><path d="M1102 605l-7 3" stroke="#28e0ff" stroke-width="10" stroke-opacity=".75"/><path d="M1063 606l-1-8" stroke="#28e0ff" stroke-width="10" stroke-opacity=".75"/><path d="M1140 580l6 2 4 4" stroke="#28e0ff" stroke-width="10" stroke-opacity=".75"/><path d="M1155 596l2 7 -1 6" stroke="#28e0ff" stroke-width="10" stroke-opacity=".75"/><path d="M1143 627l-7 2 -6 0" stroke="#28e0ff" stroke-width="10" stroke-opacity=".75"/><path d="M1190 612l6-8 6-6 7-6 8-6 8-5 8-5" stroke="#28e0ff" stroke-width="10" stroke-opacity=".75"/><path d="M1303 553l7 1 6 1" stroke="#28e0ff" stroke-width="10" stroke-opacity=".75"/><path d="M1325 584l-1 8 -2 9" stroke="#28e0ff" stroke-width="10" stroke-opacity=".75"/><path d="M1293 675l-4 5 -5 4" stroke="#28e0ff" stroke-width="10" stroke-opacity=".75"/><path d="M1273 689l-6 1" stroke="#28e0ff" stroke-width="10" stroke-opacity=".75"/><path d="M1235 687l-8-4 -9-4" stroke="#28e0ff" stroke-width="10" stroke-opacity=".75"/><path d="M1193 661l-4-5" stroke="#28e0ff" stroke-width="10" stroke-opacity=".75"/><path d="M1058 601l7-1" stroke="#28e0ff" stroke-width="10" stroke-opacity=".75"/><path d="M1092 605l6 3" stroke="#28e0ff" stroke-width="10" stroke-opacity=".75"/><path d="M1113 639l1 11 0 9 -1 10 -1 9 -2 9 -2 10 -3 8" stroke="#28e0ff" stroke-width="10" stroke-opacity=".75"/><path d="M1095 727l-6 8 -7 7 -7 5 -9 2 -9-1" stroke="#28e0ff" stroke-width="10" stroke-opacity=".75"/><path d="M1010 694l-2-9 -2-10 0-9 1-10" stroke="#28e0ff" stroke-width="10" stroke-opacity=".75"/><path d="M1130 635l6-1 7-1" stroke="#28e0ff" stroke-width="10" stroke-opacity=".75"/><path d="M1182 655l4 6" stroke="#28e0ff" stroke-width="10" stroke-opacity=".75"/><path d="M1160 701l-8 5 -8 5 -8 4 -10 3 -9 1" stroke="#28e0ff" stroke-width="10" stroke-opacity=".75"/><path d="M1109 711l-2-12 -1-8 0-10 1-11 1-9 4-9 5-8" stroke="#28e0ff" stroke-width="10" stroke-opacity=".75"/><path d="M942 650l6-6 8-4 9-2 10-1 9 2 9 3" stroke="#28e0ff" stroke-width="10" stroke-opacity=".75"/><path d="M1002 651l4 8 2 10 0 11 -2 9" stroke="#28e0ff" stroke-width="10" stroke-opacity=".75"/><path d="M979 712l-8 5 -10 2 -10 4" stroke="#28e0ff" stroke-width="10" stroke-opacity=".75"/><path d="M940 724l-5-2 -3-3" stroke="#28e0ff" stroke-width="10" stroke-opacity=".75"/><path d="M1316 599l7-7 7-6" stroke="#28e0ff" stroke-width="10" stroke-opacity=".75"/><path d="M1355 570l9-2 10-1" stroke="#28e0ff" stroke-width="10" stroke-opacity=".75"/><path d="M1409 582l8 6 8 6 7 7" stroke="#28e0ff" stroke-width="10" stroke-opacity=".75"/><path d="M1394 719l-9 2 -9 3 -9 1 -10 2 -10 0 -10 1 -9-1 -10 0" stroke="#28e0ff" stroke-width="10" stroke-opacity=".75"/><path d="M1287 687l0-6 1-6" stroke="#28e0ff" stroke-width="10" stroke-opacity=".75"/><path d="M1510 837l-4 9" stroke="#28e0ff" stroke-width="10" stroke-opacity=".75"/><path d="M1484 846l-11-5 -10-4 -10-1 -10-1 -10-1" stroke="#28e0ff" stroke-width="10" stroke-opacity=".75"/><path d="M1382 795l3-9 3-8 5-8 6-7 6-6 7-6" stroke="#28e0ff" stroke-width="10" stroke-opacity=".75"/><path d="M947 717l10 0 9-1 10 0" stroke="#28e0ff" stroke-width="10" stroke-opacity=".75"/><path d="M1021 772l0 9 -3 8" stroke="#28e0ff" stroke-width="10" stroke-opacity=".75"/><path d="M1005 801l-10 3 -8 2 -11 0 -10 0" stroke="#28e0ff" stroke-width="10" stroke-opacity=".75"/><path d="M935 727l2-7" stroke="#28e0ff" stroke-width="10" stroke-opacity=".75"/><path d="M1020 797l2-9 3-10" stroke="#28e0ff" stroke-width="10" stroke-opacity=".75"/><path d="M1050 752l8-2 10-1 11 1 8 2 8 2 9 4 9 3" stroke="#28e0ff" stroke-width="10" stroke-opacity=".75"/><path d="M1189 800l4 6 3 7" stroke="#28e0ff" stroke-width="10" stroke-opacity=".75"/><path d="M1199 832l-1 10 -7 5" stroke="#28e0ff" stroke-width="10" stroke-opacity=".75"/><path d="M1152 849l-9 0 -10-1 -9-1" stroke="#28e0ff" stroke-width="10" stroke-opacity=".75"/><path d="M1049 830l-9-3 -8-3 -7-6" stroke="#28e0ff" stroke-width="10" stroke-opacity=".75"/><path d="M1113 723l9-5 9-4 8-4 11-5 8 0" stroke="#28e0ff" stroke-width="10" stroke-opacity=".75"/><path d="M1162 717l-1 11 -4 8" stroke="#28e0ff" stroke-width="10" stroke-opacity=".75"/><path d="M1115 756l-10-1 -9-2 -11-7 0-7 7-5" stroke="#28e0ff" stroke-width="10" stroke-opacity=".75"/><path d="M1158 742l2-9 4-9" stroke="#28e0ff" stroke-width="10" stroke-opacity=".75"/><path d="M1219 685l6-2 6-2" stroke="#28e0ff" stroke-width="10" stroke-opacity=".75"/><path d="M1265 685l3 5 2 6" stroke="#28e0ff" stroke-width="10" stroke-opacity=".75"/><path d="M1227 756l-8 5 -9 4 -9 4 -9 4" stroke="#28e0ff" stroke-width="10" stroke-opacity=".75"/><path d="M1195 776l4-8 7-5 9-2 10 1" stroke="#28e0ff" stroke-width="10" stroke-opacity=".75"/><path d="M1247 780l3 9 0 9" stroke="#28e0ff" stroke-width="10" stroke-opacity=".75"/><path d="M1232 820l-9 4 -9 0" stroke="#28e0ff" stroke-width="10" stroke-opacity=".75"/><path d="M1202 814l-4-6 -2-6" stroke="#28e0ff" stroke-width="10" stroke-opacity=".75"/><path d="M1315 732l8-6 8-3 10-1 9 0 10 0 10 0 10 0 9 1" stroke="#28e0ff" stroke-width="10" stroke-opacity=".75"/><path d="M1410 746l-2 9 -5 8 -5 7 -6 7 -7 8 -6 6" stroke="#28e0ff" stroke-width="10" stroke-opacity=".75"/><path d="M1342 825l-8 5 -9 4 -9 2 -10 2 -9 0" stroke="#28e0ff" stroke-width="10" stroke-opacity=".75"/><path d="M1255 801l-2-9 0-10" stroke="#28e0ff" stroke-width="10" stroke-opacity=".75"/><path d="M971 810l8-6 9-1 10 1" stroke="#28e0ff" stroke-width="10" stroke-opacity=".75"/><path d="M1017 815l8 7 8 6 8 5" stroke="#28e0ff" stroke-width="10" stroke-opacity=".75"/><path d="M1084 908l-4 5 -4 4" stroke="#28e0ff" stroke-width="10" stroke-opacity=".75"/><path d="M1034 919l-9-4 -8-4" stroke="#28e0ff" stroke-width="10" stroke-opacity=".75"/><path d="M984 873l-5-8 -5-7 -3-8 -3-10 -2-9" stroke="#28e0ff" stroke-width="10" stroke-opacity=".75"/><path d="M962 832l9 5 3 8 3 9 1 10 0 10" stroke="#28e0ff" stroke-width="10" stroke-opacity=".75"/><path d="M961 915l-6 3 -7 4" stroke="#28e0ff" stroke-width="10" stroke-opacity=".75"/><path d="M938 923l-5-6 -1-4" stroke="#28e0ff" stroke-width="10" stroke-opacity=".75"/><path d="M1120 853l11-2 9 0 9 3" stroke="#28e0ff" stroke-width="10" stroke-opacity=".75"/><path d="M1162 880l-4 8 -9 6 -9 3" stroke="#28e0ff" stroke-width="10" stroke-opacity=".75"/><path d="M1192 851l3-9 6-7" stroke="#28e0ff" stroke-width="10" stroke-opacity=".75"/><path d="M1213 830l10-3 10-1" stroke="#28e0ff" stroke-width="10" stroke-opacity=".75"/><path d="M1278 856l2 9 2 10 1 9 1 10" stroke="#28e0ff" stroke-width="10" stroke-opacity=".75"/><path d="M1257 962l-9 2 -9 0 -9-1" stroke="#28e0ff" stroke-width="10" stroke-opacity=".75"/><path d="M1187 913l-1-9 0-10" stroke="#28e0ff" stroke-width="10" stroke-opacity=".75"/><path d="M1297 844l8-5 10-3 9-2 10-2 10-2" stroke="#28e0ff" stroke-width="10" stroke-opacity=".75"/><path d="M1395 846l0 10 -1 9 -5 9" stroke="#28e0ff" stroke-width="10" stroke-opacity=".75"/><path d="M1381 882l-9 5 -9 4 -10 3" stroke="#28e0ff" stroke-width="10" stroke-opacity=".75"/><path d="M1316 901l-11 2 -9-1" stroke="#28e0ff" stroke-width="10" stroke-opacity=".75"/><path d="M1288 897l-6-8 -4-9 0-9 3-9" stroke="#28e0ff" stroke-width="10" stroke-opacity=".75"/><path d="M1432 839l10 0 10 0 10 1 10 0 10 1" stroke="#28e0ff" stroke-width="10" stroke-opacity=".75"/><path d="M1503 840l5 3 3 5" stroke="#28e0ff" stroke-width="10" stroke-opacity=".75"/><path d="M1450 898l-9-4 -9-3 -10-3" stroke="#28e0ff" stroke-width="10" stroke-opacity=".75"/><path d="M1395 874l-3-12 4-8" stroke="#28e0ff" stroke-width="10" stroke-opacity=".75"/><path d="M1297 908l6-6 8-5" stroke="#28e0ff" stroke-width="10" stroke-opacity=".75"/><path d="M1349 889l10 0 10-1 10 1" stroke="#28e0ff" stroke-width="10" stroke-opacity=".75"/><path d="M1417 893l10 2 9 3 8 4" stroke="#28e0ff" stroke-width="10" stroke-opacity=".75"/><path d="M1410 960l-9 1 -10 2 -9 0 -10 1" stroke="#28e0ff" stroke-width="10" stroke-opacity=".75"/><path d="M1340 962l-9-1 -10-1" stroke="#28e0ff" stroke-width="10" stroke-opacity=".75"/><path d="M1010 913l8 5 6 7 2 10" stroke="#28e0ff" stroke-width="10" stroke-opacity=".75"/><path d="M1003 965l-8 0 -6-1" stroke="#28e0ff" stroke-width="10" stroke-opacity=".75"/><path d="M973 937l2-6" stroke="#28e0ff" stroke-width="10" stroke-opacity=".75"/><path d="M949 917l7 3 5 2" stroke="#28e0ff" stroke-width="10" stroke-opacity=".75"/><path d="M970 928l5 5 3 5" stroke="#28e0ff" stroke-width="10" stroke-opacity=".75"/><path d="M992 960l3 6 4 5" stroke="#28e0ff" stroke-width="10" stroke-opacity=".75"/><path d="M1005 997l-1 7 -3 5" stroke="#28e0ff" stroke-width="10" stroke-opacity=".75"/><path d="M975 1029l-7 0 -6 0" stroke="#28e0ff" stroke-width="10" stroke-opacity=".75"/><path d="M933 925l0-4 5-9" stroke="#28e0ff" stroke-width="10" stroke-opacity=".75"/><path d="M1049 942l8-2 10 0 10 0 9 2" stroke="#28e0ff" stroke-width="10" stroke-opacity=".75"/><path d="M1127 981l-6 7 -7 6" stroke="#28e0ff" stroke-width="10" stroke-opacity=".75"/><path d="M1074 1007l-9 1 -11 2" stroke="#28e0ff" stroke-width="10" stroke-opacity=".75"/><path d="M1041 1008l-4-7 -3-10" stroke="#28e0ff" stroke-width="10" stroke-opacity=".75"/><path d="M1143 900l3-9 6-5 9-2" stroke="#28e0ff" stroke-width="10" stroke-opacity=".75"/><path d="M1180 894l5 8 6 8" stroke="#28e0ff" stroke-width="10" stroke-opacity=".75"/><path d="M1231 959l1 9 -6 9 -7 4 -10 2 -10 2 -9 1" stroke="#28e0ff" stroke-width="10" stroke-opacity=".75"/><path d="M1317 965l10 1 10 2" stroke="#28e0ff" stroke-width="10" stroke-opacity=".75"/><path d="M1356 998l-9 8 -7 2 -9 1 -10 1 -9 1" stroke="#28e0ff" stroke-width="10" stroke-opacity=".75"/><path d="M1277 1010l-5-1" stroke="#28e0ff" stroke-width="10" stroke-opacity=".75"/><path d="M1259 978l4-3" stroke="#28e0ff" stroke-width="10" stroke-opacity=".75"/><path d="M1373 970l10-3 9-1 11 0" stroke="#28e0ff" stroke-width="10" stroke-opacity=".75"/><path d="M1452 976l3 9 -4 7" stroke="#28e0ff" stroke-width="10" stroke-opacity=".75"/><path d="M1427 1005l-11 1 -9 0 -11-1" stroke="#28e0ff" stroke-width="10" stroke-opacity=".75"/><path d="M1512 1003l-1 6 -3 4" stroke="#28e0ff" stroke-width="10" stroke-opacity=".75"/><path d="M1498 1013l-8-2" stroke="#28e0ff" stroke-width="10" stroke-opacity=".75"/><path d="M1454 998l-3-9 3-8" stroke="#28e0ff" stroke-width="10" stroke-opacity=".75"/><path d="M960 1034l4-3 4-4" stroke="#28e0ff" stroke-width="10" stroke-opacity=".75"/><path d="M995 1009l6-3 6-3" stroke="#28e0ff" stroke-width="10" stroke-opacity=".75"/><path d="M1030 995l6 2 0 10" stroke="#28e0ff" stroke-width="10" stroke-opacity=".75"/><path d="M1032 1019l-3 5 -4 5" stroke="#28e0ff" stroke-width="10" stroke-opacity=".75"/><path d="M986 1061l-9 5 -8 5 -10 3" stroke="#28e0ff" stroke-width="10" stroke-opacity=".75"/><path d="M1031 1031l3-6" stroke="#28e0ff" stroke-width="10" stroke-opacity=".75"/><path d="M1046 1016l8-5 9-5 9-4" stroke="#28e0ff" stroke-width="10" stroke-opacity=".75"/><path d="M1111 989l10-3 9-2" stroke="#28e0ff" stroke-width="10" stroke-opacity=".75"/><path d="M1157 1017l0 10 -1 10" stroke="#28e0ff" stroke-width="10" stroke-opacity=".75"/><path d="M1148 1067l-3 6" stroke="#28e0ff" stroke-width="10" stroke-opacity=".75"/><path d="M1099 1116l-5 2 -6 3" stroke="#28e0ff" stroke-width="10" stroke-opacity=".75"/><path d="M1065 1128l-7 0" stroke="#28e0ff" stroke-width="10" stroke-opacity=".75"/><path d="M1037 1116l-4-8 -4-10 -2-10 -1-9 0-10" stroke="#28e0ff" stroke-width="10" stroke-opacity=".75"/><path d="M1150 1037l5-9 6-7" stroke="#28e0ff" stroke-width="10" stroke-opacity=".75"/><path d="M1190 992l8-6 9-5 8-4 8-4 10-5 10-2 8 0" stroke="#28e0ff" stroke-width="10" stroke-opacity=".75"/><path d="M1259 972l5 6" stroke="#28e0ff" stroke-width="10" stroke-opacity=".75"/><path d="M1273 1004l1 6 1 6" stroke="#28e0ff" stroke-width="10" stroke-opacity=".75"/><path d="M1281 1099l-1 10 -1 9 -2 10 -2 8 -3 8 -6 8" stroke="#28e0ff" stroke-width="10" stroke-opacity=".75"/><path d="M1245 1164l-10 2 -9 0 -8-3" stroke="#28e0ff" stroke-width="10" stroke-opacity=".75"/><path d="M1150 1074l-6-3" stroke="#28e0ff" stroke-width="10" stroke-opacity=".75"/><path d="M1312 1015l6-6 9-4 9-2 10 0 9 1" stroke="#28e0ff" stroke-width="10" stroke-opacity=".75"/><path d="M1379 1026l2 9 1 11 -1 9 -1 10 -3 8" stroke="#28e0ff" stroke-width="10" stroke-opacity=".75"/><path d="M1361 1086l-10 3 -10 1 -10 1 -10-3 -7-4" stroke="#28e0ff" stroke-width="10" stroke-opacity=".75"/><path d="M1391 1011l8-6 10-2 9 1 8 6" stroke="#28e0ff" stroke-width="10" stroke-opacity=".75"/><path d="M1434 1039l1 10 0 9 0 10 0 10 -1 8" stroke="#28e0ff" stroke-width="10" stroke-opacity=".75"/><path d="M1423 1103l-6 4 -6 2" stroke="#28e0ff" stroke-width="10" stroke-opacity=".75"/><path d="M1394 1105l-4-4 -3-6" stroke="#28e0ff" stroke-width="10" stroke-opacity=".75"/><path d="M1382 1075l0-10 0-10 0-11 1-8 2-12" stroke="#28e0ff" stroke-width="10" stroke-opacity=".75"/><path d="M1477 1030l5 10 1 9 0 10 -2 10 -3 9" stroke="#28e0ff" stroke-width="10" stroke-opacity=".75"/><path d="M1474 1085l-7 7 -9 3 -11-1" stroke="#28e0ff" stroke-width="10" stroke-opacity=".75"/><path d="M1440 1086l-2-10 -1-11 0-10 2-10" stroke="#28e0ff" stroke-width="10" stroke-opacity=".75"/><path d="M1489 1015l6-5" stroke="#28e0ff" stroke-width="10" stroke-opacity=".75"/><path d="M1508 1005l3 6 0 4" stroke="#28e0ff" stroke-width="10" stroke-opacity=".75"/><path d="M1512 1085l0 10 -1 7 -3 8" stroke="#28e0ff" stroke-width="10" stroke-opacity=".75"/><path d="M1487 1095l-2-6" stroke="#28e0ff" stroke-width="10" stroke-opacity=".75"/><path d="M1483 1079l-1-10 -2-9 -1-10 0-9 1-9" stroke="#28e0ff" stroke-width="10" stroke-opacity=".75"/><path d="M963 1077l6-8 8-2 11-1" stroke="#28e0ff" stroke-width="10" stroke-opacity=".75"/><path d="M1019 1071l7 6 4 8 2 9 1 10 -1 10" stroke="#28e0ff" stroke-width="10" stroke-opacity=".75"/><path d="M1014 1164l-10 2 -10 0" stroke="#28e0ff" stroke-width="10" stroke-opacity=".75"/><path d="M1056 1131l5-5" stroke="#28e0ff" stroke-width="10" stroke-opacity=".75"/><path d="M1087 1116l6 2 5 4" stroke="#28e0ff" stroke-width="10" stroke-opacity=".75"/><path d="M1092 1164l-9 3 -11 1 -9-3" stroke="#28e0ff" stroke-width="10" stroke-opacity=".75"/><path d="M1312 1090l9-1 9-1 9 1 10 1 8 1" stroke="#28e0ff" stroke-width="10" stroke-opacity=".75"/><path d="M1381 1096l6 2 6 1" stroke="#28e0ff" stroke-width="10" stroke-opacity=".75"/><path d="M1408 1103l6 2 7 2" stroke="#28e0ff" stroke-width="10" stroke-opacity=".75"/><path d="M1435 1112l9 3 9 3 9 3 8 3 8 4 10 4 9 5" stroke="#28e0ff" stroke-width="10" stroke-opacity=".75"/><path d="M1416 1163l-8 0 -9 1 -9 0 -10 0 -10 1 -10 0 -9 0 -9 0 -10 1 -10 0 -10 0 -9 0 -7 0 -11-2" stroke="#28e0ff" stroke-width="10" stroke-opacity=".75"/><path d="M1272 1153l-2-10 0-10 2-9 3-9 6-8" stroke="#28e0ff" stroke-width="10" stroke-opacity=".75"/><path d="M1451 1099l9-6 9-2 11-1 10-1" stroke="#28e0ff" stroke-width="10" stroke-opacity=".75"/><path d="M1508 1088l4 6 1 10" stroke="#28e0ff" stroke-width="10" stroke-opacity=".75"/><path d="M1506 1135l-9-1 -10-3 -10-3 -11-2 -11-2 -10-3 -5-4 1-7" stroke="#28e0ff" stroke-width="10" stroke-opacity=".75"/><path d="M1072 913l7 0 6 0" stroke="#28e0ff" stroke-width="10" stroke-opacity=".75"/><path d="M1087 936l-8 1 -11 0 -12 0" stroke="#28e0ff" stroke-width="10" stroke-opacity=".75"/><path d="M1029 934l-3-10 3-10 7-1" stroke="#28e0ff" stroke-width="10" stroke-opacity=".75"/><path d="M1083 281l4-11 5-8 5-8 6-7" stroke="#c8ff30" stroke-width="4.8" stroke-opacity=".8"/><path d="M968 329l-8 3 -10 3 -9 0 -6-5" stroke="#c8ff30" stroke-width="4.8" stroke-opacity=".8"/><path d="M932 294l6-5 10-3 10 0 7 4" stroke="#c8ff30" stroke-width="4.8" stroke-opacity=".8"/><path d="M973 380l-4 7 -9 5 -11 2 -8-2" stroke="#c8ff30" stroke-width="4.8" stroke-opacity=".8"/><path d="M998 397l2 7 1 8 2 9" stroke="#c8ff30" stroke-width="4.8" stroke-opacity=".8"/><path d="M992 637l-9 1 -10 1 -10 0 -10 4 -10 2" stroke="#c8ff30" stroke-width="4.8" stroke-opacity=".8"/><path d="M1020 304l3-7 4-5" stroke="#c8ff30" stroke-width="4.8" stroke-opacity=".8"/><path d="M1102 311l5 4 4 4" stroke="#c8ff30" stroke-width="4.8" stroke-opacity=".8"/><path d="M1137 370l-11 1 -9 0" stroke="#c8ff30" stroke-width="4.8" stroke-opacity=".8"/><path d="M1049 354l-6-3 -6-2" stroke="#c8ff30" stroke-width="4.8" stroke-opacity=".8"/><path d="M1105 296l2 8 0 12" stroke="#c8ff30" stroke-width="4.8" stroke-opacity=".8"/><path d="M1047 453l-10-1 -7-4 1-7" stroke="#c8ff30" stroke-width="4.8" stroke-opacity=".8"/><path d="M1297 404l-9 1 -10 0 -9 1 -10 0 -10 1 -10 0 -10 1 -9 0 -9 1 -10 0 -10 1 -9 0 -7-3 -4-9 -1-10" stroke="#c8ff30" stroke-width="4.8" stroke-opacity=".8"/><path d="M1167 299l5-5 6-4" stroke="#c8ff30" stroke-width="4.8" stroke-opacity=".8"/><path d="M1210 287l8 5 -1 9 -3 10 -5 8 -7 7 -7 4 -10 4" stroke="#c8ff30" stroke-width="4.8" stroke-opacity=".8"/><path d="M1324 246l-1 6 -3 7" stroke="#c8ff30" stroke-width="4.8" stroke-opacity=".8"/><path d="M1509 287l-6 4 -9 2 -10 0 -11-1 -10 0 -10-1" stroke="#c8ff30" stroke-width="4.8" stroke-opacity=".8"/><path d="M1362 361l4-10 4-7 7-7" stroke="#c8ff30" stroke-width="4.8" stroke-opacity=".8"/><path d="M1369 394l-5-3 -4-5" stroke="#c8ff30" stroke-width="4.8" stroke-opacity=".8"/><path d="M1327 348l2-8 5-8" stroke="#c8ff30" stroke-width="4.8" stroke-opacity=".8"/><path d="M1317 414l4 7 0 7 -2 9 -2 10 -2 10 -2 9 -2 10 -2 11 -2 10" stroke="#c8ff30" stroke-width="4.8" stroke-opacity=".8"/><path d="M1304 505l-3 7 -8 5" stroke="#c8ff30" stroke-width="4.8" stroke-opacity=".8"/><path d="M1376 403l10 1 10 0 9 0 8 0 9 0 10 0 10 0 9-2 11-2 10-3 11-2" stroke="#c8ff30" stroke-width="4.8" stroke-opacity=".8"/><path d="M1496 395l6 1 5 3" stroke="#c8ff30" stroke-width="4.8" stroke-opacity=".8"/><path d="M1402 527l-10-1 -9-2 -10-1 -10-3 -9-2 -9-3 -7-2 -10-5 -9-5" stroke="#c8ff30" stroke-width="4.8" stroke-opacity=".8"/><path d="M1312 495l-3-8 -1-9 1-10 1-9 1-10 2-10 2-10 4-8 5-7" stroke="#c8ff30" stroke-width="4.8" stroke-opacity=".8"/><path d="M1041 478l-9 6 -11-1" stroke="#c8ff30" stroke-width="4.8" stroke-opacity=".8"/><path d="M1129 506l-10-1 -8-2 -11-4" stroke="#c8ff30" stroke-width="4.8" stroke-opacity=".8"/><path d="M1081 510l-2 6 -3 6" stroke="#c8ff30" stroke-width="4.8" stroke-opacity=".8"/><path d="M1082 524l2-7 3-5" stroke="#c8ff30" stroke-width="4.8" stroke-opacity=".8"/><path d="M1137 534l1 11 0 9 -3 10" stroke="#c8ff30" stroke-width="4.8" stroke-opacity=".8"/><path d="M1106 580l-10-2 -7-6" stroke="#c8ff30" stroke-width="4.8" stroke-opacity=".8"/><path d="M1145 588l-2-7" stroke="#c8ff30" stroke-width="4.8" stroke-opacity=".8"/><path d="M1289 523l7-8 9-4" stroke="#c8ff30" stroke-width="4.8" stroke-opacity=".8"/><path d="M1323 553l-10-3 -9-3" stroke="#c8ff30" stroke-width="4.8" stroke-opacity=".8"/><path d="M1050 550l-5 9 -8 4" stroke="#c8ff30" stroke-width="4.8" stroke-opacity=".8"/><path d="M1022 565l-6-1" stroke="#c8ff30" stroke-width="4.8" stroke-opacity=".8"/><path d="M1032 583l-1-10 4-10 8-7 9 0" stroke="#c8ff30" stroke-width="4.8" stroke-opacity=".8"/><path d="M999 576l6-4" stroke="#c8ff30" stroke-width="4.8" stroke-opacity=".8"/><path d="M1016 570l9 2 2 8" stroke="#c8ff30" stroke-width="4.8" stroke-opacity=".8"/><path d="M1009 610l-6 2 -5-2" stroke="#c8ff30" stroke-width="4.8" stroke-opacity=".8"/><path d="M1102 605l-7 3" stroke="#c8ff30" stroke-width="4.8" stroke-opacity=".8"/><path d="M1293 675l-4 5 -5 4" stroke="#c8ff30" stroke-width="4.8" stroke-opacity=".8"/><path d="M1273 689l-6 1" stroke="#c8ff30" stroke-width="4.8" stroke-opacity=".8"/><path d="M1058 601l7-1" stroke="#c8ff30" stroke-width="4.8" stroke-opacity=".8"/><path d="M1092 605l6 3" stroke="#c8ff30" stroke-width="4.8" stroke-opacity=".8"/><path d="M1010 694l-2-9 -2-10 0-9 1-10" stroke="#c8ff30" stroke-width="4.8" stroke-opacity=".8"/><path d="M942 650l6-6 8-4 9-2 10-1 9 2 9 3" stroke="#c8ff30" stroke-width="4.8" stroke-opacity=".8"/><path d="M1002 651l4 8 2 10 0 11 -2 9" stroke="#c8ff30" stroke-width="4.8" stroke-opacity=".8"/><path d="M940 724l-5-2 -3-3" stroke="#c8ff30" stroke-width="4.8" stroke-opacity=".8"/><path d="M1355 570l9-2 10-1" stroke="#c8ff30" stroke-width="4.8" stroke-opacity=".8"/><path d="M1287 687l0-6 1-6" stroke="#c8ff30" stroke-width="4.8" stroke-opacity=".8"/><path d="M1510 837l-4 9" stroke="#c8ff30" stroke-width="4.8" stroke-opacity=".8"/><path d="M1382 795l3-9 3-8 5-8 6-7 6-6 7-6" stroke="#c8ff30" stroke-width="4.8" stroke-opacity=".8"/><path d="M947 717l10 0 9-1 10 0" stroke="#c8ff30" stroke-width="4.8" stroke-opacity=".8"/><path d="M1020 797l2-9 3-10" stroke="#c8ff30" stroke-width="4.8" stroke-opacity=".8"/><path d="M1189 800l4 6 3 7" stroke="#c8ff30" stroke-width="4.8" stroke-opacity=".8"/><path d="M1199 832l-1 10 -7 5" stroke="#c8ff30" stroke-width="4.8" stroke-opacity=".8"/><path d="M1152 849l-9 0 -10-1 -9-1" stroke="#c8ff30" stroke-width="4.8" stroke-opacity=".8"/><path d="M1113 723l9-5 9-4 8-4 11-5 8 0" stroke="#c8ff30" stroke-width="4.8" stroke-opacity=".8"/><path d="M1162 717l-1 11 -4 8" stroke="#c8ff30" stroke-width="4.8" stroke-opacity=".8"/><path d="M1219 685l6-2 6-2" stroke="#c8ff30" stroke-width="4.8" stroke-opacity=".8"/><path d="M1315 732l8-6 8-3 10-1 9 0 10 0 10 0 10 0 9 1" stroke="#c8ff30" stroke-width="4.8" stroke-opacity=".8"/><path d="M1410 746l-2 9 -5 8 -5 7 -6 7 -7 8 -6 6" stroke="#c8ff30" stroke-width="4.8" stroke-opacity=".8"/><path d="M1342 825l-8 5 -9 4 -9 2 -10 2 -9 0" stroke="#c8ff30" stroke-width="4.8" stroke-opacity=".8"/><path d="M1084 908l-4 5 -4 4" stroke="#c8ff30" stroke-width="4.8" stroke-opacity=".8"/><path d="M961 915l-6 3 -7 4" stroke="#c8ff30" stroke-width="4.8" stroke-opacity=".8"/><path d="M1120 853l11-2 9 0 9 3" stroke="#c8ff30" stroke-width="4.8" stroke-opacity=".8"/><path d="M1340 962l-9-1 -10-1" stroke="#c8ff30" stroke-width="4.8" stroke-opacity=".8"/><path d="M1049 942l8-2 10 0 10 0 9 2" stroke="#c8ff30" stroke-width="4.8" stroke-opacity=".8"/><path d="M1074 1007l-9 1 -11 2" stroke="#c8ff30" stroke-width="4.8" stroke-opacity=".8"/><path d="M1180 894l5 8 6 8" stroke="#c8ff30" stroke-width="4.8" stroke-opacity=".8"/><path d="M1259 978l4-3" stroke="#c8ff30" stroke-width="4.8" stroke-opacity=".8"/><path d="M1373 970l10-3 9-1 11 0" stroke="#c8ff30" stroke-width="4.8" stroke-opacity=".8"/><path d="M1452 976l3 9 -4 7" stroke="#c8ff30" stroke-width="4.8" stroke-opacity=".8"/><path d="M1512 1003l-1 6 -3 4" stroke="#c8ff30" stroke-width="4.8" stroke-opacity=".8"/><path d="M1498 1013l-8-2" stroke="#c8ff30" stroke-width="4.8" stroke-opacity=".8"/><path d="M1032 1019l-3 5 -4 5" stroke="#c8ff30" stroke-width="4.8" stroke-opacity=".8"/><path d="M1031 1031l3-6" stroke="#c8ff30" stroke-width="4.8" stroke-opacity=".8"/><path d="M1037 1116l-4-8 -4-10 -2-10 -1-9 0-10" stroke="#c8ff30" stroke-width="4.8" stroke-opacity=".8"/><path d="M1150 1037l5-9 6-7" stroke="#c8ff30" stroke-width="4.8" stroke-opacity=".8"/><path d="M1150 1074l-6-3" stroke="#c8ff30" stroke-width="4.8" stroke-opacity=".8"/><path d="M1312 1015l6-6 9-4 9-2 10 0 9 1" stroke="#c8ff30" stroke-width="4.8" stroke-opacity=".8"/><path d="M1361 1086l-10 3 -10 1 -10 1 -10-3 -7-4" stroke="#c8ff30" stroke-width="4.8" stroke-opacity=".8"/><path d="M1391 1011l8-6 10-2 9 1 8 6" stroke="#c8ff30" stroke-width="4.8" stroke-opacity=".8"/><path d="M1382 1075l0-10 0-10 0-11 1-8 2-12" stroke="#c8ff30" stroke-width="4.8" stroke-opacity=".8"/><path d="M1489 1015l6-5" stroke="#c8ff30" stroke-width="4.8" stroke-opacity=".8"/><path d="M1508 1005l3 6 0 4" stroke="#c8ff30" stroke-width="4.8" stroke-opacity=".8"/><path d="M1487 1095l-2-6" stroke="#c8ff30" stroke-width="4.8" stroke-opacity=".8"/><path d="M1019 1071l7 6 4 8 2 9 1 10 -1 10" stroke="#c8ff30" stroke-width="4.8" stroke-opacity=".8"/><path d="M1056 1131l5-5" stroke="#c8ff30" stroke-width="4.8" stroke-opacity=".8"/><path d="M1087 1116l6 2 5 4" stroke="#c8ff30" stroke-width="4.8" stroke-opacity=".8"/><path d="M1312 1090l9-1 9-1 9 1 10 1 8 1" stroke="#c8ff30" stroke-width="4.8" stroke-opacity=".8"/><path d="M1408 1103l6 2 7 2" stroke="#c8ff30" stroke-width="4.8" stroke-opacity=".8"/><path d="M1435 1112l9 3 9 3 9 3 8 3 8 4 10 4 9 5" stroke="#c8ff30" stroke-width="4.8" stroke-opacity=".8"/><path d="M1416 1163l-8 0 -9 1 -9 0 -10 0 -10 1 -10 0 -9 0 -9 0 -10 1 -10 0 -10 0 -9 0 -7 0 -11-2" stroke="#c8ff30" stroke-width="4.8" stroke-opacity=".8"/><path d="M968 329l-8 3 -10 3 -9 0 -6-5" stroke="#ff3000" stroke-width="2.8" stroke-opacity=".9"/><path d="M973 380l-4 7 -9 5 -11 2 -8-2" stroke="#ff3000" stroke-width="2.8" stroke-opacity=".9"/><path d="M998 397l2 7 1 8 2 9" stroke="#ff3000" stroke-width="2.8" stroke-opacity=".9"/><path d="M1020 304l3-7 4-5" stroke="#ff3000" stroke-width="2.8" stroke-opacity=".9"/><path d="M1102 311l5 4 4 4" stroke="#ff3000" stroke-width="2.8" stroke-opacity=".9"/><path d="M1105 296l2 8 0 12" stroke="#ff3000" stroke-width="2.8" stroke-opacity=".9"/><path d="M1324 246l-1 6 -3 7" stroke="#ff3000" stroke-width="2.8" stroke-opacity=".9"/><path d="M1509 287l-6 4 -9 2 -10 0 -11-1 -10 0 -10-1" stroke="#ff3000" stroke-width="2.8" stroke-opacity=".9"/><path d="M1369 394l-5-3 -4-5" stroke="#ff3000" stroke-width="2.8" stroke-opacity=".9"/><path d="M1317 414l4 7 0 7 -2 9 -2 10 -2 10 -2 9 -2 10 -2 11 -2 10" stroke="#ff3000" stroke-width="2.8" stroke-opacity=".9"/><path d="M1376 403l10 1 10 0 9 0 8 0 9 0 10 0 10 0 9-2 11-2 10-3 11-2" stroke="#ff3000" stroke-width="2.8" stroke-opacity=".9"/><path d="M1402 527l-10-1 -9-2 -10-1 -10-3 -9-2 -9-3 -7-2 -10-5 -9-5" stroke="#ff3000" stroke-width="2.8" stroke-opacity=".9"/><path d="M1312 495l-3-8 -1-9 1-10 1-9 1-10 2-10 2-10 4-8 5-7" stroke="#ff3000" stroke-width="2.8" stroke-opacity=".9"/><path d="M1082 524l2-7 3-5" stroke="#ff3000" stroke-width="2.8" stroke-opacity=".9"/><path d="M1323 553l-10-3 -9-3" stroke="#ff3000" stroke-width="2.8" stroke-opacity=".9"/><path d="M1016 570l9 2 2 8" stroke="#ff3000" stroke-width="2.8" stroke-opacity=".9"/><path d="M1009 610l-6 2 -5-2" stroke="#ff3000" stroke-width="2.8" stroke-opacity=".9"/><path d="M942 650l6-6 8-4 9-2 10-1 9 2 9 3" stroke="#ff3000" stroke-width="2.8" stroke-opacity=".9"/><path d="M1002 651l4 8 2 10 0 11 -2 9" stroke="#ff3000" stroke-width="2.8" stroke-opacity=".9"/><path d="M1382 795l3-9 3-8 5-8 6-7 6-6 7-6" stroke="#ff3000" stroke-width="2.8" stroke-opacity=".9"/><path d="M1199 832l-1 10 -7 5" stroke="#ff3000" stroke-width="2.8" stroke-opacity=".9"/><path d="M1113 723l9-5 9-4 8-4 11-5 8 0" stroke="#ff3000" stroke-width="2.8" stroke-opacity=".9"/><path d="M1410 746l-2 9 -5 8 -5 7 -6 7 -7 8 -6 6" stroke="#ff3000" stroke-width="2.8" stroke-opacity=".9"/><path d="M1342 825l-8 5 -9 4 -9 2 -10 2 -9 0" stroke="#ff3000" stroke-width="2.8" stroke-opacity=".9"/><path d="M1084 908l-4 5 -4 4" stroke="#ff3000" stroke-width="2.8" stroke-opacity=".9"/><path d="M1120 853l11-2 9 0 9 3" stroke="#ff3000" stroke-width="2.8" stroke-opacity=".9"/><path d="M1340 962l-9-1 -10-1" stroke="#ff3000" stroke-width="2.8" stroke-opacity=".9"/><path d="M1049 942l8-2 10 0 10 0 9 2" stroke="#ff3000" stroke-width="2.8" stroke-opacity=".9"/><path d="M1074 1007l-9 1 -11 2" stroke="#ff3000" stroke-width="2.8" stroke-opacity=".9"/><path d="M1373 970l10-3 9-1 11 0" stroke="#ff3000" stroke-width="2.8" stroke-opacity=".9"/><path d="M1489 1015l6-5" stroke="#ff3000" stroke-width="2.8" stroke-opacity=".9"/><path d="M1508 1005l3 6 0 4" stroke="#ff3000" stroke-width="2.8" stroke-opacity=".9"/><path d="M1487 1095l-2-6" stroke="#ff3000" stroke-width="2.8" stroke-opacity=".9"/><path d="M1056 1131l5-5" stroke="#ff3000" stroke-width="2.8" stroke-opacity=".9"/><path d="M1312 1090l9-1 9-1 9 1 10 1 8 1" stroke="#ff3000" stroke-width="2.8" stroke-opacity=".9"/><path d="M1416 1163l-8 0 -9 1 -9 0 -10 0 -10 1 -10 0 -9 0 -9 0 -10 1 -10 0 -10 0 -9 0 -7 0 -11-2" stroke="#ff3000" stroke-width="2.8" stroke-opacity=".9"/></g><path d="M688.1 249.8C691.7 250.6 698.5 254.2 709.8 254.6C721.0 255.0 747.8 252.6 755.4 252.2" stroke="#20e0ff" stroke-width="50.0" stroke-opacity="0.70"/><path d="M518.6 111.6C519.2 116.2 519.6 131.0 522.3 139.3C524.9 147.5 528.7 154.1 534.3 160.9C539.9 167.7 547.9 173.7 555.9 180.1C563.9 186.5 573.9 194.5 582.3 199.4C590.8 204.2 598.4 206.2 606.4 209.0C614.4 211.8 622.4 213.8 630.4 216.2C638.4 218.6 647.3 221.0 654.5 223.4C661.7 225.8 668.9 228.6 673.7 230.6C678.5 232.6 681.7 234.6 683.3 235.4" stroke="#20e0ff" stroke-width="36.4" stroke-opacity="0.65"/><path d="M688.1 249.8C691.7 250.6 698.5 254.2 709.8 254.6C721.0 255.0 747.8 252.6 755.4 252.2" stroke="#f0ff20" stroke-width="32.5" stroke-opacity="0.85"/><path d="M518.6 111.6C519.2 116.2 519.6 131.0 522.3 139.3C524.9 147.5 528.7 154.1 534.3 160.9C539.9 167.7 547.9 173.7 555.9 180.1C563.9 186.5 573.9 194.5 582.3 199.4C590.8 204.2 598.4 206.2 606.4 209.0C614.4 211.8 622.4 213.8 630.4 216.2C638.4 218.6 647.3 221.0 654.5 223.4C661.7 225.8 668.9 228.6 673.7 230.6C678.5 232.6 681.7 234.6 683.3 235.4" stroke="#ffe000" stroke-width="26.6" stroke-opacity="0.85"/><path d="M673.7 259.4C675.7 261.1 682.5 265.9 685.7 269.1C688.9 272.3 691.7 277.1 692.9 278.7" stroke="#20e0ff" stroke-width="25.6" stroke-opacity="0.70"/><path d="M620.8 548.9C623.2 551.3 630.4 558.5 635.2 563.3C640.0 568.1 647.3 575.3 649.7 577.7" stroke="#20e0ff" stroke-width="25.0" stroke-opacity="0.70"/><path d="M654.5 575.3C659.7 575.3 674.5 575.7 685.7 575.3C696.9 574.9 715.8 573.3 721.8 572.9" stroke="#20e0ff" stroke-width="25.0" stroke-opacity="0.70"/><path d="M611.2 520.0L620.8 544.1" stroke="#20e0ff" stroke-width="22.4" stroke-opacity="0.70"/><path d="M601.6 505.6C603.6 509.6 609.6 521.6 613.6 529.6C617.6 537.7 623.6 549.7 625.6 553.7" stroke="#10d0ff" stroke-width="22.0" stroke-opacity="0.75"/><path d="M527.1 118.8C531.5 119.8 544.3 122.2 553.5 124.8C562.7 127.4 572.7 130.4 582.3 134.4C592.0 138.5 606.4 146.5 611.2 148.9" stroke="#20e0ff" stroke-width="20.8" stroke-opacity="0.65"/><path d="M688.1 249.8C691.7 250.6 698.5 254.2 709.8 254.6C721.0 255.0 747.8 252.6 755.4 252.2" stroke="#ff3000" stroke-width="20.0" stroke-opacity="0.95"/><path d="M673.7 225.8C679.7 227.0 696.1 231.8 709.8 233.0C723.4 234.2 747.8 233.0 755.4 233.0" stroke="#10d0ff" stroke-width="20.0" stroke-opacity="0.75"/><path d="M486.2 500.8L488.6 524.8" stroke="#20e0ff" stroke-width="20.0" stroke-opacity="0.70"/><path d="M601.6 471.9C603.6 474.4 611.2 483.2 613.6 486.4C616.0 489.6 615.6 490.4 616.0 491.2" stroke="#20e0ff" stroke-width="20.0" stroke-opacity="0.70"/><path d="M612.4 584.9L616.0 592.1" stroke="#20e0ff" stroke-width="20.0" stroke-opacity="0.70"/><path d="M653.3 584.9L656.9 592.1" stroke="#20e0ff" stroke-width="20.0" stroke-opacity="0.70"/><path d="M518.6 111.6C519.2 116.2 519.6 131.0 522.3 139.3C524.9 147.5 528.7 154.1 534.3 160.9C539.9 167.7 547.9 173.7 555.9 180.1C563.9 186.5 573.9 194.5 582.3 199.4C590.8 204.2 598.4 206.2 606.4 209.0C614.4 211.8 622.4 213.8 630.4 216.2C638.4 218.6 647.3 221.0 654.5 223.4C661.7 225.8 668.9 228.6 673.7 230.6C678.5 232.6 681.7 234.6 683.3 235.4" stroke="#ff2000" stroke-width="19.6" stroke-opacity="0.95"/><path d="M635.2 439.5L649.7 441.9" stroke="#20e0ff" stroke-width="18.2" stroke-opacity="0.65"/><path d="M505.4 409.4C513.4 410.7 539.5 415.1 553.5 416.7C567.5 418.3 579.5 417.1 589.6 419.1C599.6 421.1 605.6 425.1 613.6 428.7C621.6 432.3 629.6 438.3 637.6 440.7C645.7 443.1 657.7 442.7 661.7 443.1" stroke="#20e0ff" stroke-width="17.5" stroke-opacity="0.70"/><path d="M685.7 431.1C689.7 430.3 699.7 427.1 709.8 426.3C719.8 425.5 739.8 426.3 745.8 426.3" stroke="#20e0ff" stroke-width="17.5" stroke-opacity="0.70"/><path d="M620.8 548.9C623.2 551.3 630.4 558.5 635.2 563.3C640.0 568.1 647.3 575.3 649.7 577.7" stroke="#f0ff20" stroke-width="16.2" stroke-opacity="0.85"/><path d="M654.5 575.3C659.7 575.3 674.5 575.7 685.7 575.3C696.9 574.9 715.8 573.3 721.8 572.9" stroke="#f0ff20" stroke-width="16.2" stroke-opacity="0.85"/><path d="M517.4 392.6C523.5 394.2 541.5 399.4 553.5 402.2C565.5 405.0 583.6 408.2 589.6 409.4" stroke="#10d0ff" stroke-width="16.0" stroke-opacity="0.75"/><path d="M529.5 399.8L558.3 407.0" stroke="#20e0ff" stroke-width="16.0" stroke-opacity="0.70"/><path d="M527.1 118.8C531.5 119.8 544.3 122.2 553.5 124.8C562.7 127.4 572.7 130.4 582.3 134.4C592.0 138.5 606.4 146.5 611.2 148.9" stroke="#ffe000" stroke-width="15.2" stroke-opacity="0.85"/><path d="M470.6 419.1L481.4 416.7" stroke="#20e0ff" stroke-width="15.0" stroke-opacity="0.70"/><path d="M481.4 505.6L515.0 498.4" stroke="#20e0ff" stroke-width="15.0" stroke-opacity="0.70"/><path d="M494.6 582.5L495.8 589.7" stroke="#20e0ff" stroke-width="15.0" stroke-opacity="0.70"/><path d="M673.7 259.4C675.7 261.1 682.5 265.9 685.7 269.1C688.9 272.3 691.7 277.1 692.9 278.7" stroke="#a0ff50" stroke-width="14.4" stroke-opacity="0.85"/><path d="M518.6 111.6C519.2 116.2 519.6 131.0 522.3 139.3C524.9 147.5 528.7 154.1 534.3 160.9C539.9 167.7 547.9 173.7 555.9 180.1C563.9 186.5 573.9 194.5 582.3 199.4C590.8 204.2 598.4 206.2 606.4 209.0C614.4 211.8 622.4 213.8 630.4 216.2C638.4 218.6 647.3 221.0 654.5 223.4C661.7 225.8 668.9 228.6 673.7 230.6C678.5 232.6 681.7 234.6 683.3 235.4" stroke="#900000" stroke-width="14.0" stroke-opacity="1.00"/><path d="M519.8 163.3C517.4 167.3 508.6 180.1 505.4 187.3C502.2 194.5 501.4 203.4 500.6 206.6" stroke="#10d0ff" stroke-width="14.0" stroke-opacity="0.75"/><path d="M601.6 428.7C607.6 430.7 625.6 438.7 637.6 440.7C649.7 442.7 667.7 440.7 673.7 440.7" stroke="#10d0ff" stroke-width="14.0" stroke-opacity="0.75"/><path d="M673.7 433.5C679.7 432.7 696.1 429.5 709.8 428.7C723.4 427.9 747.8 428.7 755.4 428.7" stroke="#10d0ff" stroke-width="14.0" stroke-opacity="0.75"/><path d="M635.2 439.5L649.7 441.9" stroke="#ffe000" stroke-width="13.3" stroke-opacity="0.85"/><path d="M469.4 216.2C473.4 215.0 485.4 211.4 493.4 209.0C501.4 206.6 511.4 203.4 517.4 201.8C523.5 200.2 527.5 199.8 529.5 199.4" stroke="#20e0ff" stroke-width="13.0" stroke-opacity="0.65"/><path d="M486.2 500.8L488.6 524.8" stroke="#f0ff20" stroke-width="13.0" stroke-opacity="0.85"/><path d="M601.6 471.9C603.6 474.4 611.2 483.2 613.6 486.4C616.0 489.6 615.6 490.4 616.0 491.2" stroke="#f0ff20" stroke-width="13.0" stroke-opacity="0.85"/><path d="M612.4 584.9L616.0 592.1" stroke="#f0ff20" stroke-width="13.0" stroke-opacity="0.85"/><path d="M653.3 584.9L656.9 592.1" stroke="#f0ff20" stroke-width="13.0" stroke-opacity="0.85"/><path d="M611.2 520.0L620.8 544.1" stroke="#a0ff50" stroke-width="12.6" stroke-opacity="0.85"/><path d="M501.8 302.7L504.2 319.5" stroke="#20e0ff" stroke-width="12.5" stroke-opacity="0.70"/><path d="M519.8 467.1C523.9 468.7 537.1 472.8 543.9 476.8C550.7 480.8 557.9 488.8 560.7 491.2" stroke="#20e0ff" stroke-width="12.5" stroke-opacity="0.70"/><path d="M649.7 565.7C657.7 566.1 681.7 567.7 697.7 568.1C713.8 568.5 737.8 568.1 745.8 568.1" stroke="#10d0ff" stroke-width="12.0" stroke-opacity="0.75"/><path d="M613.6 588.5L614.8 595.7" stroke="#10d0ff" stroke-width="12.0" stroke-opacity="0.75"/><path d="M654.5 588.5L655.7 595.7" stroke="#10d0ff" stroke-width="12.0" stroke-opacity="0.75"/><path d="M469.4 136.9C472.2 135.9 480.6 132.4 486.2 130.8C491.8 129.2 500.2 127.8 503.0 127.2" stroke="#20e0ff" stroke-width="11.7" stroke-opacity="0.65"/><path d="M505.4 409.4C513.4 410.7 539.5 415.1 553.5 416.7C567.5 418.3 579.5 417.1 589.6 419.1C599.6 421.1 605.6 425.1 613.6 428.7C621.6 432.3 629.6 438.3 637.6 440.7C645.7 443.1 657.7 442.7 661.7 443.1" stroke="#f0ff20" stroke-width="11.4" stroke-opacity="0.85"/><path d="M685.7 431.1C689.7 430.3 699.7 427.1 709.8 426.3C719.8 425.5 739.8 426.3 745.8 426.3" stroke="#f0ff20" stroke-width="11.4" stroke-opacity="0.85"/><path d="M688.1 249.8C691.7 250.6 698.5 254.2 709.8 254.6C721.0 255.0 747.8 252.6 755.4 252.2" stroke="#b00000" stroke-width="11.2" stroke-opacity="1.00"/><path d="M527.1 118.8C531.5 119.8 544.3 122.2 553.5 124.8C562.7 127.4 572.7 130.4 582.3 134.4C592.0 138.5 606.4 146.5 611.2 148.9" stroke="#ff2000" stroke-width="11.2" stroke-opacity="0.95"/><path d="M471.8 225.8C471.8 231.4 471.0 247.8 471.8 259.4C472.6 271.1 475.8 289.5 476.6 295.5" stroke="#10d0ff" stroke-width="10.0" stroke-opacity="0.75"/><path d="M481.4 148.9C483.4 151.3 490.2 157.7 493.4 163.3C496.6 168.9 499.4 179.3 500.6 182.5" stroke="#10d0ff" stroke-width="10.0" stroke-opacity="0.75"/><path d="M548.7 225.8C551.5 227.4 559.9 231.4 565.5 235.4C571.1 239.4 579.5 247.4 582.3 249.8" stroke="#10d0ff" stroke-width="10.0" stroke-opacity="0.75"/><path d="M592.0 259.4C595.6 261.9 606.0 269.1 613.6 273.9C621.2 278.7 633.6 285.9 637.6 288.3" stroke="#10d0ff" stroke-width="10.0" stroke-opacity="0.75"/><path d="M625.6 307.5C629.6 309.9 643.6 317.9 649.7 321.9C655.7 326.0 659.7 330.0 661.7 331.6" stroke="#10d0ff" stroke-width="10.0" stroke-opacity="0.75"/><path d="M505.4 271.5C509.4 273.5 523.1 279.1 529.5 283.5C535.9 287.9 541.5 295.5 543.9 297.9" stroke="#10d0ff" stroke-width="10.0" stroke-opacity="0.75"/><path d="M620.8 548.9C623.2 551.3 630.4 558.5 635.2 563.3C640.0 568.1 647.3 575.3 649.7 577.7" stroke="#ff3000" stroke-width="10.0" stroke-opacity="0.95"/><path d="M654.5 575.3C659.7 575.3 674.5 575.7 685.7 575.3C696.9 574.9 715.8 573.3 721.8 572.9" stroke="#ff3000" stroke-width="10.0" stroke-opacity="0.95"/><path d="M469.4 366.2C472.2 368.6 480.2 377.4 486.2 380.6C492.2 383.8 502.2 384.6 505.4 385.4" stroke="#10d0ff" stroke-width="10.0" stroke-opacity="0.75"/><path d="M697.7 373.4C701.7 377.4 713.8 391.4 721.8 397.4C729.8 403.4 741.8 407.4 745.8 409.4" stroke="#10d0ff" stroke-width="10.0" stroke-opacity="0.75"/><path d="M495.8 588.5L495.8 594.5" stroke="#10d0ff" stroke-width="10.0" stroke-opacity="0.75"/><path d="M536.7 588.5L536.7 594.5" stroke="#10d0ff" stroke-width="10.0" stroke-opacity="0.75"/><path d="M635.2 439.5L649.7 441.9" stroke="#ff2000" stroke-width="9.8" stroke-opacity="0.95"/><path d="M470.6 419.1L481.4 416.7" stroke="#f0ff20" stroke-width="9.8" stroke-opacity="0.85"/><path d="M481.4 505.6L515.0 498.4" stroke="#f0ff20" stroke-width="9.8" stroke-opacity="0.85"/><path d="M494.6 582.5L495.8 589.7" stroke="#f0ff20" stroke-width="9.8" stroke-opacity="0.85"/><path d="M640.0 321.9L647.3 324.4" stroke="#20e0ff" stroke-width="9.6" stroke-opacity="0.70"/><path d="M479.0 351.8L483.8 356.6" stroke="#20e0ff" stroke-width="9.6" stroke-opacity="0.70"/><path d="M469.4 216.2C473.4 215.0 485.4 211.4 493.4 209.0C501.4 206.6 511.4 203.4 517.4 201.8C523.5 200.2 527.5 199.8 529.5 199.4" stroke="#ffe000" stroke-width="9.5" stroke-opacity="0.85"/><path d="M529.5 399.8L558.3 407.0" stroke="#a0ff50" stroke-width="9.0" stroke-opacity="0.85"/><path d="M469.4 136.9C472.2 135.9 480.6 132.4 486.2 130.8C491.8 129.2 500.2 127.8 503.0 127.2" stroke="#ffe000" stroke-width="8.5" stroke-opacity="0.85"/><path d="M501.8 302.7L504.2 319.5" stroke="#f0ff20" stroke-width="8.1" stroke-opacity="0.85"/><path d="M519.8 467.1C523.9 468.7 537.1 472.8 543.9 476.8C550.7 480.8 557.9 488.8 560.7 491.2" stroke="#f0ff20" stroke-width="8.1" stroke-opacity="0.85"/><path d="M527.1 118.8C531.5 119.8 544.3 122.2 553.5 124.8C562.7 127.4 572.7 130.4 582.3 134.4C592.0 138.5 606.4 146.5 611.2 148.9" stroke="#900000" stroke-width="8.0" stroke-opacity="1.00"/><path d="M673.7 259.4C675.7 261.1 682.5 265.9 685.7 269.1C688.9 272.3 691.7 277.1 692.9 278.7" stroke="#ffd000" stroke-width="8.0" stroke-opacity="0.90"/><path d="M486.2 500.8L488.6 524.8" stroke="#ff3000" stroke-width="8.0" stroke-opacity="0.95"/><path d="M601.6 471.9C603.6 474.4 611.2 483.2 613.6 486.4C616.0 489.6 615.6 490.4 616.0 491.2" stroke="#ff3000" stroke-width="8.0" stroke-opacity="0.95"/><path d="M612.4 584.9L616.0 592.1" stroke="#ff3000" stroke-width="8.0" stroke-opacity="0.95"/><path d="M653.3 584.9L656.9 592.1" stroke="#ff3000" stroke-width="8.0" stroke-opacity="0.95"/><path d="M697.7 493.6C699.7 497.6 705.7 509.6 709.8 517.6C713.8 525.6 719.8 537.7 721.8 541.7" stroke="#10d0ff" stroke-width="8.0" stroke-opacity="0.75"/><path d="M483.8 541.7C485.8 545.7 492.2 559.7 495.8 565.7C499.4 571.7 503.8 575.7 505.4 577.7" stroke="#10d0ff" stroke-width="8.0" stroke-opacity="0.75"/><path d="M469.4 216.2C473.4 215.0 485.4 211.4 493.4 209.0C501.4 206.6 511.4 203.4 517.4 201.8C523.5 200.2 527.5 199.8 529.5 199.4" stroke="#ff2000" stroke-width="7.0" stroke-opacity="0.95"/><path d="M505.4 409.4C513.4 410.7 539.5 415.1 553.5 416.7C567.5 418.3 579.5 417.1 589.6 419.1C599.6 421.1 605.6 425.1 613.6 428.7C621.6 432.3 629.6 438.3 637.6 440.7C645.7 443.1 657.7 442.7 661.7 443.1" stroke="#ff3000" stroke-width="7.0" stroke-opacity="0.95"/><path d="M635.2 439.5L649.7 441.9" stroke="#900000" stroke-width="7.0" stroke-opacity="1.00"/><path d="M685.7 431.1C689.7 430.3 699.7 427.1 709.8 426.3C719.8 425.5 739.8 426.3 745.8 426.3" stroke="#ff3000" stroke-width="7.0" stroke-opacity="0.95"/><path d="M611.2 520.0L620.8 544.1" stroke="#ffd000" stroke-width="7.0" stroke-opacity="0.90"/><path d="M469.4 136.9C472.2 135.9 480.6 132.4 486.2 130.8C491.8 129.2 500.2 127.8 503.0 127.2" stroke="#ff2000" stroke-width="6.3" stroke-opacity="0.95"/><path d="M470.6 419.1L481.4 416.7" stroke="#ff3000" stroke-width="6.0" stroke-opacity="0.95"/><path d="M481.4 505.6L515.0 498.4" stroke="#ff3000" stroke-width="6.0" stroke-opacity="0.95"/><path d="M494.6 582.5L495.8 589.7" stroke="#ff3000" stroke-width="6.0" stroke-opacity="0.95"/><path d="M620.8 548.9C623.2 551.3 630.4 558.5 635.2 563.3C640.0 568.1 647.3 575.3 649.7 577.7" stroke="#b00000" stroke-width="5.6" stroke-opacity="1.00"/><path d="M654.5 575.3C659.7 575.3 674.5 575.7 685.7 575.3C696.9 574.9 715.8 573.3 721.8 572.9" stroke="#b00000" stroke-width="5.6" stroke-opacity="1.00"/><path d="M640.0 321.9L647.3 324.4" stroke="#a0ff50" stroke-width="5.4" stroke-opacity="0.85"/><path d="M479.0 351.8L483.8 356.6" stroke="#a0ff50" stroke-width="5.4" stroke-opacity="0.85"/><path d="M469.4 216.2C473.4 215.0 485.4 211.4 493.4 209.0C501.4 206.6 511.4 203.4 517.4 201.8C523.5 200.2 527.5 199.8 529.5 199.4" stroke="#900000" stroke-width="5.0" stroke-opacity="1.00"/><path d="M501.8 302.7L504.2 319.5" stroke="#ff3000" stroke-width="5.0" stroke-opacity="0.95"/><path d="M529.5 399.8L558.3 407.0" stroke="#ffd000" stroke-width="5.0" stroke-opacity="0.90"/><path d="M519.8 467.1C523.9 468.7 537.1 472.8 543.9 476.8C550.7 480.8 557.9 488.8 560.7 491.2" stroke="#ff3000" stroke-width="5.0" stroke-opacity="0.95"/><path d="M469.4 136.9C472.2 135.9 480.6 132.4 486.2 130.8C491.8 129.2 500.2 127.8 503.0 127.2" stroke="#900000" stroke-width="4.5" stroke-opacity="1.00"/><path d="M486.2 500.8L488.6 524.8" stroke="#b00000" stroke-width="4.5" stroke-opacity="1.00"/><path d="M601.6 471.9C603.6 474.4 611.2 483.2 613.6 486.4C616.0 489.6 615.6 490.4 616.0 491.2" stroke="#b00000" stroke-width="4.5" stroke-opacity="1.00"/><path d="M612.4 584.9L616.0 592.1" stroke="#b00000" stroke-width="4.5" stroke-opacity="1.00"/><path d="M653.3 584.9L656.9 592.1" stroke="#b00000" stroke-width="4.5" stroke-opacity="1.00"/><path d="M505.4 409.4C513.4 410.7 539.5 415.1 553.5 416.7C567.5 418.3 579.5 417.1 589.6 419.1C599.6 421.1 605.6 425.1 613.6 428.7C621.6 432.3 629.6 438.3 637.6 440.7C645.7 443.1 657.7 442.7 661.7 443.1" stroke="#b00000" stroke-width="3.9" stroke-opacity="1.00"/><path d="M685.7 431.1C689.7 430.3 699.7 427.1 709.8 426.3C719.8 425.5 739.8 426.3 745.8 426.3" stroke="#b00000" stroke-width="3.9" stroke-opacity="1.00"/><path d="M470.6 419.1L481.4 416.7" stroke="#b00000" stroke-width="3.4" stroke-opacity="1.00"/><path d="M481.4 505.6L515.0 498.4" stroke="#b00000" stroke-width="3.4" stroke-opacity="1.00"/><path d="M494.6 582.5L495.8 589.7" stroke="#b00000" stroke-width="3.4" stroke-opacity="1.00"/><path d="M640.0 321.9L647.3 324.4" stroke="#ffd000" stroke-width="3.0" stroke-opacity="0.90"/><path d="M479.0 351.8L483.8 356.6" stroke="#ffd000" stroke-width="3.0" stroke-opacity="0.90"/><path d="M501.8 302.7L504.2 319.5" stroke="#b00000" stroke-width="2.8" stroke-opacity="1.00"/><path d="M519.8 467.1C523.9 468.7 537.1 472.8 543.9 476.8C550.7 480.8 557.9 488.8 560.7 491.2" stroke="#b00000" stroke-width="2.8" stroke-opacity="1.00"/></g></g></g></g><defs><linearGradient id="cbA" x1="0" y1="0" x2="0" y2="1"><stop offset="0.000" stop-color="#800000"/><stop offset="0.025" stop-color="#9c0000"/><stop offset="0.050" stop-color="#b90000"/><stop offset="0.075" stop-color="#d60000"/><stop offset="0.100" stop-color="#f30900"/><stop offset="0.125" stop-color="#ff2100"/><stop offset="0.150" stop-color="#ff3900"/><stop offset="0.175" stop-color="#ff5000"/><stop offset="0.200" stop-color="#ff6800"/><stop offset="0.225" stop-color="#ff8000"/><stop offset="0.250" stop-color="#ff9700"/><stop offset="0.275" stop-color="#ffaf00"/><stop offset="0.300" stop-color="#ffc600"/><stop offset="0.325" stop-color="#ffde00"/><stop offset="0.350" stop-color="#f7f600"/><stop offset="0.375" stop-color="#e2ff15"/><stop offset="0.400" stop-color="#ceff29"/><stop offset="0.425" stop-color="#b9ff3e"/><stop offset="0.450" stop-color="#a5ff52"/><stop offset="0.475" stop-color="#90ff67"/><stop offset="0.500" stop-color="#7bff7b"/><stop offset="0.525" stop-color="#67ff90"/><stop offset="0.550" stop-color="#52ffa5"/><stop offset="0.575" stop-color="#3effb9"/><stop offset="0.600" stop-color="#29ffce"/><stop offset="0.625" stop-color="#15ffe2"/><stop offset="0.650" stop-color="#00e5f7"/><stop offset="0.675" stop-color="#00ccff"/><stop offset="0.700" stop-color="#00b3ff"/><stop offset="0.725" stop-color="#0099ff"/><stop offset="0.750" stop-color="#0080ff"/><stop offset="0.775" stop-color="#0066ff"/><stop offset="0.800" stop-color="#004cff"/><stop offset="0.825" stop-color="#0033ff"/><stop offset="0.850" stop-color="#001aff"/><stop offset="0.875" stop-color="#0000ff"/><stop offset="0.900" stop-color="#0000f3"/><stop offset="0.925" stop-color="#0000d6"/><stop offset="0.950" stop-color="#0000b9"/><stop offset="0.975" stop-color="#00009c"/><stop offset="1.000" stop-color="#000080"/></linearGradient></defs><rect x="358.4" y="172.0" width="11" height="413.0" fill="url(#cbA)" stroke="#333" stroke-width="0.6" stroke-opacity="0.5"/><defs><linearGradient id="cbB" x1="0" y1="0" x2="0" y2="1"><stop offset="0.000" stop-color="#800000"/><stop offset="0.025" stop-color="#9c0000"/><stop offset="0.050" stop-color="#b90000"/><stop offset="0.075" stop-color="#d60000"/><stop offset="0.100" stop-color="#f30900"/><stop offset="0.125" stop-color="#ff2100"/><stop offset="0.150" stop-color="#ff3900"/><stop offset="0.175" stop-color="#ff5000"/><stop offset="0.200" stop-color="#ff6800"/><stop offset="0.225" stop-color="#ff8000"/><stop offset="0.250" stop-color="#ff9700"/><stop offset="0.275" stop-color="#ffaf00"/><stop offset="0.300" stop-color="#ffc600"/><stop offset="0.325" stop-color="#ffde00"/><stop offset="0.350" stop-color="#f7f600"/><stop offset="0.375" stop-color="#e2ff15"/><stop offset="0.400" stop-color="#ceff29"/><stop offset="0.425" stop-color="#b9ff3e"/><stop offset="0.450" stop-color="#a5ff52"/><stop offset="0.475" stop-color="#90ff67"/><stop offset="0.500" stop-color="#7bff7b"/><stop offset="0.525" stop-color="#67ff90"/><stop offset="0.550" stop-color="#52ffa5"/><stop offset="0.575" stop-color="#3effb9"/><stop offset="0.600" stop-color="#29ffce"/><stop offset="0.625" stop-color="#15ffe2"/><stop offset="0.650" stop-color="#00e5f7"/><stop offset="0.675" stop-color="#00ccff"/><stop offset="0.700" stop-color="#00b3ff"/><stop offset="0.725" stop-color="#0099ff"/><stop offset="0.750" stop-color="#0080ff"/><stop offset="0.775" stop-color="#0066ff"/><stop offset="0.800" stop-color="#004cff"/><stop offset="0.825" stop-color="#0033ff"/><stop offset="0.850" stop-color="#001aff"/><stop offset="0.875" stop-color="#0000ff"/><stop offset="0.900" stop-color="#0000f3"/><stop offset="0.925" stop-color="#0000d6"/><stop offset="0.950" stop-color="#0000b9"/><stop offset="0.975" stop-color="#00009c"/><stop offset="1.000" stop-color="#000080"/></linearGradient></defs><rect x="767.2" y="169.9" width="11" height="412.9" fill="url(#cbB)" stroke="#333" stroke-width="0.6" stroke-opacity="0.5"/><defs><linearGradient id="cbC" x1="0" y1="0" x2="0" y2="1"><stop offset="0.000" stop-color="#800000"/><stop offset="0.025" stop-color="#9c0000"/><stop offset="0.050" stop-color="#b90000"/><stop offset="0.075" stop-color="#d60000"/><stop offset="0.100" stop-color="#f30900"/><stop offset="0.125" stop-color="#ff2100"/><stop offset="0.150" stop-color="#ff3900"/><stop offset="0.175" stop-color="#ff5000"/><stop offset="0.200" stop-color="#ff6800"/><stop offset="0.225" stop-color="#ff8000"/><stop offset="0.250" stop-color="#ff9700"/><stop offset="0.275" stop-color="#ffaf00"/><stop offset="0.300" stop-color="#ffc600"/><stop offset="0.325" stop-color="#ffde00"/><stop offset="0.350" stop-color="#f7f600"/><stop offset="0.375" stop-color="#e2ff15"/><stop offset="0.400" stop-color="#ceff29"/><stop offset="0.425" stop-color="#b9ff3e"/><stop offset="0.450" stop-color="#a5ff52"/><stop offset="0.475" stop-color="#90ff67"/><stop offset="0.500" stop-color="#7bff7b"/><stop offset="0.525" stop-color="#67ff90"/><stop offset="0.550" stop-color="#52ffa5"/><stop offset="0.575" stop-color="#3effb9"/><stop offset="0.600" stop-color="#29ffce"/><stop offset="0.625" stop-color="#15ffe2"/><stop offset="0.650" stop-color="#00e5f7"/><stop offset="0.675" stop-color="#00ccff"/><stop offset="0.700" stop-color="#00b3ff"/><stop offset="0.725" stop-color="#0099ff"/><stop offset="0.750" stop-color="#0080ff"/><stop offset="0.775" stop-color="#0066ff"/><stop offset="0.800" stop-color="#004cff"/><stop offset="0.825" stop-color="#0033ff"/><stop offset="0.850" stop-color="#001aff"/><stop offset="0.875" stop-color="#0000ff"/><stop offset="0.900" stop-color="#0000f3"/><stop offset="0.925" stop-color="#0000d6"/><stop offset="0.950" stop-color="#0000b9"/><stop offset="0.975" stop-color="#00009c"/><stop offset="1.000" stop-color="#000080"/></linearGradient></defs><rect x="1189.5" y="122.3" width="11" height="492.7" fill="url(#cbC)" stroke="#333" stroke-width="0.6" stroke-opacity="0.5"/><defs><linearGradient id="cbD" x1="0" y1="0" x2="0" y2="1"><stop offset="0.000" stop-color="#800000"/><stop offset="0.025" stop-color="#9c0000"/><stop offset="0.050" stop-color="#b90000"/><stop offset="0.075" stop-color="#d60000"/><stop offset="0.100" stop-color="#f30900"/><stop offset="0.125" stop-color="#ff2100"/><stop offset="0.150" stop-color="#ff3900"/><stop offset="0.175" stop-color="#ff5000"/><stop offset="0.200" stop-color="#ff6800"/><stop offset="0.225" stop-color="#ff8000"/><stop offset="0.250" stop-color="#ff9700"/><stop offset="0.275" stop-color="#ffaf00"/><stop offset="0.300" stop-color="#ffc600"/><stop offset="0.325" stop-color="#ffde00"/><stop offset="0.350" stop-color="#f7f600"/><stop offset="0.375" stop-color="#e2ff15"/><stop offset="0.400" stop-color="#ceff29"/><stop offset="0.425" stop-color="#b9ff3e"/><stop offset="0.450" stop-color="#a5ff52"/><stop offset="0.475" stop-color="#90ff67"/><stop offset="0.500" stop-color="#7bff7b"/><stop offset="0.525" stop-color="#67ff90"/><stop offset="0.550" stop-color="#52ffa5"/><stop offset="0.575" stop-color="#3effb9"/><stop offset="0.600" stop-color="#29ffce"/><stop offset="0.625" stop-color="#15ffe2"/><stop offset="0.650" stop-color="#00e5f7"/><stop offset="0.675" stop-color="#00ccff"/><stop offset="0.700" stop-color="#00b3ff"/><stop offset="0.725" stop-color="#0099ff"/><stop offset="0.750" stop-color="#0080ff"/><stop offset="0.775" stop-color="#0066ff"/><stop offset="0.800" stop-color="#004cff"/><stop offset="0.825" stop-color="#0033ff"/><stop offset="0.850" stop-color="#001aff"/><stop offset="0.875" stop-color="#0000ff"/><stop offset="0.900" stop-color="#0000f3"/><stop offset="0.925" stop-color="#0000d6"/><stop offset="0.950" stop-color="#0000b9"/><stop offset="0.975" stop-color="#00009c"/><stop offset="1.000" stop-color="#000080"/></linearGradient></defs><rect x="357.2" y="711.0" width="11" height="412.5" fill="url(#cbD)" stroke="#333" stroke-width="0.6" stroke-opacity="0.5"/><defs><linearGradient id="cbE" x1="0" y1="0" x2="0" y2="1"><stop offset="0.000" stop-color="#800000"/><stop offset="0.025" stop-color="#9c0000"/><stop offset="0.050" stop-color="#b90000"/><stop offset="0.075" stop-color="#d60000"/><stop offset="0.100" stop-color="#f30900"/><stop offset="0.125" stop-color="#ff2100"/><stop offset="0.150" stop-color="#ff3900"/><stop offset="0.175" stop-color="#ff5000"/><stop offset="0.200" stop-color="#ff6800"/><stop offset="0.225" stop-color="#ff8000"/><stop offset="0.250" stop-color="#ff9700"/><stop offset="0.275" stop-color="#ffaf00"/><stop offset="0.300" stop-color="#ffc600"/><stop offset="0.325" stop-color="#ffde00"/><stop offset="0.350" stop-color="#f7f600"/><stop offset="0.375" stop-color="#e2ff15"/><stop offset="0.400" stop-color="#ceff29"/><stop offset="0.425" stop-color="#b9ff3e"/><stop offset="0.450" stop-color="#a5ff52"/><stop offset="0.475" stop-color="#90ff67"/><stop offset="0.500" stop-color="#7bff7b"/><stop offset="0.525" stop-color="#67ff90"/><stop offset="0.550" stop-color="#52ffa5"/><stop offset="0.575" stop-color="#3effb9"/><stop offset="0.600" stop-color="#29ffce"/><stop offset="0.625" stop-color="#15ffe2"/><stop offset="0.650" stop-color="#00e5f7"/><stop offset="0.675" stop-color="#00ccff"/><stop offset="0.700" stop-color="#00b3ff"/><stop offset="0.725" stop-color="#0099ff"/><stop offset="0.750" stop-color="#0080ff"/><stop offset="0.775" stop-color="#0066ff"/><stop offset="0.800" stop-color="#004cff"/><stop offset="0.825" stop-color="#0033ff"/><stop offset="0.850" stop-color="#001aff"/><stop offset="0.875" stop-color="#0000ff"/><stop offset="0.900" stop-color="#0000f3"/><stop offset="0.925" stop-color="#0000d6"/><stop offset="0.950" stop-color="#0000b9"/><stop offset="0.975" stop-color="#00009c"/><stop offset="1.000" stop-color="#000080"/></linearGradient></defs><rect x="767.2" y="726.3" width="11" height="412.5" fill="url(#cbE)" stroke="#333" stroke-width="0.6" stroke-opacity="0.5"/><defs><linearGradient id="cbF" x1="0" y1="0" x2="0" y2="1"><stop offset="0.000" stop-color="#800000"/><stop offset="0.025" stop-color="#9c0000"/><stop offset="0.050" stop-color="#b90000"/><stop offset="0.075" stop-color="#d60000"/><stop offset="0.100" stop-color="#f30900"/><stop offset="0.125" stop-color="#ff2100"/><stop offset="0.150" stop-color="#ff3900"/><stop offset="0.175" stop-color="#ff5000"/><stop offset="0.200" stop-color="#ff6800"/><stop offset="0.225" stop-color="#ff8000"/><stop offset="0.250" stop-color="#ff9700"/><stop offset="0.275" stop-color="#ffaf00"/><stop offset="0.300" stop-color="#ffc600"/><stop offset="0.325" stop-color="#ffde00"/><stop offset="0.350" stop-color="#f7f600"/><stop offset="0.375" stop-color="#e2ff15"/><stop offset="0.400" stop-color="#ceff29"/><stop offset="0.425" stop-color="#b9ff3e"/><stop offset="0.450" stop-color="#a5ff52"/><stop offset="0.475" stop-color="#90ff67"/><stop offset="0.500" stop-color="#7bff7b"/><stop offset="0.525" stop-color="#67ff90"/><stop offset="0.550" stop-color="#52ffa5"/><stop offset="0.575" stop-color="#3effb9"/><stop offset="0.600" stop-color="#29ffce"/><stop offset="0.625" stop-color="#15ffe2"/><stop offset="0.650" stop-color="#00e5f7"/><stop offset="0.675" stop-color="#00ccff"/><stop offset="0.700" stop-color="#00b3ff"/><stop offset="0.725" stop-color="#0099ff"/><stop offset="0.750" stop-color="#0080ff"/><stop offset="0.775" stop-color="#0066ff"/><stop offset="0.800" stop-color="#004cff"/><stop offset="0.825" stop-color="#0033ff"/><stop offset="0.850" stop-color="#001aff"/><stop offset="0.875" stop-color="#0000ff"/><stop offset="0.900" stop-color="#0000f3"/><stop offset="0.925" stop-color="#0000d6"/><stop offset="0.950" stop-color="#0000b9"/><stop offset="0.975" stop-color="#00009c"/><stop offset="1.000" stop-color="#000080"/></linearGradient></defs><rect x="1189.5" y="689.0" width="11" height="492.0" fill="url(#cbF)" stroke="#333" stroke-width="0.6" stroke-opacity="0.5"/><polygon points="361.0,109.4 372.0,129.3 350.0,129.3" fill="#000"/><polygon points="350.0,603.9 371.8,603.9 360.9,623.7" fill="#000"/><polygon points="769.4,108.6 780.1,128.0 758.6,128.0" fill="#000"/><polygon points="759.3,602.5 779.0,602.5 769.1,621.0" fill="#000"/><polygon points="359.4,648.6 370.1,668.0 348.6,668.0" fill="#000"/><polygon points="349.3,1142.0 370.1,1142.0 359.7,1161.8" fill="#000"/><polygon points="769.4,664.0 780.1,684.4 758.6,684.4" fill="#000"/><polygon points="758.9,1157.9 779.8,1157.9 769.3,1177.8" fill="#000"/><g font-family="DejaVu Sans, sans-serif" fill="#1a1a1a" stroke="#1a1a1a" stroke-width="0.2"><text x="380.3" y="131.0" font-size="23">0.961</text><text x="381.2" y="621.5" font-size="23">-0.022</text><text x="373.4" y="244.4" font-size="23">0.8</text><text x="373.4" y="309.0" font-size="23">0.6</text><text x="373.4" y="372.4" font-size="23">0.4</text><text x="373.4" y="435.4" font-size="23">0.2</text><text x="373.4" y="498.9" font-size="23">0</text><text x="373.4" y="562.4" font-size="23">-0.2</text><text x="788.4" y="129.0" font-size="23">0.204</text><text x="788.0" y="618.5" font-size="23">-0.385</text><text x="780.9" y="210.0" font-size="23">0.2</text><text x="780.9" y="269.2" font-size="23">0.1</text><text x="780.9" y="327.2" font-size="23">0</text><text x="780.9" y="387.4" font-size="23">-0.1</text><text x="780.9" y="445.3" font-size="23">-0.2</text><text x="780.9" y="504.3" font-size="23">-0.3</text><text x="780.9" y="563.4" font-size="23">-0.4</text><text x="1204.3" y="132.9" font-size="23">30</text><text x="1204.3" y="214.0" font-size="23">25</text><text x="1204.3" y="295.7" font-size="23">20</text><text x="1204.3" y="378.4" font-size="23">15</text><text x="1204.3" y="459.9" font-size="23">10</text><text x="1204.3" y="542.4" font-size="23">5</text><text x="378.4" y="669.0" font-size="23">0.472</text><text x="379.1" y="1160.5" font-size="23">-0.276</text><text x="371.9" y="782.8" font-size="23">0.8</text><text x="371.9" y="847.3" font-size="23">0.6</text><text x="371.9" y="911.4" font-size="23">0.4</text><text x="371.9" y="975.6" font-size="23">0.2</text><text x="371.9" y="1038.1" font-size="23">0</text><text x="371.9" y="1103.0" font-size="23">-0.2</text><text x="788.4" y="684.4" font-size="23">0.286</text><text x="788.3" y="1176.3" font-size="23">-0.438</text><text x="780.9" y="765.9" font-size="23">0.2</text><text x="780.9" y="825.1" font-size="23">0.1</text><text x="780.9" y="883.1" font-size="23">0</text><text x="780.9" y="941.7" font-size="23">-0.1</text><text x="780.9" y="1000.3" font-size="23">-0.2</text><text x="780.9" y="1058.9" font-size="23">-0.3</text><text x="780.9" y="1118.7" font-size="23">-0.4</text><text x="1204.3" y="698.5" font-size="23">30</text><text x="1204.3" y="780.5" font-size="23">25</text><text x="1204.3" y="862.5" font-size="23">20</text><text x="1204.3" y="944.5" font-size="23">15</text><text x="1204.3" y="1026.5" font-size="23">10</text><text x="1204.3" y="1108.5" font-size="23">5</text></g></svg>
<div class="l" style="left:48px;top:4px;width:1230px;height:4px"></div>
<div class="l" style="left:48px;top:1203px;width:1230px;height:4px"></div>
<div class="l" style="left:48px;top:4px;width:5px;height:1203px"></div>
<div class="l" style="left:1273px;top:4px;width:5px;height:1203px"></div>
<div class="l" style="left:48px;top:81px;width:1230px;height:3px;background:#1a1a1a"></div>
<div class="l" style="left:48px;top:642px;width:1230px;height:3px;background:#0a0a0a"></div>
<div class="l" style="left:457px;top:4px;width:4px;height:1203px"></div>
<div class="l" style="left:864px;top:4px;width:5px;height:1203px"></div>
<div class="l" style="left:48px;top:1207px;width:1230px;height:2px;background:#a8a8a8"></div>
<div class="h" style="left:162.5px;top:25px">z-strain / %</div>
<div class="h" style="left:562.5px;top:25px">x-strain / %</div>
<div class="h" style="left:947.5px;top:25px">stress / MPa</div>
<div class="r" style="left:3px;top:443px">free condition</div>
<div class="r" style="left:3px;top:1054px">fixed condition</div>
</div>
</body></html>
